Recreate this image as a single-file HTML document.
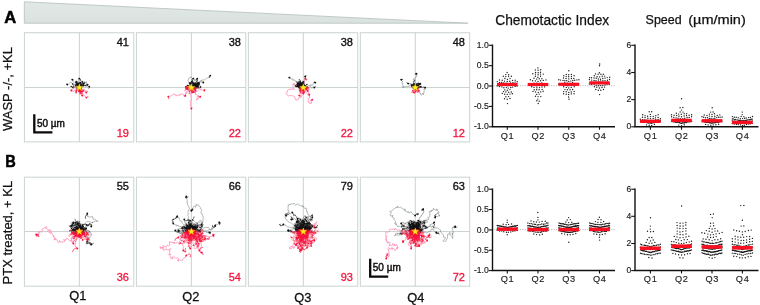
<!DOCTYPE html>
<html lang="en"><head><meta charset="utf-8"><title>Figure</title><style>html,body{margin:0;padding:0;background:#fff}svg{display:block}</style></head><body>
<svg width="760" height="305" viewBox="0 0 760 305" font-family="'Liberation Sans', Arial, sans-serif">
<rect width="760" height="305" fill="#fff"/>
<defs><linearGradient id="wg" x1="0" y1="0" x2="0" y2="1"><stop offset="0" stop-color="#e1e8e5"/><stop offset="1" stop-color="#dae2df"/></linearGradient></defs>
<polygon points="24.3,1.8 24.3,23.2 468,23.2" fill="url(#wg)" stroke="#b4bfbb" stroke-width="0.8" stroke-linejoin="round"/>
<text transform="translate(4.3,23.3) scale(1.0,1)" font-size="16.6" font-weight="bold" fill="#000" stroke="#000" stroke-width="0.55" stroke-linejoin="round">A</text>
<text transform="translate(5.2,167.4) scale(0.88,1)" font-size="16.6" font-weight="bold" fill="#000" stroke="#000" stroke-width="0.5" stroke-linejoin="round">B</text>
<text transform="translate(12.4,131) rotate(-90)" font-size="13" fill="#111" stroke="#111" stroke-width="0.25" textLength="84" lengthAdjust="spacingAndGlyphs">WASP -/-, +KL</text>
<text transform="translate(12.4,284.4) rotate(-90)" font-size="13" fill="#111" stroke="#111" stroke-width="0.25" textLength="103.5" lengthAdjust="spacingAndGlyphs">PTX treated, + KL</text>
<rect x="24.45" y="32.7" width="109.3" height="109.2" fill="#fff" stroke="#cfd8d5" stroke-width="1.1"/>
<path d="M79.35,32.7 V141.9 M24.45,87.55 H133.75" stroke="#c3cdc9" stroke-width="0.9" fill="none"/>
<g><path d="M79.2 87.8l-1-1-1.3-0.6 0-0.2-1-0.7-1.4-0.7-1.8 0 0.3-0.6-1.9-1.5-0.4 0.2-0.2-0.2-0.5 0.1-0.7 0.9-1.1 1.1 0 0.1-0.9-0.1M80.1 87.3l0.5-1.2 0.1-0.3-0.3-1.2 2-2.1-0.2 0 0.5 0.1 1.2-1.2 1.3 0.9 0.8 0.2 0.5-0.9-0.6 0.9 0.5 0-0.1 0.4 0.6 1.7 0.4 0M79.5 87.2l-0.9-0.4 0.9-1.6-0.6-1 0.4-1.1-0.7-1.3-0.8-0.2 1.4-1-1.2-1.2 1.6-1.2-0.3 0.4M79.6 87.6l1.3-0.8 0.2 0.5 1.3-1.4 1.4 0.8 0.3-1.8 1.2 0.8 0.9 1 0.6 0.1 0.9-0.8 1.6 0.6M79.3 87.7l-0.9-1.3-1.1-1-0.5-1.3-2.5-1.5-1-0.6-0.3-0.7 0.9-1.8-1.7 1 0.5-0.4-0.4-0.5" fill="none" stroke="#7d8683" stroke-width="0.55" stroke-linejoin="round" stroke-linecap="round"/><path d="M67.3 84.6l-0.3 0.1-0.2-0.3 0-0.7M87.3 84.6l1-0.1-0.5 0.8-1.2 0.2M79.3 78.6l1 0.5 0.4 1.2-0.1 0.5M89.3 86.6l0 0.8-0.2 0.5-0.3 0.3M72.3 79.6l-0.1 0.4 0-0.3 0.4 0" fill="none" stroke="#111" stroke-width="0.7" stroke-linejoin="round" stroke-linecap="round"/><path d="M67.3 84.6h0M87.3 84.6h0M79.3 78.6h0M89.3 86.6h0M72.3 79.6h0" fill="none" stroke="#111" stroke-width="1.8" stroke-linecap="round"/><path d="M79.2 87.4l0.5-0.4 0.2 2.7 0.1 0.2 1.4 1.3 0.7-0.5-0.5 1.3 0.9 1.3-1.3 0.6 1 0.4 0.4 0.3 1.9 0.5 0.1 1 0.6 0.2 1.3 1.2-0.2 0.1M79.5 87.9l-1.7-0.5 0.3 0.9-1.7 0.3 0.4 1.7-0.7-0.2-1.5-0.1-0.5 1.3-1.6 0 0.1-0.8-1.3 0.1M80.2 88.1l0.1 1.2-0.6-0.1 0.8 1.4-0.3 1.7 0-0.9 0.4 0.8 1 1.7-0.4 0.4 1.2 0.7-0.1 0.6M78.4 87l1 1.7 1.3 0 1.6 0.6 0.8 0.8 2.1 0.5-0.2 0.9 0.1-0.8 0.2 1.6-0.2-0.4 1.2 0.7" fill="none" stroke="#ff8fba" stroke-width="0.8" stroke-linejoin="round" stroke-linecap="round"/><path d="M86.3 97.6l0.9-1 0.4 0.3 0.5 0M71.3 90.6l0.1-0.5-0.3-0.3 1-0.4M82.3 95.6l-0.6-0.4 0.6-0.2-0.3 0.6M86.3 92.6l0.6-0.3 0.7-0.7-1-0.4" fill="none" stroke="#f5143c" stroke-width="0.7" stroke-linejoin="round" stroke-linecap="round"/><path d="M86.3 97.6h0M71.3 90.6h0M82.3 95.6h0M86.3 92.6h0" fill="none" stroke="#f5143c" stroke-width="1.8" stroke-linecap="round"/><path d="M79.3 87.6l-2.2-1.3-0.8 1.8-1.7-0.1-1-1.7M79.3 87.6l-1.6-0.8-1.3-0.3-2.9 0.1-2.3-0.2M79.3 87.6l-1.8-0.4 2.8-1.9-1.8 1.5-1.1-1.9-0.4-1.2M79.3 87.6l1-0.6 0.8-0.9 1.7-0.2-0.2 1.2 0.9-1.8M79.3 87.6l0.8-1.9 0.7 1.6-1.1 0.5 0.9-1.3M79.3 87.6l0.7 0.9 0-1.1 0.6 0 0.8-0.3M79.3 87.6l0.5-1.4-1 0.1 2.4-0.7 2.4-2.4-1-0.2M79.3 87.6l-0.8-0.1-0.6-1.1-1-2M79.3 87.6l-1-0.2-0.2-1.4 0.1-0.4 0.4-1.4-2.6 1.5-0.1-3.1M79.3 87.6l-0.2-0.2-2.2-2.2 0.3-0.6 0.7-1.5-1.1-1.2-0.7-0.4M79.3 87.6l0.4-0.9-0.3-0.7 0.7-0.5 0.1 0.6-1.5-2M79.3 87.6l1.5-0.7-1-0.1-0.1-3.1 1.3 0.2M79.3 87.6l1.6-0.2 0-2.1 0.3-0.3 2.6-1.7M79.3 87.6l-1.5-2.3-3.3-0.2 0.4-0.2-2.2-1M79.3 87.6l0.5-2.4 2 1.2 1.7-2.3M79.3 87.6l2.5-2.7 0.5 2 1.7-2.7 0.5-1.1M79.3 87.6l-0.6-1.7 0.1 0.5-0.5-1 0.7-1.1-1.2-0.6M79.3 87.6l-1.5 0.8-1 0-3.4-1.5 0.8 1-1.5-0.5M79.3 87.6l2.3-2.2 0 1.1 0.7 0.5 1.2-1.1 1.7-0.5M79.3 87.6l0.7-0.8 0.8-0.5 0.4 0.5-0.5 0.4 0.6-1.8M79.3 87.6l1.6-2.1 0.6-0.8 0.7-3.3M79.3 87.6l1.4 1-0.5-1.6 0.1 0.6 0.7-3.3 1.6 0.7" fill="none" stroke="#7d8683" stroke-width="0.4" stroke-linejoin="round" stroke-linecap="round"/><path d="M73.6 86.3h0M71.2 86.4h0M77 83.7h0M83.5 85.3h0M80.6 86.5h0M81.4 87.1h0M82.6 83h0M76.9 84.4h0M75.9 82.6h0M76.1 81.5h0M78.7 84.1h0M81 83.9h0M83.8 83.3h0M72.7 83.9h0M83.5 84.1h0M84.5 83.1h0M77.8 83.7h0M72.7 87.4h0M85.2 85.4h0M81.3 85.4h0M82.2 81.4h0M82.6 85h0" fill="none" stroke="#111" stroke-width="1.5" stroke-linecap="round"/><path d="M79.3 87.6l-0.9-0.6-0.6 0-0.4 0-0.8 0.2-0.1-0.7-0.1-0.9 0.3-0.3 0.5-0.6 0.4-0.9M79.3 87.6l-0.3-0.1 0.7-0.8 0.1-1.1-0.3 0-0.3 0.1-0.7 0.1M79.3 87.6l0.5-0.3 0.6-0.2 0.8-0.4 0.3-0.9-0.3-1.1-0.2-0.5 0-0.5-0.7-0.8-0.7-0.1 0.4-0.2 0.7-0.2M79.3 87.6l0.4-0.4 0.1-0.7 0.3-0.5 0.7-0.4 0.2-0.3M79.3 87.6l0.2-1.2-0.1-0.4-0.6-0.5-0.4 0-0.9 0.4-0.3-0.4-0.4 0.9M79.3 87.6l-0.6-0.3-0.6 0.1 0.2-0.4 0.6-0.3 0.1 0.9-0.2-0.4 0.6-0.7-0.5-0.8M79.3 87.6l-0.3-0.7-0.1-0.4 0.2-0.3 0.6-0.2 0.7-0.4 0.3-0.3 0.5-0.5-0.3-0.2-0.9 0.6-0.3 0.1 0.1-0.9-0.4 0.8-0.6 0 1-0.4M79.3 87.6l-0.7-0.3-0.6 0.7 0.1-1.2 0.9-0.1 0.2-0.5M79.3 87.6l0.5 0.9 0.1 0.1-0.9 0.4 0.2-0.6-0.3-0.3-0.7 0.3 0.1 0.9-0.8-0.1-0.8-0.7 0-0.5 0.8-0.8 0.3-0.3M79.3 87.6l0.2-0.7-0.3-0.2-0.2 0-0.1-0.4 0.5-1.1 0.2-0.4 0.1-0.8 0.1-0.3 0.7-0.9M79.3 87.6l-0.4-0.1-1-0.4-0.4 0-0.8-0.7-0.9-0.7M79.3 87.6l-0.1-0.5 0.5-0.9 0-0.9-0.6 0-0.4 0.8-0.3 0-0.5 0.1-0.4 0" fill="none" stroke="#111" stroke-width="0.4" stroke-linejoin="round" stroke-linecap="round"/><path d="M77.6 83.8l0.6-0.3-0.3 0.1-0.6 0-0.2-0.1-0.6-0.5 0.4-1 0.2-0.5-0.7-0.2M78.5 85.8l-0.4-0.2-0.1-0.8-0.1-0.3-0.6-0.3M80.7 82.4l-0.5 0.3-0.3-0.2 0 0.3-1 0.2-0.9-0.4-1.1 0.2-0.4-0.3 0.4-0.8M81 85.3l0 0.6 0 0.2 0.5 0.5 0.6-0.7 0.7-0.5 0.7 0.3M76.8 86.4l-0.4 0.9 0.3-0.4 0.8 0.1 0.8-0.2 0.6-0.7M78.9 85.7l0.5-0.6-0.3-0.4-0.4 0.4-0.8-0.2-0.1 0.3-0.5 0.6M79.8 84.8l-0.6-0.8-0.7 0.1-0.8 0.2-0.3-1-1.1-0.1M79.2 86.2l-0.5 0.9-0.4 0.1-0.3 0 0.2-0.2 0.2-0.5 0.4-0.3M77.8 86.9l0.6 0.2 0.6-0.8-0.4-1 0.3 0.6 0.5 0.5 0.2 0.2M80.5 82.8l-0.9 0-0.8 0.5-0.6 0.3 0.5 0.1 1 0.3 0.8 0.6M75.8 85.7l-0.4-0.9 0.8-0.7-0.4 0.6 0.7 0M77.5 86.2l0.3 0.3-0.6 0.1 0.8 0.4 0.8-0.1 0.2-0.4 1 0.2 0.1-0.3-0.6 0.2" fill="none" stroke="#111" stroke-width="0.65" stroke-linejoin="round" stroke-linecap="round"/><path d="M77.6 83.8h0M78.5 85.8h0M80.7 82.4h0M81 85.3h0M76.8 86.4h0M78.9 85.7h0M79.8 84.8h0M79.2 86.2h0M77.8 86.9h0M80.5 82.8h0M75.8 85.7h0M77.5 86.2h0" fill="none" stroke="#111" stroke-width="1.4" stroke-linecap="round"/><path d="M79.3 87.6l-1.1-0.1-0.7 3.1-0.2-1.4-1.4 1.8M79.3 87.6l0.3 2.8-1.5-1.6-0.2 1.2-2.7 2.4 1.1-0.7M79.3 87.6l0.1 1 0.8 0.3-0.3 1.7M79.3 87.6l0.1-1.6-0.8 2.3 1.1-1.1 0.2 2.3 0-1.1M79.3 87.6l-1.2 2.3 0.3 0.7-1.2-0.4-1.1 2.6M79.3 87.6l1.4-0.5-1.1 2.1 1.1-0.9-0.2 2.7-0.1 1.6-0.1-0.5M79.3 87.6l-0.7 0.8 2.1 0.2-1.7 2.9 2.3 1-0.9 0.7 1.5 0.1M79.3 87.6l1.8 1.1-2.3-1.4 0.6 1 0.2 1.2 0.4-0.5M79.3 87.6l-0.7-1.5-1.8 0.8-0.9 0.5 0.3 0.1-2.7-1 0 1.2M79.3 87.6l0.8 0.4 0.2 0.4 2.3 2.1-0.6 1.2M79.3 87.6l-0.8 0.2 0.1 0.5-1.2 1.5 0.5 0.3-1.4-0.1M79.3 87.6l0.5 1.6-1.5 0.4 0.7 2M79.3 87.6l1.1 2.9-1.7-0.8 0.4 1 1 3M79.3 87.6l2.2 0.4 0.5 2.4 1.4 0.5" fill="none" stroke="#ff8fba" stroke-width="0.4" stroke-linejoin="round" stroke-linecap="round"/><path d="M75.9 91h0M76.3 91.7h0M79.9 90.6h0M79.9 88.4h0M76.1 92.8h0M80.3 92.1h0M81.9 93.3h0M80 89h0M73.5 87.7h0M82 91.7h0M76.5 90h0M79 91.6h0M80.1 93.7h0M83.4 90.9h0" fill="none" stroke="#f5143c" stroke-width="1.5" stroke-linecap="round"/><path d="M79.3 87.6l0.2 0.7 0.3 0.6 0.3 0.9 0.1 0.7 0 0.7M79.3 87.6l-0.8-0.4-0.2 0-0.4-0.4-0.2 0.7 0.6 0.6 0 0.8 0.9 0 0.8-0.2 0.7-0.1 0.1 0.5 0.3 1 0.4 0.7 0.8 0.8M79.3 87.6l-0.3 0.8-0.7 0.2 0.1-0.2-0.3-0.4 0.3-0.7 0.6 0.2 0 0.9 0.4 0.5 1 0.1-0.2 0.8 0.3 0.6M79.3 87.6l-0.1 1.1 0.8 0.5 0.5 0.4 0.5 0.4 0.3-0.8-0.1-0.1 0.2-0.8-0.7 0.1M79.3 87.6l0.3 0.8 0.1 0.7-1 0.4 0.5 0.7-0.2 0.2 0 0.6M79.3 87.6l-0.1 0.8 0 0.8 0.3 0.1 0.5 0 0.9 0.1M79.3 87.6l-0.2 0.2 0 0.5 0.3 0.3 0.8-0.6-0.3-0.6-0.1-0.9 0.1-0.5 0.2 0 0.2 0.5-0.4 0.6 0.2 0.1 0.1 1.1 0.3 0.3 0 0.6M79.3 87.6l0.9 0.5 0.2-0.1-1 0.3-0.5 0.3 0.2 0.6-0.4 0.7-0.7 0.1-0.2 0 0.6-0.6 0.2 1.1 1 0.2 0.1-1 0.4 0.2 0.8 0.4" fill="none" stroke="#f5143c" stroke-width="0.4" stroke-linejoin="round" stroke-linecap="round"/><path d="M80.2 91.2l-0.8-0.1 0 0.8 0.8-0.2 0.6 0.2-0.8 0.5-0.2-0.1-0.6-0.8 0.6-0.1M82.3 91.6l0.4-1 0.5-0.9 0.4-0.5 0.4-0.1M80.5 90.4l-0.5 0.6 1-0.1 0.4-0.1 0.8-0.4M80.7 88.4l0.8 0.4 0.1-0.7-0.7 0.2-0.4 0.4-1.1 0.2 0.5 0.2M79 91l0.6 0 0.5-0.3-0.1 1.1 0.2-0.4 0.6 0M80.9 89.4l-0.4-0.3-0.5 0.1-0.1-0.4 0.3-0.3 0.2 0.2-0.8 0.4-1 0.3-0.4-0.1M80.5 89.2l0.5 0.6-0.3 1.1 0.8 0.6-0.2 0.5-0.9 0.4M80.9 90.3l-0.2-0.3-0.3-0.1 0-0.3 0.1-0.3-0.1-0.3 0.5-1" fill="none" stroke="#f5143c" stroke-width="0.65" stroke-linejoin="round" stroke-linecap="round"/><path d="M80.2 91.2h0M82.3 91.6h0M80.5 90.4h0M80.7 88.4h0M79 91h0M80.9 89.4h0M80.5 89.2h0M80.9 90.3h0" fill="none" stroke="#f5143c" stroke-width="1.4" stroke-linecap="round"/></g>
<polygon points="79.35,83.85 80.26,86.29 82.87,86.41 80.83,88.03 81.52,90.54 79.35,89.10 77.18,90.54 77.87,88.03 75.83,86.41 78.44,86.29" fill="#ffee10" stroke="#e8c800" stroke-width="0.3"/>
<text x="128.9" y="46.3" font-size="11" text-anchor="end" fill="#111" stroke="#111" stroke-width="0.35">41</text>
<text x="128.9" y="136.5" font-size="11" text-anchor="end" fill="#f5143c" stroke="#f5143c" stroke-width="0.3">19</text>
<rect x="136.45" y="32.7" width="109.3" height="109.2" fill="#fff" stroke="#cfd8d5" stroke-width="1.1"/>
<path d="M191.35,32.7 V141.9 M136.45,87.55 H245.75" stroke="#c3cdc9" stroke-width="0.9" fill="none"/>
<g><path d="M192.3 87l0.6 0.1 0.9-1.4-0.5-0.6 2.6-1.1 0.3 0.4 1.1-1.9 0.3 0.1 1.8-0.4 0.5-1.2 1.8-0.7-0.3 0 2.4-0.5 0.8 0.1 1.2-1 0.8-0.5 1-0.6 0.2-0.1 1.2-1.2 0.6-0.3 0.7-0.6M190.9 86.1l-0.3-0.3-1.5-1.3 0.8-0.3-0.7-1.8-1.1-0.7 0.3-0.3-0.5-1.1 1-1.6-0.3-0.5 0.3-0.2 1.6-0.5 0.4-0.8 1.8 2 0.6-0.5 0 0.4M190.7 87.4l1.8-0.5 1.2-2.1 0.9 1.2 0.7-1.1 1.6-0.2 1.2 0.2-0.2-0.4 1-2 0.2 0.8 2.2-2.5 0 1 0.6-0.1-0.2 0.4 0.7-0.1 0.9 0.6M190.9 87.9l1.2-2.2 0.8-1.6-0.7-0.6 1.8-2 0.6-0.8-0.7-1.2 1.2 0.2 0.8-0.7 1.2 0.3 0.2-0.7" fill="none" stroke="#7d8683" stroke-width="0.55" stroke-linejoin="round" stroke-linecap="round"/><path d="M210.3 75.6l-0.6 0.6 0 0.8-0.6 0.8M193.3 78.6l-1 0.4-0.4 0.4 0.2 0.6M203.3 82.6l0.2-0.8-0.3 0-0.2 0.1M197.3 78.6l-0.1 0.9 0.4 1.1-0.7 0.4" fill="none" stroke="#111" stroke-width="0.7" stroke-linejoin="round" stroke-linecap="round"/><path d="M210.3 75.6h0M193.3 78.6h0M203.3 82.6h0M197.3 78.6h0" fill="none" stroke="#111" stroke-width="1.8" stroke-linecap="round"/><path d="M192 87.4l-2.4 0.8 0.4 2-1.2-0.2-0.9 0.7-1.2 0.5-0.1 0.6-0.4 1.8-0.8 0.3 0 1.4-1 1.3-0.3-0.6-0.9-1.3 0.1-0.7-1.6 0.1-0.1 0.1-0.7 0.2-1.3-0.1 0.4 1-2.4-0.1-1.1 0.7-0.4-1.2-0.6 0.3-0.5 0.4-0.2-0.5-0.7-1.3-1.4 1.5-1.4 0.2-0.9 0.9-1-0.2-1.1 0.6M191.4 87l-0.1 1.7 0.7 1.4-1.3 0.7-0.8 1.1 0.2 1 0.9 2.8-0.1 0.5 0.2 0.9 0.1 1.6-0.2 0.6 0.5 1.6-0.9-0.1-0.9 0.8 1.4 1.5-0.9 1 0.4 0.9 0.3 2 0.2 0 0.3 1-0.1 0.6M191.5 88l0.4-0.1 1.3 1.8 1.4 1.2 0.2-1.2 2.2 1.8-1.3 0.2 1.8-1.1 1-0.3 1.1-1.1 1.6 0.9-0.1-1.2 1.6 1.2 0.1 0.1 0.6-0.6 0.9 1M190.9 87.8l2 1.3 0.3 1.1 0.1 0.4 2 1.1 0.2 1.2-0.3 1.7 1.2 0 1.4 1-1 1.9 1.7-2.1-0.2 1.9-0.5 1.8-1 0.2-0.2 0.8-0.5-0.1 0.6-1 1 0.4 1.3-1.9 0.1 0.5 1.2-1.4M191.6 87.5l-1.2 0.3-0.2 1.2-2.5 1.2 0.4 1.2-1.3 1.3-0.6 0 0.2 0.8-0.7-0.9-0.4 2.1 0 0.9" fill="none" stroke="#ff8fba" stroke-width="0.8" stroke-linejoin="round" stroke-linecap="round"/><path d="M168.3 96.6l0.4 0.1 0.1 0.9 0 1.1M191.3 108.6l0.8 0.3-0.3-0.4 0-0.7M204.3 90.6l0.4-1.2 0.3-0.1-0.4 1M200.3 96.6l0.6 0.5-0.8-0.5-0.8 0M185.3 95.6l0.3 0.6-0.3-0.5-0.3 1" fill="none" stroke="#f5143c" stroke-width="0.7" stroke-linejoin="round" stroke-linecap="round"/><path d="M168.3 96.6h0M191.3 108.6h0M204.3 90.6h0M200.3 96.6h0M185.3 95.6h0" fill="none" stroke="#f5143c" stroke-width="1.8" stroke-linecap="round"/><path d="M191.3 87.6l0-0.8-1.1-1.5-0.5-1.6-0.3-0.8M191.3 87.6l-0.8-0.7-0.7 0.6-1.1 0.5-0.9-1.2-2 0.2M191.3 87.6l-0.1-1.7-0.4-1 2.4-0.7-0.4-0.9-0.3-2.4M191.3 87.6l-0.5-0.9-1 0.4-1.1-0.8-1.3-0.9M191.3 87.6l1.5 0-0.2-0.8 0.1-1.7-0.1-0.9 1.3-0.7M191.3 87.6l0.2-2-0.9 0.5 0.4-2.3 1.1-1.1-0.5-1.3M191.3 87.6l1.3-1.1 0.7-1 0.2-0.1-0.3-0.3M191.3 87.6l-0.7-1.6-2.4-0.1 0.1-0.1M191.3 87.6l-0.6-0.2 1.1-0.2 0.4-3.1 0.4 1.8-1.2-1.1M191.3 87.6l1.2 1 1.1-1 0.3 1.7 1.2-1.5 1.9-0.8-0.2 0M191.3 87.6l-0.2-2.1-0.4 0.6 0.7-1.6-1.1-0.2 0-1.4M191.3 87.6l0-1.2 0.4-0.5-1-0.6 1-1.6-1.3-0.6M191.3 87.6l-0.6-0.8 0.4-0.7-1.2-0.6 0.3-2.3M191.3 87.6l0.9-1.8-1.3 0.4-1.5-1.8 1.1 0.2-0.7 0.7 1.2-1.2M191.3 87.6l-1.5-2.4-2.7 2.1-1.2-0.6M191.3 87.6l-0.4-1.9-0.9-1.3-0.3-1" fill="none" stroke="#7d8683" stroke-width="0.4" stroke-linejoin="round" stroke-linecap="round"/><path d="M189.4 82.9h0M185.8 87h0M192.5 80.9h0M187.4 85.4h0M193.9 83.5h0M191.6 81.4h0M193.2 85.1h0M188.3 85.8h0M191.4 84.8h0M196.8 87h0M190.3 82.9h0M190.4 83.1h0M190.2 83.2h0M191 84.1h0M185.9 86.7h0M189.7 83.4h0" fill="none" stroke="#111" stroke-width="1.5" stroke-linecap="round"/><path d="M194.3 87.6l0.7-0.7-0.2-1.1 0.7-0.2 0.4-0.3 0.4 0.3M194.3 87.6l-0.3-0.2-0.3-0.8-0.4-0.7 0.5-1 0.9 0.2 0.4 0.4 0.1 0.6-0.9 0.1-0.3-0.5M194.3 87.6l1-0.4 0.5 0 1 0.3 0.6-0.2 0.4-1 0.4 0 0.8-0.5 0.8-0.5 0.7 0.7 0.1 1M194.3 87.6l-0.6-0.3-0.2-0.3 0-0.4 0.3-1 0.3-0.7 0.2-0.5 0.2-0.8 0.3-0.1 0.5-0.2 0.6 0 0.8-0.2 1-0.1 0.7-0.6 0.7 0.5M194.3 87.6l1.1-0.1 0.7-0.5 0.5-0.9 0.2-0.9 0.3-0.9-0.7-0.3-0.6 0-0.2 0.3-0.3 0.6-1-0.5 0-0.5-0.8-0.9-1.1-0.1M194.3 87.6l0.3 0.2 0.5-0.3-0.6-0.2-0.4-0.2 0.7-0.5 0.2-0.5 0.2-0.2 0.3-0.1 0.3-0.7 0.3-0.5 0.7 0.4 0.5 0.4 0.7-1M194.3 87.6l-0.7-0.5 0.1-0.3 0.7-0.6-0.1-0.9 0.4-0.6 0-0.8-0.5-0.4-0.6 0M194.3 87.6l-0.7-0.2-0.8-0.5-0.5-0.3-0.5-0.4-0.3-0.9 0.2-0.5 1 0.3 0.3 0.9 0.5-0.1 0.1-0.7 0.6 0 0.6-0.1 0.4-0.8M194.3 87.6l-0.4-0.8 0.6-0.9-0.1-0.8 0.7-0.9 0.9 0.2M194.3 87.6l-0.1 0.1 0.1 0.9 0 0.1-0.3 0.6-0.9 0.1-0.6-0.2-0.2-0.6 0.7-0.3 0.2 0.2 0.2-0.5 0.2-0.7 0.4-0.5M194.3 87.6l-0.2 0.1-0.1 0.3 0.1 0.3 0.2 1.1 0.8 0 0.1-0.5 0.4-0.9 0.3-0.2 0.4 0.8-0.7 0.2-0.1-1-0.1-0.4 0.3-0.9M194.3 87.6l-0.1-1 0.1-0.4 0.3-0.5-0.1-0.8-0.3-0.4 0.6-1.1-0.2-0.4 1-0.3 0.2 0.1 0.4 0.3 0.7 0.1 0.4-0.2M194.3 87.6l-0.1 0.7 0.6-0.2 0.4-0.1 0.5-0.5 0.6-0.3 0.6-0.3 0.8-0.7M194.3 87.6l0.3-0.7-0.1-0.7-0.1-0.4-0.6-0.1-0.5 0.1-0.2 0.2-0.5 0.2-0.9-0.5M194.3 87.6l0.4 0 0.8-0.7 0-0.4-1-0.1 0.5-0.8-0.3-1 0.1-0.7-0.9-0.5-0.3-0.4-0.4 0.9 0.2-0.3M194.3 87.6l0.1 0.2 0.5 0.1 0.2-0.8 0.3-0.1-0.3-0.7 0.2-1 0.1-0.7-0.3-0.4-0.4-0.1-0.2 0.7-0.5-0.3M194.3 87.6l0.8-0.8 0.8-0.3 0.6 0.4 1.1-0.1-0.4 0-0.8 0.2-0.2-0.2 0-0.4 0.9-0.5 0.4-0.4M194.3 87.6l0.8-0.4 0.6-0.5 0.7-0.7 0.6-0.9 0.5-0.2 0.6 0.3 0 0.5-1 0.3-0.9 0.4-0.5 0.2-0.6-0.4M194.3 87.6l0.7-0.9-0.1-0.7 0.6-0.9 0.3-0.1 0.5-0.1 0.3-0.3 0.6-1 1.1-0.1 0.9 0.4 0.1 0.2M194.3 87.6l-0.7-0.3-0.8-0.4-0.9-0.4-0.1-0.7-0.3-0.4 0.8-0.6 0.2 0.7-0.1 0.5-0.4 0.2M194.3 87.6l0-0.8 0.6-0.1 0.4-0.5 0.4-0.2 0.4-1.1-0.7-0.6M194.3 87.6l0.6-1 0.9 0.4 0.7-0.6 0.9-0.2 0.7-0.6 0.1-0.3-0.2-0.8 0.1-0.4" fill="none" stroke="#111" stroke-width="0.4" stroke-linejoin="round" stroke-linecap="round"/><path d="M196.3 85.6l0.7 0.8 0.4 0.1 0.5 0.1-0.1-0.5 0-0.6 0.4 0.4 0.2 0.1-0.2 0.2M194 85.7l-0.9-0.2 0.6-0.3 0.2-0.7-0.4-0.3 0.2-0.5M200.6 87l-0.1 0.8-0.9 0-0.6 0.1-0.6-0.1-1 0.2-0.3 0.1-0.2-0.3-0.4-0.2M199.1 82.9l-0.9-0.5-0.4-0.4-0.7-0.4-0.8 0.2-0.2-1 0-0.4 0.2-0.7 0.5-0.3M192.4 82.9l-0.6 0.4-0.4 0 0-0.4-0.3-0.3-0.2-0.3 0.2 0.1 1 0.5 0.5-0.4M198 84.4l-0.1 0.5-0.3-0.5 0.6 0.1 0.9-0.7 0.2 0-0.4-0.1M193.6 83.5l0.1-0.4-0.6 0.1 0.4 0.7 0.7-0.3 0.6 0.6 0.7-0.2-0.1 0.4 0.7 0.8M195.2 84.3l-0.5 0.3-1.1 0.4-0.4 0.5 0.8 0.5 0.7 0.5 0.5-0.2 0.1-0.5 0-0.6M196 84.4l-0.2-0.4 0.1-0.7-0.2-0.5 0.4 0.7-1 0.1-0.1-1M194 86.8l-0.7 0.6-0.6 0.1-0.2 0.2 0.2 0.4M195.7 86.5l0.3-0.2 0.7 0-0.5-0.4-0.2-0.2 0-0.4M197.3 83l0 0.6-0.3 0.1 0.1 0.4-0.8-0.1-0.6 0.3-0.2 0.1-1.1-0.1M197.7 86.2l0.6 0.6 0.3 1-0.3 0.5-0.5-0.5M191.7 85.7l0.2-0.2 0.4-0.1-0.7-0.5 0-1M193.4 83.6l-0.7-0.7-0.4-0.6 1-0.1-1 0.3 0.1 0.3 0.7 0.3M194 84.5l0.2 0.6-0.2-0.7-0.3-0.8 0.4-0.4M197.5 85.5l0.7 0.5 0.8 0.2-0.2 0.4-0.4-0.5-0.4 0.2-0.4 0.3M195.1 86.2l-0.2-0.7 0.4 0.1 0.9 0.1-0.3 0.5-0.2 0.2-0.1-0.6-0.8-0.8M199.3 84.1l-0.4-0.3 0.2-0.5 0.3-0.2-0.7-0.7-0.5 0.2 0.1 0.4M192 86.2l0.1-0.3-0.8 0.4 0.6 0.7-0.1 0.4M195.4 84.3l0.5 0.3-0.3 0.6-0.9 0.5 0 0.6 0.7-0.2 0.8-0.6M198.1 84.1l0.4 0.4-0.2-0.3-0.3 0.2-0.2 1-0.1 0.4" fill="none" stroke="#111" stroke-width="0.65" stroke-linejoin="round" stroke-linecap="round"/><path d="M196.3 85.6h0M194 85.7h0M200.6 87h0M199.1 82.9h0M192.4 82.9h0M198 84.4h0M193.6 83.5h0M195.2 84.3h0M196 84.4h0M194 86.8h0M195.7 86.5h0M197.3 83h0M197.7 86.2h0M191.7 85.7h0M193.4 83.6h0M194 84.5h0M197.5 85.5h0M195.1 86.2h0M199.3 84.1h0M192 86.2h0M195.4 84.3h0M198.1 84.1h0" fill="none" stroke="#111" stroke-width="1.4" stroke-linecap="round"/><path d="M191.3 87.6l-0.8 1.2 1.2 0.3 0.2 0.7 0.1 2.3-0.5 0.4 0.5 0.2M191.3 87.6l-0.4-0.1-2.4 2.6 0.7-0.9M191.3 87.6l2.1 0.1-0.2 0.1 0.2 0.4-0.1 0.3-0.2 0.5 1.8-0.2M191.3 87.6l1.8 1.1 0-0.2-0.8-1.1 0 1.2 0.1-0.7 0.2 1.9M191.3 87.6l3.4 0.2-0.1-1.1 1.9 1.2M191.3 87.6l1.2 1.1 1.7-1.1-0.7 1.5 1.5 0.6 0.5 0.2M191.3 87.6l-0.8 0.3-2.3-0.7-0.1 1 0.4-0.3-2.9-0.2M191.3 87.6l-1 0.2 0.7 0.7-1.8-0.9 0.3-1.9-0.3 2.8-1.8-0.7M191.3 87.6l-2.2 0.4 0.3 0.7-0.6-0.7-0.9 1.4-1.9-0.4M191.3 87.6l-0.2-0.9 1 3.4 1.1-2.1-1.6 1.7 1.1 0.9-0.7 1.5M191.3 87.6l0.5 0.5 0.4 0.6 0.6 4.1 0.4-0.6M191.3 87.6l-0.8 0.5 0.9 1.5-0.6 1 0.9 0.7" fill="none" stroke="#ff8fba" stroke-width="0.4" stroke-linejoin="round" stroke-linecap="round"/><path d="M192 92.7h0M189.2 89.2h0M194.9 88.8h0M192.6 89.8h0M196.5 87.9h0M195.5 89.9h0M185.6 87.7h0M187.4 87.8h0M186 89h0M192 92.1h0M193.2 92.2h0M191.7 91.3h0" fill="none" stroke="#f5143c" stroke-width="1.5" stroke-linecap="round"/><path d="M191.3 87.6l-0.2 0.9 0.2 0.4 0.4 0.6 0.3 0.9 0.7 0.5 0.4-0.5-0.3 0.3 0.2 0.3 0.3 0.4M191.3 87.6l0 0.3-0.4 0.2 0-0.4-0.9 0.2-0.9-0.2 0.2 0.7-0.5 0.3-0.4-0.5-1.1 0.1-0.2-0.2M191.3 87.6l0.7 0.1 0.5 0.5 0.8 0.3-0.1 1.1-0.1-0.8-0.4-0.1-0.4-0.2-0.3-0.2-0.5 0M191.3 87.6l1.1 0.2 0.6 1 0.4 0.1 0.2 0.7 0.2 0.4 0.9 0.2-0.1 0.5 0.9 0.1M191.3 87.6l0.4 0.3 0.5 0.6 0.7-0.1 1-0.2 0.2 0.3 0.4 0.1 0.5 0.1 0.3 0.6M191.3 87.6l-0.8 0.7-0.3 0.4 0.6 0.9 0.2 0.7-0.4 0.2-0.9 0.5M191.3 87.6l-0.6 0.1-0.1 0.4-0.1 0.8 0.2 1.1-1 0.6-0.8-0.1-0.3-0.2-0.8-0.4-0.7-0.5M191.3 87.6l-0.9 0-0.8 0-0.6-0.4-0.4-0.6 0-0.3-0.2-0.3-0.6-0.2 0 0.3 0.1 0.9-0.1 0.9-0.7 0.5 0.4 0.3" fill="none" stroke="#f5143c" stroke-width="0.4" stroke-linejoin="round" stroke-linecap="round"/><path d="M193.3 91.4l0.4 0.2-0.1 0.7 0.4 0.1 0.3 0M187.1 88.1l1-0.3 0.3-1.1-0.5 0.7-0.3 0.7-0.8 0.7 0.3-0.8-0.4-1 0-0.8M191.5 88.3l-0.9 0.3-0.4 0.1-0.1 0.9 0.4-0.1 1 0.4 0.4 0.5M195.5 90.8l-0.1 0.5-0.5 0.2-0.2 1 0.3 0.1M195.3 89.3l0.4 0.6-0.9-0.3 0.3 0.1 1-0.5M189.7 91l-0.6 0.9 0.5 0.8-0.3 0.5-0.4 0.7 0.4-0.1M187.1 89.4l-0.8-0.8 0.2 0.5-0.3 0.1-0.6 0.8-0.3 0.4-0.4 0.2M187.5 88.7l-0.7-0.7-0.2-0.7 0-0.5-0.5-0.7-0.2 0.9 0.5 0.2" fill="none" stroke="#f5143c" stroke-width="0.65" stroke-linejoin="round" stroke-linecap="round"/><path d="M193.3 91.4h0M187.1 88.1h0M191.5 88.3h0M195.5 90.8h0M195.3 89.3h0M189.7 91h0M187.1 89.4h0M187.5 88.7h0" fill="none" stroke="#f5143c" stroke-width="1.4" stroke-linecap="round"/></g>
<polygon points="191.35,83.85 192.26,86.29 194.87,86.41 192.83,88.03 193.52,90.54 191.35,89.10 189.18,90.54 189.87,88.03 187.83,86.41 190.44,86.29" fill="#ffee10" stroke="#e8c800" stroke-width="0.3"/>
<text x="240.9" y="46.3" font-size="11" text-anchor="end" fill="#111" stroke="#111" stroke-width="0.35">38</text>
<text x="240.9" y="136.5" font-size="11" text-anchor="end" fill="#f5143c" stroke="#f5143c" stroke-width="0.3">22</text>
<rect x="248.4" y="32.7" width="109.3" height="109.2" fill="#fff" stroke="#cfd8d5" stroke-width="1.1"/>
<path d="M303.30,32.7 V141.9 M248.4,87.55 H357.7" stroke="#c3cdc9" stroke-width="0.9" fill="none"/>
<g><path d="M303.7 87.6l-1.8-1.2-0.2-0.8-1.1-1.3-1.6-0.3-0.6-1.3-1.9-0.2-0.8-1.6-0.3 0.5-0.8-1.6-1.7 0.6 0-1.8-1.2 0.9-1.7-1.8 0.5-0.6-1.2 0.5M304 88.3l0.1-2.2 0.3-0.7 0.2-1.3-0.1-1.9-0.5-0.1 1-0.9-0.5-2.4 1.5 0-1.2-1.8 0.5-0.4M303.8 87.4l0.2 0.2 1.4-1.1 1.4 1 0.9-1.6 1.1-0.3 1.6 0.1-0.3-0.8 1.8 0.2-0.2 0.2 1.3-0.3 0.3-0.8 0.7-1.4 0.4 0.1-0.8-0.3 1.7 0M303.4 88l1.4-1 1.4 0.2 1.7-0.3 0.6 0.8 2.2-1.3 0.9 1.7 1.8-0.9 0.1-0.7 0.8 1.1" fill="none" stroke="#7d8683" stroke-width="0.55" stroke-linejoin="round" stroke-linecap="round"/><path d="M289.3 77.6l-0.4-0.5 0.4 0.1 0.7 0.9M305.3 76.6l-0.9-0.2 0.6-0.3 1-0.4M315.3 82.6l-0.9-0.7-0.3 0.1 0.1 0.2M314.3 87.6l0.8-0.4 0-0.3 0.1-0.4" fill="none" stroke="#111" stroke-width="0.7" stroke-linejoin="round" stroke-linecap="round"/><path d="M289.3 77.6h0M305.3 76.6h0M315.3 82.6h0M314.3 87.6h0" fill="none" stroke="#111" stroke-width="1.8" stroke-linecap="round"/><path d="M303.1 87.3l-0.4-0.6-1.3-0.5-1.4-0.6-2.2 0.6-0.1-1.4-0.8-0.3-2.2 0.6-0.1-2.2-0.8 1.1-1.4 0.7 0.9-0.7 0.5 1.5-0.9 1 0.7 1.3 0.8 1.6-1.8-0.2-0.2-0.7-1.5 1.6-0.3-1-1.6 0-0.2 0.4-1.5 0.9 0 0.4 0.4 1.1-1.9 1.2 0.8 1.3 0.9 0.2 0.8 1.6 0.5-0.4 0.8-0.4 0.2 0.4 0.3 0 1.1-0.5 1.5 0.7 0.6-0.1 0.6 0.3 1.2 0.9-0.2 1 0.1 1.1 1.5 1.1 0.3-0.8 1.7-0.3 0.4-1.6 2-1-0.7 0.1 0.7 1.1 0.7-2.2 0.2 0.1 0-1.3 1.5-0.8M302.2 87.5l2.2 0.4 0 1.3 0.4 1.4 1 1.2 0.4 0.8 1.2 1.3-0.2 0 1 1.7 1.3 0.4 0.2-0.5-0.4 2.8-1.2 0.2 0.2 0.7-0.1 2.3-0.1-0.1 0.2 0.9-0.1-0.1 1.2 0.1-0.3 0.8 2.2 0.5 0.1-1.6-0.8-0.2 0.8-0.4 0.6-0.4 0.3-1.4M303.7 87.2l-0.6-0.2 1.1-1.2 0-2.1 0.4-0.1-1-1.4 1-1 0-0.8 0.3-0.2 0.7-1-0.3-0.6M302.4 87.8l0.2 0.7-0.4 0.5-1.5 1.5-0.3-0.1-0.3 2-0.5 0.1 1.1 1.3-1.5 0-0.1 1.4 0.2 0.4M303 88.7l0.3-1 1 1.1 1.5 1.1 0.7 0 0.5 1.1 1.8 1.4-0.4-0.1-0.3 1.1 0.7 0.6 0.5 0.6" fill="none" stroke="#ff8fba" stroke-width="0.8" stroke-linejoin="round" stroke-linecap="round"/><path d="M303.3 93.6l-0.4-1.1 0.3-0.2 0.2 0.3M312.3 99.6l0 0.4-1.2 0.2-0.2 0.5M305.3 78.6l0.5 0.8 1.1-0.2-0.2 0.9M299.3 95.6l-0.2-0.4 0.7 0.4 0.4-0.1M309.3 94.6l-0.1-0.9 0 0.5 0 0.8" fill="none" stroke="#f5143c" stroke-width="0.7" stroke-linejoin="round" stroke-linecap="round"/><path d="M303.3 93.6h0M312.3 99.6h0M305.3 78.6h0M299.3 95.6h0M309.3 94.6h0" fill="none" stroke="#f5143c" stroke-width="1.8" stroke-linecap="round"/><path d="M303.3 87.6l-1.3-0.7-1.5 0.5-1.4-0.4M303.3 87.6l0.5 0-3.1-1.7-0.6-2.7-1.1 0.7M303.3 87.6l-1-0.3-0.6-0.4-2.9-0.9-1.1-0.1M303.3 87.6l-1.2-0.7 0.2-0.7 2.1-2-3-0.5M303.3 87.6l-0.6 0.1 2.7-1.4-2.3 0.1 2.9 0.4-0.4-0.3M303.3 87.6l-1-1 0.1 0.1-0.9-1.6-0.6-0.7M303.3 87.6l-1.2-0.7-0.5 1.6 3.5-1.7-2.3 0 0.5 0.4M303.3 87.6l-2.5 0.7-1.6-0.5-1.8-1.6M303.3 87.6l0.9-0.7-0.1-0.7-0.7-1.3M303.3 87.6l1.2 0.9-2.5-0.6 1 0.7 0-1.3M303.3 87.6l0.1-1.6-1-0.6-0.4-1.3 1.4-0.8M303.3 87.6l0.3-0.6 1.1-1.1 0.7-0.4 1.8-0.5-0.3-0.5M303.3 87.6l-0.6-0.7 0.9 0-1.2-1.8-0.9-0.3M303.3 87.6l1-1.4 1.2 0.5 1.4 1.8 0.1-1.6" fill="none" stroke="#7d8683" stroke-width="0.4" stroke-linejoin="round" stroke-linecap="round"/><path d="M299.1 87h0M299 83.9h0M297.7 85.9h0M301.4 83.7h0M305.6 86.5h0M300.9 84.4h0M303.3 87.2h0M297.4 86.2h0M303.4 84.9h0M303 87.3h0M303.4 83.3h0M306.9 84.5h0M301.5 84.8h0M307 86.9h0" fill="none" stroke="#111" stroke-width="1.5" stroke-linecap="round"/><path d="M300.3 87.6l0.5-0.6 0.1-0.6-0.1-0.8 0.7-1 1-0.4 0.8 0.6 0.8-0.1 0.5 0.8M300.3 87.6l-0.9-0.8-1.1-0.3-0.6 0.5 0.7 0.2 0.5-0.2 0.6-1-0.1-0.5 0.1-0.3 0.2-0.8 0.1-0.3M300.3 87.6l-0.8-0.2 0.3-1.2 0.3-0.3 0.4-0.3 0.1-0.7-1-0.5 0.4 0.8 0.4-0.1 0.5-0.9-0.5-1.1-0.3-0.5M300.3 87.6l-0.6-0.7-0.6-0.7 0-0.3 0.4-0.7 0.3-0.8-0.3-0.5-0.8-0.7M300.3 87.6l-0.9-0.6-0.7 0.4-0.6-1-0.7-0.5-0.3-0.7 0.4-0.4-0.2-0.8 0.3-0.4 0.4-0.6 0.5 0.1 0.7-0.1 0.3-0.4 0.8-0.4-0.4-0.7M300.3 87.6l-0.9-0.1-0.9-0.3-0.4-0.7-0.8-0.4-0.2 0.4-0.2 0M300.3 87.6l0.8-0.4 0.2-0.2 0-0.9 0-0.5 0.1-0.4-0.3-1 0-0.7 0.5-0.6 1-0.4-0.5 0M300.3 87.6l0.1-0.8-0.3-0.8-0.1-0.8-0.2-0.7-0.1-0.7-0.2-0.5 0.6 0.8-0.1 0.1M300.3 87.6l0.3 0.1 0.3-0.1 0.2 0.1 1.1 0.2 0.4 0.3-0.2 0.3-0.3 0.1-0.4-1.1-0.1-0.7-0.5-0.9M300.3 87.6l-0.3-0.1 0.1 0.4 0.6 0.9-0.1 0.6 0.8 0.1 0.5-0.8 0.3-1 0.5-0.5 0.1-0.4 0-1.1 0.7-0.2 0.8 0.4 0.9-0.2M300.3 87.6l-0.2 0.2 0.2 0.1-0.5 0.5-0.6-0.6 0-0.6-0.1-0.4-0.6-0.9-0.1 0.6 0.3 0 0.4 0.3M300.3 87.6l-0.6-0.4 0.5-0.9 0.8-0.7 0.2-0.6 0.8-0.6 0.3-0.8-0.2-0.4 0.3-0.7 0-1.1 0.3-0.6 0.8 0.4 0.1 0.7M300.3 87.6l-0.9-0.6-0.2-0.4 0.3-0.6 0.3-0.2 0.6-0.1-0.1 0.3-0.4 0.1-0.4-0.5-0.6 0.2-0.8 0.4 0.1-0.4M300.3 87.6l-0.1 0.2 0.2 0.2 0.6-0.4 0.8-0.5 0.5-0.9 0.3-0.2M300.3 87.6l-0.1 0.3 0 0.9-0.4-0.1-0.1 0.2-0.9 0.4 0.6-1 0-0.9 0-1.2-0.1-0.5 0-0.7 0.3-1M300.3 87.6l0.5-0.4 0.1 0.2 0.1-0.6 0.6-0.4 0.7-0.8 0.2-0.3-0.1-0.3 0.6 0 0.1 0.1M300.3 87.6l-0.6-0.2-0.6 0.2-0.1-1.1-0.2-0.3-1-0.4-0.2-0.2-0.6-0.1 0.1-1 0.4-0.3M300.3 87.6l-0.3-1-0.4-0.7 0.3-1.1 1-0.2 0.3 0.2 0.3 0.1-0.4 0.1M300.3 87.6l-0.4-1.2-0.7 0.3-0.4-0.2-0.2-0.3-0.6-0.5 0.2-0.7 0.5-1.1-1-0.3M300.3 87.6l-0.3 0.6-0.4 0-0.8-0.1-0.2-0.6 0.1-0.7-0.2-1" fill="none" stroke="#111" stroke-width="0.4" stroke-linejoin="round" stroke-linecap="round"/><path d="M304.6 85.5l-0.5 0.9 0.9-0.7-0.3 0.3 0.2-0.6-0.7 0.2-0.4 0.1M299.8 84.1l0.8-0.2-0.4-0.7-0.3 0.8-0.5 0.3-0.9 0.7M300.1 82.6l0.1 1-0.2 0.3 0.1 0.3-0.7-0.1 0.7 0.5M298.7 83.2l0.4-0.1-0.1-0.4-0.6-0.8-0.3-0.1-0.7 0.6-0.4 0-0.7-0.7M299.9 81.5l0.6-0.3-0.1-0.5-0.1-0.4-0.3-0.5-1 0M296.9 86.5l-0.6-0.6 0.4 0.2 0.5-0.1-0.4 0.8-0.5-0.4-0.7 0.1-0.6-0.6 1 0.1M302.1 82.5l-0.2 0.2 0.6 0.1-0.5 0.7 0.1 0.3 0.6 0.5M300 84.2l-0.4 1-0.1 0.4 0.3 0.1 0.8-0.3 1 0.2M301.1 85.9l-0.7-0.2-0.1 0.4-0.8 0.2 0.1-0.4-0.3-0.7-0.3-0.2M305.2 85.7l0.5 0.9 0.7 0.7 0.5 0.4-0.2 0.7M299.1 86.8l-0.7-0.3 0-0.7-0.5-0.3-0.1-1-0.1 0.4 0.2 0.6 0.2-0.3 0.1-0.3M303.6 81.9l-0.6 0.4-0.9-0.1-0.5 0.9 0.1 0.3-0.5-0.4 0.6 0.5 0.3-0.2M298.2 85.8l0.8-0.2 0.5 0.8-0.6 1 0.9 0.6M302.6 86l0.4-0.3 0.8-0.6 0.4-0.2 0.5-0.3-0.9 0.3-0.8-0.2M299.6 84l-0.7-0.4-0.2-0.6-0.1-0.1-0.8-0.4 0.2-0.7 0.2-0.2M303.1 85.1l-0.2-0.7 0.4-0.7-0.3-0.1-0.5 0.5 0.8 0.1M297.5 84.2l0.3 0.9-0.4 0.6-0.3-0.6 0.3 0.6M301.1 85l-0.2-1-0.3-1-0.1-0.4-0.1-0.3 0.1-0.9-0.5 0-0.3 0.4M297.7 83.6l-0.3-0.4-0.2 0-0.3 1-0.6 0.7-0.5 0.4-0.2 0 0.1 1-0.7-0.2M298.5 85.8l-0.1-0.3 0 1.1 0.8-0.3-0.7 0.3-0.4-0.3 1 0.1 0.1-0.4-0.5-0.2" fill="none" stroke="#111" stroke-width="0.65" stroke-linejoin="round" stroke-linecap="round"/><path d="M304.6 85.5h0M299.8 84.1h0M300.1 82.6h0M298.7 83.2h0M299.9 81.5h0M296.9 86.5h0M302.1 82.5h0M300 84.2h0M301.1 85.9h0M305.2 85.7h0M299.1 86.8h0M303.6 81.9h0M298.2 85.8h0M302.6 86h0M299.6 84h0M303.1 85.1h0M297.5 84.2h0M301.1 85h0M297.7 83.6h0M298.5 85.8h0" fill="none" stroke="#111" stroke-width="1.4" stroke-linecap="round"/><path d="M303.3 87.6l-0.1 1-2 1.3-0.9-0.9-0.5 2 0.1-0.2M303.3 87.6l-2.6 1.5 1.2 0.3-0.8 0.6M303.3 87.6l-2.1 1.1-0.4 2.6 0.5-0.5-0.4 1.5M303.3 87.6l0.5-1.3 1.3 2.3-0.1-1.1 1.5 1-0.3 1.2 0.9-0.9M303.3 87.6l-0.2 1.3-0.4 0.1-2.1 2.2 1.5-0.6-1.6 1.3M303.3 87.6l0.9 1.7-0.2 0.8 2.8-0.2-1 1.7 2-0.4M303.3 87.6l-2-0.5 0.7 0.7 0.7 1.2-0.4-0.4-2.1-0.8-0.2 0.6M303.3 87.6l-2.6 0.1-0.3 0.5 0.4 1.6M303.3 87.6l1.4 1 0.4-0.9 0.5 1.3M303.3 87.6l0.4-0.5 2.1-0.4 1.3 1.3-0.3-0.1M303.3 87.6l2.2-0.4-1.7-0.5 2.6 2.4-1-2.1 0.3 1.7 1.3 0.3M303.3 87.6l-0.2 1.3-1.4-0.1 0.6-1.1-1 0.8 0.2 0 0 0.6" fill="none" stroke="#ff8fba" stroke-width="0.4" stroke-linejoin="round" stroke-linecap="round"/><path d="M299.9 90.8h0M301.1 90h0M300.9 92.3h0M307.1 88.8h0M300.5 91.9h0M307.8 91.2h0M300 88.4h0M300.8 89.8h0M305.6 89h0M306.8 87.9h0M307 89h0M301.5 89.1h0" fill="none" stroke="#f5143c" stroke-width="1.5" stroke-linecap="round"/><path d="M303.3 87.6l-0.8 0.2-0.5 0.6-0.5 0-1.1-0.1-0.6 0-0.7 0.3 0 0.4 0.5 0.2 0.4 0.7 0.2 0.7M303.3 87.6l-0.4 0.2-0.9-0.3-0.2 0.6-0.7 0.8 0.3 0.6 0.7 0.3 0.2 0.9-0.4-0.4-0.5-0.2-0.4 0.1M303.3 87.6l-0.5-0.2 0.1 1-0.5 0.1-0.5 0.2-0.4 0.1 0.1 0.6 0.1 0.6 0.6-0.1 0.6 0.2M303.3 87.6l-0.3 0.4-0.2 0.5 0.1 0.5-0.1 0.5-0.8 0.2 0.4 0.5 0.1 0.3M303.3 87.6l0.3-0.1 0.2 1 0.4 0.9 0.6 0.3 1 0.3 0.6 0.1 0.9 0.4 0.4-0.3M303.3 87.6l0.1 0.5 0.5 0.5 0.1 0.5-0.2 0-0.4 0.3M303.3 87.6l0.6 0 0.3 0.8 0.9 0.1 0.3-0.2 0.3 0.7 0.3-0.2M303.3 87.6l-0.7-0.1-0.3 0-0.1 0.6 0.5 0.6 0.1 0.6 0.6 0.2 0.4 1.1 0.2 0.9 0.1 0.6" fill="none" stroke="#f5143c" stroke-width="0.4" stroke-linejoin="round" stroke-linecap="round"/><path d="M300.2 90.6l0-0.4 0.5-0.1 0.5 0.4 0.5 0.8 0.4 0.2 0.3 0.6-0.1 0.5-0.5 0.9M301 90.2l-0.9-0.2-0.3-0.9-0.5-0.6 0.2-0.5 0.2-0.9-0.7-0.2M302.9 90.1l-0.3 0.7 0.3 1 0 0.7 0.9 0.2 0 0.3 0.4-0.1M302.5 90.5l-0.7-0.4-0.3-0.2-0.3-0.1-0.3-0.6 0.2-0.2M307.7 90.2l0.3-0.3 0.5 0.1 0.7-0.5 0.2-0.3-0.6-0.8-0.2 0.2-0.5-0.5 0.5-0.9M303.4 89.4l0.8 0.8-0.3 0.2-0.8 0.7 0.7-0.6-0.1 0.8-0.4-0.5 0.1-0.7M306 88.8l-0.2 0.4 0.9 0.2-0.6 0 0.2-0.5 0.5 0.4-0.3 0.2M304.1 92.1l0.1 0.7-0.1 0.4-0.5-0.9 0.1-0.8 0 0.5 0.8-0.3-1 0" fill="none" stroke="#f5143c" stroke-width="0.65" stroke-linejoin="round" stroke-linecap="round"/><path d="M300.2 90.6h0M301 90.2h0M302.9 90.1h0M302.5 90.5h0M307.7 90.2h0M303.4 89.4h0M306 88.8h0M304.1 92.1h0" fill="none" stroke="#f5143c" stroke-width="1.4" stroke-linecap="round"/></g>
<polygon points="303.30,83.85 304.21,86.29 306.82,86.41 304.78,88.03 305.47,90.54 303.30,89.10 301.13,90.54 301.82,88.03 299.78,86.41 302.39,86.29" fill="#ffee10" stroke="#e8c800" stroke-width="0.3"/>
<text x="352.9" y="46.3" font-size="11" text-anchor="end" fill="#111" stroke="#111" stroke-width="0.35">38</text>
<text x="352.9" y="136.5" font-size="11" text-anchor="end" fill="#f5143c" stroke="#f5143c" stroke-width="0.3">22</text>
<rect x="360.35" y="32.7" width="109.3" height="109.2" fill="#fff" stroke="#cfd8d5" stroke-width="1.1"/>
<path d="M415.25,32.7 V141.9 M360.35,87.55 H469.65000000000003" stroke="#c3cdc9" stroke-width="0.9" fill="none"/>
<g><path d="M415.5 88l-1.4-0.6-0.2-0.3-1.9-1.1 0.4 0.3-1.9-0.5-1.1 0.5 0.1-0.2 0.1-0.6-1.3 1.1-2.2 0 0.1 0.1-0.6-0.2-0.4 0.3-3.1 0.1 0.9 0.9 1.1-0.7-0.9-1.1-1.2-2.7 0.3 0.2-0.2-0.9-0.1-0.7 1-0.3-0.8-0.5-1.2-1.1 0.2-0.4M415 87.1l0.2-1-0.1-0.9-0.4-1.1-0.4-0.2 0.9-1.7-0.2-0.6 0.3-1.4-1 0.9 0.2-0.7-1.4-1.1 1.1-0.6 0.6 1 0.4-2.2 2-1.3-0.7-0.2-0.5-0.2-0.6-1.6 0.9 0.2-0.4-1 0.3 0.2M415.3 87.9l0 0.1 0.9 1.9 1.7-0.6 0.3 1.4 1-0.1 0 2.2 1.2 0.2-0.2-0.3 0.7 1.4-0.2 0.7 0.8 0.4 0.9-1.7 1.2 0.6-0.6-0.6 0.4 1 0.6-2.4-0.2-0.3 0.8-0.9-0.6-0.5 0-1.3 0.9-0.2-0.6-0.2 1.2 0.5-1.4-1.7 1.1 0.1M416.1 88.5l-2.2-1.2 0-0.5-0.4-0.7-1.4-1-0.6-0.4-1.2 0.5 0.6-2-1.7 0.7 0.2-0.6-1.2 0.3M415.6 87.4l0.8-1.1 1.1-0.6 0-0.7 1.2 0.8 1-1.9-0.5 0.9 0-0.9 0.5-0.4 1.2 0.5-0.7-0.4" fill="none" stroke="#7d8683" stroke-width="0.55" stroke-linejoin="round" stroke-linecap="round"/><path d="M401.2 79.6l0.8 0-0.4 0.3 1.1-0.4M416.2 73.6l0 0.3-0.1 0.6 1.2-0.5M425.2 87.6l-1-0.5-0.7 0-0.7 0.1M408.2 83.6l-0.7-0.1-0.4-0.5-0.1-0.4M420.2 83.6l0.5 1.1-0.2-0.5 0.3-0.1" fill="none" stroke="#111" stroke-width="0.7" stroke-linejoin="round" stroke-linecap="round"/><path d="M401.2 79.6h0M416.2 73.6h0M425.2 87.6h0M408.2 83.6h0M420.2 83.6h0" fill="none" stroke="#111" stroke-width="1.8" stroke-linecap="round"/><path d="M415.2 87.2l0.2 1.3-1.2-0.7-0.3 1.7 1 0.6-0.7 0.2 0 0.8-0.1-0.3 0 0.5-0.5 0.6 0.6 0.7" fill="none" stroke="#ff8fba" stroke-width="0.8" stroke-linejoin="round" stroke-linecap="round"/><path d="M414.2 92.6l-1.1-0.1-0.8-0.4-0.6 0.2" fill="none" stroke="#f5143c" stroke-width="0.7" stroke-linejoin="round" stroke-linecap="round"/><path d="M414.2 92.6h0" fill="none" stroke="#f5143c" stroke-width="1.8" stroke-linecap="round"/><path d="M415.2 87.6l0.9-1 2 2.2 1.6-1.3 0.4-1 0.9 0.4M415.2 87.6l-1.7 0.6 0.5-0.5-0.1-0.4M415.2 87.6l-0.6-0.2-1-1.1 0.9 0.3-3.2 0 1.4-0.4-0.8-1.3M415.2 87.6l-2.6-1.2 0.6-0.6 0.4-0.8M415.2 87.6l0.3-1 0.9-2.1 0.3-0.5M415.2 87.6l0.5-1.1 1.2 2-0.8-1.4 3.7-1.1 0.6 0.3 0.4 0.1M415.2 87.6l0.8-0.5 0.7-1 0.2-0.1 0.7 0.1M415.2 87.6l-0.6-0.9-0.8-1.8-0.8 1-1.1-1.4M415.2 87.6l-0.1-1.4-2.3-0.1 0.7 0.7-1.8-1.2M415.2 87.6l-1-0.2-0.4 0.7-1.8-3.4 1.2 1.8-1.2 0M415.2 87.6l0.5 1.5 1.1-2.4 1.3-1 0.3 2-0.2-2.2M415.2 87.6l0 0.1-0.2 0.7 0.3-1.9-0.7 0.2-0.3-0.1 0.3 0.6" fill="none" stroke="#7d8683" stroke-width="0.4" stroke-linejoin="round" stroke-linecap="round"/><path d="M421 86.9h0M413.9 87.3h0M411.9 84.9h0M413.6 85h0M416.7 84h0M420.8 86.4h0M417.6 86.1h0M411.9 84.5h0M411.7 85.6h0M412 86.5h0M418.2 85.5h0M414.6 87.2h0" fill="none" stroke="#111" stroke-width="1.5" stroke-linecap="round"/><path d="M415.2 87.6l-0.2 0.3-0.9 0.2 0.2 0.2-0.6 0.3-0.6 0.1-0.4-0.3-0.5-0.7-0.1-0.4-0.1-1 0.2-0.6 0.9-0.8 0.3-0.7 0.4-0.2M415.2 87.6l0.1-0.7 0.3-0.8 1.1-0.1 0.1 0.5 0.2 0.3 0.5 0 0.3-0.8M415.2 87.6l0.6-0.6 0.4-1-0.1-0.7 0.6-0.6 0.4-0.7 0.1-0.3 0.4 0.2 0.6-0.2M415.2 87.6l0.6-0.9 0.1-0.3 0-1.1-0.4-0.5-0.4 0.1M415.2 87.6l0.6-0.8 0.8-0.4 0.5-0.8-0.5-1-0.7-0.3-0.7-0.2-0.4-0.1-0.4-0.1 0.1-0.7-0.3 0.9 0.4 0.5-0.7 0.5-0.2 0M415.2 87.6l0.9-0.6 0.2-0.3 0.2-0.2 0.1-0.4 0.8-0.2 0.2-0.6M415.2 87.6l0.3-1.1 0.3-1.1 0.3-1 0.3-0.5 0.8-0.5 0.6-0.4 0.3-0.1 0.4-0.3 0.3 0.1 0.4 0.3 0 0.5 0.2 0.1 0 0.8 0 0.2M415.2 87.6l0.8-0.3 0.4-0.6 0.4-0.3 0.3 0.7 0.9-0.1" fill="none" stroke="#111" stroke-width="0.4" stroke-linejoin="round" stroke-linecap="round"/><path d="M413.8 84l-0.5-0.4 0.2-0.6 0.1-0.7-0.3-0.6 0.4-0.8 0.9-0.5 0 0.6M417.8 86l0.4 0.8 0.1 0.4 0 0.5 0-0.3 0.4-0.5 1-0.2 0.3 0.5M418.2 83.7l0.2 0.2 0.3 0-0.8 0.7 0.5-0.7M415.1 84.9l-0.2 0.2 0.7-0.7 0.7 0.6 0 0.7-0.6 0 0.5 0.8-0.4-0.3 0.5-0.4M413.7 85.1l-0.6-0.1-1-0.2 0.4 0.4-0.5 0.5 0.5 0.1M417.6 85.3l-0.7-0.4 1.1-0.1 0.6 0.3 0 0.3 0.4 0.6M419.4 84.6l0.1-0.7-0.6 0 0.3 0.2-0.9 0.8 0 0.2M418 87l1.1 0.1 0.7 0.3 0.5-0.4 0.4 0.4 0.2 0 0-0.5" fill="none" stroke="#111" stroke-width="0.65" stroke-linejoin="round" stroke-linecap="round"/><path d="M413.8 84h0M417.8 86h0M418.2 83.7h0M415.1 84.9h0M413.7 85.1h0M417.6 85.3h0M419.4 84.6h0M418 87h0" fill="none" stroke="#111" stroke-width="1.4" stroke-linecap="round"/><path d="M415.2 87.6l0.1 1.1 1.1-0.7 0.8 0.5M415.2 87.6l0.7-0.4 0.4-0.6-1.2 2-0.1 0-0.1 0M415.2 87.6l-1.4 0.4-0.5 1.7 0-1.9M415.2 87.6l1-0.6 0.7 1.1 0.8 0 0.5 0.6-0.4-0.4M415.2 87.6l0.1 0.6 0.3 0.6-0.6 0 0.5 2.7 0.7-1.9-0.7 1.7" fill="none" stroke="#ff8fba" stroke-width="0.4" stroke-linejoin="round" stroke-linecap="round"/><path d="M417.2 88.5h0M414.9 88.6h0M413.3 87.8h0M417.8 88.3h0M415.5 91.3h0" fill="none" stroke="#f5143c" stroke-width="1.5" stroke-linecap="round"/><path d="M415.2 87.6l1.1 0.2 0.4 0.1 0.8 0.4 1-0.1 0.2 0.2 0.5 0.1 0.1 0.4-0.7 0.8-0.3-0.1-0.3-0.3 0.8 0.6 0.2 0.5-0.2 0.6M415.2 87.6l0.8 0.8 0.7 0.2 0.9 0.3 0.2 0.6-0.4 0.8-0.5 0.5M415.2 87.6l0.4-0.2 0.1-0.7 0.1-0.1 0.9-0.1 0.4 1.2-0.2 0.8-0.2 0.5-0.5 0.4-0.2 0.5-0.1-0.3-0.2-0.2-0.3 0.2M415.2 87.6l0.5 0.7-0.8 0.1-0.5-0.1-0.1 0.4-0.4 0.4-0.7 0.3 0.1 0.4 0 0.3-0.5 0.7" fill="none" stroke="#f5143c" stroke-width="0.4" stroke-linejoin="round" stroke-linecap="round"/><path d="M418.8 91l0.2 0.1 0.1-0.8 0.5 0.4-0.7 0.8-0.5 0.2M416.9 90.8l0.4 0 0.2 0.8-0.2 1.1 0-0.4M415.4 89.6l-0.5 0.6-0.5 0-0.9-0.1-0.3 1M412.8 90.8l0.6 0.4 0.1 0.2 0.3 0.1 0.6 0.9 1.1-0.2 0.2 0.2-0.5 0.2-0.4 0.1" fill="none" stroke="#f5143c" stroke-width="0.65" stroke-linejoin="round" stroke-linecap="round"/><path d="M418.8 91h0M416.9 90.8h0M415.4 89.6h0M412.8 90.8h0" fill="none" stroke="#f5143c" stroke-width="1.4" stroke-linecap="round"/></g>
<polygon points="415.25,83.85 416.16,86.29 418.77,86.41 416.73,88.03 417.42,90.54 415.25,89.10 413.08,90.54 413.77,88.03 411.73,86.41 414.34,86.29" fill="#ffee10" stroke="#e8c800" stroke-width="0.3"/>
<text x="464.9" y="46.3" font-size="11" text-anchor="end" fill="#111" stroke="#111" stroke-width="0.35">48</text>
<text x="464.9" y="136.5" font-size="11" text-anchor="end" fill="#f5143c" stroke="#f5143c" stroke-width="0.3">12</text>
<rect x="24.45" y="177.2" width="109.3" height="109.0" fill="#fff" stroke="#cfd8d5" stroke-width="1.1"/>
<path d="M79.35,177.2 V286.2 M24.45,231.55 H133.75" stroke="#c3cdc9" stroke-width="0.9" fill="none"/>
<g><path d="M79.6 232l0.2-1.3 1.7-1.1 0.7-1.5 0.3-1.4 1.1-0.8 0.5-1.3 0.9-1 1.8-2.1 0.8 0.2 0.1-0.2 1.1 0.1 0.4 0.1 0.7 0.2 2.3 1.2 0.6-1.3-0.6 1 1.8-0.9 1.4-1.1 1.6 0.5 1.1-0.3-1.5 0-0.2-0.5-1.9-1.6-1.3 0.6-0.3-1-0.3-2.1-1.3 0.5-1.3 0-0.8 0.2-1.9-1 0.6 0.4 0.3-0.8-0.8-0.6 0.2-1.5-0.3-0.1M79.6 231.8l0.5 0 2.5-1.9-0.3-0.4 2.1-0.5 0.9-0.8 1.3-0.6 0.9-0.8 0.4-0.5 0.6-2 1.7-0.3-1.3 0.2 1.3 0.1 0.8 1.1-0.7 0.5 1 0.6M79.1 231.5l0.9 0.9 2.3 0.5 0.6 0.5 0.1 1.1 1 0.4 1.5 2.5 0.3-0.6 1.1-0.5 0.3 0.8 1.3-0.2 0 0.8-0.1 1.5 0.4 0.2 0.4 1.3-0.2 0.7 0.5 1.3 0.4 0 1 0.3 0.3 0.8 0.1 0.7M79.2 231.4l1.7 0.8 2.3-0.7 0.1 0.6 1.4 0.3-0.2 1.3 3.2-0.1 0.5-0.4 0.7 0 0.1-1.6 0-1 1.2 1.5 0.5 0.3 0.4 1.1 0.8 1.4-0.7-0.1-0.7 2.2-1.9 1.1 0.8 0.5-0.5 2.2-1.6 0.7M80 231l-1.4 0.3-0.6-3.1-1.8-0.1-0.1-2.2-0.6-0.3-1.6-0.6 0.7-1.3-0.5-0.9-1.5 0.5 0.7-0.8" fill="none" stroke="#7d8683" stroke-width="0.55" stroke-linejoin="round" stroke-linecap="round"/><path d="M87.3 213.5l-0.1 0.4 0.4 0.1-0.6-0.2 0.2 1.3-1.1 0.2-0.3 0.3-0.3 0.7-0.1 0.9 0.1 1.1M91.3 226.5l0.1-0.7 0.3-0.3 0.2-0.2-0.5-0.9-0.1 0.3-0.8-0.5-0.4-0.5-0.3 0-0.5 0.3M91.3 244.5l-1 0.4-0.4-1.2 0.2-1.1-0.3 0 0.4 0.3 0.4 0.5 0.7 0.3 1 0.3 1-0.6M87.3 241.5l-0.4 0.3-0.4 1-0.2 0.8 0.3 0.3 0.8 0 0.3-1.2 0.7 0.1 0.6-0.1 0.1 0.9M73.3 222.5l-0.1 0.3-1.1 0.5 0.7 1 0.2-0.2 0.9-0.6 0.3-0.4-0.6 0.4 0.3-0.4-0.4 0.3" fill="none" stroke="#111" stroke-width="0.7" stroke-linejoin="round" stroke-linecap="round"/><path d="M87.3 213.5h0M91.3 226.5h0M91.3 244.5h0M87.3 241.5h0M73.3 222.5h0" fill="none" stroke="#111" stroke-width="1.8" stroke-linecap="round"/><path d="M80.2 231l-1.3 1.6-0.7 2.2-0.8-0.2-3.1 2 0.8-0.2-1 1.8-3.2 0 0.8 2.2 0.3-0.3-0.2 0-2.2 0.8-1.9-2.3-1.1-0.3-0.3 1.1-0.7-0.1-0.1 1.3-1.9-1.2 0.3 0.4 0.8 1.9-3.6 0.4-1.9-1.3 1.2 0.8-2.3 0.8-1.4-3.2-1.8 0.7 0.5-1.6-1.7 1.4 1.7-0.8-2.3-3.2 0.5 1.3 0.7-0.7-2.3-2.7-1.2-2.1 0.1 2.2-3.6-2.6 3.8-0.7-2.7-0.7-2.1-1.2 0.7-1.3-0.4-0.1-1-0.3-0.3 1.3-1.3-0.2 0 0.2-2.3 1.5 1.2 1-1.6 0.9 0.2 1-1.4-1.5-1.7 2.3 0.2-1.7 0.7 2-1.6 2.1-0.1-0.9-1 1.9 1.1-0.9-0.2-1.2 1.7 2.3-1.8-1 1.1-1.4-1-0.5 0.4 1.2 0.7-0.5-2.9-0.5 0.6 0.3M79.3 231.6l-1.4 2-0.3 1 0.5 0.5-1.1 1.7-1.2 2.5 0.3 0.7 0 0.9-1.1 2.1 0.8 0.5-1 0.1 0.6 2.4 1.4 1.8-1.1-1.2 1.8 1.6-0.2 0.3M79.3 231.4l-1.2 1.3-1.5 1.5-0.5 0.7-1.1 0.7-1.7 0.8-1.1 0.4-0.5 0.9 0.1 2 0.1 0.8-0.7 1.2 0.9 0.1-0.3 0.3 1.3 1 0.2 0.7 0-0.3M78.5 232.7l2.9-0.7-1.1 0.9 2 2 1.4-0.2 1.2 2.6 0 0.1 1.3 0.4-0.9 0.2 1.7 0.9 0.3 0.6" fill="none" stroke="#ff8fba" stroke-width="0.8" stroke-linejoin="round" stroke-linecap="round"/><path d="M36.3 234.5l-0.5 0.4 0.4 0.9 1 0 0.3-0.7-0.2-0.4 0.2-0.4 0.9 0.3 0 0.7 0.3 1.1M77.3 248.5l-0.3-0.5-0.7 0.4-1-0.2-0.8 0.4-0.5 0.8-0.4 0.2-0.6 1.1-0.4 0.9 0.1-0.2M73.3 243.5l0.1-0.3-0.2-0.5-0.3-0.8 0.1-0.4 0.9-0.5 0.3-0.2 0.6-0.2 0.3 0.5 0.5 0.3M87.3 239.5l0.2-0.3-0.6-0.3-0.1 0.3 1.3 0 1.2-0.3-0.7 0.8-1.1-0.4 0 0.7 0 0.8" fill="none" stroke="#f5143c" stroke-width="0.7" stroke-linejoin="round" stroke-linecap="round"/><path d="M36.3 234.5h0M77.3 248.5h0M73.3 243.5h0M87.3 239.5h0" fill="none" stroke="#f5143c" stroke-width="1.8" stroke-linecap="round"/><path d="M79.3 231.5l-0.3-0.7-1.3-0.9 0 0.4-0.6 1.3 0.3 1.2 0.7-1.3 1.5-0.8 0.8 1 1.1 0.6 0.9-0.5 0.6 0.1 1.5 0.1-0.8 1-0.2 0.1-1.2-0.3-0.3-1.7-0.1-0.6-0.4-0.7-0.6-1.3 1.3-0.2 1.5 0.4 0.8 0.1-0.9 0.3M79.3 231.5l0.2-0.9 0-1.5-0.5-0.4 0.1-1.8-0.7-0.6 0.5-1.3 0.9 0.2 1.2-0.4-0.6 0.8-1.3 0.1-0.3-0.1M79.3 231.5l0.2-1.4-0.3-0.4 0.6 0.2 0.7 1.4 0.3 0.4 0.9 0.8-0.3 0.9 0.7-0.4 0.5-1.4 0.5-1.1 0-0.5-1.5-0.1-1-0.3-0.5 0.9-0.4 0.5 0.8 0.8 0.7 0.7 1 0.9 0.5-0.9-0.2-1.1-1-0.3-1.1 0.4-1.1-0.9M79.3 231.5l-0.9 0.1-0.8-0.1-0.9-0.2-0.5 0.7 0.4 0.2-0.3 0.1 0.2 1.1-0.9-0.6-0.7-0.2-0.1 0.6-1.2 0-0.6-0.5-1.5-0.4 0 0.5 0.1 0.1 0-0.5 0.2-1.6 0.7-1.2M79.3 231.5l1.6 0.6 0.7 0.5 0.6 0.6 1 0.3 0.1-1.3 0-0.5 0.3-1.4-0.6 0.1-0.7 0.1-1.2-0.4M79.3 231.5l0.7 0.7 0.7-1.2 0.3 1 0.2 0.9-0.6 0.3-0.5 0-1-1.4-1.3 0-1.2-1-1.1-0.8-0.5 0.2-0.5 0.2-0.4 0.3 0.1 0.2-1.3 0.6 0.3-1.8 1.2 0 0.1 0.8 1.1-1.1 0.5 1M79.3 231.5l0.6 0.9 0 0.9 0.6-0.9-1.2-0.8-1.2-1.1 0-0.4-1.3-1-0.4-0.9 1.6 0.1 0.6-0.1-0.4 1.4M79.3 231.5l-0.3-0.6 0.9-0.8 1.2-0.8 1.1 0.3 1.2 0.6 0.8 0 1-0.4 0.2-0.7 0.6-0.1 0.3-0.7-0.3-1.7 1.1-1.2M79.3 231.5l0.4-0.7-0.6-1.6-0.4-0.3-0.5-0.1-0.8 0.7-1.1 0.8-0.1 1.3 0.5 0.8 0.2 0.9-0.3 0.2-0.5 0-1.3-0.1 0.4 0.1 1.3 0 0.9-1.3 0.2-1.7M79.3 231.5l-0.4 1.4-0.3 0.6-0.3-0.7 0.8-1.2 0.8 0.5 0.2 0.5-0.4 0.3-1 0.3-0.3 0.1-0.4-0.4-0.7 0.3-1.2 0-0.7 0 0-0.4 0.1-0.6 0.7-0.6 0.7-0.3-0.2-0.7-0.4-1.1 0-0.6-0.3-1.4-1.5 0.2-1.2 1-0.8 0.7-0.5 0.8 0 0.3M79.3 231.5l0.1-1.5-0.2-0.8 1.7-0.3 0.7-1.3-0.7-1.3 0.2-0.5-1.2-0.8-0.7-0.2-0.4 0.7 0.9 0.8-0.1 1 0.5 0.8M79.3 231.5l1.2 0.2 0.2 0.4 1 0.2 1.1 0.3 0.2-1.3 0-0.6-1-1.1-1.6 0.2-0.1 0.5-1.2-0.4 0.6-0.9 0.6-0.8-0.2-0.8-0.3-1.3-0.4-0.8-1.2-1.3-1-0.7-0.1-1M79.3 231.5l-1.3 0.2-1.2 0.3-1.3 0.9-0.1 0.3-0.3 0.1 0.3-1.8-0.1-0.4 0.6-0.5-0.2-0.6-0.8-0.3 0.7 0 0.1 0.6-0.9 0.7-0.8 0.3-0.1-1.5 0.6-1.1 0.7 0.5 1 1.1 0.6 0.1M79.3 231.5l0.1 0.5-0.4-0.1-0.9 0.9-1.2 0.6-0.1-0.8-0.1-1.5 0.9-1 1.2 0.3M79.3 231.5l0.1 0.4-0.7 0.8-1.4 0.6-0.9-0.1-0.8-0.9-0.6 0-0.1-0.4-0.5 0.2-0.2 0.3-0.1 0.8-0.6-1.2 0-0.5 0.5-0.3-0.4-1.5M79.3 231.5l-0.5-1.1-0.1-0.8-0.6-0.4-1 0.6-1.1-0.1-0.8 1.2-0.9-1.5-0.6-0.4 0.6-1.3-0.4-1.3-0.8 0.5-1.3 0.5-0.7 0.7 0.4 0.4M79.3 231.5l0.6-0.1 0.6-1.5-1.2-1.2 0.2 1 0.6 0.4 1.2 0.8-0.2 0.4-0.2 0.2-1 0.1-1.5-0.4-1-0.9-0.2-0.7 1-1.1 0.8-0.2 1.6-0.2 0.8-0.8-0.3-0.8-1.1-0.6M79.3 231.5l0.6 1.1-0.7 0.6 0.1 0.3 1.1-0.8 1.6 0.1 0.5-0.6 1.4-0.6 1 1.2-0.2 0.5-1.1-0.7-0.5-0.7-0.6-1.4 0.4-0.4M79.3 231.5l-0.8-1-0.9-0.5-0.4-0.5-1.2-0.6-0.6-0.4-0.7-1.1-0.9-0.9-0.4-1.1 1.1-0.7 1.4 0 0.4 1 0.5 1.3-0.2 0.2 0.5 0.7 0.2 0.2-0.9 0.2-0.5-0.7-0.4-0.4-1.1-1-0.6-0.6-0.5-0.1-1.1 0.5-0.8-0.7 1-0.4M79.3 231.5l0.3 0.8 0.6 1 0.4-0.5-0.5 0-0.8-0.4 0.3 0.2 0.2-1.3-1.4-0.7M79.3 231.5l0.8-1 1.3-1 0.1-0.8 1.6-0.1 1.4-0.7 0.9-0.2 0.4-1.2 1-1.2-0.2-0.7M79.3 231.5l1.4 0.8-0.4-0.8 0.7-0.2 0.8-0.2-0.4-0.4-1.4-0.9-0.9 0.2-0.1 0.7 0.9 0.2 0.5 1.1 0 0.3 0.5 1.1 0.8-0.5 0.1 0.6-1-0.4-0.4-0.4-0.1-1.5 0.1-1.5-0.1-0.9 1.2-0.7 0.7-0.7 0.6 0.2 0.2-1.1M79.3 231.5l0.4 0.5 0.5 1.2 1.2 0.1 1.3-1.1 1.2-0.4 0.6-0.9 1.3-0.1 0.8 0 0.7 1 0.7 0.7 0.6-0.7 1-0.1-0.1-0.5-0.9-0.5-0.9-0.4-1 0.7-0.7 0.4-0.9-0.2 0-1 0.4 0-0.3-0.9-1.5 0.2 0.9 0.3 1-0.6 0.6-0.7M79.3 231.5l-1.3 0.6-0.9 0.2-0.4 0.2-0.3 0.1-0.8 0.1-0.9 0.3-0.5 0-0.9-0.9-0.2-0.7-0.2-0.5-0.2-0.4 0.3-1.5-0.2-1.5 1.4 0.1 0.1 1.4-0.3 1.1 1 1.1 1.1 0.1 0.8-0.7 0.5 0.2M79.3 231.5l1.3 0 0.4-0.4 0.8 1.2 0.5 0.4 1.1 0.5 1-0.7-0.9-0.3 0.2-1 0.1-1.6-0.5-0.7 0-0.5-0.6-1-0.3-0.6M79.3 231.5l-0.6 1.5 0.5 0.1 0.1-0.5 0.9-0.3 0.6-0.2 0.5-1 0.5 0 0.6-0.8 0.8-0.6 0.1 0.9-0.5 0.7 0.1 1.5 0.6 0.6 0.8 0.1 1.3-0.9 0.2-1.2 0-1.3-0.9-0.3-0.6-0.7 0-0.4 0.2-1.1-1.1-0.7-0.8-1.2-0.2-0.5M79.3 231.5l0.4 1.2-0.9 0.3-1.3 0.1-0.7 0-0.2-0.4 0.1-0.8-1-1.4-0.6 0-0.5-0.9 1-1-0.8-1.4-0.3-0.5-0.3-1.3-1.2-0.6-0.7-0.1-0.4 0.3-0.1 1.3M79.3 231.5l1.2-1 0.8-1.1-0.7 0-0.8-0.1-0.5-0.3-0.9 0.7 0.1 0.6 0.5 0.5 0.2 0.3 1.4-0.6-0.1-1.8 0.5-0.7 0.2-1.3-0.9-0.4-0.6-0.9-1.1 0.3-0.7 0.4-0.2 0.6-0.3-1.6-0.8-0.5-1.4 0.2-0.8-0.2-0.8-1.2 0.8-0.5 1.1-0.1M79.3 231.5l0.4 0.7 0.8 0.9-0.7 0-1.3-0.8-0.8-0.7-1.2-1.1-1.1-0.9-0.7 0.4M79.3 231.5l-1.1-0.2-0.2-0.4-0.5-0.8-0.2-1.2-0.7-1.1-0.1-1.3-1.2-1.1 0.4-0.8 0.3-1.3 0-1.4-0.9-0.1-0.7 0-0.2 0.4 0.2 0.5 0.3 0.6 1.5 0.3 0.4 0.9 1.1-0.1M79.3 231.5l-0.2-0.9-0.4-1.7 0.1-0.7 0-0.5 0.6 0.6 1.2-0.9 1.7 0.1 0.6-0.1 0.4 0 1.6 0.1 0 0.4 0.1 1M79.3 231.5l-0.6-0.9-1-0.7-1.3 0.1-0.6-1-0.5-0.3-0.2-0.9 0.4-0.6 0.3-0.5 1.1-0.1M79.3 231.5l0.5-0.7 0.4-1.2-0.2-0.6 0-1.6-0.4-1-1.4-0.5-0.2-0.8 1.3-1.1 0.9 0-0.7-0.8-1.5-0.6-0.5-1.7 0.9 0.4 1.2 0.4 0.3 1.4 1.1 0.8 1.2 0.5 0 0.5 0.1 0.4-0.9 1.1-0.4-1.1-0.6-1.3-0.8-0.7-0.4 0.1-0.7 0.2M79.3 231.5l-0.7-0.9-0.5 0-1.3 0.3-1.5 0-0.5 1.4 0.6 1.1-0.4-0.1-0.5-1.4-1-1 0.1-0.5 1.2-0.4 0.5-0.6 1.3 0 1.1-0.8 0.2-0.6 0.9-1-0.8-1 0.8-0.6 0.9-0.7 0-0.8-0.4-1.5 0.9-0.8-1.1 0.1-0.1 1.1-1.5 0.7M79.3 231.5l-0.5-0.7-0.6 0.4-0.1-0.9-0.6-1.5-0.7-1.1 0.8-1 0.3-1-0.3-1.3-0.2-0.4-1-0.8-1.4-0.3-0.8-0.5-0.6-0.6-0.2 0.4 0.4 0.3-1.2 1.1-0.6 0.7-0.3 1M79.3 231.5l-0.8 0.2-1.3-0.2 0.6-0.5 0.6 0.9 0.2 0.5 1 1 0.3-0.7 0.3-1.4-0.9-0.9" fill="none" stroke="#111" stroke-width="0.28" stroke-linejoin="round" stroke-linecap="round"/><path d="M83.6 229.1l-0.8 0.3-0.6 0.1 0.5-0.5 0.7 0.4 0.3 0.8 0.2-1 0.2 0.2 0.2-0.2M78.8 225.6l0.1 0.3 0.2 0.4 0.2 0.3 0.5 0.5 0.3 0.2 0.5-0.2 0.3 0.1 0.7 0.7M79.3 230.6l0.4-0.3 0.3-0.6 0.5 0.2-0.6 0.1-0.8 0.3-0.7-0.4-1.1-0.1M72.5 229.6l-0.3 0.4 1 0 0.2 0.4 0.2 0.2-0.3 0.3M81.1 230.1l-0.7-0.6 0 0.4 0.7 0.2 0.4 0.2 0.6 0.3M76.1 230.4l0 0.3 0.7-0.5 0.2-0.3 0 0.5 1-0.2-0.3 0.5M78.2 229.6l0.7-0.1 0.3-0.7 0.6-0.2-0.6 0.6-0.4-0.7-0.7-0.1-0.1-0.3 0.4-0.2M87.1 225.4l-0.6-0.1-1.1-0.3 0.1-0.7-0.1-0.3-0.2-0.3-0.7 0.7-0.6-0.1M77.6 230.5l0.2-0.5-0.3 0.1 0.6-0.2 0.1 0.6-0.9-0.3M72 230.5l-0.6-0.7-0.2 0.1-0.7 0.4-0.7 0.2-0.2 0 0.1-0.3-0.1 0.3 0.2 0.8M80.1 228.1l-0.7 0.1-0.2-0.5-0.1-0.4 0.5-1 0.1-0.9 0.3 0.4M77.1 222.3l0.3 0.2 0.1 0.7 0.5 0.8-0.3-0.1-0.3-0.4M76.8 230.4l1.1-0.1 0.2 0.9 0.9 0.5-0.8-0.7M78.8 230.4l-0.6 0-0.9-0.2-0.9 0-0.1 0.6 0.5 0.9M73.6 229.7l0.7 0 0.3-0.5-0.9-0.5-0.8-0.1 0-1.1-0.5-0.3 0.2-0.4M71.5 228.5l-0.4-1-0.3-0.5-1-0.5 1-0.2 1-0.1-1 0.1-0.7-0.3-1.1 0M80 225.9l-0.7 0 1.1-0.2-0.8 0.6 0.2 0.6 0.8 0.1M82.9 230.1l0.7 0.1 0.8 0.3-0.3-0.4-0.2-0.3-0.3 0.3-0.1-0.9-0.6-0.7-0.7-0.2M72.4 224.9l0.5-0.7-0.7-0.5-0.6-0.5-0.3-0.3M78.4 230.6l0.6-0.2-0.4-0.5 0.4-0.9 0.5-0.7M86.6 224.6l0.3 0 0.9 0.1 0.4 0.7 0.7-0.5-0.1-0.6 0 1.1-0.1 0.5 0.3-0.1M83 226.5l-0.6 0.8 0.3-0.6 0.3 0-0.1 0.4M86.2 228.5l0.4 0.2-0.3 0.5 0.3 0.3 0.3 0.7M77.4 230.8l0.3-0.5 0.2-0.9 0.8-0.1 0.2 0.7M82.4 226.8l-0.2 0.1-0.4 0.8 0 0.7-0.3-0.7M82.4 225.2l0.6 0 0.5-0.3-0.7 0-0.4-0.8 0.6 0.4 0.8 0.4 0-0.6M71.8 226.3l0.4-1 0.2 0.2 0.6-0.4 0-0.2 0 0.6M75.5 222.8l0.8-0.4-0.1-1-0.3-0.4-0.7-0.5 0.1-0.9-0.4-0.6M74.7 230l1 0.4 1-0.1-0.3 0.2 0.6 0.4-0.6 0.8M77.7 224.4l-0.7-0.3 0.3-0.2 0.2 0.2-0.3 0.1-1 0-0.5 0 0.1-0.3 0.7 0.1M85 228.9l0.4 0.2 0.7 0-0.9-0.3 0 0.5 0.2 0.1 0.7-0.7 0-0.6M76.9 226.6l0.1 0.5 0.3 0 0.6 0.9 0.2-0.1 0.7-0.4M78.5 223.6l-0.5 0.1 0.3-1.1-0.9 0.2-0.9-0.5 0.6-0.7 0.5-0.5M77.5 223.5l-0.7 0.6-0.5 0.2-0.5 0.5-1 0.4-0.6 0.7 0.2-0.8M71.7 225.3l-0.9 0.3-0.3 0 0.3 0.3 0.4-0.5-0.4-0.3 0 1 0.5 0.7-0.7-0.1M79.3 230.4l0.3 0-0.9-0.4-0.8-0.3-0.6 0-0.5 0.5 0.1-0.3 0.6-0.4" fill="none" stroke="#111" stroke-width="0.53" stroke-linejoin="round" stroke-linecap="round"/><path d="M83.6 229.1h0M78.8 225.6h0M79.3 230.6h0M72.5 229.6h0M81.1 230.1h0M76.1 230.4h0M78.2 229.6h0M87.1 225.4h0M77.6 230.5h0M72 230.5h0M80.1 228.1h0M77.1 222.3h0M76.8 230.4h0M78.8 230.4h0M73.6 229.7h0M71.5 228.5h0M80 225.9h0M82.9 230.1h0M72.4 224.9h0M78.4 230.6h0M86.6 224.6h0M83 226.5h0M86.2 228.5h0M77.4 230.8h0M82.4 226.8h0M82.4 225.2h0M71.8 226.3h0M75.5 222.8h0M74.7 230h0M77.7 224.4h0M85 228.9h0M76.9 226.6h0M78.5 223.6h0M77.5 223.5h0M71.7 225.3h0M79.3 230.4h0M79.9 231h0M79 229.9h0M78.8 229.2h0M79.6 227.2h0M82 227.9h0M77.3 230.8h0M77.9 229.6h0M78.5 230.3h0M76.8 227.2h0M77.1 229h0M79.9 227.5h0M77.6 229.2h0M76.2 228.3h0M81.9 228.4h0M76.8 230.7h0M81.8 228.3h0M76 230.1h0M80.1 227.9h0" fill="none" stroke="#111" stroke-width="1.4" stroke-linecap="round"/><path d="M79.3 231.5l0.7 0.4 0.2 0.4 0.5 0.5-0.2-0.4-0.6-0.7-0.1-0.5 0.2-0.8-0.1 0.6M79.3 231.5l0.9 0.7-0.3 0.6-1.1-0.3-1 0.3-0.4-0.4-0.6 0.6-0.6-0.6 0.5-0.6 0.5-0.4 0.7-1 0.9-0.7 0.2 0.2M79.3 231.5l-0.1 0.7-0.2 1.1 0.3-0.2-0.1-0.5 0.1-0.8 0.1-0.5 0.1-1.2 0.3-0.4-0.2-0.8-0.8 0.3M79.3 231.5l0.3-0.8-0.8-0.7 0 0.3 1.1-0.5 1-0.5-0.1-0.7-1.1-0.7-0.1-0.7M79.3 231.5l0.9-0.5 0.4-0.6 1-0.3-0.2 0.5-0.3-0.1-0.3-0.5 0.1-1 0.1-0.6 1-0.5M79.3 231.5l-0.2-0.7-0.7-0.2-0.3 0.6-0.8-0.1 0-0.3M79.3 231.5l-1.1 0.6-0.4 0.1 0.6-0.8 0.3-0.6 0.5-0.5-0.1-0.6-1.2-0.1M79.3 231.5l-0.5-0.3-0.6-1.2 0.1-0.4 0.7 0.1-0.4 0.9-0.1-0.3M79.3 231.5l0.2-0.8-0.1-0.3-0.7-0.9 0-0.7 0.2-0.9-0.6-1.1-0.3 0.4-0.3 0.5-0.4 0.2-0.5-0.7M79.3 231.5l-0.5 1-0.7-0.2 0.3-1.1-0.4-1.1 0.2-1-0.1-1-1.2-0.4-0.6-0.1 0.5 0.1-0.3 1 0.6 0.3M79.3 231.5l0.5-0.9-0.4-0.4 0.5-0.7 0.4-1.1-0.4-0.9M79.3 231.5l-0.3-0.2 0.4-1.1-1.2-0.5-0.3 0-0.3-0.5M79.3 231.5l-0.2-1.1-0.2-1.2 0.3-0.4-0.7-0.1-0.1 0.6-0.9-0.8-1-0.1-0.3-0.1M79.3 231.5l-0.6 0-0.2-0.9 0.3-0.7 0.1-0.5 1-0.2 0.1-0.9 0.4-0.2 0.9-0.7 0.6 1M79.3 231.5l-0.4 0.9-1.2-0.2-0.3-0.1-0.5 0.1-1.1-0.5-0.8-0.7 0.2-0.4 1 0.3 0.6-0.2M79.3 231.5l0.4-0.2 0.4 0.3 0.4-0.3 0.5-1.1 0.4-1 0.4-0.9M79.3 231.5l-0.2-0.3-0.4-0.5-0.5-0.4-1 0.3-0.4 0-1 0.2 0.2-0.7M79.3 231.5l0.8-0.5 1-0.5 0.3-0.9-0.5 0-0.6-0.6-0.7 1-0.2-0.7 0.3-0.8 0.4-0.6" fill="none" stroke="#111" stroke-width="0.5" stroke-linejoin="round" stroke-linecap="round"/><path d="M79.9 231l0.3-0.1 1 0.3-1-0.2-0.1 0.5M79 229.9l0.4 0.8-0.5-0.1-0.6 0-0.5 0.2 0.2 0.3 0.6-0.6 0.3-0.1M78.8 229.2l0.2-0.2 0.2 0.8-0.6 0.6 0 0.7 0.3-0.1-0.2-0.1M79.6 227.2l0.5-0.6-0.1-1.1 1 0.3 0.1-0.8-0.5-0.5-1.1-0.4-0.3-0.4M82 227.9l-0.6-0.6 1-0.4-0.2 0.7-0.3 0.4-1 0.4M77.3 230.8l-1 0 0.1 0.3 0.4-0.1 0.4 0 0.3-0.1 0.5-0.7 0.1-0.7 0.8-0.7M77.9 229.6l-0.3-0.4-0.6 0.8-0.5-0.1-0.3-0.5 0.2 0.7-0.5 0.6 0.3-0.5 0-0.4M78.5 230.3l0.4 0.3 0.2 0 0.3 0.7 0.3 0.4 0.9 0.6 0.4 0 0.9-0.1M76.8 227.2l-0.1 0.5-0.8 0.3 0.5 0.1 0.7-0.4M77.1 229l0.2-0.4-0.1-0.5-0.9 0.4-0.8-0.7-0.1-0.3-0.6 0-0.8 0.7M79.9 227.5l-0.3 0.2 0.8-0.6 0.2-0.5 0.9 0.2 0.6-0.3M77.6 229.2l0.3 0.6-0.9-0.3-0.4-0.4 0.6-0.7 0.3-0.3-0.9 0.6-0.3 1.1M76.2 228.3l-0.7-0.7 0.4-1.1 0-0.4 0.6-1 1 0.2 0.6-0.8 0.8 0.5-0.1 0.4M81.9 228.4l0-0.2 0.6-0.9 0.5 0.5 1.2 0-0.2 0.3M76.8 230.7l-0.5-0.7-0.2-1-0.9 0.1 1-0.3 0.4-0.2-0.2 0.3 0.5 0M81.8 228.3l-0.7 0.8-0.3-0.6-0.3 0.9 0.6 1 0.9 0.4M76 230.1l0.3 0.8-0.1-0.6-0.3-0.3-0.5-1-0.7 0.2-0.3 0.6 0 0.7M80.1 227.9l-0.3 0 0 0.8 0.8 0.6-0.4 0.2" fill="none" stroke="#111" stroke-width="0.75" stroke-linejoin="round" stroke-linecap="round"/><path d="M79.3 231.5l-0.8 0-0.6-0.8-1.2 0.4-0.7 0.8 0 0.5-1.1 0.5-1.2 0.7-1 0.5-0.9-0.5 0.5-0.8-0.6-0.5-0.5 1.1-0.9 1.4-1-0.1 1.1-0.1 1.3-0.1-0.6 0.5-1.1 1.1-0.7 0.6-0.8-1.1 0.5-0.4 0.8-0.6 0.7-0.5 0.4-0.5 1.2-0.4 0.4 0.2M79.3 231.5l-0.4 0-0.9 0.7-0.6 0.2 1.4-0.5 0.9-0.6 0.8 0 0.1 0.6 0.1 0.8-0.7 0.9-0.7 0-1.3 0.9 0.1 1.3 0 0.5-0.6-0.1 1.1-0.1M79.3 231.5l0.5-0.7 0.4-0.3 1.2-0.9 0.4 1.5 0.5 0.8-0.3 0.4 0.1 0.5 1.6 0.4 0.5 0.9 0.3 0.6 0.7 1.2-0.1 0.5M79.3 231.5l0.4 0.7-0.3 1.6 0.6 1.3-0.7 0.6-0.1 0.8-0.3 0.8-0.5 0.7-0.8 0.7-0.7 0.9-0.6 0 0-1.2 0.7-0.3 0.1 0.6-0.2 0.7-0.6 0.5-0.8-0.2-1.3-0.2-1.1-0.9-0.5-0.5-0.4-1.1 0.4-1.5-0.9-0.2 0-0.5-0.3-0.5 0.6-1.2M79.3 231.5l-0.5-0.3-0.5 0.8 0.4 0 0.4-0.1 0.3 1.5-0.1-0.5-0.2-1.3-0.3 0.3-1.2 0-0.5-0.4-0.3-1.5 0-0.3 0.6 0.5 1.2-0.5 0.7 0.9 0.8-0.3 1.3-0.7 1 0.9-0.3-0.8-0.1 0.7-0.2 1.3-0.5 1.1 0.3 0.9-0.6 0.7-0.2-0.4M79.3 231.5l0.1-0.4 0.3-0.6 0.6-0.9 0.6 0.5 0.2 0.7 0.4 0.9 0.7 1.3-1.3 0.4-0.4 0.7-1-0.3-1.4 0.4-1.3 0.6-0.6 0.2-0.9 1M79.3 231.5l0.5 1.3 1.1 0.6-0.1 0.8-0.3 0.7 0.3 0.7 1.4-0.1 1.5 0.4 1.6 0.6-1.1-0.6-0.9 0.7 0.6 1.6 1 1.5 1.1 0.4 0.8 0.6 0.1 1.2 0.4-0.2 0.2-1 0.1-1.3-0.2-0.4-1.6 0.2-0.2-0.3-1.2 0.3-0.4 0.8-0.6 0.3-0.8-0.5M79.3 231.5l-0.4 1.5-1.3 0-1.4-0.8-1.1-0.4-1.2 0.2-0.3 1.2 0.2 0.4 1.3 0.8 0.3 0.3 0.5 1.1M79.3 231.5l-0.7-0.9-1.4-0.6-0.7-0.4-1.2 0-0.4 0.5 0.5 1.2 0 0.4-0.4 1.1 0.7 0.9 0.5 0.1 0.7 0.6-0.5 0.9-1.3 0.1-0.4 0.3-0.3 0.6-0.4 0.6-0.1 1.6M79.3 231.5l0 1.3 0.6 1.2 0.9 0.1 0.9-0.2 1.4-0.6 0.2-1.1-0.4-1.5-1.4-0.1-1.4-0.6-0.6-0.3 0.6 0.2 0.6 1.6 0.9 0.3 0.8 0.6 0.4 0.2-0.1 1.1 1-0.1M79.3 231.5l0.8-0.5 0.5 0 1-1.2 0.7 0.3-0.1 0.6 0.9 0.4 0.5 0.4 0.5 0.4-0.1 0.7-0.1 1.5-0.4 0.3-1.5 0.3-0.6 1.5 0.6-1.3 0.9-1 1.2 0.3 0.7-0.1M79.3 231.5l-0.7-0.4 0.8-0.4 0.9-0.9-0.1-0.2-0.6 0-1.5 0.6-0.2-0.2-0.1 0.6 0.6 0.3 0.3-0.8-0.8-0.2 0 0.7-0.8 0.6-0.8 1.4 0 0.5-0.3 1.7M79.3 231.5l0.7-1 0.4-0.6 0 1.1-1 1.1-0.2 0.6-1.5-0.2-0.8 0.7-0.6 0.5-1.4-0.8-0.3 0.8M79.3 231.5l0.2-0.8 1.3-0.2-0.8 1.4 0.1 0.4-0.5 1.2 0.7 0.4 0.9-0.3 0.5 0 1.1 0.4-0.2-0.6 0-0.7 1.4 0.2M79.3 231.5l-0.5-0.6-0.5-0.4 0.4-0.8-0.1 1.1-1.6 0.5-0.1 0.5 0 0.9 0.3 1.1 0.1 0.6 0 1.5 1.3 0.5 0.5 0.3 1.2-0.4 0.5 0.1 0-1.2-1.4 0-0.1-1.1-0.2-0.5 1-0.4 0.8 1 1.4 0.5 0.4-0.9-1.3-0.2-1.6-0.3M79.3 231.5l-0.1-0.4-0.3-0.3 0-0.9-0.7-0.3-1.2 0 0 1 0.1 1-1.3 1.2-0.7 0.9-1.1 0.9-0.7 0.1-0.2-1.3 0.3-0.4-0.4-0.6M79.3 231.5l-0.1-1.2-0.8-0.2 0.6 1.7-0.8 1.5 0.1 0.8 1 0.8 0.9 1.4 1.2 0.8 0.7 0.3 1 0.6 0.7-0.3 0.5-1.4 0.3-0.4 0.3-0.8 0.1-0.8 0.7 0 0.4-0.1 0.8 0.1M79.3 231.5l0.1-1-0.6 0.2-0.2-0.3 0-0.7-0.1 1 0.5 1 0.1 1.2-0.3 0.6-1.3 0.9-1.6 0-0.4-0.7 0.2-0.4 0.2-0.2 1.4 0.8 1.5 0.4 0.2 0.6-0.4 0.7M79.3 231.5l-0.4 0.8 0.6 1.2 1 0.4 0.5 1.2 0.8-0.1 0.6-0.4 1-0.2 0.7-0.2 1.5 0.4 1.5-0.5 0.5-0.7 0.8-0.4 0.8-0.1 1 0.1 0.5 0.5-0.9 1.2-0.1 0.9-1.1-0.3-0.7-1.2-0.9-0.2-0.3 1.2M79.3 231.5l-1.6 0.2 0.2 1 0.7-0.1 0.1-0.3 1.2-0.7-0.8-1.1 0.2-0.7-1.5 0.2 0.4 0.3 0.6 0-0.1-0.7 0.2 0.5 0.1 1.6 0.3 0.7 0.5 0.5 0.6-0.4 0.7-0.3 0.7 0.8 1 0.9 0.3 0.7M79.3 231.5l0.1-0.3 0.6-0.4 0.8-0.1 1.3-0.3 0.3-0.4 0.2-0.3-0.2 1.8 0-0.8-0.8 0-0.4-1-0.9 1-0.4 1.1 0.5 0.9 0 0.6-0.5-0.1-0.6 0-0.6-0.3 0.1 1.7-0.1 1.6 0.7 0.1M79.3 231.5l-0.7 1.1 0.6 1.5-0.7 1.4-0.8 0.4-0.5-1.2 0.5-1.2 1.5-0.2 0.7 1.2 1.1 0.7 1.5 0.5 0.5-0.1 0.4-0.2 0.3-0.8 0.6 0.4 0.5-0.8 0.8-0.1 1 1.1 1.3-0.3 0.5 0.5 0.3-0.9-0.5-0.8-1-0.7-0.7-0.7M79.3 231.5l-0.1-0.6 0.6 0.5-0.9 0.2-1.2 0.5-0.4 0.1-0.5 0.9 0.4 0.9 0-0.9-0.4 0-0.2-1.5 0-0.3 0-0.7 1.4-0.4 0.4 1-0.2 0.7-0.1 0.9 0.9 1.4 0.5 1.3 0.3 0.7-0.2 0.9 1.3 1.1M79.3 231.5l0.5 0.4 0.4 0-0.1-0.7 0.8-0.3-0.2 0.4-0.9-0.2-1.5 0.4 0.2 1.3-0.3 1.6 0.3 1.5-0.7 1.2-0.8-1.4 0.7-0.5 1.3-0.5 1.1 0.7-0.1 1.6" fill="none" stroke="#f5143c" stroke-width="0.28" stroke-linejoin="round" stroke-linecap="round"/><path d="M72.5 233.4l-0.7-0.6-0.4-0.4 0.6-0.9-0.8-0.7 0.2-0.8-0.1 0-0.6-0.2-0.2-0.2M78.6 236.1l0.3 1-0.8-0.5-0.3-0.5 0.7 0-0.2-0.5 0.1-0.7 0.3-0.6 0.4-0.1M85.1 236.4l0.3 0.4 0.6 0.7 0.8-0.2 0.8-0.2-0.4-0.3 0.1 0.3 0.7 0.7 0 0.7M72 233.1l0.4 1-0.2 0.7-0.7-0.9-0.5 0M80.8 234l-0.1 0.4-0.4 0.2-0.1 0.6-0.4 0.7M75.3 236l0.5-0.3 0.3-0.1-0.4 0.1-0.4-0.1-0.5 0.9-0.5-0.1-0.6 0.4 0-0.4M82.6 239.8l-0.3 0.7 0.3 0.3-0.3-0.8 0.5-0.2 0.2-0.6-0.6 0.5 0.2-0.7M75.9 235.8l-0.4-0.2-0.4 0-0.9 0.6-0.5 0.6M73.9 238.5l-0.2-1.1 0.4 0.3 0.4 0 0.5-0.8 0.7-0.6 0.1 0.8M83.7 233.6l-0.5-0.6 0.3-0.5 0.1-0.2 0.6-0.8-0.1 0.2-0.6-0.2-0.8-0.2M84.8 234.1l-0.9 0.1-0.8-0.5-0.8 0-0.1-0.9M76 234.8l0.3-0.6-0.5 0.3 0.6 0.5-0.3 0.6 0.6 0.8-0.4-0.5M74.6 233.7l0.4-0.2-0.3 0.1-0.5 0.2-0.3 1-0.2-1.1 0.7 0.1M84 232.9l-0.5 0 0.1 0.7-0.2-0.2-0.7-0.2 0.7 0.9 0-0.3 0.3-0.5M79.8 233.3l0.5 0.8 0.4 0.8 0.6 0 0 0.3M73 232.4l-0.1-0.4-0.9 0-0.4-0.9-0.5-0.4-0.4-0.1-0.4-0.1M86.9 234.3l-0.2-0.3 0.2-0.2 0.8-0.5-0.2-0.6M78.6 235.6l-0.4 0.6 0.3-0.2-0.3 0.5 0 0.7 0.1 0.3-0.4 0.1M86.7 235.1l0.6-0.8 1.1 0 0.4 0.4-0.6 0.5M83.1 234.6l-0.8 0.7 0.1-0.5 0.1-1.2-0.5 0M79.4 236.3l0.4-0.1 0.2-0.3 0.6-0.5-0.1-0.4M86.5 232.3l0.4 0 0.4 1 0.3 0.2-0.2 0.2-0.3-0.8-0.1 0.4-0.2-0.7 0.2 1M80.9 238.2l1 0 0.3-0.5 0-0.9-0.1-0.2M80 237l0 0.4-0.5 0.2-0.5-0.1 0.4-0.8-0.5-0.5" fill="none" stroke="#f5143c" stroke-width="0.53" stroke-linejoin="round" stroke-linecap="round"/><path d="M72.5 233.4h0M78.6 236.1h0M85.1 236.4h0M72 233.1h0M80.8 234h0M75.3 236h0M82.6 239.8h0M75.9 235.8h0M73.9 238.5h0M83.7 233.6h0M84.8 234.1h0M76 234.8h0M74.6 233.7h0M84 232.9h0M79.8 233.3h0M73 232.4h0M86.9 234.3h0M78.6 235.6h0M86.7 235.1h0M83.1 234.6h0M79.4 236.3h0M86.5 232.3h0M80.9 238.2h0M80 237h0M73.9 233.8h0M80 233.2h0M84.5 234.1h0M78.2 236.1h0M78.3 232.1h0M76.6 232.5h0M76.5 235.7h0M80 232.8h0M79.2 234.8h0M81.9 233.3h0M81.2 232.9h0M80.8 236h0M83 232.6h0" fill="none" stroke="#f5143c" stroke-width="1.4" stroke-linecap="round"/><path d="M79.3 231.5l-0.6 0.4-0.4 0-0.6 1-0.3 0.4-0.8 0.8-0.6-0.2-0.3 0.1-0.6-0.2-0.3-0.1-0.5 0.5-0.4-0.4M79.3 231.5l-0.7 1-0.4 1 0.5 0.5 0.9 0.6 0.2-0.7-0.2-0.9-0.4 0.1 0.6-0.2 0.2 0.3M79.3 231.5l0.9 0.8 0.8-0.2 0.5 0 0.5 0 0.4 0.2 0.4 0.6-0.3 0.9 0.8 0.3 0.7-0.1 0.5 0.1M79.3 231.5l0 1 0 0.9-0.8 0.5 0.1 1.2-1 0-0.2 0-0.4 1-0.3 0.3 0.6 0.3 0.8 0 0.2-0.4-0.1-0.2M79.3 231.5l-0.9-0.3-1.1-0.4-0.2 1.3-0.3 1 1-0.4 0.2 0 0.3-0.6M79.3 231.5l-0.2-0.3-0.3-1.2-0.4 0.3 0.1 0.5-0.7 0.8-0.9 0.4-0.3 0.5M79.3 231.5l0.2 0.9 0.6 1.1-0.4 0.5-0.4 0-0.8 0.3-0.5 0.2-1 0.9-0.5 0.3M79.3 231.5l0.3-0.4 0.2-0.4 0.2 0 0.2 1.3-0.6 1-0.3-0.1 0.7-0.1M79.3 231.5l-0.1-0.1-0.5 0.4-0.1 0.7-0.7-0.2-0.9 0-0.5 0.3-0.4 0.6 0.1 0.4 0.5 0.2 1.1-0.2 1 0.9 0.4 0.3M79.3 231.5l-0.6 1.2 0.5 0.7 1.2 0.4 0.4 0.8 1.1 0.3 1 0 0.3-0.7-0.4-0.4-0.9-0.5M79.3 231.5l0.6-0.2 0-0.3 0.4 0.2 0.6 1.1 0.3 0.6M79.3 231.5l-0.1 1.3 1 0.5 0.5 0.4 0 0.3 0.1 0.6 0.3 0.1 0.2 1.2-0.3 1.2 0.3 0.1 0.4-0.4-0.6-0.1-0.3-0.7M79.3 231.5l0.9-0.4 1.2 0.1-0.3 0.6-0.6 0.7 0.6 1.1 1.2 0.3 0.3-0.5 0.4-0.8" fill="none" stroke="#f5143c" stroke-width="0.5" stroke-linejoin="round" stroke-linecap="round"/><path d="M73.9 233.8l0.4 0.4 0.4-0.4 0.3 0-1.1 0-0.9-0.5-0.1 0.4-0.3-0.2 0.2-0.9M80 233.2l0.5 0.3 0.3 0 0.8-0.6 0.1-0.2 1-0.4M84.5 234.1l0 0.7 0.5 0.2 0.4 0.9-0.8 0.3M78.2 236.1l-0.5-0.1-0.7-0.2 0.1-0.9-0.6 0.4-0.9-0.4-0.2 0 0.4 0.3M78.3 232.1l-0.7-0.5 0.1-1-0.5 0.3 0.1 0.7M76.6 232.5l-0.5-0.3-0.1-0.4-0.5 0.2-0.2 0.2 0 1-0.7 0.5M76.5 235.7l-0.4-0.3-0.8 0-0.9-0.2 0.2-0.2 0.1-0.5-1.1 0.3 0.2-1M80 232.8l-0.3 0-0.8 0.1 0.4-0.4 0.4 0.1 0.6 0.8M79.2 234.8l0.2-0.2 0.9 0.6 0.2 0.9-0.4-0.1-0.3-0.4M81.9 233.3l-0.2 0.3 0.6 0.2-0.1 1-0.2-0.2M81.2 232.9l0.2 0.4 0 0.4 0.6 0.6-0.6-0.4 0.6 0.3M80.8 236l-0.3-0.5 0.1-0.8-0.7 0.3-0.2 0.9 0.6 0.5 0.9 0.4M83 232.6l0-0.2-0.1-0.4-0.8 0.6-0.7 0.4-0.2 0.9-0.6 0.2-0.3 1.1" fill="none" stroke="#f5143c" stroke-width="0.75" stroke-linejoin="round" stroke-linecap="round"/></g>
<polygon points="79.35,227.85 80.26,230.29 82.87,230.41 80.83,232.03 81.52,234.54 79.35,233.10 77.18,234.54 77.87,232.03 75.83,230.41 78.44,230.29" fill="#ffee10" stroke="#e8c800" stroke-width="0.3"/>
<text x="128.9" y="190.2" font-size="11" text-anchor="end" fill="#111" stroke="#111" stroke-width="0.35">55</text>
<text x="128.9" y="280.8" font-size="11" text-anchor="end" fill="#f5143c" stroke="#f5143c" stroke-width="0.3">36</text>
<rect x="136.45" y="177.2" width="109.3" height="109.0" fill="#fff" stroke="#cfd8d5" stroke-width="1.1"/>
<path d="M191.35,177.2 V286.2 M136.45,231.55 H245.75" stroke="#c3cdc9" stroke-width="0.9" fill="none"/>
<g><path d="M190.7 232.2l-0.5-2.1 0-1.9 0.2-1.6 0.1-1.1-0.9-0.8 0.5-3.2-0.8-0.8-1.3-1.3 0.7-2.8-1-1 0.7-1.7-0.5-1.7 0.2-0.8 1.2-2.9-0.3-1.9-0.9-0.6-0.7-2.3 0.3-1.2-0.9-0.2 0.4-2.1-0.2-0.6-0.3-1.7-0.7 0.6 0.4-0.9-0.1-1.1M190.6 232.1l0.6-1.8 2 0 0.7-1.8-0.3 0 2.2-1.6 0.4 0.2 1.2-0.7 0.4-0.8 1.6 0.9 0.9-2.1 0.7-0.8 1.4 0.4-0.8 0.5 1.1-1.5 0.3-2.3 0.1-0.7 0.1-2.6-0.1-1.4-1-0.9 0.5-1-2-1.2 1-1.7-0.3-2-1.2-0.9 0.2-1-1.4-1.5-0.6-1-0.7 0.4-1.6-0.6 0.3 0.3-0.2-0.2-0.5 2.7-1.1-1.4-0.8 0.3-0.6 0.8-0.1 1-2.2 2.1 1.7-0.5-0.8 1.5-0.4-0.7M191.8 231.5l-1.3-0.5-1.2-1.5-1.5 0.8-0.9-1.3-2.1-1.5-0.6-0.9-0.7-1.4 0.1-0.6-1.3-1.5-0.7-2.1-1.4-0.1-0.5-0.6-0.5-2.7-1.1 0.4-0.8-1.5M191.4 231.4l-2.3-0.9-1-0.6-2.3 0.8-0.7-1.6-1.8-0.5-1-1.7-1.1-0.4-2.3 0.2-0.2-0.6-0.3-0.7-2 0.7 0.7-0.9-2.4-0.5-0.7-0.5-0.7-0.7M191.3 231.4l2.7 0.6 1.5-0.1 2.5-1.6 2.4-0.7 1.3-0.5 0.6 1 1.2 0.6 1.1 1.1 0.9-1.1 2.2 0.3 0.7-1.2 0.9-0.3 0.7 0.7 2-1.7 0.3 0.9 1.5-2.2 0.8 0.4 0.2-1.7 0.7-1.1 1.1-0.1 1.6-0.6 0.3-0.4-0.1 0-0.1-0.3 1-0.9M190.7 232.2l2.2-1.7 1.2-0.5 1.7-1.6 1.6-0.7 1.8-2 1.4 1.8 1.1-1.2 1.1 1.1 0.7 0.9 1.7-0.8 0.8-0.1 1 0.1 1.7-0.1 1.4 2.6 1.7-0.2-0.2-2 1.3 0.5 0.4-1.3 1.4-1.2 0.6-0.3M191.1 231.6l-0.8-0.7-1.2-2.3-0.3-1.7-1.5-0.4-0.1-1.1-1-1.5-0.9-1.7-0.7 0-0.2-2.1-0.1-0.6M190.8 231.8l2.4-0.1 2.5-0.7 2.3 0.4 2.9-0.6 2.8-0.7 0.9 1 0.8-0.4 1.6 2.3 1.2-1 1.1 0.5M191.5 231l-2.9-0.9-2.5 0.9-2-0.8-2.9 0.1-2.1-0.3-1.7 0.7-0.7-0.6-0.4 0.1-1 0.3" fill="none" stroke="#7d8683" stroke-width="0.55" stroke-linejoin="round" stroke-linecap="round"/><path d="M186.3 196.5l-0.5 1.2-0.4-0.1 0.2-0.3 0.4 0.4 0.3 0-0.1-0.2 0.7 0.3 0.7-0.6 0.4-0.1M191.3 210.5l0.4-0.6 0.3 0 1-0.6-0.3-0.6-0.5 0.5 0.6 1-0.8 0.3-0.4 0.4-0.2 0.5M177.3 216.5l0 0.3-0.8 0.2-0.3 0.2-0.8 0.9-0.1 0.5 1.1-0.5 0.2-0.7 0.1-0.7 0.3-0.8M173.3 223.5l-0.1-0.3-0.5-1 0.4-1-0.9-0.7 0.3-1 0.8-0.3 0.3-0.3 0 1.1 0.4-1M219.3 222.5l0.1-0.4-0.2-0.3 0.4 0.5-0.1 0.6-0.1 0.6-0.2 0.6 0.8 0.3 0.1-0.5 0.2-0.8M215.3 225.5l-0.5 0.2-0.1 0.5 1.1 0.1-0.4 0.1-0.7 0.5-0.7 0.3-0.9-0.3-0.6-0.1 0-1.2M184.3 219.5l0.5 0.5 0.7 0.7 1.2 0.1 0.6-0.8 0.9 0.1 0.7-0.1 1 0.3 0.2 0.3 0.8 0.3M209.3 232.5l0.3 0.3 0.5 0.1-0.2-0.9 0.4 0 0 0.5 0.1 0.4-0.5 0.5 0.5 0.2-0.2-0.5M175.3 230.5l-0.2 0.1 0.7 0.7 1.1 0.7 0.7 0.1 0.5 0 0.3-0.7-0.4-0.7 0.4-0.9-0.5 0" fill="none" stroke="#111" stroke-width="0.7" stroke-linejoin="round" stroke-linecap="round"/><path d="M186.3 196.5h0M191.3 210.5h0M177.3 216.5h0M173.3 223.5h0M219.3 222.5h0M215.3 225.5h0M184.3 219.5h0M209.3 232.5h0M175.3 230.5h0" fill="none" stroke="#111" stroke-width="1.8" stroke-linecap="round"/><path d="M192.5 233.4l-3 0.2-2.5-1.5-0.9-0.3-0.6 3.2-2.7 0.7-2.3 1.1 1.3 0.7-0.3-0.8-1.3 2.9-0.2-1.1 0.2 1.9-0.8 2.4-2 0.1-2.1 0-1.3-0.4 0.5 1.3-1-1.7 0.4 0.5-1.9-0.1-2.1-0.8 0 0.5-0.6-0.2 0.4 2.6 0 0.7-1.1 0.5-1.4-0.7-1.1 2.3-1.1-0.6-0.1 0.2-2-1.7 0.8 3.4-1.6-1.4 1 0.3-2.8 0.1 0.6 1-1-1.9 1.1 0.2 0.8 1.6 2.2 1.4-0.1 0.5 2.2-1.7-0.3 0.3 2.2 0.7 0.2-0.1 0.7-0.2 2-0.9-1.9 2.2 1.2 0.3-0.8 1.8 1.5 1.7-2.3-0.2 2.1 1.8 0 0.4-0.6 1 2.7 1.6 0.1-1.5-1.2-0.1 2.3-0.8 0.9 0.6 1 1.3 1.4-1.4 1.8 1.7-0.8 0.7 0.1 1.5-1.3-0.9 2.4-0.5 0.7 0.2 2.1 0.4 0.4-0.1-0.2-0.9 2.8-2.6-0.3-0.2 0.4 0.3-0.3 0.2 1.2-1.6M190.5 232l1.5 0.3 1.3 0.3 1.7 0.6 0.7 1.6 1.5 0 0.9 0.4 2.1 0.9 1.3 0.2 1.5-0.5 0.9-0.2 1.2-0.1 0.1 0.2 0.5 0.5 1.3 0.1 1.6 0.6 1.4-0.7 0.2 0 0.7 0.8 1.1-0.8 1.3-0.7M191.4 232.2l-0.7 1.3-2.1 0-0.5 2.7-1.4 0.4-1.4 2.3-0.1 1.3-1.3 0.5-0.8 1.7-0.8 1.2-0.3 0.2 0.6 1.4 0.9 1.2-0.3 2.4 0.1-0.1 0 1.8M190.5 232.2l0.8 1.3-1 1.8 0.3 1.1-0.2 0.7 0.1 2.5 0.4 1.1 0.4 0.4-0.3 2.5 0.4 1.8-0.4 0.8 0.5 0.2-0.7 0.1 0.5 0.9-0.5 0.3-0.5 0.8M191.4 231.8l1.5 1.2 0.6 2 0.7 2.4 0.7 1.9 1.1 0.5 1 2.3 0 1.7 0.2 2.8 0.8 0.5-0.3 1.5 1.6 0.3-0.2 1 1.2 1.1 0 1.1 1 0.4M192.4 231.2l1.4 1.2 0.9 2.5 1.2 0.2 1 3.2 2.7 1.2 0.8 0.7 1.1 2.2-0.3 0.3-0.1 1.5 0.6 1.9 0 0.3-1.2 1.2-0.5 1.4-1.2 0.6 0.5 0.9M191.8 231.9l-1.9 0.8-2.7 0.8-3 0.9-1 0.4-1.8 0.7-0.9 0.7 0.1 0.9-0.3-1.5-1.7 1.1-0.3 0.8M192.9 231.3l0.4 1.2 2.6 0.5 0.7 0.5 3.3 1.1 1.6 0.3 0.4 0.3 0 1.5 1.6-0.4 1.6 1.7 0.2 0.5" fill="none" stroke="#ff8fba" stroke-width="0.8" stroke-linejoin="round" stroke-linecap="round"/><path d="M186.3 255.5l0.7-0.1 0.7-0.8 0.9-0.6 0.4 0 0.9 0.2 0.5 0.5 0.1 0.8-0.5 1 0.6 0.3M213.3 235.5l0.9-0.3 0.4-0.5-0.9 0.3-0.1-0.8-0.8-0.2-0.2 0.2 0.4 1.2 0.8 0.7 0.1 0.7M183.3 250.5l0.8 1 0.6-0.3 0.1 0.8 1.1 0-0.3-0.8-0.2-0.3-0.3-1.2 0.3-0.9 0.2-0.4M190.3 248.5l-0.4-0.5-0.8-0.9-0.1-0.6-0.5-0.3-0.3-0.1 1.2 0.3 0.3-0.4-0.5-0.6-0.7-0.6M201.3 252.5l0.3 0.2 1-0.1 0-0.4-0.5 0.3 0.2 1 0.3 0.5 0.5 0.1 0 0.3 0.3 0.3M199.3 250.5l0.7 0.7-0.3-1.1 0.3-0.3 0.4-0.4 0-0.3 0.3-0.3 0.1-0.9 0.8-0.3 0.9-0.1M178.3 237.5l-0.7 0.2-0.3-0.1-0.3 0 0 0.7-0.7 0.3-0.8 0.1-0.3 0.4 0.1 0.4-0.3 0.9M205.3 238.5l1.1 0.5 1.2 0.4-0.1-0.9 0.6 0 0.4 1.1 0.8-0.7-0.5-0.4 0.1-0.9 0.8 0.4" fill="none" stroke="#f5143c" stroke-width="0.7" stroke-linejoin="round" stroke-linecap="round"/><path d="M186.3 255.5h0M213.3 235.5h0M183.3 250.5h0M190.3 248.5h0M201.3 252.5h0M199.3 250.5h0M178.3 237.5h0M205.3 238.5h0" fill="none" stroke="#f5143c" stroke-width="1.8" stroke-linecap="round"/><path d="M191.3 231.5l-0.4 0.4-0.2-0.6 0.8 0.2 0.3 0.6 0.1 1.4-1-1-0.1-0.4-0.3-1.6M191.3 231.5l-1.1 0.8-1.3-0.2 0.4 0.7 1.1 0.2 1 0.1 0.5-1.1 0.8-1.1 0.2-1.7-0.6-1.6 1.1-0.4 1.2 0.1 0.4-0.1 1-0.4 1.5-0.6-0.6-0.3-0.3-0.6 0.3-0.8 0.7-1.6 0.1 0.5-0.9-0.6-0.3 1 1 0.5 0.5 0.2 0.8 0.1 1.5 0 0.7 0.6 1.5 0.4 0.7-0.8-0.7 0.1-0.7-0.4M191.3 231.5l0.7 1.4-0.8 0.3-0.7-0.4-1-0.8-0.5-1.3 0.3 0 0.9-0.2 1.3 0.1 0.9-1.5 0.6-0.8 0.4-0.1 0.2-1.3 0.4-0.7 0.5-0.9 1-0.1 0.3-0.6 1.5 0.2 0.7-1.4-0.1-0.9-0.6 0.2-1.6-0.2-0.3-0.4-1.3-1-1.3-1M191.3 231.5l0.5 1.1-1.3-1.1-0.9-0.2 0.5 1.1-1.4 0.2-1.1-1.2-0.8 0.1-0.6-0.3-0.9 1-0.9 0.2 0.2 0.5-0.6 0.3-1.3 0.2 1-1.2 0.5-0.4 0.1 0.6-0.7 0.7-0.9 0.2-0.4 0.1-0.4-0.9-1.2 0.6-1.1-0.8 0.8-1.2 1.2-0.2 1.5 0.1M191.3 231.5l0.9 1-0.3 0.6 0-0.2 1.1-0.5 0.3-0.4 0.4-1.3 0.9-0.2 0.6-0.3-0.8-0.9 0-1.2 0.8-1.4 1.1-0.5 0 1.4-0.6 0-1.4-0.3-1.7 0.1-1 1.1-0.1 1.3-0.5 0.5-1.4 0.5M191.3 231.5l1.1 0.1-0.1-1.2-0.2-0.8 0.4-0.4 0.6-0.9 0.1-0.5 0-1.1-0.2-1.3-0.7-0.4-1-0.2 0.3 1.4 0.3 0.1 0.4 0.6M191.3 231.5l1.1 0.7 1.1 0.4 1.2-0.9-0.2-1 0-0.8 1.6-0.7 0.7-0.1 1.1-0.1-0.2 0-1.5 0.4-1.5-0.2-0.8-1.5 0.3-0.7M191.3 231.5l-0.1-0.9-0.1-0.5-0.7-1.4-0.6-1.5-0.1 0.3-0.1 0.6-0.5 0.3-1.3 0.7M191.3 231.5l-0.1 1.1-0.6-0.7-1 0.2-0.3 0.3-1-0.8-1.4-0.8-0.4-0.6-0.3-0.6-0.2-1.5 0.9-0.8 0.9-1.3M191.3 231.5l-0.6-0.2 0.5-0.5 1.6-0.3-0.5 0.3-1.2 0.3-0.9 0.3-0.6 0-0.4-1-0.5-1.6-1.5-0.1-0.4-0.3-0.4-0.8 0.2-0.6 0.7-0.8 0.8-1.3 0 0.8 0.3 0.3 0.8 1.1-0.2 0.5-0.5 0.3-1.4 0.7-0.6-0.2-1.5 0.3-1 1.1 1.2-0.6 1.3-0.9 0.3-0.5M191.3 231.5l0.3-1.6 1.5-0.6 0.7-1.1-0.1-1.8 0.6-1.6-0.8-0.3 0.9-1.1-0.5 1.2-0.2 0.2-0.9-0.5-0.7-0.8-0.5-1.5-1.3-0.5-0.5-0.6-0.4-1.2-0.7 1.1 0.1 1.3 0.4 0.5 0 0.5 0.4 1.4 0.2 1.6 0.3 1.5 0.7 0.5 0.4 0.6M191.3 231.5l-1.2-1.1-0.1-0.7-1.3 0.4-0.7-0.4-1.2-0.6-0.4-1.1-0.4-0.8-0.7-1.5-0.5-0.8 0.3-1.4 1.2 0.6 0.1 0.8M191.3 231.5l-0.2-1.1-0.5-0.1 0.3-1.6 0.7-1.1-0.8-0.9 0.7 1 0.1 1.5 0 1.1M191.3 231.5l-1 0.1-1.1-0.3-0.4-0.8-0.2-0.8-0.6-0.7-0.2-1.4 0-0.6 0.2 0.6 0.3 0.5 0.6-0.4 1-1.1-0.4-1.7 0.4-0.6 0.9 0.4-0.3 1.4 0.5 0.4M191.3 231.5l0.8 0.1 0.6-0.1 0.7 0.5-1 1.2-0.7 0.3 0.4-0.6 0.3-0.7-0.4-0.9-1.2-1.3-0.6-0.8-0.5-0.4-0.3-0.6 0.8-1 1.4-0.5M191.3 231.5l0.6 0.1-0.5 0.7-0.5 0.3 0-1.2 0.8-1.2 0.9-0.8 0.5-0.3-1 0.5 0.9 1 0.2 0.6-0.4-0.3-0.1-0.9 0.2-1.5M191.3 231.5l-1.2-0.9 0.2-0.4 0.4-1.3-0.2-0.7 0.8-0.4 0.8-1.1 0.7 0.3 1.1 0.1 0.9 0.4 0.7 0.4 1.5-0.5 0.5-1.1 0.5-0.4 0.7-0.6 0.7 0.1 0.3-0.6 1.1-0.1 0.6-0.9 0.5-1.2-0.9-0.9-1.1 1-1.1-0.6 0.6-1.3 0.3-0.2 1.1-0.1 1 0.7 0.6 1.1 0.4 0.7-1.3 0.5-0.3 0.6 1 0.1 0.3-0.3 0.8 0.7-1 1-0.4 0.5M191.3 231.5l0.9 1.3 1 0.6 0.4-0.4 0.5-0.5 0.7 0.7-0.2 0.2-1.3-0.3-0.9-0.4-1-0.4-0.8-0.8 0-0.4-0.1-1.2-0.3-0.7-0.5-0.3-0.2-0.8-0.8-0.1-1.5-0.1-1.3-0.4-1.5 0.1-0.5-0.6-0.8-0.1 0.9 1 0.6-0.3M191.3 231.5l0.5 0.6-0.1-1.5-1.3-1.1 1.2-0.4 0.3-0.6 1.2-0.9 0.8 1.2 0.7 0.2 0.3 1.5-0.5 1-0.9 0.2 0 0.9 0 0.3 1.4-0.7-0.2-0.9-1.2-0.4-1.4-1-0.5-0.3-0.8-0.6-1.1-0.9-1-1.1 0.5 0.1 1.1 0.5 0.4-0.2 1.2-0.1 0.2-0.4-0.3-0.6-0.4-0.9-0.4-1.7M191.3 231.5l0.9 1-1.4 0.6-0.8 0-1.3-0.9 0.2 0.8 0 0.4-1.5-0.2 0.4 0.3-0.4-0.7-1.2-0.3-0.6 0.2 0.3-1.1 0.5-0.7 0.6-0.6 0.4-1 0.9-0.4 0.1-1.3 0.6-0.4 0.6-0.9 1.2-0.6 1 0.1 1.6 0.3 1.5 0.3 0.8-0.6-0.2-1.7 0.8 0.9 0.9 0.8M191.3 231.5l-0.7-1-0.1 1.1-0.3 0.8-0.5-0.5-1.4 0.5-0.2 0.6 0.9 0.5 0.6-1.3 1.1-0.8 0.9-0.8 0.2-0.8 0.5 0.1M191.3 231.5l-0.8 0.8-0.4 0.7 0.7 0.2 0.9 0.1 0.8-0.4 0.6-1.2 0.5-0.6 1.5-0.7 1-0.4 1.1-0.1 0.9 0.2 0 1-0.4 1-0.6 0.9-0.2 0.3 0.8-0.7 0.5-1 1-1.1 0.7-0.2 0.3-0.7M191.3 231.5l0.5-0.9-0.7-1.6-1.2-0.8 0.3-0.6 0.1-0.9 0.2-1.6 0-1.4 0.2-1.1-1.3-0.1-0.1 1.1 0.2 1 0.4 0.5 0.3 0.2-0.4 0.7 1.1 0.9 0.6-0.4M191.3 231.5l1.2 0.9 0.6-1.1 0.7-0.1 0.6 0.3 0.7-0.6 0-0.5-0.2-0.5-1.5-0.3 0.3 0.8 0.1 1.3-0.2 0.8 0.8 0.7 1.5 0.1 0.4 0 1.1-0.3 0.3 0.5 1.4-0.7-0.3-1.5-0.4-1.3-0.3-0.5-0.2-1.1 0.4-0.6 1.1-0.1 0.6-0.1M191.3 231.5l-0.2 0.4-0.5 1.3-0.9 0.1-1.3-0.5 0.1 0 0.4-1.1 1.2-0.3 0.4-0.8M191.3 231.5l1-0.4 0.7-1.4 0.1-0.9-0.6-0.7-1.5-0.7-0.7 0.2-0.8-0.3-1.6 0.3 0.4-0.4 1.1-0.4-1.4-0.8-1.4-0.3 1.1-0.6-1.1-1.3-0.2-0.6 0.4-0.2 1.6-0.1-0.4 0.4 0.7-0.6M191.3 231.5l0 0.7-0.3 1-1-0.1-0.6-0.4 0-1.6 0.7-1.2 0.2-0.6-0.7-1.2 0.4-0.8 0.5-0.4 1 0.4 0.8 0.6M191.3 231.5l-1.4 0.7-0.3 0.3 1.2 0.7 0.6-0.1 0.5 0 0.1-0.7 0.3-0.9-0.7-0.4-0.1 0.7-0.4-1-0.7 0.1-0.5-0.5-0.6-1.3 1.6-0.7 0.3-0.4 0.1-0.4 0.7 0.7 0.5 0.4 0.5 0.3 0.7 0.3 0 0.5-0.1 0.3 0.2 1.4 1.1 1.1 0.3 0.7-0.1-0.8-0.1-0.5-1 0-0.6-0.2-0.9-1.2-1.3-0.5-0.5-0.7M191.3 231.5l-0.5-0.5-1 0-1.4-0.2-1.4 0.8-0.8 1.3 0.3 0.6-0.3-0.5-1-1 0.4-1.7-0.8-0.3 0.4-1.2 0.3-0.9-0.5-0.1 0.7 0.9 0.8 0.3 0.5-0.1 0.3-1-0.4-0.4-0.8 1.1 0.6-0.1 0.5-0.2-0.5 1.4-0.5 1-0.9 0.3M191.3 231.5l-0.4 0.5-0.4 0.1-1-0.2-0.2-1.3 1 0.1 1.2 0.4 1.1 0.3-0.2 1.2 0.7 0.7-1.3-0.2 0.6-1.5 0.4-1.3M191.3 231.5l-0.5 0-1.3 0.8-0.5 1-0.9-1.1 0-0.8-1.5-0.6-0.1-1 1.2-1.1-1.2-0.2-1.3-0.4-1.5 0.1-0.2 0.7-1.4-0.6M191.3 231.5l0.3-0.5 1-0.6-0.3-0.7-0.1-1.1-0.6-1.1-0.3-0.3 0.9-0.9 0.3-0.6 1.4 0.7-1.4 0-0.8 1 0.6 0.8 0.4 1.3-0.1 0.3 0.6 0 1.4-0.9 0.5-0.5 0.9-0.5 0-1.3-1.2 1.1-0.2 0.3-1.1 0.5 0-0.9 1.2-0.8 0.4-0.5 0.4-0.9 0.7-1.5-1.5 0.3-1-0.8-1.6-0.6 0-1.6-1.5 0-0.3-0.7M191.3 231.5l1.3 0.5 0.2 1.4 0.6 0.1 0.2-0.5-0.6-1.7-0.5-1.4 0.7-0.8-0.2 1.4-0.7-1-0.5-0.7-1-1.5-0.7-1.2-0.5-0.3 0.2 0.1 0.6 0.7 0.1 0.8 0.3 1.2-0.6 0.8 0.6 0.8 1-0.8-0.7-0.1M191.3 231.5l0.8-1.4 1.3 0.8 0.2 0.8-1.2 0.9 0.1 0.6 0.9-0.8 0.8 0.2-0.9 0.9 0-1.2-0.7-1.1-0.4-0.9-1-0.6 0.1 0.6 0.5-0.1M191.3 231.5l0.2 0.3 1.4-0.1 0.5 0 1.2-0.3 1 0.2-0.4 0.8 0.2 0.8-0.5-1.7-0.7 0-0.6-1.6M191.3 231.5l0.5 0.1 1-0.6-0.3-0.3 1.6-0.4 1.2-0.7 0.4 0.8 0.1 0.4 1.1-1 0.3 1.1 0.4 0.9-0.5 0.5-0.6-0.1-0.5-0.5-1.3-0.7 0.1 0.5 1 1.1 0.5-1.1 0.9-0.1 1-0.5 0.5 0 0.5 0.4 0.9 0.2-0.3-0.5M191.3 231.5l-0.1-0.6 0.8-1.2 0.7-1.5 0.6-1.1-0.1-1.1 1.6-0.3 0.1 0.2-1 0.7-1.6-0.2-1.3-0.6-0.9 0.6-0.4 0.4-0.5-0.4-0.9 0.1-0.4 0.2-0.1 0.3 0.7 1.1 0.8-0.1-0.4-1.7-0.4-0.2-0.5 0-1 0.3-0.1 1.2 0.3-0.2 1.5-0.3 1.2-0.8 1.2 0.9 0.8 0 0.3-1.5-0.2-0.7 0.9 0.9-0.5 0.2 0.7 1.2-0.5 0.7-0.5 0.6M191.3 231.5l1 1-1 0.1-0.3 0.8-0.8-0.2-1-1 0.7-1.1 0.3-1.5-1.4 0.5-0.9 1-0.1 0.8-0.1 0.9 0.1 0 0.2-1.6-0.2-1 0.5-0.3 0.3-0.4 0.1-0.5 1.6 0.6-0.9 0-0.6-0.7 1.4 0 0.1-0.9 0.6-0.7 1.3-0.8-0.2-1-1.3-0.3-0.2-0.4 0.7 0.5 0.5-0.9 0.6-0.3 0.8 0.4 0.7 0.4 1 1.2-0.3 0.6 0.2 0.3 0.7 0.3M191.3 231.5l-0.8-1.4-1.1 0.2-0.3 0.2-0.4 1-1.6 0.1-1.6 0.6-0.3 1.1-0.7 0.1-0.9-0.4-0.5 0-1.7 0.2-0.9 0.1-1.4-0.7-0.3 0.3-0.1-1.2 0.1-0.7M191.3 231.5l0.4-0.1 0.8 0.4 0.9-1 0.5-0.8-0.1-1 0.1-0.8-1-0.2-0.5-0.6-1-1.2-1.5-0.5-1-0.6-0.2-0.5-1.4 0.1-0.6 0.1-1.1 0.1-0.7 0.5 0 0.7-1.1 0.7-0.7 0.5-0.6 0.4 0.4 1.3 1.4-0.9 0.2 0.2 1.3 0M191.3 231.5l0.5-0.1-0.3-0.3-1.3-0.6-1.1 0-1.6-0.4-1 0.2-0.4-0.1 0.2-1 0-0.5 0-0.6 0-1-0.5-1.2 0.3-0.3 0.9 0.6M191.3 231.5l-0.3 1.5-1.5 0.2-1-0.4-0.4-0.6-0.9 1.2-0.2-0.4-0.2-0.5 0.5-1.2 0.4-0.8-0.7-0.1-0.2 0.3-0.2-1.7-1.4 0.5-1 1.1-0.9 1.3 0 0.4-0.5 0.6-0.6 0.5-1.3-0.4-1.1 0.3-0.9-0.1-0.3-0.8 0.1-0.7-0.6 0.7 1.4-0.9-0.8-0.7 0.1-0.8-1-1.1 1.5-0.5 0.4 0.1 1.3 0.1 0.5-0.5M191.3 231.5l-0.6 0.1 0-0.5 0-1 0-1 0.6-1.4 1-0.9 0.6 0 1.1 0.1-0.8 1.5-1.2 0.9M191.3 231.5l0.1-0.5-1.1-1.1-0.7 0.9-0.2 0.4 0.4 0.9 0.9-0.6 0.3-0.6 1.1-1 0.2-1.4 0.5-1 0.4-0.8-0.3-0.4-0.5-0.8 0.8-0.9 0.3-0.4 0.4 0.2 0.9 0.1 0.7 0.7 0.2 0.2-0.4 1.5-0.2 0.2-0.7 0.3 1.1 0.1 1.1 0.9-0.7 0.3-0.9 0.8 0.5-0.1 1.1-0.4 0.7-1.6M191.3 231.5l-0.4-0.3-0.8-0.1-1.6-0.3-0.3-1.5 0.3-1.4 0.7-0.8 1.3-0.1 0.2 0.4 0.3 0.2 0-0.8-1.1-0.8" fill="none" stroke="#111" stroke-width="0.28" stroke-linejoin="round" stroke-linecap="round"/><path d="M190.5 230.5l0.9-0.1 1-0.2 1-0.3 0.6 0.1-0.3 0.3 0.1 0.3M201.8 224.5l-0.4-0.1-0.3 0.5-0.4 0.3-0.3 0.3 0.7-0.2 0.7 0.1 0.8 0.4-0.4 0.4M192.8 220.1l-0.9-0.1 0.9-0.5 0.6-0.7 0.1-1.1 0.4 0.1 0.1-1M183.1 231l0.1-0.3-0.4-0.6-0.1-0.3 0.6 0.2-0.5-0.4-0.5 0.1 0 0.5M189.6 230.8l0.3 0.4 0 0.8 0.5 0.7 0.8-0.3 0.7 0.5 0.7 0.4M192.3 226.9l0.2 0.2 0.2 0.7-0.1 0.3 0.2 0.6 0.6 0 0.6-0.9M194.2 227l-0.8-0.7-0.5-0.3-0.5 0.8-0.5 0.2 0 0.4-0.5 0.7 0.7 0.4M187.8 229.1l0 1-0.6 0.9 0.3 0.7-0.7 0.4M187.8 226l0.4-0.3 0.9-0.7-0.1-0.3 0.3-0.3 1-0.1M186.8 227.8l0.6-0.2-0.4 0.3 0.9 0.1 0.4 0.2-0.1-0.3M191.2 228.7l0.3-0.2 0.6 0.5 0.3 0.5 0.8 0.3 0.4 0.1-0.8-0.5 0.4 0.2 0.1 1M186.4 224.9l-0.1 0.4 0.7 0.5 0.9-0.5 0.7-0.3 0.3-0.5M191.6 230.3l0.4-1 0.5 0.8-0.7-0.2-0.3-0.7-0.5-0.2-0.7 0.1-0.5-0.2M191 226.5l-0.2 0-0.3-0.6 0-0.7 0.1 0.3 0.5 0.2 0-0.3M191.6 226.7l0.3-0.2-0.4-1 1 0.1-1.1 0.1 0.2-0.3 0.4 0.7M192.9 228.5l-0.2 0.1 0.4-0.5 0.7-0.4-0.1 0.2M201.9 226.1l0.3 0.2-0.6 0.6 0 0.5 0 0.4 0.1 0.4 0 0.9-0.2-0.2-0.9-0.5M184.6 227.6l0.3-0.7 0.4 0.9 0.1 0.7-0.6 0-0.3 0.1M191 223.7l-0.4 0.9-0.1 0.7-0.1-0.7-0.5-0.2 0.2-0.6-0.6 0.1M197.2 225.8l0.4-0.3 0.6-0.4-0.5 0.3 0.4 0.5 0.2 0.1 0.2 0.2-0.9 0.2M192.3 229.9l0.3-1-0.2 0.7-0.6 0.3 0.4-0.7 0.3-0.2 0.5-1 0.3-0.9-0.1-0.4M200.2 229.6l0 0.3-0.1 0.6 0.1 0.9 0.7 0.8-0.3-0.7-0.4-0.4M191.5 226.5l0.7 0.6 0.8 0.5 0.5 0.7-0.4-0.5 0.6 0 0.7 0.7M200 227.6l0-0.3 1 0 0.2-0.5 0.4-0.5 0.3 0.4 0.2 0.2M190.5 230.6l0.9 0.4-0.4 1-0.3 0.1-0.1 0.3 0 0.8-1 0.3-0.2-0.3M188.7 222.7l0.2 0.4-0.5 0.9 0.4 0.3 0.4 0M192.3 227.9l0.6 0 0.1 0.4 0.3 0.4-0.5 0.2-1-0.1 0.5 0.4 0.5-0.9-0.4-0.4M190.7 229.4l0.2 0.2 0.5-0.3 0.4 0.6 0.3-0.6-0.4-0.4 0.1-0.7-0.2-0.3-0.7-0.3M185.3 231l0.9 0.3 0.3 0.7 1-0.6 0.3 0-0.7-0.3-0.3-0.2 0.5-0.8M192.8 230.3l0.9-0.4 0 0.3-0.9 0.5 0-1-0.6-0.4-0.2 0M182.1 228.3l0.8-0.6-0.3-0.7 0.5-0.5-0.6 0.6-0.5 0.1 0.8-0.5M190.3 220.5l-0.5 0.9-0.3 0.1-0.6 0.3-0.2-0.8-0.3-0.2-0.9-0.6 1-0.2M191.1 229.3l-0.1 0.3 0.9-0.7 0.7-0.3 0.4-0.1-0.2 0.5M191.8 230.2l0.3 0.1 0.6-0.5 0.7 0.8 0.9 0.5 0.6 0 0.3 0.9M193.6 229.9l0.4 0.5 0.1 0.7-0.5 0.8-0.1 0.5-0.2 0.7M199.8 231l0.7 0.9-0.8-0.1 0.2-0.8 0.4 0.5 0.6 0.1 0.1-0.5M192.1 228.6l-0.1 0.4-0.5-0.3 0.1-1.1-0.1-0.2M195.4 227.3l-0.3-0.2-0.1 0.5 0.8 0.5 0.4 0.6M178.8 231l-0.1 0.6 0.5-0.5 0.1-0.7-0.9 0.4 0.7 0.2 0.3-0.1-0.8-0.4-0.7 0.5M185.8 228.3l0.2-0.6 0.2-0.3 0.3-0.9 1.1-0.3 0.7 0.6 0.4-0.9-0.4-0.3M187 226.2l0.2 0.3 0.8-0.3 0.9 0 0.8-0.2M181.5 228.1l0.6 0.1 0.8-0.4 0.2 0.2 0.2-0.2-0.1 0.6 0.8-0.2 0.5-0.8-0.2-0.3M192 229.3l0.6 0.3-0.6-0.5-0.3-0.2 0 0.3-0.2 0.7M197.3 227.4l0.6 0.3-0.1 0.5-0.3-0.2-0.6-0.8-0.6 0.1 0.3 1-0.8-0.1 0.7 0.1M189.9 226l0.7-0.3 0.8-0.1-0.4-1-0.2-0.2" fill="none" stroke="#111" stroke-width="0.53" stroke-linejoin="round" stroke-linecap="round"/><path d="M190.5 230.5h0M201.8 224.5h0M192.8 220.1h0M183.1 231h0M189.6 230.8h0M192.3 226.9h0M194.2 227h0M187.8 229.1h0M187.8 226h0M186.8 227.8h0M191.2 228.7h0M186.4 224.9h0M191.6 230.3h0M191 226.5h0M191.6 226.7h0M192.9 228.5h0M201.9 226.1h0M184.6 227.6h0M191 223.7h0M197.2 225.8h0M192.3 229.9h0M200.2 229.6h0M191.5 226.5h0M200 227.6h0M190.5 230.6h0M188.7 222.7h0M192.3 227.9h0M190.7 229.4h0M185.3 231h0M192.8 230.3h0M182.1 228.3h0M190.3 220.5h0M191.1 229.3h0M191.8 230.2h0M193.6 229.9h0M199.8 231h0M192.1 228.6h0M195.4 227.3h0M178.8 231h0M185.8 228.3h0M187 226.2h0M181.5 228.1h0M192 229.3h0M197.3 227.4h0M189.9 226h0M194.4 231h0M185.5 227.6h0M194.2 226.8h0M188.4 230.8h0M191.7 228.1h0M191.3 230.5h0M190.4 228.3h0M192.4 228.2h0M198 230h0M189.2 231h0M191.2 228.1h0M195.3 229.2h0M192.1 226.8h0M192.6 227.4h0M194.5 227.4h0M190 224.9h0M186.3 228.5h0M190 228.2h0M192.5 228.9h0M190 228.8h0M190.6 230.5h0M195.6 227.3h0" fill="none" stroke="#111" stroke-width="1.4" stroke-linecap="round"/><path d="M191.3 231.5l0.6-0.2 0-1.4-0.1-0.6-0.1 0.6 1 0.6 0.4 0.4 0.9 0.7 0.9-0.6-0.2-1.2-0.4 0.9 0.1 0.3M191.3 231.5l-0.4 0.8-0.6 0.3-0.2 0.3-0.3 0.5-0.9-0.8 0-1 0.2-1.1-0.1-0.9-0.9-0.6-0.7-0.8-1-0.1-0.9-0.5M191.3 231.5l0.5-1.1-0.1-0.4 0.5-0.4 0.6-1 0.4-0.7 1-0.3 0.1-0.4-0.1-0.4M191.3 231.5l-0.3 0.8-0.8-0.3-0.4-0.5-1.2 0.2 0.1-0.3-0.3-0.6M191.3 231.5l0.3-0.4-0.2-0.8 1-0.5 0.3 0.1 0.7-0.1 0.3 0.8-0.9 0-0.4-0.2-0.2-0.4-0.3-0.8-0.2-0.7 0-0.4M191.3 231.5l0.4 0 0 0.3 0.1 0.4-0.8 0.4-0.4-1.2 0.7-0.9M191.3 231.5l-0.9-0.2-0.5 0-0.6-0.1-0.5-0.1 0.7-1.1 0.2-0.7-0.4-0.8 0.3-0.4 0.3 0.9 0.3-0.4 0.2-0.3M191.3 231.5l-0.2-0.3 0.8-0.9-0.3 0.8 0.5 0.4 0.9-0.7-0.3-0.8-0.4-0.5-0.2-1.1 0.3-0.2M191.3 231.5l-0.1-0.3 0.1-0.3 1.1-0.1 0.7 0.4 0.5-0.9 0.9-0.2 1.1-0.1 1.1 0.1 0.6-0.5 0.7 0.4M191.3 231.5l0.1 0.2 0.3 0.4-0.6-0.5-0.4-0.5-1.2-0.4-0.3 0.3M191.3 231.5l0.2-0.4 0 0.5-0.9-0.5 0-0.5-0.4-0.4 0.2-0.6 0-0.9 0.5-0.4 0.1-0.4 0.2 0.2M191.3 231.5l-0.2 0.2 0 0.9 0 0.3 0.9 0.5 0.5 0.1 0.6-0.5 0.7-0.4-0.2-0.8 0.5-0.7 0.6-0.6 0.7-0.8-0.1-0.5M191.3 231.5l0.4-0.8 0.1-1-0.2-1 0.7-0.3-0.1-1-0.1-0.6M191.3 231.5l-0.6-0.8 0.3-0.2 0.4-0.2-0.2-0.7 0.3-0.4 0.4-0.5-0.1-0.3-0.2-0.3 0.6-0.3 0.4-0.4M191.3 231.5l1.1-0.7 0-0.9 1-0.7 0.6 0 0-0.7 0.5-1.1M191.3 231.5l0.5-0.6 0.4-0.9 0.2-0.3-0.7-1-0.1-0.6 0.3-0.9-0.2-0.4-0.2-1-0.3-1.2-0.3 0.1-0.6-0.4-0.3 0.6M191.3 231.5l-0.3 0.4-0.4-0.1-0.7-0.5-1-0.7-0.7-0.8-1.1 0.1 0-0.9 0-0.6-0.8 0.1M191.3 231.5l0.2-0.4-0.2-0.7 0-1.2-0.6-0.9-0.1-0.6-0.5 0.1-0.1 0.4M191.3 231.5l0.7-0.3 0.4-0.3 0.1-1.4 1 0.1-1-0.7M191.3 231.5l1.1-0.5-0.5-0.3-0.2-1.2-0.1-0.8-0.4-0.1-1.2 0.2M191.3 231.5l-0.2-1 0-0.5-0.1-1.2 0.5 0.7-0.4 0.3-0.3 1.2-0.1 0.5-0.1 0.3-0.7-0.3-0.1-0.3 0.8-0.7M191.3 231.5l0.7-1.1 1-0.6 0.4-0.3 0.5-0.8 0.6 0.5 0.8 0.2 0-0.9 0.3-1.2" fill="none" stroke="#111" stroke-width="0.5" stroke-linejoin="round" stroke-linecap="round"/><path d="M194.4 231l-0.8 0.4 0 0.9-0.2-0.4-0.2-0.3M185.5 227.6l-0.3-0.4-0.7-0.2-0.1-0.4 0.1 0.5-0.4 0.1-0.3-0.4-0.1 0.4M194.2 226.8l0.3 0.5-0.1 0.6-0.9-0.3 0.2 0.6-0.2 1M188.4 230.8l-0.4-0.5 0.8-0.7 0-0.8 0.2-0.6-0.1-0.3 0-0.9M191.7 228.1l-0.2-0.2-0.3-0.5-0.3-0.4-0.7 0.6M191.3 230.5l-0.8-0.7-0.7 0.1-0.2 0.5-0.3 0.2-0.8 0.7M190.4 228.3l0.8 0.2-0.1-0.9 0 1 0.5-0.1-0.2-0.5-0.1-0.3-0.4-0.6 0.1-0.4M192.4 228.2l-0.2 0.2-0.6 0.2 0.1 0.3 0.3-0.5-0.1 0.6M198 230l0.4 0.6 0.8-0.1-0.1 1 0.6 0.8M189.2 231l0.5-0.5 0.1 0.4-0.1 0.4-0.4 0.4-0.6-0.1 0.8 0.6 0.8 0M191.2 228.1l-0.1-0.3 0.8-0.7 0.8-0.1-0.9-0.1-0.1 1.1M195.3 229.2l-0.6-0.7-0.2-0.7 0.3-0.6-0.9-0.4M192.1 226.8l-0.4 0.8 0.6 0.5 0.2 0.3 0-0.7 0.2-0.5-0.6-0.2-0.3-0.9 0.2-0.5M192.6 227.4l0.6 0.3 0.4 0.8 0.4 0.1-0.3-0.5 0.7 0.6 0-1.1 0.2 0.7M194.5 227.4l0.4 0.4 0.3-0.2 0.4-0.3 0-0.5 0.2-0.2-0.6 0.7 0.1 0.2 0.6 0.3M190 224.9l0.6-0.7 0.2-0.4-0.3 0.9-0.7 0.6 0.3 0.1 0.8 0 0.2-0.2M186.3 228.5l0.8 0.1 0.3-0.2-0.7-0.3-0.2-0.5 0.1 0.9M190 228.2l-0.5-0.7 0.5 0.7-0.1 0.2 0.8-0.2M192.5 228.9l1-0.3 0.3 0.3 0.5-0.5 0.8 0 0.5 0.1-0.4 0.7 0.5 0.9 0.7-0.4M190 228.8l1 0.4 0.8 0.2-0.1-0.6-0.9-0.2M190.6 230.5l0.1 0.3-0.3 0.4-0.5 0.2 0.3 0.5-0.7-0.4 0.2-0.1 0.4 0.5-0.1-0.4M195.6 227.3l0.3 0.1 0.1-0.3 0.6-0.8-1-0.2-0.2 0.9-0.8-0.4 0.9-0.5" fill="none" stroke="#111" stroke-width="0.75" stroke-linejoin="round" stroke-linecap="round"/><path d="M191.3 231.5l0.7 0.5-0.2 0.4-0.5 0.6-0.9-0.1-0.6 0.4-1 0.3-0.1 1.5-0.3 1.6-0.5 1.3-0.2 1.1 0.5-0.1 0.5 0.3-0.6 1 1.4 0.1 0.1 0.8-0.9 0.9-0.4-0.1-0.7 0.3-1.3 0.5-0.8-0.1-1 0.2 0.7-1.2-0.2-0.5-0.1-0.4-0.9 0.4-0.2 0.5M191.3 231.5l0 1.6-0.8 1-1.1 0.5-1.4-0.5-0.5 0.7 0.3 1.5 0.7 0.3 0.7-0.6 0.5-1.4 0.9-0.1 0.6 0.2 0.4 1.4-0.1 1.1-1 0 0.9 0.8 0.4-0.3 0.5-1 1.3-0.6 0.5 0.3 0.8 0.7 0.8 1.3 0.8 0.5 0.7-1.3 0.3-1.4 1.6 0.2 1.3-0.1 0-0.6-0.3-0.4-0.4 0.1-1.5-0.5-0.5-0.8 0.5 0.6 1 0.5 0.6 0.6 0.1 1.1 0.1 1.7-0.3 1-0.6-0.4-0.8 0.4-1-0.4-0.8-0.4M191.3 231.5l0.1 1.4 0.3 1.4-1 1.2-1.1 0.6-0.7 0.1-0.4 0.1-0.7 0.5 0.2 0.8 1.2 0.7 1.7 0.1 1.2 1.2-0.8 1.3 0.8 0.5-0.5 0.6-0.7 1.3-0.3 0.4-1.4 0.1-0.5-0.3-0.5-0.7-0.4 0.1-1.1-0.7-0.1-0.6-1.1-1-0.6 0.9-0.7 1.2-0.1 1.2-1 0.1-0.9-0.5-1.6-0.4M191.3 231.5l1 0.6 0.2 1-1.4 0.1-1.5 0.7-0.4-0.3-0.8-1 0.1-0.4-0.5-1-0.8-1.2-0.9 0 0 0.6 0.4 0.7-0.1 1.3-0.3 0.9 0 1-1.1 0.7 0.3-0.2-0.6-0.5-0.1 0.6 0.8 1.5 0.7 1.1 0.2 0.7 0.1 0.8 0-1.3-0.1-1.3-0.3-1 0.7-0.7 0.7-1 0.3 0.4 0.8 0.7 0.7 0.2 1.4-0.6 0.4-0.2-0.8-0.6-1.3-0.1M191.3 231.5l0.9 0.2 0.6-0.1-0.3-0.5-0.6 0.1 0 0.9-0.5 1.2 0.8 1 0.5 0.4 1.6 0.4 1.2-0.3 1-0.5 0.5-0.8 0.2-0.2-0.4-0.1-0.8 0.3-0.6-0.3 0.6-1 0.1-0.6-0.4-0.6-1.3 0-0.9 1.3 0.1 1-0.3 0.6-1.5 0.3 0 0.9-0.2 0.5-0.4 0.5M191.3 231.5l0 1.6 0.3 0.9-0.4 0.4 0.3 1.4 0.1 0.6 0.3 0.5 1.2 0 1.2 1 1-0.7 1.5-0.7 0.7 0.7 0.5 0 0.9 0.5 0.5 1.1-0.8 1.3-1.5 0.2-0.3-0.8-0.9 0.4 0.5-0.7 0.4 0.1 0.1 1.3 0.7 0.2 0 0.6-0.5 1-0.3 1.4 1 1.1 0.5 1M191.3 231.5l0.3-0.7-0.4-0.6-0.8 0.1-1.3 0.4-1.1 0.3-0.6 1.3-1-0.2-0.4 0.2-1.4 0.4M191.3 231.5l0.1-0.5 0.3-1.3 0.9 0.7 0.3 1 0.3 0.4 0.7 0.7 1.4-0.5 1.2-0.7 0.6-0.5-0.8-0.7-0.3-0.4-0.3 0.7-0.1 0.6 0.5 0 0.8-0.1 0.4 0.6 0.3 0.6 1 0.5-0.5 1.1-1.5-0.3-1 0.2-0.4-1.3M191.3 231.5l1.7 0 0.9-0.4 0.2-0.3-0.5-0.5-0.2-0.1-0.7 0.4-0.7 0-1.3 0.9 0.3 1.4 0 1.7 0.9-0.7 1-0.6 1.2 0.2 0.3 1.2 0.2-0.2 0.2-0.7 1.2 0.4-0.2-0.2-0.4 0.2-0.6 0.7-0.2-0.8 1.5 0-1.2-0.8-0.7 0.5-0.3 0.5-0.5 0.9-0.5 0.8M191.3 231.5l-0.4 1.6 1.6 0 0.5 0.1 1.1 1.1-0.2 0.4-0.6 0.2-1 1.1 0-0.4-0.1-0.7-0.6-0.4-1.2 0.7-0.1 1-0.8 0.5 0.6 0.7 0.6 0.5 0.8 0.1 0.6-0.1 1.4 0.3M191.3 231.5l0.6 0.1 0.9-0.4 1.5-0.4 0.4 0.6-0.9 0.8-0.4 0.5 1.2 0.3 0.3 1.7-0.2 0.8 0.6-0.4 1.2-0.3 0.8 0.2 0.6 0.4 0.2 0.9 0.2-1-1.2-1-0.7-0.8-0.5 0.3-0.1 0.5 0.1 0.9-0.9 0.5-0.6 0.1-0.4-0.7-1.1-0.4-0.2-1 0.2-0.4 1.2-0.8 1.2-0.1 0.7 0.9 0.9-0.2 0.4-0.3 1.5 0.5 1.3-0.6 1.5-0.4 1.2 1M191.3 231.5l-1.2 0.4-0.5 0.4-0.3 1.1 0.7 1.5 0.3 1.4 0.7 0 1 1.1-0.2 1.3-0.7 0.4 1.1-0.2 0.4-0.4 0.6-0.5 0.4 0.9 0.5 0.3 0.8 0.1 0.4-0.1 1.5 0.2 1.1 0.9 1.3 0.3 0.9 0.4 0-0.7 0.6-0.5-0.7-0.5-0.4 0M191.3 231.5l1.4 1 1.1 0.2-1.2 1-0.3 0.5 1.2 1.1 0.9 0.3 0.8-0.1 0.3 0.3 1.6 0.5 0.9 0.8 0.5 0.2 0.4 0.6 1.1-0.1 0.3 0.5 1-0.6-1-1.2 1.2-0.5-0.3-0.7-1.3 0.3-1.3-0.4-1.1-0.2 0.6-1 0.6-0.2 0.3 1.5 0.2 1.1-0.2 1.5-1.3 1-0.1 0.6-0.8-0.2-0.4-0.3-1 1.5 0.6 1.6 1.2-0.7 0.1-0.7-0.5-1.3 0.7 1.1 0.5 0.6 0.3-0.4 0.7-0.9 1 0.1 1.4 0.6 0.3 0.6 0.9 0 0.4 0-1 0.3-1.1 0.6-0.6-0.7M191.3 231.5l0.4-0.3 0.5 0.5 0.3 1.7 0.6 0.8 0.6 0.6 0.5 1 1 1.3 0.7 0.1 0.5 0.1 0.2-0.3 0.5 0 1 0 0.2 0.6-0.1 1.5 0.9 0.7 1.2-0.2 0.8-1.1 0.7-0.1 0.3 1.3 0.5-1 1.1-1 0.1-0.6 0.7 1.7-0.3 1.4-0.1 0.6-0.7 0.5-0.5 0.1-1.5 0.3-0.1-0.9M191.3 231.5l1.5 0.4 1-0.2 0.8 0.2 0.7 0-0.7 1.3-0.2 1.3-0.1-0.5 0.3-0.5-0.2-1.4 0.3-1.5 0.1-0.9-0.1 1.1 0 0.6-0.2 0.7 1.1 1.3-0.1 0.6 1.1 0.4 0.7 1.5-0.6 1-0.9 0.5-0.3 0.9 0.5 0.7 1-0.3 0.7-0.1 0.6-1.1 1.1-0.6 0.4-0.4 0.5-0.2 1.5-0.7 1 0.2 1.4 0.2 0.5 0.4 0-0.8-0.4-0.4-0.9 0.1 0 1.4-0.7-0.2-1 0.7-0.9 1.2-0.1 1.3-0.2 0.4-0.4 1-0.7 0.5-1.1 0.5-1-0.3M191.3 231.5l-0.5 0.2-0.5 1.7-0.1 1.4 0 0.5 0.8 1.4-0.6 1.1-1 1.3 0.2 0.9-0.2 0.9 0.3 0.6-0.2 1.3 0.8 0.4 0.1-1.1 0.2-0.2-0.6-1 1.7 0 1-0.3 1 0.1-1.1-0.6-0.8-0.1-0.4 0.7 0.5 1.1 0.3 0.9 0.8 0.6 0.4 0.1 0.4-0.5 0.8 0.4 0.6 0.2 1.1 0.5M191.3 231.5l1.3 0.5 0.3 1 0.2 1.5-0.7-1.2 1-0.9-0.8-0.9-0.9 0.5 0-0.2 0.9-0.4 1.1-0.1 0.3 1 0.7-0.8 0 0.9 1.5 0.5 0.3 0.8 1.1-0.1 1.2-0.6 0.1-0.3 0.9 0.1 0.7-0.2 0.6 0.8 0.7 1.1 0 0.5 1.4 0.1 0.9 0.8 0.3 1.5 0.1 0.5-0.2 1.2-0.2 0.5M191.3 231.5l1.3-0.8-0.1-0.5-0.8 0.9-1.1 0.4-0.9-1.1-0.4 0.7-0.7 0.6-0.6 1.1-0.7 1.4-0.3 1.1-0.7 0.2-0.9 0.2M191.3 231.5l0.5 0.1 0.8 0.5 0.4 0.3 0.5 1.3 0 1.6 1.3-0.1 0.7-0.8 0.8-0.4 0.5 0.5 0.6 1.5 0.5 0.5 0 0.8 0 0.8-0.6 0.2-0.4 0.3-1.3-0.7-0.7-0.6M191.3 231.5l-0.4 1.2-1.3 0.9-0.7-0.5-0.3-0.5 1.1 0.1 0.6-1.2 1.2-0.9-0.3-0.3 0.3-0.6-0.4 0.6-1.4 0.1-0.7 1.1 0.5 1.2-0.6 0.3-0.9 0.3-0.6-0.1-1.4 0.4-1.4 0.7-1.3 0.2-0.6 0.8-0.3 1.5-0.5 0.9M191.3 231.5l0.7-0.7 0-0.6-0.2-0.3-0.2 1.4-1.6-0.3-1.3 0-0.3 0.9-0.6 0.2-1.4 0.8-0.5 0.7-0.1 0.8-0.7 1.5-0.6 1.1-1.4 0.3-0.3-0.3-0.7-0.4 0.6-1.5-0.3-0.2M191.3 231.5l-0.4 0.8 0.2 0.5 0.9-0.2-0.1-1.2 0.2-0.7 0.7-0.9-0.7-0.2-0.2 0.9 0.6 0.4 0.9 0.8 0.6 0.5-1.2-0.1 0.2 0.9 0.2 0.3-0.5-0.1 1-0.6 0.1-1.4 1.2-0.7-0.4-0.5-0.8 0.1-0.9 0-0.9 0.4-0.4 0.2 0.4 0.2 0.1-0.5 0.5-0.7-1.2 0.1-0.1 1.1-1 1.3M191.3 231.5l-0.3-0.1 0.6-1.3-0.6 0-1.3-0.3-1.5 0.8-0.4-0.9 1.3-0.1-0.1 1.4 0.1 0.9 0.3 0.8 0.1 0.7-0.7 0-1.4-0.5-0.2-0.2 0.7-0.1 0.7 0.4 0.2 0.5-0.7 0.8-0.6 0.9-0.4 0.6-0.2-0.2-0.1-0.5 0.1-0.8 0.2-1.1M191.3 231.5l-0.7 0 0-0.4-0.3-0.3-0.1 1.2-0.1 0.8-0.6 0.9-1.4 0.6-0.7 0.2 1.3 1 0.6 0 0.6 1.1 0.3 0.7-0.4 0.4-1.1-0.4-0.4-0.1-0.5 0.9 0.7 0.4 1.4-0.3 1.4 0.3 1.1 0.3 0.4 0.2-0.8 0.2-0.5 0.3-1.4-0.3-0.4 0.1-1.3 0.6 0.2 0.9 0.4 1.2 1.5 0.3-0.6-0.3 0.7-1.4-0.6-0.5M191.3 231.5l-0.8 1.5 0 0.9 1.2 0.3 1.2 0 0.5 0.5-0.5 0.8-0.6 0.5 0.7 1.2 0.5-0.2 1.4-0.7-0.2-0.3-0.4-0.5-0.2-0.8-1.2-0.3-1.2-0.8-1.3 0.7-0.6 1.1 0.1 1.2 0.8 1.2-0.5 1.2M191.3 231.5l0.5 0.4 0.8-1.3 0.2-0.8 0.2 0.2 0.8 0.5 0.6 0 0.4-0.1 1.4 0.6-0.5 0.7 0.4 1.2 0 0.7-1.6 0.5-1.4-0.1-0.8 0.4-0.8 0.7-0.8-0.9-0.7-0.5-1.2-1-1.6 0-1.2 0.8 0 0.5-0.2 1.6-0.7 0-1.1 1 1.1 0.3 0.6 0.8 0.2-0.5M191.3 231.5l0.7 1 1.3 0.3 0.6-0.2 1.2 1.1 0.4 0 0.9 0.4 0.5 0.2 0.5-0.1 1.1-0.3 0.2 0.4 1 0.3 1 1.3 1.2 0.9 0.5 0.7 0.4-0.3 1.5-0.4 1.3 0-0.3-1 0.9-0.8-0.1 0.7-0.7 0.5-0.1 1.3-0.5 0.5 0.1 0.7 1 1-0.1 0.7-1.3 0.5-0.8 0.4-0.5-1-1.3 0.1-1.3 0.5-1.1 0M191.3 231.5l-0.8 1-0.8 0.9 0.5 0 1.2-0.1 0.8 0.5 0.9 0.1-0.1 0.6 0.3 0.4 0.4 0.5 0.9 1.3 0.3 0.7-0.1 0.7 0.2 1.3 1 0 1.2 0.9 1 0.9 0.3 0.8 0.2 1.5M191.3 231.5l0.4 0.1 1.2 0.6 1.1-0.1-0.2 0.9-0.7 1.2-1.1 1.2-0.9-0.1-0.1-0.3-0.3-0.4 0.6-0.5 0.7 0.2M191.3 231.5l0-0.8-0.3-0.9 0.6 0.7 0.2-0.3-0.5-0.4-0.2 0.8-0.6 0.9-0.9-0.3-0.8 0.9 0.2 0.6-0.2 0.5 0.2 0.5 0.7 0.6 0.7 0.5-1.3 0.7 0.1 1.1 0.1 1.7 1 0.3-0.9-0.2-1.4-0.6 0.5 1.3-0.7 0.2-0.3 0.8-0.8-0.8-0.7-0.4-0.5 1-0.8 0.2-1.1 0-1-0.9 1.2-0.9 0.5 0.3 0.5 0.1-0.3-0.6-0.6-1.2 0.4 0.5 0.6 0.7 0.3-1 0.5-0.7 1.2 0.3 0.4-0.1 0.3 1.1 0.2 0.8-0.8 0.8-0.7-1-1 0-0.6-0.2 0-0.7M191.3 231.5l0.5 0.3-0.3-1.2-0.2-0.4 0.8 0.4 1.3 0 1.6-0.1 0.6 0.3 0.4 0.7 0.9 0.9 1.1 0.9 0.7 0.3-0.3 1.4 0.1 0.6-0.3 0.8 0.2 0.5 0-1.3 1-0.3 0 0.8-0.7 0.7 0.6 0.7 1.5 0.9 1.3-0.7-0.3-0.3-0.9 0.4-0.3 0.8-1.2 0.8-0.4 0.2-1.2 0 1-0.6 0.7 0.1-0.2-0.4 1-0.4-0.3-1.3 0-0.6-0.6-0.6-0.4-0.2 0.3-1.2 1-0.4 0.6 1.4 0.3 1.6-0.3 0.1-1.2-0.5-0.8 0-0.6 0M191.3 231.5l0.4 0.4-0.5 0.3-0.1 0.9-0.5 0.3-0.2 1 0.1 0.6 0.4 0.5 1.4-0.1 0-0.4 0.4-0.5-1.1-0.9-0.8-0.1-0.1 0.5 0.4 0.7 1 1.2 0.9 0.7 1.4-0.1 0.6 0.5 0.6-0.4 0.9-0.1 0.4 1.6 1 0.2 1.3-0.7 0.4 0 1.2-0.4-0.1-0.2 0.5-0.5 0.7 0.2 0.4 0.5M191.3 231.5l-0.6 0.9 0 1.4-0.4 0.4-0.1-0.7-1-0.1-0.3-0.3-1.1 0.1-0.3-0.5 1-0.5 1-1.3 1.1 0.8 1.2-0.2 0.5 0.6 0.5-0.3 1.2-0.5 1.5 0.3 0 1.2-0.8 0.4-0.2 1-0.8 0.6 0.9 0.8 0.9 0.6 0.3 0.5 0.6 1 0.1 0.6 0 0.9-0.4 1.5 0.9 0.6 0.4 0.5-0.4 0.8 0.9 0.7 0 0.6 0.4 0.1 0.6 1.6 0.1 1.1-0.6 1-1.3-0.3-0.7-0.1 0 0.7-0.5 0.6-0.8 0.2-1.3-0.6 0.5-1-0.4-1.3 0-0.6M191.3 231.5l0.7-0.4-0.4 0 0.9-0.2 1.1-0.8 0.8 0-0.8-0.2 0.2 0.1-0.3 1.3-1.1-0.5-1.2-0.9-0.1 0.3-1.1 0.3-1.3-0.4-0.6-0.4 0.4 1.4 0.9-0.9 0.6 0.2-0.7 1.4-0.5 0.5-0.5 1.1-0.5 0.6 0.1 1 0.9 1 1.4 0.9 0.4 0.3 0.9-0.2 1.4-0.5 0.7 0.2 1.1-0.4-0.7-0.1-0.7 0.1-1.2 0.6-0.3 0 0.9 1 1-0.6 0.4 1.5 0.5 0.1-0.1-1.1-0.7-0.1-0.6-0.3-0.9 1.2-0.8 1.6M191.3 231.5l0.9-0.7 0.1-1.2 1.1 0.6 0.6-0.2 0.3 0.3 0.3 1-0.1 0.5-0.5 0.6-0.5 0 1 0.3M191.3 231.5l0.3 1.5 0.5-0.4 0.8-1.2-0.2-1.3 0.3-0.5 1.1 0.9 0.9 0.9 0.2 0.7-1.5 0 0.2-0.5-0.6-0.7-0.3-0.4-1-0.6-0.3 0.9-0.4 0.8 0 1.5 1.2 0.4 0.3 0.6-0.4 1.5 0.6 1.4-1.3 1.1-1.2 0.6 0.5 1.2 0.4-0.7 0.5-1 1.3-0.4 0.5-0.8-0.5-0.9-1.1-0.2-0.7-0.6M191.3 231.5l-0.4 0.2-1 0-0.7 1-0.7-0.3-0.3-0.1-1.5-0.3-1.1 1.1 0.2 0.6 0.5 1.2-0.7 0.7 0.8 1.2 0.7 0.1 0.1-0.4 0.1-0.5 0.1-0.6 1.6-0.4 0.3-0.6-1.3-0.6-1.1 0.9 1.5 0.4-0.5 1.5-0.8 0.5-0.2 0.5 0.2 0.8 0.3 0.7 0.8 0.4 0.3 0.7-0.4 0.8 0.1 1.4 0.1 0.6M191.3 231.5l-1.2-0.4-0.1-0.4 1.2-1.1 1.2 0.8-0.3-0.8 0.6 0.7 0.8 1.3 0.5 0.9-0.4 0.3-0.2 0.5-1.1 0.4-0.4 0.5 0.3 0.2 0.3-0.2 1-1 0.2-1.1-0.8-1.4-1.6 0.3 0.1-0.5-0.5-0.2-1.1 0-0.3 0.6 0.1-0.4 0.3-0.2 1.3-0.6 1.3 0.5 0.6-0.3-1.7-0.2-0.5 0.7-0.2 1.4-0.6 1 0 0.5M191.3 231.5l0.7 0.5 0 0.9-0.4 0.1-1.6 0.6-0.8-0.1-0.8 0.4-1.3-0.8 0.2-1.2-0.4-0.4 1.4 0.9 1.2 0.2 0.6 0.7-1.1-0.5-0.5 0 0.2-1.1-0.7 0-0.8 1.5M191.3 231.5l0-0.9 0.2-0.5 0.6 0.8 0.9-0.3 0.4-0.2 1.5 0.2 0.7 1.1 0.8-0.1 0.8 0 0.5 0.2 0.9 0.3 1.3-0.4 0.8 0.1 0.8-0.1-0.7 0.8-1-0.4-1.1-0.6-0.1-0.5 1.3-0.9 1.2 0.2 0.1-0.4 1-0.2-0.4 0.8-1.3 0.8 0 0.5 0 0.8-0.2 0.7-0.3 0.7 0.9 0.2 0.9 0.6 0.4 0.2-0.2-1.6-1-0.1-0.3 0.3-0.5 0.1 0.4 1.7-0.6-0.1-1.7 0.3-0.3 0.8-0.1 1.4-0.8-0.8 0.8-0.6 1.2-0.4 0.4-0.5 0.1-0.8 1.3-0.2 0.5-0.5M191.3 231.5l-0.9 0.7 1 1.3-0.3 0.3-0.5 0.3-1.6-0.2-1.4-0.7-0.6-0.6 0.5-1.3 0.4-0.1 1.5-0.5 0.4-0.2 0.4 0.5 0.7 0.5 0.7 0.3 0.9 0.9 0.3-0.3-0.1-1.4 0.6-0.8-0.2-0.4 0.7 1.3 0.3 0.5 0.2 0.7-0.6-0.2 0 0.6 0.7 0.6-0.3 1.7 0.9 1.1-0.6 0 0.8 0.9-1.4-0.3 0.5 1-0.7 1.1 1.1-0.4-0.1-0.6 0.6 0.9 0.3-0.1 0.7-0.8 1-0.1 1.5-0.5 0.2-1.5-0.2-1.3" fill="none" stroke="#f5143c" stroke-width="0.28" stroke-linejoin="round" stroke-linecap="round"/><path d="M183.8 241.7l-0.5-0.8-0.4-0.2-0.9 0.3-0.5 0-0.5 0 0.5-1 0.7 0.1M196.5 238.8l-0.2-0.8-0.5 0.2 0 0.5-0.3 0.9-0.2 0.5 0.4 0 0.7-0.2 0.6-0.3M180.6 243.1l0.5-0.3-0.1 1-0.4-0.3-0.6-0.7-0.8 0.7-0.3 0.6 0.4 0.3 0.3-0.7M189.1 233.7l-0.5-0.6 0.8-0.7 0.6 0.1-0.4 0 1.1 0.2M191.2 236.1l-1 0.1 0.2 0.8-0.5 0 0.4 1 0.5 0.5 0.6 0.8 0 1.1M198.3 245.9l-0.5 0.7-1.1-0.2 0.1-0.6 0.3 0.1M184.6 232.7l0.1-0.2-0.4-0.2 0.5 0.3-0.2 0.7-0.2 0.9 0.3 0.5M195.2 232.3l0.3 0.1 0.4-0.6-0.9 0.3-0.4-0.2-0.5-0.2-0.1 0.5-0.6 0.2M192.9 236l0.5 0.4 0.3 0 0.1-0.4-0.4 0M193.5 238.2l0.2 0.7 0.5-0.4 0.8 0.5 0.5 0-0.4 0.4-0.2 0.3-0.3 0.7 0.5 0.9M202.8 233.3l-0.5-0.8 0.9-0.7-0.6 0.2 0.4-0.3 0.2-0.3-0.1-0.7-0.6-0.3-0.3-0.8M199.6 239.3l0-0.8 0.3 0 0.1-0.8 0.3 0.3 0.5 0.7-0.7 0 0.4 0.6-0.6-0.6M200.3 241.3l-0.5 0.7 0.5 0.3 0.1-0.4 0.3-0.6M201.3 240.8l0-0.2 0.6-0.3 0-0.5 0.4-1-0.3 0.4-0.6-0.4M197.3 241.8l-0.4-0.7-0.3 0 0-1-0.6-0.5M196.3 244l-0.2 0.3-0.4 0.1 0.7-0.9-0.7-0.3-0.4 0.1 0.3-0.9 0.1-0.4M204.1 239.6l-0.2-0.6 0.8 0.4 0.3 0 0.2 0.3M185.4 235.7l0.2-0.9-0.8 0.2-0.1 1 0.3 0.4 0.2 0.3M194.9 237.3l-0.7 0.2 0.3-0.6 1.1 0 0.8-0.2 0.6-0.3-0.1-0.2M181.9 237.7l-0.3-0.7 0.6-0.7 0.8 0.4 0.7 0.6 0.1 0.4M182.4 234.9l-0.7-0.4-0.3 0.2-0.3 0.1-0.2 1.1 0.1 0.2M190.3 232.2l-0.2-0.6-0.6-0.6 0.1-0.7-0.2-0.7M187.1 233.2l-1.1 0-0.3 0.8-0.6 0 0.4-0.4-0.7-0.6-0.9-0.1-0.7-0.2-0.7-0.7M190 240.1l0.1-0.4-0.2 0.3-0.4-0.9-0.2-0.2 0.1-0.7 0.4 0.1 1.1 0M190.2 239l0 1-1.1-0.2-0.3 0.7-0.4-0.8-0.6 0.6-0.7 0.4-0.7-0.5 0.4 0.6M185.9 237.2l-0.4 0.5-0.7-0.3 0.1-0.2-0.5 1 0.3 0.2-0.7-0.1M199.5 240.9l0.1-0.9-0.6-0.4 0.2-0.3 0.3-0.6 0.1-0.6-0.2 0.8-0.3 0.7 0.7-0.3M198.7 243.5l0.9 0.3-0.3 0.9-0.4 0.2-0.5 0.3-1.1-0.1 0-0.2M192 234.3l0.3 0.3 0.2-0.2 0.4-0.2 0-0.7-1.1-0.1M184.7 237.4l0.1-0.4-0.6-0.1 0-0.2-0.6-0.1-0.2 0.7M198.3 236.6l0.8 0.1 0.6-0.8 0.6-0.6 0.3 0.1-0.5 0.7-0.9 0.3M202.3 237.2l0.4 0.9 0.6 0.8-0.7 0.4-0.4 0.2 0.9 0.3M193.9 245.3l-0.4-0.2-0.5 0.4-0.4 0.5 0.2-0.2 0.6-0.5M191.5 240.2l0.5-0.2 0.4-0.4 0.6 0 0.6 0.3-0.8 0.2 0.2 0.1 0.4-0.9 0.3-0.3M194.5 232.7l-0.6 0-0.2-0.2 0.3 0 0.4 0.2M191.4 235.3l-0.3 0.9-0.4 0.7-0.6 0-0.3 0-0.3 0.6M188.3 243l0.6 0 0.7-0.5 0.3 0.2 0.4 0.3-0.3 0.9-0.2 0.1-0.2-0.4 0.5-0.5M190.1 233.3l-0.3 0.3-0.3 0.4 0.4 0.2 0.3 0.1-0.3 0.9 1.1 0.1 0 0.2 1.1-0.1M187.2 233.2l-0.2 0.2 0.5 0.4 0.9-0.5-0.3-0.4 0.3-0.6-0.6 0.8-0.6 0.3-0.1 0.5M201.4 234l0 1.1 0.7 0.4-0.1 1-0.5-0.2 0.4-0.5M198.7 234.4l-0.3 0.6-0.5-0.1 0.2-0.9 0.3-0.4-0.1 1.1" fill="none" stroke="#f5143c" stroke-width="0.53" stroke-linejoin="round" stroke-linecap="round"/><path d="M183.8 241.7h0M196.5 238.8h0M180.6 243.1h0M189.1 233.7h0M191.2 236.1h0M198.3 245.9h0M184.6 232.7h0M195.2 232.3h0M192.9 236h0M193.5 238.2h0M202.8 233.3h0M199.6 239.3h0M200.3 241.3h0M201.3 240.8h0M197.3 241.8h0M196.3 244h0M204.1 239.6h0M185.4 235.7h0M194.9 237.3h0M181.9 237.7h0M182.4 234.9h0M190.3 232.2h0M187.1 233.2h0M190 240.1h0M190.2 239h0M185.9 237.2h0M199.5 240.9h0M198.7 243.5h0M192 234.3h0M184.7 237.4h0M198.3 236.6h0M202.3 237.2h0M193.9 245.3h0M191.5 240.2h0M194.5 232.7h0M191.4 235.3h0M188.3 243h0M190.1 233.3h0M187.2 233.2h0M201.4 234h0M198.7 234.4h0M188.3 233.2h0M189.4 232.2h0M188.6 237.4h0M189.3 232.2h0M191.1 235.8h0M187.4 234.6h0M194.2 236.9h0M191 232.2h0M191.2 234.2h0M194.2 233.4h0M190.4 234.6h0M193.1 234.2h0M191.4 233.1h0M186 232.1h0M189.8 234h0M190.4 232.2h0M190.2 236.2h0M189.8 235h0M191.3 233.4h0M190 238.5h0M189.2 233.4h0M195.1 236h0" fill="none" stroke="#f5143c" stroke-width="1.4" stroke-linecap="round"/><path d="M191.3 231.5l-0.8 0.6-0.6 0.5-0.8 0.2-0.3 0 0.3-0.3-1.1 0.2 0.3 0.5M191.3 231.5l-0.1 0.5-0.3-0.1-0.7 0.9-0.6-0.3-0.2-0.3M191.3 231.5l-0.5-0.2-0.6 0.9-0.6 0.7-0.5 0.3-1 0.3-0.6 0.9-0.4 0.7 0 1-0.4 0.7 0.4 0.7 1-0.1 0.5 0M191.3 231.5l0.7-0.8 1.1 0.1-0.8-0.5-0.1-0.3-0.4 0-0.6-0.3-0.5 0.8-0.2 1.1-1 0.1-0.2 0.5M191.3 231.5l0.2 0.4 0 1-0.1 0.5-0.4 1 0.5 0.5 0.2 0.4-0.6 0.5M191.3 231.5l-0.3 0.7-0.2 0.5-0.4 0.4-1-0.5-0.3-0.6-0.3-0.1-1.2 0.2-0.6 0.6 0.3 1 0.6 1.1-0.5-0.2M191.3 231.5l0.2 0.9 0.7 0.2 1.1 0.2 0.2 0.3-0.2 0.3 0 0.8 0.5 0.6 0.4 1 0.9 0.3-0.5 0.1-0.4 0.7M191.3 231.5l0.4-0.5 0.4-0.1 0.1 0.4-0.3 0.2-0.9 0.7M191.3 231.5l-0.4 0.7-0.4 0.3-1 0 0.5-0.9 0.3-0.1-0.1-0.2-1.1 0.1 0.4 0.5-0.2 1.1 1.1 0.5 0.8 0.7M191.3 231.5l1.1-0.6 0.5-0.9-0.5 0.8 0 1.2 0.6 0.2 0.5 0.5 0.2-0.2 0.5 0.9M191.3 231.5l0.3-0.1 0.4 0.3 0.6 0.3 0.8 1 0.1 0.5-0.5 0.2-0.3 1.3-1.3 0.3-0.6 0-0.4-0.7M191.3 231.5l-0.7 1 0.5 0.9-0.3 0.8-1.1 0.7 0.3-0.8-0.3-1 0.5 0.3-0.1 0.6 1.2 0.4 0.7 0.2 0.8-0.2 0.3-0.2M191.3 231.5l-0.3-0.3 0-0.5 1.1-0.3 0.4-0.4-0.8-0.3-0.3 0.8 0.3 0.7 0.2 1.1-0.5 0.8M191.3 231.5l0-0.2-0.8 0-0.3-0.1-0.4 0.2 0-0.4-0.4 0.1-0.6 0.1-0.5 1.2-1.2 0.3-0.1-0.1-0.7-0.5-0.3 0M191.3 231.5l-0.1 0.6-1.1 0.3-0.1 0.3-0.7 0.6 0.5 0.7M191.3 231.5l-1-0.4 0.7-0.2-0.5-0.4-0.2-0.7 1.1 0.5 0.4 1-0.8 0.1-0.6 0.8M191.3 231.5l0.2 0.6 0.2 0.7 0 0.5-0.1 0.4-0.5 0.3-1.1 0.4-0.2 1 0.4 0.8M191.3 231.5l-1 0.6-0.9 0.8 0.6 0.7 0.3 0 0.6 0.9-1.1 0.5M191.3 231.5l-0.6 0.5-0.7 0.6-0.4 0.2-0.4 0.2 0.7 0.7 0.5-0.1 0.1-0.4 0.4 0.2 0.4 0M191.3 231.5l0.4 0.4-0.4 1-0.6-0.3-0.8-0.3-0.4 0.9-0.4 1.3-0.3 1.1 0.6 0.9 0.6 0.7-0.3 0.4 0.3 0.9M191.3 231.5l0.4-0.7 0-0.4-0.9-0.1-0.5 0.2-0.8 0-0.4 0.6 0.1 0.8-0.4 1.1 0.4 0.4M191.3 231.5l1.1 0.3-0.4 0.4-0.9 0.7-0.1 0.8 0 0.5 0.3 0.6 0.8 0.1 0.9-0.1 0.4 0.9 1.3 0.1 0.4 0.2" fill="none" stroke="#f5143c" stroke-width="0.5" stroke-linejoin="round" stroke-linecap="round"/><path d="M188.3 233.2l-0.2-1 0.7 0.1 0.8-0.1 1 0.5M189.4 232.2l-0.4-0.7-0.1-0.6-0.5-0.5 0-0.7M188.6 237.4l-0.1 0.7 0.3 0.7 0.1 1.1-0.2 0.7-0.3-0.1 0.8 0.6 0.5-0.4 0.5 0.3M189.3 232.2l-0.5-0.1-0.2-0.3-1.1 0.2 0.1 0.4 0.6 0.9-0.2 0.6-0.3 1 0.1 0.9M191.1 235.8l-0.3-0.5-0.9-0.2-0.5 0-1.1 0.1-0.4 0.4 0.6 0.5 0.2 0.4 0.2-0.3M187.4 234.6l-0.4-0.5-0.2-0.5 1.1-0.3-0.3 0.2-0.4-0.1M194.2 236.9l-0.5-0.1-0.3-0.6-0.4-0.2-0.7-0.6 0.1-0.6-0.1-0.6-0.3 0M191 232.2l0-0.3-0.8-0.5-0.5-0.4-0.5-1-1 0.3 0.6-0.3M191.2 234.2l0.8-0.3-0.1 0.3 0.3-0.9-0.1-0.6 0.5 0.1 0 0.6-0.7 0.5 0.1 0.7M194.2 233.4l0.1 0.3-0.2-0.7-0.2 0.4-0.2 0.3 0.5 0.8 0.8-0.3-0.1 0.7-0.7 0.4M190.4 234.6l-0.4-0.1-0.8 0.2 0.2 1 0.1 0.3-0.3 0.3 0.3-0.3 0.2-0.3 0.6 0.7M193.1 234.2l0.6 0.4 0.1 0.9-0.5 0.7-0.2-0.1-0.4 0.9-0.9 0.7-0.8 0.6M191.4 233.1l-0.5 0.2 0.3 0.6 0.5 0.6-0.6 0.4-0.3 0.6-0.4-0.4 0.1-0.5 0.3 0M186 232.1l-0.3-0.5 0.3 0.4 0.2 0.3 0.4 0 0.4-0.3-0.2-0.2 0.4-0.1-0.4-0.3M189.8 234l-0.4-0.9-0.5-0.9 1-0.5 0.6-0.2 0 0.7M190.4 232.2l-0.2 0.1 0.4-0.3 0.1-0.2-0.4-0.9 0.1-0.5 0.6-0.3 0.3-0.2 0.1 0.2M190.2 236.2l0.3 0.3 0.9 0-0.1 0.3-0.2 0.5M189.8 235l0.6 0-0.2-0.2 0.1 0.4-0.4 0.7-0.3 0.1 0.1 0.4M191.3 233.4l0.1-0.9-0.4 0.1-0.4 0.6-0.5 0.9 0.7-0.1 0.4-0.1M190 238.5l-0.9-0.5 0.5-0.8-0.1 0.2 0.2-0.5 1 0.3-1.1 0.2M189.2 233.4l-0.1-0.7-0.4-0.2 0-0.3 0.3-0.4-0.4-0.7M195.1 236l-0.4-0.5-0.5-0.5 0.5 0.1 0.4-0.9 0.5-0.2" fill="none" stroke="#f5143c" stroke-width="0.75" stroke-linejoin="round" stroke-linecap="round"/></g>
<polygon points="191.35,227.85 192.26,230.29 194.87,230.41 192.83,232.03 193.52,234.54 191.35,233.10 189.18,234.54 189.87,232.03 187.83,230.41 190.44,230.29" fill="#ffee10" stroke="#e8c800" stroke-width="0.3"/>
<text x="240.9" y="190.2" font-size="11" text-anchor="end" fill="#111" stroke="#111" stroke-width="0.35">66</text>
<text x="240.9" y="280.8" font-size="11" text-anchor="end" fill="#f5143c" stroke="#f5143c" stroke-width="0.3">54</text>
<rect x="248.4" y="177.2" width="109.3" height="109.0" fill="#fff" stroke="#cfd8d5" stroke-width="1.1"/>
<path d="M303.30,177.2 V286.2 M248.4,231.55 H357.7" stroke="#c3cdc9" stroke-width="0.9" fill="none"/>
<g><path d="M302.7 231.4l2.6-0.8-0.9-3.1 0.7 0.6 0.8-2.8 2.3-1.5-0.8-2.1 1.6-0.1 0-1.6 1.4-1.1 0.6-0.8-1.1-0.9-1.1-1.9-0.9-1.2-1-2.9-0.1 0.5-0.1-0.8-0.6-2.8-1.2 0.3-1.1-0.5-0.1-1.4-1.7-0.9 0.8 1.1-2.5-1.1-0.9-0.5-1.2-0.6-1.1-0.6-1.5 1.4-0.2-0.5-0.8-1.2-2.4 0.3-0.6-0.2-1.5 1.3 0.1-1-1.6 1.2-0.6-0.6 0.4 1.4-0.4 1 0.2 2.2-0.4 0.5 0.1 0.8 1.3 0.3-1.7 2.4 2-0.7-0.8 1.9 0.2-0.7 1.6 0.1 0-0.3 0.9-0.5 0.3-0.2 0.6-0.3M303.3 231.2l-2.1-0.6-2-1.8-1.1-1.2-0.9-0.7-2-1-0.7-0.7-0.9-0.1-2.1-1.9-1.2-0.5-0.6-0.3-1.6-0.6-0.1-0.2-1-1.6-1.2-1.2-0.8-0.1 0.7-0.6-1.1-0.9 1.9-1-0.1-0.3-0.1-0.4M303.4 230.8l-1.9 0.1-1.3-1.7-3 0.1-1.7 0-2.7-1.1-0.8-1.2-0.8 0.3-1.5 0-2-0.5-0.8-0.3-0.3-0.4-0.7-0.8-1 0 0.4-0.1-2-0.7M303.3 230.9l0.9-1.2 1.4-1.8 0.8-2.4 1.3-2.8 1.7-1.2 0.6-1 1.2 0.9 0.6-2.9-0.2 0.6 0.7-1.6M303.7 230.9l-1.7-1.4-1.1-1.8-0.7-2.1-0.9-1.9-0.9-1.7-1.8-1.8-1.1-0.5 0-0.7-1.4-0.4-0.8-0.7-0.7-0.3-0.2 1.2-0.8-1.1 0.1 1.2-0.4 0.6M303.2 231.9l-2.8 0.4-1.2-0.4-2.6-1-3 0.6-1.9-0.6-0.9 1.1-1.1 0 0.1-1.3-1.3 0.8-0.2-1" fill="none" stroke="#7d8683" stroke-width="0.55" stroke-linejoin="round" stroke-linecap="round"/><path d="M292.3 212.5l0.5 0.6 0.7 1.1-0.1 0.3 0.3 0.3 0 0.8 0.8-0.5 0.8-0.1 0 0.6 0.6 0.5M286.3 215.5l-0.5 0.3-0.8-0.3 0.3-0.8-0.3-0.6 1.2 0 0.6-0.4 0.6 0.1 0.4 1.1 0.4-0.6M283.3 224.5l-0.9 0.7-0.5 0.4-0.7-0.1-1 0.3 0.2-0.2-0.8-0.7 0.7-0.7-0.4 0.1-0.2 0.2M312.3 217.5l0.1-0.6 0.2-0.5-0.6-1 1-0.5-1.2 0.4-0.4-0.2-0.1 1.1-0.8 0.7 0.2-0.3M291.3 219.5l1-0.1 0.8 0-0.7 0.8 0.2-0.5 0.3-0.7-0.3-0.7-0.9-0.5-0.4-0.5-0.2-0.6M288.3 230.5l-0.4 0.3-0.5-0.8 1.1-0.3-0.3 0.7-0.2 0.3 0.5-0.2-0.5 1.1 0.7-0.1 0.2-1.1" fill="none" stroke="#111" stroke-width="0.7" stroke-linejoin="round" stroke-linecap="round"/><path d="M292.3 212.5h0M286.3 215.5h0M283.3 224.5h0M312.3 217.5h0M291.3 219.5h0M288.3 230.5h0" fill="none" stroke="#111" stroke-width="1.8" stroke-linecap="round"/><path d="M303 231.7l-1.1 0.5-0.9 1.9-0.9 0.8-0.8 1.2-1 0.9-1.6 0.7-0.5 1.8-1.1-0.2 1.3 1.2-1.5 0.6-1.2 1.3-0.4 1.4-0.2 1.3-0.5 0.6-0.7 1.4-0.8-0.9-0.4 0.8-1-0.1-0.3 1.3 0.7 0-0.5 0.2 1.7 0.4 0.8-1.2 0.8-1 0.5 1.8 0.9-0.3 0-1.7 0.7-0.2 1.3-1.1 0-0.6M303.2 230.7l2 0 1.7-0.2 1.6-0.9 0.9-0.6 2.1-0.9 0.7-0.4 0.3-0.1 1.1-2.4-0.5 1.2 2-1.7-0.9-1 1.1 0.7-0.1-0.7 1-1.1 0.6-1-1 1.7 0.5 1-1.8 0.9-0.7 1.6 0.5 0.7M303.6 232.2l-0.9 2 1.8 1.6-0.5 0.3 0.7 2.5 0.7 1.3 0.7 2.2-1.4 1-1.6 1.4 0.3 0-0.6 1.9 0.8 1.5-1.6 0.3 0.1 0.5-0.4 0-0.4 0.8M302.8 231.6l0.8 1.7 2.1 1.2 1 2.2 0.6 1.3 1.9 1.7 0.9 1.6 0.3 0.3 0-0.4 0.9 0.5 1.3 1.7-0.4-0.4 1.6-1-0.3 0.4 1.2-0.8-0.4-1.1M303.9 230.3l-0.4 3.3-1.9 2.3 0.2 1.9-1.1 0.9 0.1 3-1.3 1.1 0.8 1.2-2.2 0.9 1.1 2-1.2 0.8 0.4 0.7 0.8 0.7 0.3 0.2 0.4 0.9 0.4 0.3M303.6 231.6l-0.4 1.6 1.9 2.7 1.1 1 1 3.5 1.1 1.3-0.2 1-0.6 1.2 0.2 0.8 0.3 1.7-0.7 1.1" fill="none" stroke="#ff8fba" stroke-width="0.8" stroke-linejoin="round" stroke-linecap="round"/><path d="M296.3 244.5l0.6 0.6-0.4 0-0.7 0.8-0.1-0.4 0.1-0.7-0.5-0.4-0.3-0.8-0.7-0.1 0.6 1M314.3 227.5l0-0.3 0.2-0.4 0.3-0.6-0.7-0.3-0.4-0.9-0.9 0.6-0.2-0.4-0.7-0.8-0.5 0.5M301.3 249.5l0 0.8 0.5 0-1.1 0 0.1 1.1-0.2 0.5-0.2 0.6-0.8-0.5-0.1-0.8 0.9-0.4M314.3 240.5l0.3-0.1-0.1-1-1 0.2 0.3 1.1 0.8-0.2 0.3-0.4-0.4-0.4 0.5 0.9-0.7 0.3M300.3 250.5l0.7 0 0.4-0.5 0.1-0.5 0.9-0.7 1 0.4-1.1-0.2-0.4 0.6 0 0.7-0.4-0.5M307.3 247.5l-0.5-0.3-0.2 1-0.2 0.2 0.3 0.3-0.5 0.5-0.5-0.6-0.9 0.5-0.5 0.8 0.3 0.1" fill="none" stroke="#f5143c" stroke-width="0.7" stroke-linejoin="round" stroke-linecap="round"/><path d="M296.3 244.5h0M314.3 227.5h0M301.3 249.5h0M314.3 240.5h0M300.3 250.5h0M307.3 247.5h0" fill="none" stroke="#f5143c" stroke-width="1.8" stroke-linecap="round"/><path d="M303.3 231.5l-0.5 0-0.2-1-0.3-0.5 0.1-0.5-0.5 0.5-0.7 0.9-0.4-0.6-0.6 0 0 0.7 1 0.4 0.8 1.3-0.7 0.3-0.1 0.5-1-0.2-0.6-0.5-0.9-0.2-0.4 0.7-0.5-0.2-0.2-0.7-0.9-1.1 0.3-1.2 0.2 0.6 0.7 0.2 0.9 0.5 0.7 0.4 1.4-0.5 0.7 0.4 0.4 0.2 0.7 0.3-0.1 0.8-0.6 0.3-0.5 0.2-0.4-0.7-1.4-0.5-0.7-0.1-0.5 0.2-1.1-0.9 0.1-0.9 0.2-1 0.2-1.2M303.3 231.5l-0.8-0.3-0.5-0.7-0.8 0.2-1 0.3-0.8-0.4-0.9 0.3-0.3-0.9-0.7-1.3-0.6-0.7-1.5-0.7 0.2-1.2-0.2-0.8-0.2-0.9 0-0.5-0.1-0.6 0.5-0.3 0.3-0.4 1.1-0.4 0.7 0.3 0.3 0.7-0.3-0.7-0.3-1.4 1-0.1 0.5 0.4-1 1.2-1.5 0.1-0.2 0.7-0.2 1.1 0.2 1.1 0.8 1.2-0.3 0.6M303.3 231.5l-0.2-0.3 0.1-0.6-0.2-0.4-0.1-0.8-1-0.8 0.4 1.4-0.5 0.4-0.9-0.1-0.6-0.4 0-0.6 0.6-1.1-0.4-0.5-0.8-0.3-0.4-1-0.4 0.6-0.1 0.4 0.7 0.4-0.2 0.9 1.1 1.1 0.6-0.5 0.6-0.8 0.3-0.6-0.3 1.1-0.7 1-0.3 0.7 0.7-0.4 1.6 0.5M303.3 231.5l-1.2 0-0.8 0.3-0.9-0.7-0.2-1-0.7 0-0.7 0.2-0.4 1 0.4 0.9 1.3 0.8 1.3-0.7-0.2-1.2-0.2-0.7-0.1-0.5 0.5-0.2-0.1-1.6-1.1-1.1 0.6-1.2 1.1-0.2 1-1.2 0.6-0.3 0 0.8-0.2 0.2-0.4 0.1 0.7 0.1 0.6-0.4-0.4-1.5-0.3-0.6-0.9-1.2-0.4 0.2M303.3 231.5l0.5 0.4-0.2 0.8-1 0-1.1 0.4-0.2 0.3 0.1-0.2-1.1 0.2-0.6-0.8 0.4-0.5-0.4-1.5 0.7-0.4 0.8-1-0.3-1.1 0-0.5 0.8-1.5 0.6-1.5 0.8 0.3 1.1 0.6 1.1-0.3-0.2-0.5-0.7-0.6-0.5-0.2-0.2 0.8M303.3 231.5l-1 0.6-0.7-0.5-1 0.3-1.2-0.5-0.8-0.1-0.2-0.5-0.1-0.5-1.5-0.6-1.1-0.5M303.3 231.5l-1.1 0.9-0.8 1.1-0.3-0.6-0.9-0.7-0.3-0.9-0.5-1.5 0.2 0.6 0.6 1-0.4 1.2 0.4 0.5-0.5-0.2 0.7-1.4 1.2 0.5 1.1-1.3-1.1-0.8-0.2-0.7-0.9-1.2-0.5-1.8 0.1-0.5 1-0.1 0.6-0.8 0.5 0.2 0.7-0.1-1 1-0.3 0.3 0-1 0.8-1.4 0-0.5-0.4-0.3-1.2 0.7M303.3 231.5l-0.4 0.6-0.4 0.2 0 0.3 0.2 0.2 0.4 0.2 0.1 0.5-1.2-0.5 0.3-1.8-0.5-1.1-0.2 1.2-0.8 0.3-1-0.1-0.6 0.9-0.8-1 0.2-1 0-1M303.3 231.5l-1 0.3-1.1 0.5-0.5 0-0.5 0.8-1 0.2-0.6-0.2-0.5-0.5 0.3 0.7 0.3-0.7-0.4-1.3 0.1-0.5 0.6-1.6 0-1 0.5-0.1 0.3-0.4-0.2-1-0.1-1.2-0.5-0.3-0.5-0.8-0.6 0.3-1.7 0.2-0.4 0.3-0.4 0.9-1.3-0.6 0-1.6 0.6-0.4 0.6-0.3 1.2 0.5 0-0.5 0.3-1.3 0.5-0.2 1.2 0.5-0.1 0.8 1.2 0 1.2-0.7 0.6 0.1 0.8 0.4 0.7-0.2 0.4 0-0.1 0.4M303.3 231.5l0.9-0.6 0.3 0.7-0.1-0.7-0.5-1-0.9 0.3-0.9 0.2-0.6-0.2-0.2 0.8-0.4 0.9-0.3 0.6-1.5-0.3-1.2-1-1.4 0.1-0.6-0.2-1.4 0.4-0.4 0.5 0.5 1.3-0.7 0.2 0.7-0.8 0.2-1.2 1.3-0.9 0-1 1.2-1.3 0.2-1.6-0.1-1.5 0.3-0.6 0-1.1-0.4-1.3M303.3 231.5l0-0.6-1-0.5 0-1.3 1-0.5 1.1-0.9 1.1 0.9-0.8 0.8 0 0.6 0.4 0.1 0 0.2-0.3 0.6 0.6 1.1 0.8 0.7 1.1-0.1-0.5-0.7 0.2-1.3 0.6-1 0.5-0.9-0.6 0.9-0.6-0.1M303.3 231.5l0.4-0.1 1-0.5 0.6-0.6 0.8-1.5-1.1 0.4-0.3 0.4 0.4 0.4-0.5 0.1-1.1 0.4-1.2-0.4-0.4-0.5 0.1-1.7 1-0.5 1.1-0.6 1.2-0.4 0.9 0.9 1.5-0.3 0.1-0.7 0.7-1.1 0.3-1.1-0.4-1.6-0.8-0.3-0.9-0.9M303.3 231.5l-0.8 1.3 0 0.4-0.5-0.7 0.4-0.7 0.9-1 0.4-0.2 0 1.1-0.8-0.5-0.4-0.1 0.9 1-1.1-0.1-1-1.4 0.2-0.6M303.3 231.5l-0.7-0.6-0.5-0.3 0.7-1.6-1.3-0.6-0.6-1.6-0.4-0.1-0.9-1.2-0.4-1 0.4-1.4 1.2 0.2 0.3-1 0.7-0.7 0.7-0.3 0.3-0.3-0.8-1.4 0.2-0.7-1.4 0.7-0.8 0-0.9-0.7-1.6 0.4M303.3 231.5l1.6-0.2 0.3-1.1-1.2-0.9 0.3 1.5 1.4 0.5 1-0.8 1.6-0.5 0.7 1.1-1.1 1-0.8-0.1-1.3 0.9-1.2 0.4-1.1 0-0.6-1-0.3-1.1 1.3-0.9-0.5-0.2-0.6-1.3-0.9 0.3-1.2-0.1-0.8-0.9 0.2-0.5-0.3-0.1-1.5-0.2-1.6-0.1-0.5 0.1-0.5-1.5 1-0.2 0.6-0.4 1.5 0.3 1.4-0.6 1.2 0.4 0.8-0.3 0-1.7 0.9-1.3 0.4-0.1 1.2-0.7-0.1-1.6 0.7-1.4 0.9-0.8M303.3 231.5l-0.4-0.9-0.2 1-0.6-0.2-0.1-0.9-0.7-1.1-0.5-0.7 0.4-0.4-0.3-0.3-0.7 1.2 0.6 0.5 1 0.9 0.5 0.2M303.3 231.5l0.5 0 0.6 1 0.7-0.7-0.5-0.6-0.8 0.6 0.6 0.3 0.4-0.9 0.9-1.3 0.1-1.4-0.9-1.3 0.6-1.3 1.3 0.1 1.4 0 0.8 0.7-0.2 0.5-0.1 1 0 1.6 0.7-0.4 0.4-0.2M303.3 231.5l0.6 0.2 0.7-0.3 1-0.1 1-1.5 1.1-1.2 0.4-0.4-0.7 0.9-0.3 0.1-0.4 0.9-1.4-0.6-1.4-0.3-0.5-0.2 0.4-0.1 0.7 0.1 1.4-0.2 0.4 0-0.7-0.3-0.2-0.7-1.5 0.5-0.9-1-0.9-1.2 0.3-0.9-1.4-0.2-0.9-0.4-1.1-1.3 0.2-0.4 0.3-0.9 0.2-0.9 1.1-1.2-0.8-1-1.4-0.1-1.3-0.3-0.5-0.8-0.6-1.2 0.6 0.3 0.4 0.3 1.2 0.5-0.6 1.2M303.3 231.5l0-0.4 0-1.1 0-0.5-0.1-0.9-1.1-0.5-1.4-0.8-0.9-0.4-0.6 0.1-0.9 0.5 0.4 1 0.1 0.6-0.9 0.8-0.4 1 0.1 0.7-1.3-0.9-0.5-1.6-0.6 0.1-0.6-0.4-1.4 0.1-0.6 0.1-1 0.3-0.8 0.1-1.2 0.7-0.1 0.3 0.7 0.5M303.3 231.5l0.6 1.2 0.9 0.6 0.4 0.2 1.1-0.3 0-0.9 1.4-0.3 1.2-0.1 1-0.6 1.3-1.1 0.4 0.7 0.8-0.2-0.1 0.3-1.1 0.8 0.2 0.4 1.5 0.1 0.6 1.2 0.7-0.8 0-1.3 0.4-0.8 0.4-0.3 0-0.6 0.4-1.2 0.5-0.2 1.5-0.5-0.3-0.9-0.7-0.2-0.1 0.7-0.8-0.3-0.9 0.1-0.7-0.4 0 1.2 1.6-0.1 0.4-0.5M303.3 231.5l0.5 0.8-0.2 0.2 0.6 0.4-0.9 0.6-1.1-0.5-0.5-0.5-0.5-1.6 0.7-1.6 0.3-1.4-0.8-1-1.1 0.1-0.5-0.5 0.2-1.8 0.2-0.5 0.9-1.5 0.1-1.3-0.8-1.4-0.5-0.5 0.3-0.4M303.3 231.5l0.7-1.3-0.8-0.5-0.2-0.7 0.7-0.9 0.7-1.1 0.5 0 1 0.7 0.8-0.7 0.4-1.4 0.5-0.7 0.5-0.4-0.9-1.2-0.4-1.6-1.2-1.1-0.6-0.2-0.9 0.1-1-0.3-1.1 0.7-0.8-0.2-0.4-0.5-1.6 0.3-0.4 1.6-0.2 1.1-0.4 0.7-0.8-0.5-0.7-1.3 0.2-0.4M303.3 231.5l-1.5-0.5-1.5-0.1-1 0.2-0.3 0.5 0.1 0.4-0.3 0.5 1.2 1 1-1.3-0.3-1.5-0.3-0.7 1-1.2 0.8-0.9 0.7 0-0.4 1.1-0.6 0.4-0.5-0.4 1.1-0.8 1.6-0.1 0.6-0.8 0.5-0.4 0.3 0.2 1.3-0.7 0.7-1.1 1.4-0.2 0.5 0.3 1.4-0.6 0.2-0.6-1.2-0.4-1.2-0.5M303.3 231.5l0.9-1.1 0.4-1.5-0.1-1.1-0.4-1.5-0.7 0.1-0.3 0.1-0.6-1.3-0.2-0.7 0.8-0.1 1.3-1 0.3-0.5-0.3-0.3-0.4-1.4-1-0.6 0-0.4M303.3 231.5l-0.4 0.1 1 0.4 0.4 0.4 0.5-1.2 0.6-1.5 0.5 0.6-1.6 0.2-0.5 1.5 0.3 1.1 1.2 0.2 1.2-0.2 1.3-0.7 0.7-0.9 0.8-0.7 0.3-1.2 0.4-1.6-0.4-0.7-0.3 0.1M303.3 231.5l-1.1 0.9-1.3-0.1-0.8 1.2 0.7-1.2-0.8-0.6-0.5-0.7-0.5-1.6-1.1-0.2 0.3-1.7 1.4-0.9 0.9 1 0.9 1.1-1 0.1-0.7-0.9 0.6-1.5-1.1-1.2-1.3 0-1.5 0.3-0.6 0-0.3-0.3M303.3 231.5l-1.3 0.7-0.7-0.5 0.1-1.6 0.4-0.6 0.5 0.2 0.9-0.3 0.4 0.1-0.1 1-0.4-1.5 0-1.3-0.1-1.2 0.4-0.7 0.9-0.4 0.6-0.7 0.3-0.4-0.7-1-1.5-0.6-0.7-0.7M303.3 231.5l1.3 0.7-0.1-1.3 0.9 0.4 0.8 0.8 0.8-1.5-0.7-0.8-1 0.1-0.2 0.3-0.6-1-0.4-1.7 0.4-0.8 0.9 0.7M303.3 231.5l0.4-0.6-0.1-0.8 1.4-0.4 0.8 0.5 0.8-0.3-1.1 0.5-0.7 1.2-0.1 1.1 0.6 0.8 1.1-0.4 0.4 0.1 0.7 0.2 0.6-1.2 0.1-0.9-0.1-0.5 0.6-0.2-0.7-0.8-0.4-0.7-1 0.6 0.3-0.5-0.4-0.4M303.3 231.5l0.3 0.6-0.5 1.2-1.5-0.1-0.1-1.6-0.4-0.7-0.5-1.5-0.3-0.4 1.5-0.5 1.6-0.6 0.4-1.1-1.3-0.3-1.5-0.3-1.3 0.4 0 0.5 0.8-0.1 0.8-0.1 0.5 0 0.7-0.1 1.2-0.6 1.2 0.5 0.6-0.1 0.7-0.9 1.3 1 0.4-0.7-0.2-1.4 0-0.8 0.9-0.4 0 0.3-1.2 0.2-0.8 0.4-0.7-0.2-1 0-0.6 0.7 1.1 0.7 0.9 0.2 1.7-0.3-0.4-0.6-0.7 0 0.7 0.8 0.2 1.5M303.3 231.5l-0.7 0-0.7 0-0.5 0.3-1 0.3-0.5 0.3-0.5 1.1-0.2-0.9-0.4-0.5 0-0.9 0.7 0.3 0.5 0.4 0.6-0.1 0.5 1 0.5-0.3-0.6-1.6-0.9-1.2-1-0.1 0.4 0.4 0.5 0.4 0.5 0.8 0.3-0.1 1.5-0.2-0.1-1.6-0.5-0.2-1.4-0.9-0.3 0.2-1.6-0.5-0.7 0.1-1.2 0.4 0 0.5-0.6 0.9M303.3 231.5l0.8-0.3 0.7-0.3 0.9-0.3 0.8 0.2-0.6 0.6-0.7 0.6 0.8 0.8 0.6 0.2-0.3-1.3 1-1.3 1.4 0.2 1 1.1 0.7 0.6 0.2 0.3 0.3 0.2 0.5-1 0.3-0.2 0.5-1.3-0.2-1-0.5-1.5-0.3-0.4-1.5 0.6M303.3 231.5l0.8 0.8 1.1 0.2 1.3-1.2-0.3-0.4-0.5-0.1-1.1-0.6-0.4-0.7-0.2-1.7 1.1 0.5-0.7-0.4-0.1-1.1-0.5-0.2 0.6-1.1 0.4-0.7 1.1-0.9 0.5-0.2M303.3 231.5l1-1.1 1.1-1.2 1 1-0.5 0.7-0.7 0.9-1.2 0.3-0.6 0.3-0.4 0.4-0.2 0 1.4-0.4 1 0.3 1 0.7 0.4-0.8 1.3-1 0.5-1 1.5-0.7 0.3-1.7 0.3-1 0-0.6-0.8-0.5-0.3-0.1-1.1 0.1-0.9-1.1-0.6 0-0.1-1.1 0.5-0.9M303.3 231.5l-0.8-0.5-0.2-0.4-0.6-1.6 0.6-0.7 0.5-1.2-0.7-1.6-0.2-0.7-0.6-1.4-0.5 0.1-1.2-0.5 1.1-1.2 0.5 0.3 0.3 1.3 1.4-0.4 0.1-0.7 1.2 0 0.5 0.3 1.1 1 1-0.1 0.4 0.4 0.4 0.8 0.6 0.8 0.3 0.9 0.2 0.3 0.5-0.4 1.6 0 0.5 0 1-0.2 0.4-0.8-1.3-0.9-1-0.9-0.9-0.2 0.2 0.2M303.3 231.5l-0.8 0.7-0.8-1.1 0.1-0.8 0.3-1.1-0.7-1.1-1.2 0.5-0.1 0.5 1.2-0.2 0.6-0.6 1.5 0.2 1.3-0.4 0-0.5 0.5-0.4 0.3 0.1 1.5 0 0.3-0.8-0.5-1.4 0.3-1-1.6-0.3-1 0.2-0.3 0.5-0.4 0.9-0.6 0.2-1.3 0.9-0.6 0.4-1.1 0.6 1.5 0.1 0.4 0.1 0.8-0.1 1.4 0.5 1.6-0.6 0.3-0.6 0.3-0.6 0.7 0.1 0.3-0.5 0.8-0.6 0.3 0.1 0.8 1.1 1.6 0.5 1.3-0.7M303.3 231.5l0.6 0.8 1.1 1 0.2 0.2 0.3-0.1 0.2-0.8 0.4 0.1-0.7 0.6-1.2-0.6-0.3 0.4-0.9 0.4-1.5-0.8-1.5 0.5-0.5-0.6-1.2-0.9-0.7-0.3-0.9 0.5-1.1-1.2 0.2-0.5-0.8-1.3 0.1-0.5 0.7-0.2 1.2-0.7M303.3 231.5l0.3-0.8-0.3-1-1.1-1.1 0.4-0.6 0.3-1.3 0.5 0.1-0.1 0.3-1.3-1-1.2-1.1M303.3 231.5l1.2 0.2-1.6-0.3-0.8 0.7-1.5 0.3-0.7 1 0.9-1.1 0.1-0.4 0-1.2-0.1-0.5 0.2-0.8-0.7-1.4-0.1-0.6-0.4-0.9-0.3 0.4-0.4-0.7 0.1-1.7 0-0.5 0.9-1.1 1.2 0.8 0.6 1 0.4 0.8M303.3 231.5l0.9-1.2 0.2-0.8 1.3-1-0.6-1.4 0.4-0.5-0.4-0.6 0.8-0.6 1.1-0.8 0.2-0.8-0.4-1.5 1-1.4 0.8-0.4 0.4-1.6-0.9-1.4 0.1-0.5-0.9 0.4-0.8 0.8-0.6 0.7 0.4 0 0.4-0.5 1.2 0.4-0.3 0.2 0.6 1.3 0.9-0.1 0.5-1 1.2-0.2 0.1 0.7M303.3 231.5l0.3 0.3-0.3 0.7 0.3 0.9-1.3-0.7 0-0.5-0.2-1.1 0.1-0.5 0.1-1 1 0 0.4-0.7 1-0.7 0.6 0.3-1.3 0.2-0.2 1.5-0.3 0.6M303.3 231.5l1 0 0.6-0.4 0-1.6 0-0.7-0.7-1.4-0.6-0.7-1.5-0.1-1-0.8 0.3-0.5-0.8-1.2-0.2-0.6 0.8-1 1.5-0.9 1 0.2-0.3-0.8-0.8-0.7 1-1.3-0.3-1.1 0.3-1 0.4-0.3 1.5 0 0.3 0.7 1.2-0.2 1-1.1 0.5 0.8-0.2 0.8-0.7 0.7 0.1 0.9-0.4 1-1.1-0.1-0.7-0.8M303.3 231.5l-1.4 0.3-0.9-1.3-0.7-0.1-0.3-1.6-0.3-0.9 0.4-1.4 0.4-1-0.8-0.5-0.6-1.3-0.7-0.8-1 0.4 0 0.3 0.2 1.1-0.9-0.5-0.7 0-0.5 0.4-0.5 1 0.4-0.4 1.2-0.4 0.9 0.3 0.6-0.8 1.5-0.4 0.2 0.4 0.9 0.5 0.3 0.1 1.2-0.5 1.3-0.7 0.7 0.1M303.3 231.5l0.7 0 0.9-0.1 0.7-0.2-0.4-0.6-0.6 0.4-0.7-1.1-0.2-0.9-0.1-0.7-0.3 0-1.1-0.3-1.4-0.9-0.9 0.5 0.3 0.6-1.5-0.4-0.3-1.4-0.9-1.3-0.5-0.7 1.2-0.4 0.6 0.6 0.3-1.2-0.4-0.6 0.4-0.4 0.4-0.7 0.4 0.2 0.3 0.4-0.7 0.3-1.2 0.9-0.8-0.6-1-0.6 0.8-1.3 1.4-0.1M303.3 231.5l0.9-0.9 0.9 0.2 0.5 0 0-1.1-0.2-0.4-1.2-0.9 1.5-0.6 1.3-0.7 1 0.9 0.5-0.1 1-0.5 1.3-1 0.3-0.5 1.1-1-0.4 0.6-0.8-0.4-0.9 0.4-0.8 0.6-0.9-1.1-0.5-0.6-0.9 0.4-1 0.4-1.1 0.7-1.4 0.7-1-1 0.5-0.2M303.3 231.5l0.3-0.5 0.1-0.9-0.3-1.4-0.7-1.6-1.1-0.6-0.7-0.2 0.2-1.5 0.5-0.7 0-0.4-0.2-0.9 0.6-1 0-0.7 0.3-0.2 0.6 1.1 0.3 0.5 0.7 0.8 0.3 1.5 0.9 1.3-0.3 1 1-0.5 0.1 0.6M303.3 231.5l-0.3 0.9-0.3-0.2-0.4 0.5-0.1 0.4 0-0.2-0.5-0.7-0.4-0.3-1.3-0.9 0-1.3-0.6-1-0.9-0.6-0.2-1.3-0.1-0.6-0.2-0.4-0.4-0.9M303.3 231.5l-0.9-1.2-1.2 0.7-0.6-0.5 0.5-1.5 0.2-0.9 0.7-0.5 1.6-0.1 0.1 1.5-0.8 1.1-0.9-0.8 0.9-1.1 1.1 0.1 0.6 0.1 0.8-0.6M303.3 231.5l-1-0.3 0.1 1.1 1.7 0.1 1-1.2 0.1-1.1-0.3-0.5-0.5-0.8-0.6-0.7-0.8-1.3-0.6-0.4 0.3 0.2 0.2 0.4-0.2 0.4 0 0.3-1.4 0.4-0.9 0.4-0.7 0-0.7 0-0.3-0.9-0.6 0.7 0-1.4-1.3-0.4-0.2 0.1M303.3 231.5l-0.9 0.8-0.1 1.2-0.1-0.6-0.9-0.7-1.3 0.4-1.2 0.3-0.6-1.3 0.6-1.4-1.3-0.8-0.7 0-0.5 0.3 1.5 0 1.1 1-1.1-0.9-0.4 0.3 0.3 1.3 0.4-0.6 0.8-0.1 1.5-0.8 1.3-1.1 1.3-0.2 1-1.5 0.9 0 0 0.4M303.3 231.5l-0.7-1-1.2-0.4-0.9-0.6 0.5 1.4 0.5-0.2 0.5 1 0.5 0.4-0.8 0.1-1-0.8 0.3-0.7 0.5-0.2 1.5 0.5-0.1-0.5-0.5-1.5-0.6-0.4-0.5-0.1-1.7 0.1 0.4 1.2-1.3 0.1-0.5-1.4M303.3 231.5l-1.4-0.2-1.1-0.2-0.4-0.7-0.5 0-1.4 0.5-0.5 1.1 0.9-1.3 0.3-1-0.2-1.2 0.5 0.2 1-0.1-0.6 0-0.3-0.3-1.5-0.7 1.1-0.8 1.2 0.3 0.4 1.2 0 0.4-0.7-0.2-0.9 0.4M303.3 231.5l0.2-1 0-0.6 0.9 0.4 0.9 0.2 1-0.7 1.1-0.3 0.7-0.2-0.6-1.1 0.8 0-0.1-0.9-1.4-0.7-0.8-0.3-0.9-0.3-1 1.2-1 0.3-0.4-0.2-0.4-0.3-0.8-0.8 0.1-0.5 0.1-0.5 0.4-1 1.1 0.4 0.6 0.1-0.1-0.7-0.4-0.4 0.4-0.8 1-1.2M303.3 231.5l-0.5 0-0.9 0.1 0.2 0.6 1.6-0.3 1.5-0.4 1.1-0.4 0.3-0.6 0.5-0.5 0.9-0.3 0.8 0.7 0-1.1-0.4-0.5-0.2-0.6 0.6-1.2 0.4-0.7-0.9-0.8 0.1-0.6 0.1-0.5 1.1-0.2 0 0.4-0.8 0-0.4 0.7-0.4-0.1-0.4-0.7-0.9 0.2-1.3 0.7-0.2 0.5-0.6 0.4 0-0.6 1.1-0.4-0.8-1.1 0-0.7M303.3 231.5l0.1-1.5-0.9-1.4 1.2-0.7 0.7-0.2 1.5 0.6 1.2-0.8 1 0.1 0.6 0.1 0.7 0.2 0.3-0.4 0.1-1 0-1.6 0.4-1M303.3 231.5l0.7 0.8 0.7 1.1 0.5-0.3 0.9-0.3 0.4-0.3 0.8-0.1 0.6 0.7 0.3-0.3 0.6-0.9-1-0.4-0.1-0.4 0.1-1.1 0.4-0.8 0.7-0.6 0.7 0.5-0.4 0.4-0.5-0.9-1.2-1.1-0.2-0.4 0.2-0.4-0.2-1.2 0.6-0.3 1.2 1.1 0.5 1.1 1.1 1M303.3 231.5l1.2 0.3 1 0.3 1.4-0.4 0.7-0.9 0.2-0.8 0.7-0.9 1.2 1-1.2 0.7" fill="none" stroke="#111" stroke-width="0.28" stroke-linejoin="round" stroke-linecap="round"/><path d="M297.9 228.4l-0.1-0.4-0.1-0.2-0.6 0.1-0.1-0.5-0.5-0.5M296.7 227.4l0.4-1 0.4-0.4 0.2-0.8 0.9 0.5 0.1 0.5-0.1 0.4M302.9 230.8l0.2-0.3 1-0.3 0.8-0.5 0.2-0.6 0.5 0.3M302.2 221.8l0.8-0.4 0.5 0.5-0.4 0.3 0.6 0.2 0.1-0.3-0.1-0.3 0-1-0.3 0.1M303.7 224.7l-0.5 0.2-0.8-0.1-0.2-0.2 0.4 0.2M295.7 229.2l-0.2-0.8 0.5-0.4 0.1-0.7 0.4 0.1 0.2 0.2-0.6 0.9 0.3 0.5M300.8 223.7l-0.5 0.4 0.2 0.2 0.5-0.5 0.2 0.1 0.9-0.7 0.5 0.7 0.4 1.1M298.6 229.4l-0.5-0.7 0.1-0.4-0.5-0.9 0.2-0.2M303.2 223l0.1 0.4-0.3-1 0.2 0 0-0.5M297.3 222.2l0.4-1 0-0.4-0.8-0.7 0.2 1.1M306.9 229.5l-0.2 0.6-0.2 0 0.9-0.3-0.2 0.7-0.6-0.4-0.4-0.6-0.3 0.6-0.3-0.8M306.7 221.3l0.1-0.9-0.2 0-0.7-0.3 0.1 1 0.4-0.5 0.3-0.1M301.5 230l-0.5 0-0.4 0 0.3 0.5 0.7 0 0.1 0.4M297.5 219.3l0.1 1.1 0.1 0.2 0.4 0.4 0.3 0.4M306.2 217.4l-0.5-0.5-0.6-0.5-0.2-0.2 0.1-0.5M302.3 230.8l-0.4-0.5-0.4 0.1-0.1-0.2 1-0.2 0.2 1-0.2 0.7M309.8 229.2l-0.4-0.1 0.2-0.2 0.5 0.5-0.2-0.8 0.4 0.7M297.8 218.8l0.2 0.3 0.2-0.1-0.1-0.7-0.4 0.3-0.7 0-0.1-0.7-0.5 0.1M290.2 230.9l0.8-0.2 0.6 0 0 0.3-0.2 1-0.5 0 0.8-0.3 0.3 0.6M315.9 227.4l0-0.3 0.8-0.7 0.8-0.5 0.5-0.2-0.4 0-0.3-0.3 0.2-0.3M300.2 219.1l0.4 0.6 0.5 0.8 0.4 0.6-0.5 0.8 0-1M296.9 221.7l-0.2-0.2-0.4 0 0.3 0.6 0.4-0.1-0.9 0.4 0.6 0.1 0.2-0.9-0.7-0.1M308.6 223.3l0.4 0.9 0.5 0.9 0.5 0.2 1.1 0.1 0.5-0.2 0.3 0.9-0.2 0.5 0.8 0.2M303 220.2l-1 0.2-0.3 0.5-0.3 0.8-0.4 0.3M309.3 227.4l-0.5-0.6 0.3 0.3 0.4 0.1 0.8 0.7 0 0.4 0.1 0.2 0.4 0.4 0.6-0.7M295.5 225.2l0.2 0.3-0.7 0.4-0.7-0.3 0.4 0.2M302.3 222l0.3 0.1 0.3 0 0.7-0.7 0-0.9-0.3-0.3-0.6 0.8M305.4 227.4l-0.2 0.4 0.5 0 0.3 0-0.6 0.4 0.5-0.9 0.5-0.9M306.5 228.8l-0.7 0.2-1-0.2-0.9-0.2-0.3 0-0.6 0 0-0.2M307.8 227.1l-0.9 0.4 0.1 0.7-0.1 0.5-0.8-0.6-0.1 0.5-0.3 0.1-0.7-0.3M295.9 229.8l-0.4-0.6 1-0.1-0.3 0.6-0.2 0.4 0.5 0-0.3-0.4-0.9-0.5-0.4-0.1M309.7 228l0.9 0.3 0.4 0 0.6-0.7-0.4-0.5 0.3 0.3 0.3-0.2 0.6-0.5M306.4 223.7l0.6 0 0.8-0.2 0.5 0.2 0.6-0.8-0.3-0.8-0.2-0.1 0.5 0.8 0.1 0.3M307.2 223l0.8 0.5 0 0.3-0.5-0.3-0.3 0.3 0.6 0.7 0.3-0.1 0.3-0.3M309.7 223.5l0.1-0.6-0.4-0.7 0.4 0.2 0.1-0.3-1.1 0.1 0.3 1.1M312.3 226.3l0.5 0.3 0.2 0-0.3-0.1 0 0.3M297 227.5l-0.3-0.6-0.6 0.2-0.9-0.8-0.5 0.4-0.8 0-0.2 0.8-0.4-0.4M300.8 225l-0.3 0.5 0.3 0.2-0.3 0.8-1-0.4-0.7-0.1M302.3 225.5l0.6 0.4 0.2 0.6-0.4 0.9 0.6 0.5 0.4 0.8M310.9 219.7l0.4-0.3 0.7-0.2 0.2 0.2 0.1 0.7M303.5 230.8l0.2-0.1 0.5-0.7 0.6-0.7-0.1 0.7-0.2 0.4-0.2 0.1-0.8-0.1-0.7 0M305.5 219.3l-0.5-0.9-0.4 0.2 0.2 0.6-0.4-0.1 0.5 0.6 0.5 0.5-0.5-0.1 0.4 0.1M304.2 223.8l0.4-0.3 0.4-0.8 0 0.8 0.6 0.4 0 0.3 0.5 0.4-0.5-0.3M298.7 220.9l0.2 0.6 0.2 0.5-0.7 0.3-0.8-0.5-0.5-0.4-0.2 0.2M303 225.4l0.3-0.5 0.4 0.2 0.6-0.1 0.6 0.6M305.9 227.2l0.3 0.3 0.5-0.8 0.5 0.5-1-0.2-0.5 0-0.5 0.1 0.4 0.4M297.6 224.9l-0.6-0.3-0.5 0.6-0.4 0.2-0.2 0.4-0.2 0.1 0.4-0.5M305.4 227.8l0.7-0.3 0.3 0.6-0.3-0.8-0.2-0.5M296.6 226.6l-0.6 0.2 0.2 0.6-0.1 0.5-0.7 0-0.9 0.1 0.6-0.6 0.9 0.6 0.3 0.9M304.9 227.5l0.2 0.1-0.2 0.8-0.1 0.8-0.4-0.3-0.1-0.4-0.4-0.8M298.2 228.5l0.9 0.7 0.4 0.5-0.1 0.7-1 0.1 0.9 0.6 0.3 0.2-0.9-0.4-0.8-0.6M299.2 228.9l-0.3-0.6 0.3 0.6 0.8 0-0.7 0.1 0 0.4M304.7 221.6l-0.1 1-0.9 0.4 0.3-0.3 0.2 0.3-0.9 0.2M304.9 223.5l-0.1-0.3-0.5-0.1-0.1-0.7 0-0.8 0.7-0.7M310.2 223.9l-1.1-0.1 0.1 0.4 0.7 0.8 0.1 0.2M310.7 228.4l-0.7-0.9-0.4-0.2-0.8-0.5 0.2 0.3 0.4 0.7-0.4 0.6-0.3-0.3M308.5 230.8l-0.9-0.6-0.3-0.2 0.2-0.4 0.1-0.9-0.2-0.5-0.7 0 0.3-0.9" fill="none" stroke="#111" stroke-width="0.53" stroke-linejoin="round" stroke-linecap="round"/><path d="M297.9 228.4h0M296.7 227.4h0M302.9 230.8h0M302.2 221.8h0M303.7 224.7h0M295.7 229.2h0M300.8 223.7h0M298.6 229.4h0M303.2 223h0M297.3 222.2h0M306.9 229.5h0M306.7 221.3h0M301.5 230h0M297.5 219.3h0M306.2 217.4h0M302.3 230.8h0M309.8 229.2h0M297.8 218.8h0M290.2 230.9h0M315.9 227.4h0M300.2 219.1h0M296.9 221.7h0M308.6 223.3h0M303 220.2h0M309.3 227.4h0M295.5 225.2h0M302.3 222h0M305.4 227.4h0M306.5 228.8h0M307.8 227.1h0M295.9 229.8h0M309.7 228h0M306.4 223.7h0M307.2 223h0M309.7 223.5h0M312.3 226.3h0M297 227.5h0M300.8 225h0M302.3 225.5h0M310.9 219.7h0M303.5 230.8h0M305.5 219.3h0M304.2 223.8h0M298.7 220.9h0M303 225.4h0M305.9 227.2h0M297.6 224.9h0M305.4 227.8h0M296.6 226.6h0M304.9 227.5h0M298.2 228.5h0M299.2 228.9h0M304.7 221.6h0M304.9 223.5h0M310.2 223.9h0M310.7 228.4h0M308.5 230.8h0M303.1 230.7h0M309.8 226.6h0M301.5 230.6h0M306.5 228.8h0M305.5 228.5h0M303.9 228.4h0M302.4 228.5h0M297.9 229.2h0M300.1 227.7h0M302.7 229.6h0M306.1 230.5h0M300.6 228.4h0M308.9 228.4h0M301.2 230.9h0M302.4 230h0M301.7 229.7h0M302.1 225h0M304.2 227.8h0M304.7 230.1h0M305.9 228.8h0M304.5 228.9h0M306.7 227.9h0M300.4 229.6h0M304.3 230.6h0M305.1 230.8h0M302.6 226.9h0M306.5 229.5h0M308.1 228.7h0" fill="none" stroke="#111" stroke-width="1.4" stroke-linecap="round"/><path d="M303.3 231.5l1.2 0.1 0.5 0.6-0.1-0.8-0.9-0.9-0.9 0.2M303.3 231.5l0.5-0.4 1.2-0.7 0.5-0.6 1.2-0.5 0.7-1 1-0.9 0.9-0.3 0.5-0.5M303.3 231.5l-0.7 0.1-0.4 0.4-0.3-0.1-0.6 0.3 0.6-0.2-0.3-0.5-0.1-0.9M303.3 231.5l0.6-0.3 0.9-0.5 0.5-0.4 0.6-0.7 0.6-0.8M303.3 231.5l-0.4-1 0.9 0 0.3-0.1 0.6-0.3 1-0.1 0.1-0.9-0.3-0.6M303.3 231.5l0 1.2 0.7 0.6 0.1-0.6 0.2-0.8 0.3-0.7-0.7-1-0.1-1.2 0.1-0.6M303.3 231.5l0.2-0.8 0.3-0.6 0.7-0.7-0.3-0.8-0.5-0.9-0.4 0.4-0.9 0.4M303.3 231.5l-0.4-0.5-0.6-0.3-0.8-0.1-0.7 0.3-0.4-0.3-0.5-0.3-0.2-0.7-1 0.5-0.8-0.9M303.3 231.5l-0.7 0-0.6-0.5-0.2-0.5-0.1-0.5 0.4-1.1 0.3-0.4-0.8-0.8-1.2 0.1-0.3-0.1M303.3 231.5l-0.3 0.3-0.4 0.6-1 0 0-0.4 0.5-1-0.2-0.6 0.8-0.8M303.3 231.5l0.7 0.6 0.5 0.3 0.7 0.7 0.8-0.7 0.4-0.6 0.9-0.8 0.5-0.8-0.7-0.2-1 0.5M303.3 231.5l-1.1 0.6 0-0.9 0.4-0.6 0-0.9 0.3 0-0.1 0.3-0.6 0-0.6 0.3-0.6-0.4-0.6-0.7 0.2-0.8M303.3 231.5l-0.9 0.6 0.6 0.7 0.9-0.6 0.9-0.7 0.8-0.5 0.7 0.1 0.6 0.5 0.5-0.2 0.2-1.2 0.2-0.9 0.6-0.8 0.5-0.1M303.3 231.5l-0.4 0 0.1-1.1 0.3-0.3-0.2-0.3 0-0.5-0.8 0-0.6 0.6-0.5 0.6 0 0.4M303.3 231.5l0.1 0.8-0.6-0.9 0.5-0.8 0.9-0.8 0.8 0.6 0.9 0.8-0.3-0.1-1-0.5-0.8-0.2-0.6-0.3-0.5-0.4-0.3 0.3M303.3 231.5l-0.4-1.2-0.6-1.2-0.3 0.6-0.3-0.7-0.3 0.1-0.9 0.2-0.3 0.2 1 0.2 0.5 0M303.3 231.5l-0.5 0.3-0.5-1.2-0.2-0.9 0.3-1.3-0.4-1.2-0.8 0.2 0-1.4 0.4-0.4 0.5-0.6M303.3 231.5l-0.4-0.7-0.5-1 0.3-1.1 0.9-0.4 0.6-0.5M303.3 231.5l-0.4 0-0.6 0.2-0.2 1.1 1 0.7 0.2-1.2-0.5-0.8 1.2 0.3 1 0.3 0.2-0.5 0.1-0.3-0.6-1.2M303.3 231.5l-0.1-1 0.5-1.1 0.6-0.7 0.2 0.1 0.1 0.7 0.4 0.2 0.4-0.4 0.5-0.5M303.3 231.5l-0.5 0.6-0.8 0.2 0.2-1.1 0.5-0.7 0.5-1 0.5-0.4 0.6-0.3 0.2 0.1M303.3 231.5l0-0.6 0.4-0.7 0.5-1 0.7-0.3 0.7-0.9 0.4-0.7 0.7 0.6M303.3 231.5l-0.7-0.1 0.3 0.8 0 0.6-1.2 0.2-0.4-0.4-0.8-0.9-1.1 0.1-1-0.3 0.6-0.4 1 0.5 0.2-0.7 0.2-1.3M303.3 231.5l-0.4-0.9-0.5-0.1-0.4 0-0.5 0.9 0.4 0.1 0.3-0.3 0.3-0.3 1.1-0.1 0.6 1 1-0.8-0.5-0.4-0.4 0M303.3 231.5l-0.6-0.9 0.7-0.4 0.9-0.3 0.5-0.2 0.3 0.4 0 0.2 0 0.5M303.3 231.5l-0.7 0.1 0.1-1.3 0-0.6 0.1-0.9-0.3-0.8 0.5-0.7 0.7-0.3 0.4 0.1-0.3 0.6-0.3 0.2-0.6-0.6-0.3-0.4M303.3 231.5l0.4-0.6 0.9-0.7 0.1-0.5 0.6-0.3 0.8-0.3 0.4 0.4M303.3 231.5l0.9-0.3 0.1-1-0.4-1.3 0.3-0.4 0.9-1.1 0.8 0.5 0.6 0.5 0.4-0.1 0.5 0.1 0.7 0.3" fill="none" stroke="#111" stroke-width="0.5" stroke-linejoin="round" stroke-linecap="round"/><path d="M303.1 230.7l-0.8-0.6 0.7 0.4 0.5-0.2 0.2 0.1 0.8-0.2 0.3-0.2 0.7-0.3 0.2-1M309.8 226.6l0.2 0.9-0.2 0.6-0.8-0.5-0.6-0.8M301.5 230.6l-0.3-0.4-0.1 1.1-0.8 0 0.5 0-0.2-0.4-0.6-0.9M306.5 228.8l-1.1 0.1 0.7 0.7 0.3-0.1-0.2-0.7-0.6 0.1 0.1-0.3 0.7-0.6M305.5 228.5l0.7-0.8 1 0 0.2-0.5-0.2-0.9M303.9 228.4l-0.4-0.5-0.5 0.7-0.6-0.1 0-0.4 0.1 0.2M302.4 228.5l0.4 1.1-0.8-0.2-0.6 0.4 0.8 0 0.2-0.3 0.7-0.5M297.9 229.2l-0.6 0.7-0.6 0.7 0.1 0.4 0.6 0.8 0.1-0.8-0.3-0.5-0.4 0.2M300.1 227.7l-0.1 0.9-0.5-0.9 0.1-0.8 0.2 0.5 0.3-0.5M302.7 229.6l-0.1 0.5-0.4 0.3 0.2-0.1 0.4 0.4-0.6 0.3 0.6 0.5M306.1 230.5l0.6 0.2 0.6-0.7 0-0.8 0.3-0.1 0.6-0.1M300.6 228.4l-0.5 0.3-0.2-0.4-0.7-0.6-0.6 0 0 0.4M308.9 228.4l0.3 0.3 0.2-0.4 0.9-0.3-0.1-0.4 0.4 0.3 0.9 0.3-0.5 0.3-0.4-0.3M301.2 230.9l-0.8-0.2-1.1-0.2-0.4 0.2-0.8-0.3-0.4-0.7 0.2-0.4-0.1-0.2M302.4 230l-0.8-0.5-0.9 0-0.9 0.6-0.5-0.3 0-0.3M301.7 229.7l0.1-0.5-0.4 0.5-0.6 0.2-0.5 0.9-0.1-1 0-0.6M302.1 225l-0.1 0.6 0.6 0.4 0.4-0.6-0.2 0.5-0.6 0.3M304.2 227.8l0.3 0.1 0.6-0.6 0.5-0.2 0.4-0.2 0.9-0.6M304.7 230.1l0.5 0.6 0.8-0.4-0.3-0.2 0.4 0.7 0.3-0.3M305.9 228.8l0.2 0.2-0.1 0.8 0.8-0.4 0.6 0.3 0.7 0.6 0 1M304.5 228.9l-0.4-0.2-0.4-0.1-0.9 0.4-0.1 0.3-0.1 0.2-0.3 0.3-1.1 0.2-0.2-0.5M306.7 227.9l-0.3-0.7-0.7 0.5 0.4 0.4 0.1 0.7-0.3 0.8M300.4 229.6l-0.2-0.2-0.2-0.2-0.1-0.5 0.6-0.4 0.1-0.3M304.3 230.6l0.3-0.3 1 0.1 0.3-0.2 0-0.8-0.5-0.4 0.2-0.2 0.4-0.5M305.1 230.8l0 0.6 0.9-0.1 0.5 0.8 0.8-0.1 0.7-0.2-0.1 1-0.2-0.6-0.9 0.4M302.6 226.9l-0.6 0.8 0.6 0.6 0.8 0.5-0.4 0.8M306.5 229.5l0.9-0.5 0.4-0.2 0.5 0.1 0.9-0.2 0.7-0.6 0.5 0.7-0.4 0.5M308.1 228.7l-0.1-0.4-0.4-0.6-0.3 0-0.9-0.3 0.2-0.8-0.5-0.8-0.2 0.9" fill="none" stroke="#111" stroke-width="0.75" stroke-linejoin="round" stroke-linecap="round"/><path d="M303.3 231.5l0.1 0.5-1.2 0.1-0.5 0.8-0.2 1.1-0.7 1.5 0.2 1.5 0.3 1 0.4-0.1 0.1-0.3-0.8-1.3-0.8 0.5-0.1 1.1 0.8 0.8-1.1 0.7-0.1 1.3 0.1 0.4-0.6 0.7-0.3-0.1-0.8-0.5 0.8 0.6 1.5-0.3 0.6-0.3-0.1-0.9 0.4-0.9 0.5-0.4 0.9 0.8 0.3 1.5-0.5 0.9 1.2 0.8 0.4 0.7-0.8 1-0.3 0.4-1.2 0.2-1.2 0.4-0.2 0.7 0.4 1.1 0.6 0.7 0.5-1.5 0.3-1 0.7-0.3-0.2-1.2 0.6-0.6-1-1 1.1-1 0.3-0.3-0.4-0.4-1.4 0.2-0.5-0.2-0.9-0.4M303.3 231.5l0.7 0.1-0.4 0.7-0.9 1.3-1.1 0.4-0.3 1 0.4 0.4 1.1 0.2 0.6-0.1 0.4-1.4 0.7 0.5 0.6 1.4-0.8 1.2-1-0.2-0.6-0.4-0.9-0.2-0.7 0.3-0.5-0.4-0.4 0-0.3-0.2-0.8-0.7-0.6 1.3 0.3 0.9-0.7-1-0.5 0.3-1.2 0.9M303.3 231.5l0.7 1.3-0.6 0.8-1.3-0.4-1 0.1-1.1-0.3-0.3 0.6 0.3 1.1 0.3 1 0.5 1-0.3 0-1.3 0.3 1.1 1.2 0.7 1.3 0.4 0.8-0.7 0.1-0.4 0.5-0.9 1.3-0.1 1.5 0.5 1.1 0.7 1.3 1.1 0.3 1.2-1.1 0.6 0.2 1.4 0 0.1-0.6 1.1-1.1 0.5-0.1-0.3-1.1-0.2-1.1 0.2-0.3-0.1-0.8 0.3 0.6 0.2 0.5 0.5 0.2 0.7 1.3-0.4 0.8-1 0.6-1.1-0.1-0.5-0.4-0.2 0.7-0.2 0.6-0.9 0-0.2 1.1-0.8 0.6-0.2 0.9-0.3 0.8-0.5 0.9 0 1.1-0.8-0.1-1-1.2M303.3 231.5l-0.6 0.7-1.4 0.8 0.4 1.5-0.1 0.7 1.1 0.3 0.5 1.2-0.1 1.1-0.4 0 0.1-0.7 0.3 1.3 0.2 1.6 0 1.5-0.1 1.4 1.4-0.1 0.8 0.3 1.2-0.7 0.4-0.7 0.7-0.4 1-0.4 0.7 0.1 0.2-0.7-0.2-0.6 0.2-0.3 0.7-0.9 1 0.2 1.4-0.8 1.3 0 0.5 0.6 1.1 0.4 1.3 0.5-0.3-0.7-0.5-0.9-0.7-0.5-0.6-0.3-1.1 0.3-0.2 0.6-0.7 1.5-0.7 1.3M303.3 231.5l-0.6 0-0.4-0.4-1.1-0.4-0.5-1-0.3 1.1-0.1 0.9-0.9 0.4 0.4 0.7 0.3 1.7 0.2 1.3 1 1.2 1.2 1.2-1 1.1-0.4-0.3 0.9-0.7 0.6 0.4 1.2 0.7 0.2-0.3-0.2-0.1-0.4-0.1-0.3 0.2-0.4 0-1.1 1-0.6 0.3-0.5 0.2-0.7 0.7-1.2 0.5-1.1-0.2-0.8 1.3 0.2 0.5 0.2 1.6-0.1 1.1 1.1 1.1-0.1 1.1M303.3 231.5l-1.2-0.9-0.4-0.8-0.9 0.2-0.7-0.1-0.6 1.1 0.5 0.8 1.4 0.1 0.1 0.8 0.4 0.4 1.3-0.3 0.5 0.2 1.1 1.1-0.1-0.9 0.3-0.9 0.4-0.5-0.5-0.3-0.5 0-0.6-0.5-0.1-1 0-0.4-1.3 0.7 0.6 1.2 0.9-0.1 0.7 1.6 0.6 1.3-0.4 1.6-1.1 0.3-0.5 0.7M303.3 231.5l0.3-1.1 1.3 1.1 0.4 0 0.7-0.4-0.1-0.3 0.7-1 1.1 0.2 1.4 0.4 0.2 0.9-1.4 0.3-1-0.5 0.2-0.3-1.2-1 1.2-0.2 0.7 0 0.9 0.3 0.2 0.7 0.3 1.1 0.1 0.9 0 1.2 1.3 1 1.1-1 0.3-0.1-0.3-0.7-0.2-0.4 0-0.6-1.1-0.8-0.9 0.5-0.5 1.4-0.7 0.6-1.3-0.3-1.3-0.1-1.1 0.8-0.6-0.4 0.2-1.6 0.2-0.4 0.6-0.5-0.1 0.6-0.9 1.3M303.3 231.5l0.4 1.1-0.6 0.2 0-0.4-1.3-0.6 0.3 1.1 1.5 0.7 1.3 0.2 1.1 1.3-0.4 0.6M303.3 231.5l-0.2 0.7-0.5 1.5-0.6 0.8-0.1 1 0.5 1.1 1.1 0.9-0.3 0.4-1.4 0.4-1.1 0.5-1.2-0.2 0.2 1.2 0.1 0.8 0.5-0.3-0.4-1 0.3-0.1 1.2-1 1.2-0.5 0.4-1.5-0.9-0.9-1.1-0.8 0.8 0.5 0.5 0.9 0.8 0.1 0.8-0.2M303.3 231.5l-0.4-0.2-1.1-0.4-0.8 0.2-1.2 0.1-0.9 0.3-0.3 0.4 0 1.7-0.6-0.5-1.2-0.5 0.3 0.8 0.2 1.6 0.8 0.6-0.1 0.4 0.2 0.6-1 1.4 0.2 0.5M303.3 231.5l-1-0.8-0.8-0.9-1.1 0.2-0.9 0-0.1-0.3-1 0.2-0.2 0.6-0.3 0.9 0.2 1.7 0.3 0.2 0.4-0.1-0.7-0.3-0.5-0.7-0.7-0.2 0.2 1.1-0.6 0.2-0.3 0.5 0.9 1 0.8 1.2 1 1.3M303.3 231.5l0.7 0.6 0.2 0.7 0.4 0.6 0.8 0.8 0.9-0.1 0.4-1.2 0.8 1 1-0.9 0.6-0.9 1.2 0.4 1 1.4 0.5 0.5 0.5 0.4 0.5 0.5M303.3 231.5l0.2 1.4-0.4 0.9-1.1-0.1-1.2 0.1-1.2-0.6-0.2-0.4 0.4-0.8 1.5-0.5 0.7-0.8 0.2-1.1 0.4 0.8 0.6-0.4-0.4 0.6 0.2 1-0.2 1.2-0.9 1.3 0.6 1.2 0.8-0.2 0.7-1.1 0.5-1.4-0.4-0.6-1-1.1-1.2-0.9-0.8-0.2-1.1 0.4 0 0.9 0.3 0.3 0.4 0.5 0.2 0.7-0.5 0.6-0.4 0.3-1.1 0.7-1.4 0.8-1.3 0.5-0.3 0.3-0.4 1.4-1.1-0.5 0.9-1.3-0.8-1.3-0.4-0.5 1-0.8-1.1-0.4-0.8-0.3M303.3 231.5l-0.8 0.5 0.4 0.7 0.5 1-0.7 0.5-0.7 1.2 1.5 0.2 1.6 0 1.4 0.1-0.1-0.8-0.7-1.2 0-1.2 0.5 0 0.6 0.7 0.2 0.9M303.3 231.5l0.1 1.5-0.2 0.4-0.6 0.5-0.5 0.7-1.6 0-1.2 1-0.8 0.7 0 1.4 0.3 1.3 1.1 0.6 0.2 0.5M303.3 231.5l-0.5-1.2 0.1-0.5-0.9 0.1-1.5 0.3-0.2-0.4-0.4 0.1 0 0.5-0.5 1 0.2 0.9 0.4 1.2-0.8 1.5M303.3 231.5l-1.4-0.1-1.3-0.6-0.4 1.1-0.7 0.2 0.2 0.9 1.2 0.2-0.2 1.4-0.5-0.2 0.4 0 0.2-0.5 0.6-0.1 1.4 1.1 0.2 1.7 0.7 0.5 1 0.4 0.3-0.3 1.1 0.3 0.2 0.7 1.1 0.7 1.1 1.3 0 0.8 0.9 0.3 0.6 0.4 1.4 0.7-1 1.2M303.3 231.5l-0.2-0.7-0.8-0.7-0.7-0.3-0.6 0.9-0.4 0.3 0.2 1.1-0.6-0.1-1.2 0.4-1.1-0.3 1.3 0.2 0.6 1.2 0.2 1-1.2 1-0.4-1.2-1-0.2-0.3 0.3-0.1 0.9 0.5 0.3 0.3 1.6 0.7 0.3M303.3 231.5l0.5 0.9 1 1.2 0.5 1.1 0.4 0.3 1.3-0.1 0.4 0.3 1.1-0.1 0.3-0.4-0.9 0.5-0.2 0.7 0.4 1.2 0 1-0.1 1.2-0.1 1-0.7 1.5-0.8 0.5-1.1 0.1-0.5 1.7-1 0-0.3-1.1 0.6 0 0.9 0.6M303.3 231.5l0.1-0.9 0.4-0.3 1.4-0.4 0.9 1.1-0.5 0.2-0.8 0.5-1.4 0.9-1.3-0.1 0.7-1.1 1.4 1 0-0.2-0.3-0.6 0.2-0.3-1.4 0.1-0.9-0.3 0.8 1.4 0.4 0.7 0.8-0.1-1.6-0.4-1.5-0.2-0.7 0.7-1.5-0.1 1.2 0.1-0.3-0.3M303.3 231.5l1.2 1 0.4 0.8-0.9 1.5-1.2 0.2-0.6-0.8-0.4-0.9 0.5 0.4-0.1 1.3-0.3 0.3 0.5 0.3M303.3 231.5l-0.3 0.5-1 0.3-0.1 1 0.7 0.4 0.4 0.5 0.8 1.2 0.5-0.6 1.4-0.4-0.4 0.8-0.4 0.4-0.1 0.8 0.2 1.4-1.1 0.5-1.4 0.5-0.4-0.1-0.4-0.2-1.3 0-0.2-0.3-0.4 1.5 0.7 1.6M303.3 231.5l-0.4-1-0.2-0.7 1.1-0.2-0.3 1.1 1.2 0.5 1.3-0.1-0.2-1.3-1.1 0.1 0 0.7 0.9 0.8-0.1 1.2-1.2 1 0.1 1.1 0.2 1.3-0.5 1M303.3 231.5l1-0.3 1.3-0.8 0.6-0.3 1.6 0.5 0.7 1.2 1.4 0.2 0.8-0.3 0.7-0.6 0.9 1.4M303.3 231.5l-1.4 0.9-1.6 0.3-0.6-0.5-0.3-0.6-0.1-1.1-0.6-0.9-0.6 1 0.6 1 1.5-0.4 1.1-0.6-0.5 0-1.1 0.5-0.6-0.3-0.5-0.2 0.9-0.9 0.4 0.1 0.5 0.8 0.6 1 0.2 1.2 0.1-0.4 0.3-0.2 1.1 0.2 1.3-0.9 1.1 0 0.5-0.3 1.1 0.9 1-0.8 0.5-0.3 0.3 0.5 1.2 0.8 0.3 0.9-0.4 1-0.5-0.3-1-0.3-0.7-0.3-0.2-0.8 0-0.7 0.7-0.5 0.9 0.6 0.5 1.4-1.7-0.1-1.3 0.9-1 0.8M303.3 231.5l0.5 0.8-1.2 1 0.6 1.2 0.5 1 1.4 1 0.1 1.1 1.2 1 0.1-0.9M303.3 231.5l-0.5 0-1.4 0-1.1 0.2-1.2-0.9 0.6-0.2 0.3-0.9-0.4 0.8-0.3 1.6-0.4 1.4-0.6 1.6-0.3 0.1-0.5-0.3 0.5-0.9-0.2-0.4 1-0.5 1-0.7 0.7-1.1-1-0.9 0.1-0.6 0 1.1 0.1 1.7 1.1 0.6 0.3 0.4 0.9 0.5 1.1 1-0.7 0.1-0.9 0.6-0.3-0.6-0.4 0.4-0.7 0.3-1.2-0.2 0-0.3-0.1-1-0.7-0.8M303.3 231.5l0.1 1.5-0.5 0.5-0.2 0.8-1.2 1.1-0.2 1.7 0.1 1.5 0.5 0.9 1.4 0.7 0.4 0.8-0.7 0.3-0.1 0.6-0.8 0.4-0.4 1.6 0.4 0.5 1-0.9-0.3-1.1 1.3-0.5M303.3 231.5l0.1 0.7 0.4 1.5 0.2 1.7 1.1 0.6 1.5-0.4 0.9 1.5 0.7 1.4-0.5 0.2-0.1 1.6-0.5 0.4-1.4 0.6 0-1 0.1-1.4-1.3-0.3 0.9-0.9 0-0.9-0.2 1.3 1 1.4-0.5 1.6-0.4 0.6-0.6 1.1-1.4 1-0.7 0.7-1.2-0.4-0.5 0.2-0.3-1.1-0.1-0.9-0.3-0.3 1 0.1 1 0 1.2-0.3 0.9-1.1 1.4-0.6 0.3-1.3-0.2-0.1-0.5-0.1-0.3 0.5 0.7 1.3-0.6 0.7-0.1 0.6M303.3 231.5l-1.1 0.4 0 1.2 0.1 0.7-0.4 1.6-1 1.3-0.1 0.4-0.3 0.3 0.1 1-0.1 1.6-1.3 0.6-1-0.3-0.9 0.1 0.4-1.4-0.7-0.6-0.5-0.7M303.3 231.5l-0.3 1.5 0.6 1.5-0.5 0.5-0.6 0.9-0.3 1-0.6 0.6-1.3 0.9-1.1 0.4 0.4-0.8 0.5 0 1.3-1 0.3-0.8-0.6-1.1-0.6-0.4-1.1-0.4-0.5-0.1-0.5-0.6 0.4-0.1 0.6-0.4 1.2-0.3M303.3 231.5l0.2-0.6-0.6-1.1 0.6 0.8 0.8 0.5 0.7 0.2 0.7 0.1 1.1-0.9 0.3 1.2 0 1.4M303.3 231.5l-1 0.4-0.5 0.9 0.7 1.6 0.5-0.1 1.3-0.3 1.3 0.2 0.9-1.2 0.7 1.2-0.9 0.7-0.4 0.6M303.3 231.5l-1.4-0.7-1.4 0.9-0.5-0.4-1.1-1.3 1 0 0.8 0.2 0.8-0.3-0.6 1.3-0.4 0.7-1.1 0.7M303.3 231.5l0.5 1.5-0.1 1.2 0.7 1.1 0.6 0.6 1.4 1 0.4 0.4-1.2 1.2-1.2-0.4 0.2-0.4-1.4-0.8-0.3 0.4-0.7-0.1-0.6 0.4M303.3 231.5l-0.4-1.2-1.5 0.3-0.7-1-1 0.5-0.7-0.5-0.4 0.5-1 0.3-0.9 0.8-0.2-0.6-0.4 0.8-0.3 0.6-0.2 0.8 0.3 0.5 1 0.2 0.4-0.5 0.2-0.3 0.6-0.7 1.1-0.1 1.2 0.1 1.3 0.5 0.3 1.2M303.3 231.5l0.1 1.4-0.5 1.3 0 1.2-1 1-0.3 1.3 0.9 1.2 0.5 0-0.2-0.5 0.6-0.1 0.1-1.4-0.3-1.5 0-0.8 0.2-1.4-1.1 0.4-0.4 0.8-0.6-0.1 0 0.8 1.2 0.5-0.8 0.3-0.9 0-0.5 1 0.5 1.4-0.4 1.2M303.3 231.5l0.4-0.8-0.9-0.4-0.5-0.6-1.2-0.1-0.7 0.2-0.2 0.5 0.5 1.2-0.4 1.4-0.5 1.1-1.2 0.9-0.5 0.4-0.3 0.1-0.4-0.1 0-0.6 1.5 0.1 0.5 0.8 0.6 0.3 0.1 0.6-0.2 1.4 0 0.6 0.1 1.6 0 1.2-1.2 1.1 0.7 1.3M303.3 231.5l0-0.4-0.9-0.2 0.4-0.9-1.2 0.1-0.4 0.2-0.8 0.5-1.4 0.5-1 0.5-0.7 0.3-0.3 0.3-0.8-0.2-1.3-0.2-0.4-0.3 0.1-0.6-0.3 0.8-1 1.2 1.1 0.4-0.6 1.3-0.2 1.7 0.2 1.1-0.1 1.1 0.1 1.2 0.8 1.2 0.2 0.8-0.4 1.5 0.9 1.2 0.3 0.3 0.3 0.6 1.3-0.7-1-0.7 0-0.5 0.2-0.5 0.2-1 0.1-1.1-1.1-0.6-1.2 0.1-1.3-0.1-1.3-0.2-0.2-0.5 0.4-0.4 0.5-0.5 0.4-0.7-1.1-0.5M303.3 231.5l0.8 0-0.4 0.6-0.4 0.5-1.4 0.3-0.7 0.2-0.4 0.9 1.4 0.7 1.5 0 0.6 0.4 0.3 0.9 0.3 0.4 0.5 0.6 0.9-0.6 0.3-0.5-0.5-1.2-0.3-0.2-0.1 0.7 0 0.6-0.2 1.3 1 0.9 0.8 0.7 0.2 1.6 1 1 0.6 0.2-0.1 0.6 1.2 0.3-0.8 1.5-1 1.2-0.8 0.7-0.7-0.1-0.6-0.1-0.5-0.4M303.3 231.5l0.9 0 0.9 0.8 0.6 1.6-0.7 0.5-1.4 0.1-0.6 1.4 0.9 0.7 0.3 1.7 0.1 0.6-0.5-0.2-1-0.2-0.1 0.6-0.9 1.5-1 0.1 1.5 0.4 0.4-0.2-0.2-0.2-1.5 0.4 0.2 1.4-0.5 0.5-0.8 0.5-1.5 0.1-1.1-0.3M303.3 231.5l-0.1 1.6 0.5 0.3-0.9 0.8-1.4 0.1-1.1 0.4-0.6 0.8-0.3 0.4-0.2 0.8-1-0.1 0.2 1.5 0.3 0.7 0.9-0.1 0.1-1.3 1.6 0.1 0.5 0.3 1.5-0.1 0.4 0.9 0.9 1.1 1.3 1 0.4 1.5 1 0.5 0.3 0.4 1 0.3M303.3 231.5l0.5-0.7 0.6-0.9 0.8 0.2-0.4 0.4-1.4 0.8-0.3 0.8-0.4 0.4-1.5-0.1 0.8 1 0.7 1.6 0.9 1.4-0.1 1.2 0 0.7-0.2 0.7-1.1-0.3-0.8 0.9-0.6 1.3-1.5-0.3-1.1-0.3-1-0.1-0.6 1.1 1.6-0.1 1 1.3 0.8-0.1 0.6-0.4 0-0.2 1.3 0.6 0 0.7-0.1 0.5-0.6 1.5-1.3 0.2-0.9 1.1 0.5 0.9 0.7 1.2 0.9 0.4 0.4 0.2 0.5 0 0.3-1.3M303.3 231.5l-0.4-1.2 0-0.5-0.7 1.3 0.7 0.6 0 0.5-0.8 1-0.6 0.6-0.5 0.3 0.1 0.5-0.1 1.5-0.4 1.1-0.9 0.3-1 0.8-0.8 1.5-1.1 0.3-0.3-1.4-0.1-0.6-1.3-0.3-0.4-0.3-0.8-0.1-0.2 1.2-0.3 0.8-0.2 0.8 0.8 0.4 0.4 1.3 0.3 0.4 0.2 1.7 0.3 1 1.4 0.9 1-0.4 1 0.3 1 0.5 0.3 1.1 0.2-1.2 0.1-1.1-0.1-0.6-1-0.8 0.2 0.4 1.6 0.1 0.5-0.4 0.3 0.6 0.5 1.4-0.7 1.4-0.5-0.5M303.3 231.5l-0.7-0.5 0.2-0.4 1.2 0.9 0.1 0.6-0.6 0.2-0.9 0-0.3-0.4 0.8-0.5 0.2-1.4 0.4-0.1 1.3 0.3 0.6 1.1-0.3 0.4 0 1.5-0.1 0.9-0.8 0.8-0.2 0.4 0.6 1.3 0.3 0.4 0.3-0.1 0.1-1.5 0.3-1.2-1.3-0.7-0.4 0.3-0.5 1.3M303.3 231.5l0.3 0.5 0.8-0.4 0.4-0.2 1.2-0.8 0.4 0.4 0.2 0.5-0.4-0.1 0.1-0.6 0.6-0.1 1.2 0.8-0.5 0.5-1.2 0 0 0.6-0.8 1.6 0.1 0.7 0.7-0.4 1.1 1 0.2-0.5 1.2-0.1 0.6 0.1 0.9 0.6 0.2 1.3-0.3 0.5-0.6 1-0.1 0.8-0.8 0.5-0.3 1-0.3 1.1-0.2 0.4-1 1.3 0.8 0.1 0.5-0.4 0.5-0.4 1.3 0.2 1.3 1M303.3 231.5l-0.5 0.5-0.4 1.5-0.9 1.2-0.5 0.2 0.1 1.2 0 0.6-0.1 0.9 0.6 1.3 0.4 0.3M303.3 231.5l-0.6-0.5 0-0.6-1.2 0.1-1.5 0 0.7 0.8-0.1 0.7-0.1 0.5-1.2-0.1-0.3-0.9-0.9-0.5-1.4 0-0.2 0.9-0.6 1.2 0.1 1-0.3 1.3 0.1 0.7 0.5 0.6-0.6 1.1 0.9 0.8-0.1-0.2 0.1-1.3 0.3-1.4 0.6-0.5 1.5 0.6-0.1 0.8-0.2 1-0.7 0.2M303.3 231.5l-0.8 0-0.7 0.4 0.9-0.4 0.6 0.3 1.3 0.3 0.3-0.2 1-0.2 0.6-0.3 1.5 0.6 1-0.4 0.9-0.9 0.7-0.3 0.5-0.3-0.7-0.1-0.7 0.3 0 1.4 0.1-1 0.7 0.2 0.2-0.9 0-0.4 0 0.2 0.7 0.7 0.2 0.4-0.1 1.8 0.6 1.1 1-1 1.2 0.2 0.6 0.1 1.4-0.8 0.5 1.3-1.4 0.4-0.8-1.1-1.1-0.8 0.3-1.2 0.6-0.4 0.7-0.3 1.1 0 0.6-0.1 0.7 0.5 0.5-0.3 0.5-0.3-1 0.5 0.1 1.1 1.2-0.3-0.4 1-0.5-0.1-1.2-1-0.8 0.4-0.5 0.8M303.3 231.5l0-0.4-0.5-0.4-1.3 0.2 0.1-1.1-0.5-0.2-1.4 0 0.5 1-0.1 0.8 0.5 0.7-0.8 1.3 0.4 0 0.6-1.1 0.4-0.4 0.2-0.9 1-0.4 0.9-0.7 0.8 0.6 0.7 0.2 0 1 1 0.1 1.4 0.2 0.6-0.2 0.6 0.1 0.6-0.2 1-0.9 0.7-1 1.1 0.8 0.2 0.9 0 0.4-0.1 1-0.7-0.4-0.5-0.4M303.3 231.5l0.5-0.8 0.2-0.5 1.1 0.5 0.7 1 0.3 0.4 0.5-0.4 1.2 0 1.3 0.7-0.5-0.1-0.3-1.4-0.9 0-1.2-0.2 1 1.2-0.2 1.1-1.1 0.4 0 1.3-0.7 0.1-0.2-0.6 0.5-0.7 1 0.9-0.8 1.1-0.2 1 1.3 1 0.2 0.4-0.4 0.5 0.3 0.7-1.5 0.9-0.5 0.1-1.2-0.4 0.2-1.2 1.2-0.2 0.4 0 1.3-0.6 0.7-0.5M303.3 231.5l0.1 0.5 0.5 0.8 0.4 0.5 0.8 1.3 1 0.7 0.5 0.6 1.1 0.4 1.4 0.6-0.5 0.9-0.5 0.3-1 0.9 0 1.3 0.4 0.4-0.4 1.4 0 0.8-0.2 1.3 1.2 1.1 1 1.3 0.5-0.2 0.4-0.8 0.5-0.8-1.3-0.2-0.6 0.3-1.3 0.3-0.3 1.4 0.5-1.2 1.3 0.9 0.8 0.1 1.5-0.7M303.3 231.5l-1-0.1-0.4 0-0.2-1.5-1.4-0.1-1.6-0.2-0.1 0.6 1.3 0.5 1-0.6-0.1 1.5 0.7 0.4 0.7 0.3 1 0.5 1 1.5 1.3 0.4 0.6-0.7 1.2 0.7-1.6 0.5-0.8 1.3 1.1 0.6 0.1 0.9-0.2 0.6 0.5 0.9 1.1 0.9 1.1 0.7 0.9 0.1 0.4 1.3 1.3-0.2 0.9-0.5 1.2-0.9-0.2-0.5-0.7-0.1-0.9 0.9-0.8-0.2 0.1-0.7-0.1-1.4 0.2-0.5-0.4-0.5-0.7-0.9-1 0.4-1.6 0.5-0.6-0.8-1.2-1.1 0-0.7-0.4-0.3M303.3 231.5l-0.9-1-1 0.1 0.2-0.7 0.5 0 1 0.1 0.3-0.2 0.2 1.5 1.2 1.1 0.3 0.6 0.4-0.3 0.2-0.2 0.3-0.7 0.5-1.2-0.3-0.6-0.5 0.4 0 1 1.4 1 0.2-0.6-0.1-0.2-0.6-0.7-0.3 1.6-0.5 0.5-0.5 0.6-0.6 0.6 0.7 0.1-0.9-0.7M303.3 231.5l0-1.3-0.8-0.6-0.4 0.3 0.9 0.9 0.1 0.7 0.2 1.1 0.5 0.7 1.2-0.6 0.2-0.7-0.1-0.5-0.5-0.1 0-0.6 0.6-0.4 0.9-0.7 1 0.3 1 0.6 1.7 0.5 0.5 0.9 0.2 0.5-0.1 1.6 0.3 1 0.3-1.4-0.1-1.3-0.3-0.4-0.8-0.5-0.3 0.4 0 0.6-0.5 1.6-1 1.3 0.7 1.6 0.9 0 1.5-0.1 1 0M303.3 231.5l-1.2 1-0.5 1.2 0.2 0.5-0.4 0.6-1.3 0.5-0.1-1.3-0.2-0.4-1.5 0.3-0.7 1.4-1 0.9 0.4 1.1-0.4 0.1-1.1 1.2 0.5 1.2 1.1 1.3 0.6 1.1 0.7 0.6 1 0.4 1.2-0.1 1.2 0 0.2-1.1 0.3-1 0.6-1.5 1.2-0.3 1.2-0.9 0.3-0.3-0.2-0.4 0.6-0.8 0.2-1.1 0.3-0.3 0.3-0.3M303.3 231.5l-1.3-0.8-0.1-0.3 0-0.4 1-0.2 0.8 0.5 0.8 1.3 0.1 1 0.3 0.5 0.5 0.9-0.6-1-1-0.7-0.7-0.8-0.7-0.4-1.4-0.2-1-1.1 0.7 0.9 0.5 0.6 1-0.2 1 1.1-0.9 1-0.8 0.1-0.7 0.4-0.3 0.2-0.6 1.2-0.8 0.3" fill="none" stroke="#f5143c" stroke-width="0.28" stroke-linejoin="round" stroke-linecap="round"/><path d="M300.5 240.5l0.4 0.2 0.5 0.7 0.5 1 0.7-0.5-0.7 0M296.4 237.8l0 0.9 0.1 0.4 0.3 0.9-0.4 0.3-0.4 0.8M299.7 249.3l0.3 0.3 0.6 0.7 0.2-0.2-0.5-0.7 0.8-0.4 0-0.5M312.1 240.7l-0.6 0.2-0.3 0.1-0.2-0.2-0.5 0-0.3 1M298 248.3l-0.2-0.2 0.7-0.6-0.5 0 0-0.5 0.4 0-0.9 0.4 0.4-0.8M303.2 236.9l-0.6-0.1-0.1 0.8 0 0.3 0.5 0.7 0 1.1-0.8 0-0.6 0.1-0.2-0.5M304 233.1l-0.2 0.3-0.8 0.1-0.2-0.8 0.4-1 0.3-0.1 0-0.3-0.8 0.1M305.6 235.7l0.7-0.8-0.7 0.4-0.8 0.7-0.7-0.2-0.6 0.2 0.4 0.8-0.8-0.1M303.9 235.8l0.2-0.9-1-0.5 0.6 0.7 0.6-0.3 0.4-0.4M297.4 238.5l-0.2-0.9-0.3 0.3-0.5 1 0.7 0.3 0.8-0.4 0.6-0.6 0.6 0.1M298.9 237.3l-0.4 0.9-0.4-0.2-0.7-0.2 0.3 0.2M312.8 235.3l0.4 0.2-0.3-0.9-0.7-0.1-0.8-0.1M293.2 232.1l-0.1-0.3-0.6-0.5-0.1 0.6 0.6 0.6 0 0.4-0.7-0.1 1 0M307 234.1l-0.4 0.5 0.1-0.7-0.7-0.1-0.7 0.2-0.1-0.4 0.5 0.1M300.1 240.1l0.5-0.3 0.4-0.7 0-0.7 0.7-0.5 0.6 0.4 0.4 0.9M299.2 235l0.3-0.1-0.4-0.4-0.7 0.5-0.8 0.5-0.4 0.5-0.3-0.4M310.4 243.6l0.5-0.7 0.5 0.5 0.4-0.7 0.4-0.5-0.5-0.5-0.6-0.3-0.8 0.4M298.5 237.5l1 0.1 1 0.1 0.6-1 0.5-0.5 0.6-0.7 0.6-0.1M305 243.6l0-0.8 0.3 0.1 0.3 0-0.8 0.1-0.2-0.7-0.1 0.8 0.9 0 0.2-0.1M299.4 232.9l-0.8 0.4 0.4 0.1 1-0.3-0.6-0.4-1.1-0.3M302.4 235.6l0.4 0.2-0.2-0.7 1 0.4-0.1 0.3 1-0.3 1-0.4 0.8 0.2 0.3 0.4M300.5 241.3l0.4-0.3 0.1-1.1 0.3 0 0.5 0.1 0.5 0.5M304.1 237l-0.8 0.4-0.2 1-0.3 0.2 0.3 0.8-0.6 0.7M312.3 232.5l0.3 0.3 0.6 0.9 0.5 0.3 0.4-0.2 0.9-0.1-0.5 0.5 0.8-0.5M305.3 234.9l-0.7 0.5-0.3 0.1-0.2 0.3 0.4 0.9-0.2 0.2-0.2-0.4 0.4 0.9M306.5 237.7l-0.4 0.1-0.4-0.6 0.4-0.7 0.3 0M298.1 233.6l-0.4 0-0.4 0-0.3-0.4-0.7 0.3 0.4-0.5-1-0.2M304.1 241.9l-0.8 0-0.6 0.1 0.1 0.3 0.3-0.3 0.4-0.7 0.8 0M305 241.7l-0.2 0.2-0.5-0.9-0.6-0.4 0.6 0.9-0.8 0 0.1 0.3 0 0.5M296.5 237.7l0.2 1-0.3 0.7-0.1-0.7 0.1-0.6-0.2 0.4 0.2 0.2 0.4-0.8 0.1 0.4M300.6 232.8l0.4 0.3-0.2 1 0.6 0.4-0.6-0.4 0.5 0.1M307.1 233.1l0.1 1-0.6 0-0.3 0.3-0.8 0.2-0.4 0.3-0.7 0.2M305.9 235.5l-0.1 0.8 0.6 0.2 0.8 0.5 0.5-0.5-0.5-0.1-0.6 0-0.5 0.7 0.7 0.1M299.4 232.6l0.1 0.9 0.5 0.2 0.1 0.5-0.2 0.3 0.5 0.6 0.2 1.1M301.6 237.6l-0.4-0.5-0.2 0.3-0.5-0.5-0.6-0.2-0.1 0.3-0.6 0.5M302 233.7l0.5 0.1 0.6 0.5 0.2-0.2 1 0.5 0.6 0.2 0.7 0.5 0.5 0.5-0.8-0.8M300.4 239.5l-0.6 0.1-0.8 0.2 0.2 0.3-0.3 0.2-0.2 0.2-0.6-0.3-0.9-0.6-0.4-0.7M299.5 243.7l0.5 0.9 0.6 0.2 0.9 0.3-0.3 0.4-0.4-0.5-0.9 0.1 0.3 0.2M291.8 237.6l-1.1 0.4 0.4-0.8-0.3-0.9-0.2-0.2M305.8 245.2l0.5 0.4-0.6 0.4-0.7 0.5-0.6-0.4 0.5 0.3M297.3 243.3l0.5-0.6 0.5-0.3 0.7 0-0.4 1M308.6 243.4l-0.2 0.6 0.2-0.4-0.3 0 0-0.3 0.3 0.6-0.4-0.3M302.3 247.8l0.4 0.3 0.2 1 0.7-0.2 0.1 0.3M301 246.7l-0.3-0.1 0-0.9-0.1-0.3 0-0.4 0.8 0.5 0.2 0.2 1.1-0.2M303.6 235.1l0.3 0.8-0.6 0.9-0.2 0.5-0.1 0.4-1 0.3-0.5-0.2M311.4 244l0.3-0.5 0.1-1.1-0.7-0.4 0-0.6-0.6 0-0.3 0.3 0.1-0.5-1-0.5M302 239.2l0.9 0.6 0.3 0.3-0.4 0.9 0.3 0.3 0.3 0.6 0.8-0.7M298 237.8l0.4-0.3 0.2-1.1-0.1-0.4 0.1-0.3M315.4 232.4l-0.7 0.8-0.8 0.3-0.6 0.2 0.2-0.9 0.1-0.7 0.3-0.6 0.5 0 0.3 1.1M310.7 232.1l0.8 0 0.5-0.5 0.8 0.5 0.1 0.4M307.5 237.2l-0.3-0.7 1-0.1 0.2-0.2 0.4-0.2-0.3-0.5-0.8 0.1 0.2-1-0.2-0.2M311.1 245.7l-0.1 0.8 0.3-0.7 0.3 0.1 0.1 0.7M305 235l-0.2 0.4 0-0.3 0.7 0.2-0.2 0.4-0.9 0-0.1-0.5 0 0.9M304.5 233.6l0-0.9 0.4-0.5-0.3 0-0.5 0-0.3-0.4M312.1 236.9l-0.1-0.8-0.2-0.8 0 1.1 0.2 1.1 0.7 0.5-0.5-0.1-0.4-0.2M306.8 235.1l-0.3 0.2-0.9-0.7 0 0.4 0 0.3M299.1 235.4l0.6-0.4 0.4 0.1 0.7-0.5 0.7-0.3 0.6-0.9 0.9-0.7" fill="none" stroke="#f5143c" stroke-width="0.53" stroke-linejoin="round" stroke-linecap="round"/><path d="M300.5 240.5h0M296.4 237.8h0M299.7 249.3h0M312.1 240.7h0M298 248.3h0M303.2 236.9h0M304 233.1h0M305.6 235.7h0M303.9 235.8h0M297.4 238.5h0M298.9 237.3h0M312.8 235.3h0M293.2 232.1h0M307 234.1h0M300.1 240.1h0M299.2 235h0M310.4 243.6h0M298.5 237.5h0M305 243.6h0M299.4 232.9h0M302.4 235.6h0M300.5 241.3h0M304.1 237h0M312.3 232.5h0M305.3 234.9h0M306.5 237.7h0M298.1 233.6h0M304.1 241.9h0M305 241.7h0M296.5 237.7h0M300.6 232.8h0M307.1 233.1h0M305.9 235.5h0M299.4 232.6h0M301.6 237.6h0M302 233.7h0M300.4 239.5h0M299.5 243.7h0M291.8 237.6h0M305.8 245.2h0M297.3 243.3h0M308.6 243.4h0M302.3 247.8h0M301 246.7h0M303.6 235.1h0M311.4 244h0M302 239.2h0M298 237.8h0M315.4 232.4h0M310.7 232.1h0M307.5 237.2h0M311.1 245.7h0M305 235h0M304.5 233.6h0M312.1 236.9h0M306.8 235.1h0M299.1 235.4h0M306.7 236.4h0M303.9 233.3h0M305.4 237.7h0M301.8 234.7h0M300.9 232.8h0M304.9 232.9h0M303.9 235.4h0M306.7 234h0M304.2 235.6h0M306.1 233.7h0M304.3 234.1h0M302.9 235.4h0M303.2 232.2h0M301.3 235h0M305.6 234.4h0M302.9 232.8h0M307.2 234.2h0M298.3 233.1h0M301.4 235.5h0M305.9 235.2h0M300.1 235.6h0M302.8 233.9h0M302.3 240h0M302.8 233h0M300.1 233.1h0M303.6 235.6h0M301.4 235.9h0M306.1 232.9h0M305.9 232.9h0M306.3 233.1h0M300.1 234.5h0" fill="none" stroke="#f5143c" stroke-width="1.4" stroke-linecap="round"/><path d="M303.3 231.5l0.3 0.1 0.4 0.7 0.5 0.3-0.4 0.6-0.2 0.6-1.2 0.6 0.8 1 1.1 0.6 0.4 0.1 0.7-0.2 1 0.5M303.3 231.5l0.9-0.4 0.9-0.2 0.2 0.7 0.1 0.7-0.6 0-0.9 1M303.3 231.5l-0.2 1.1-0.3 0.3-0.5 0.9 0.3 0.2 0.5 0.4 0.1 1.2-0.3 0.4 0 1.4 0.7-0.6 1.1-0.3 0.7 0.5 0 0.7M303.3 231.5l0.6 0.2 0.3 0.7-0.9 0-0.4-0.1-0.7 0.5 0.3 1-0.7 0.9M303.3 231.5l0.8 0.8 0.3 0.8-0.5 0.6-0.8 0.1-0.9 0.4-0.4 1.2-0.5-0.2-0.8-0.3-0.2-0.9-0.1-0.4 0.7-0.8M303.3 231.5l-0.2 0.5 0.1 0.6 0.7 0.5 0.6 0.4 0.3-0.3 0.1-0.3M303.3 231.5l-0.5-0.3-0.2 0.8 0.5 0.4-0.6 0.6-0.7 1 0.1 1 0.5 0.5 0.7-0.5-0.2-0.8 0.6 0.7 0.4 0.5M303.3 231.5l1-0.5 0.2-0.3 0.8 0.8 0.7 0.3-0.4 1.2 0.9 0.6 0.2 0.4M303.3 231.5l0-0.5 0.5 0.9-0.9 0.2 0.7 0.9 0.4 0.7 0.6 1 0.4 0 0.3 0.3-1 0-0.1 0.6M303.3 231.5l-0.4 0.2 0.2 1.1-0.1 1 0.5 1.1-0.1-0.7 0.7-0.9 1.2-0.2 0.8 0.6M303.3 231.5l0.4-0.8 0.3-0.6-0.5-0.4-0.1 0.3 0.2 1.3 0.5 1.2-0.2 0.4 0.4 1.2M303.3 231.5l-1 0.6-0.8 0.8 0 0.5 0.2 0.5-0.1 1.3 1.3 0.2M303.3 231.5l-0.4-1-0.7 0.9-0.9 0.8 0.1-0.8 0.7-0.1 0.4 0 0.6 0.1 0.1 0.8M303.3 231.5l-0.4 0.3-0.4 0.8-0.7 1.1-0.6 0.3 0.1 1M303.3 231.5l0.3 0.1 0.5 0.4 1 0.6 0.2 0.9 0.3 0.9M303.3 231.5l-0.2 1.2-1-0.6-1 0.1-0.2 0.3 0.6 0 1.1 0.2 0.3 0.1M303.3 231.5l0.4 0.3 0.8 0.4 0.6 0.5 0.3 0.7 0.5 0 0.9 0.9 0.4-0.1M303.3 231.5l0.5-0.9-0.5-0.1-1 0.8-0.6-0.6-0.6-0.2-0.5 0.1-0.9-0.2-0.9-0.1 0.1 0.8-0.8 0.5 0.2 0.4 0 1.1M303.3 231.5l0-0.1 0.1-1-1 0-0.5 0.2-0.2 1.1-0.8 0.7 0.1 1.1 0.3 0.3 0.4-0.2 0-0.5-0.4 1.1 0.1 1.3M303.3 231.5l0.3 1 0.3 0.1 0.7 0.3 0.1 0.6 0.3 0.1 0.6-0.2 0.8 0.1 0.2 0.6-0.8 0.3 0.1 0.8M303.3 231.5l0.2 0.2 0-0.7-0.6-0.1-1.2 0.5-0.5 0.8-0.2 1.3-0.3 1.2-0.4 0.3-0.2 0.6M303.3 231.5l0.1 0.8 1 0.8-0.3 1.2-0.8-0.6 0.1 0.7-0.7 0.8-0.2-0.4-0.2-0.2-0.1-0.5-0.5-0.2 0.8-0.2 0.3 0.2M303.3 231.5l0.5-0.1-0.1 1.1 0.8 0.7 0.2 0.5-0.4 0.4-0.7 0.7-0.3 1.2-0.9 0.8 0 0.8-0.1 1.3 0 1.1M303.3 231.5l1 0.6 0 0.7-0.1 0.5 0.1 1.3-0.3 0.2-0.2-0.8 0.4-0.8-0.6-0.1-0.8-0.1M303.3 231.5l-0.5 0.5-1.1 0.2-0.3 1.1-1.2 0.5-0.7-0.2 0.6-0.5M303.3 231.5l-0.4 0.1-0.7 0.5 0.1 0.4 0.1 1.4 0.9 0.6 0.3 1.1M303.3 231.5l-0.3 1-0.5 0.5 0.2 0.5-0.4 0.8 0 1-0.9 0.6M303.3 231.5l0.7 0.9-0.3 0.7-0.8-0.1-0.4-0.3-0.7 0-0.2-0.3 0.6 0 1.3 0.1 0.5 0 0.9 0.3 1.2 0.1M303.3 231.5l0.5-0.3 0.5 0.7 0 0.9-0.5 0.2 0.1 0.4 0.8 0 0.3-0.1 0.5-0.8 0.6-0.4 0.1 0.6-0.3 0.2M303.3 231.5l0.2-0.4 1.1-0.2 0.8 0 0.4 1.1-0.9 0.8 1.1 0.4 0.3-0.1M303.3 231.5l-0.6-0.1-0.3-0.3 0.4 0.6 0.5 0.7-1 0.8-1.1-0.4-1 0.3 0.1 1-0.2 0.4" fill="none" stroke="#f5143c" stroke-width="0.5" stroke-linejoin="round" stroke-linecap="round"/><path d="M306.7 236.4l0.5-0.4-0.6 0.5 0.3 0 0.1 0.6-0.2 0.2 0.4 0.9 0.2-0.3-0.7-0.7M303.9 233.3l-0.2 0.5 0.1 0.6-0.4 0.1 0.2-0.4 1.1 0.1 0.2-0.7-0.1-0.3 0 0.7M305.4 237.7l0.4 0 0-0.4 0-1-0.6-0.3-0.3-0.2 0.5 0.7M301.8 234.7l-0.7-0.9-0.4 0.6-0.2-0.9 0.2 0.4 0.2 0.7M300.9 232.8l-0.1 0.2-0.4-0.7 1.1-0.1 0.2-0.6 0.9-0.6-0.4-0.4-0.6-0.1M304.9 232.9l-0.5 0.1-0.1 0.7 0.1-0.2 0.4-0.1 0.4-0.1 0.5-0.7 0.9-0.3M303.9 235.4l0.3 0 0.1 0.3-0.5-0.6-0.1-1-0.8-0.4-0.1 0.7-0.6 0.5-0.5-0.2M306.7 234l0 0.7-0.4-0.6-1-0.2 0-0.2 0.1-0.3-0.3-0.2 0.4 0.5M304.2 235.6l-0.7-0.7 0.5-1-0.7-0.1 0.5 0.5 0.3 1-0.2 1 0.3-0.6 0.3 0M306.1 233.7l0.3-0.7-0.2 1-1-0.2 0 0.3-0.2 0.9-0.6-0.1-0.2 0.4 0.3 0.4M304.3 234.1l-0.4-0.3-0.9-0.5 0-1 0-0.3M302.9 235.4l-1 0.5 0.8-0.3 0.2-0.9 0-0.8 0.3-0.4 1-0.1-0.1-0.2 0.1 0.4M303.2 232.2l0.2 1 1-0.3 0.8-0.3 0 0.6 1-0.3-0.2-0.9 0.2 0.4M301.3 235l-0.8 0.2-0.3 0.1-0.3 0.9 0.1 0.5-1-0.2-0.5-0.5M305.6 234.4l0.1 0.4 0.5 0.5-0.1 0.4 0.4-0.8-0.2 0.4 0.4 0.2 0.5 0.1 0.6-0.2M302.9 232.8l-0.8 0.4-0.3 0.6 0.2 0.3 0.6 0.7-0.1-1.1M307.2 234.2l0.3-0.7 0.6 0.7 0.2-0.8 0.2-0.5 0.2 1M298.3 233.1l-0.5-0.4 0.4-0.3 0.2 1 0.3-0.5M301.4 235.5l-0.2-0.5 0.5 0.7 0.2-0.4 0.9 0.7M305.9 235.2l0.3-0.1-0.4 0 0.2 1 0.1 0.9-0.1 0.4M300.1 235.6l0.7-0.5-0.5-0.6-0.6-0.3-0.9-0.3-1-0.6M302.8 233.9l0.2-1 0.9 0.5 0.3 0.1 0.1 0.8 0.8 0.7 0.3-0.3-0.9-0.3 0.1-0.8M302.3 240l-0.9 0-0.8 0.6 0 1-0.7 0.6-0.1 0.3-0.2-0.2M302.8 233l-0.4 0.2-0.2 0.2-0.4 0.3 0.9 0.7-0.1 0.4M300.1 233.1l0.7-0.6 0.4-0.2 0.4 0.1-0.1 0.2-0.5 0.3-0.6 0.9M303.6 235.6l-1-0.2 0 0.5 0.3-0.2-0.6-0.1 0.4-0.8 0.7-0.1M301.4 235.9l0.1 0.4 0.9 0 0-0.3 0.4-1 0.5 0.5-0.2 0.5-0.2-0.8M306.1 232.9l0.1 0.3 1-0.6 0.2 0.1 0.3 0 0.4-0.8-0.3 0-0.3-0.3M305.9 232.9l0.2-0.2 0.3-0.2-0.5-0.8 1-0.4-0.2 0.5 0-0.3-0.9-0.5M306.3 233.1l0.4 0.5-1.1 0.3-1-0.1-0.4 0.5-0.5-0.2M300.1 234.5l0.5 0.7 0.2 0.9 0.6 0.1 0.4-0.4-0.3-0.5 0.3 0.1" fill="none" stroke="#f5143c" stroke-width="0.75" stroke-linejoin="round" stroke-linecap="round"/></g>
<polygon points="303.30,227.85 304.21,230.29 306.82,230.41 304.78,232.03 305.47,234.54 303.30,233.10 301.13,234.54 301.82,232.03 299.78,230.41 302.39,230.29" fill="#ffee10" stroke="#e8c800" stroke-width="0.3"/>
<text x="352.9" y="190.2" font-size="11" text-anchor="end" fill="#111" stroke="#111" stroke-width="0.35">79</text>
<text x="352.9" y="280.8" font-size="11" text-anchor="end" fill="#f5143c" stroke="#f5143c" stroke-width="0.3">93</text>
<rect x="360.35" y="177.2" width="109.3" height="109.0" fill="#fff" stroke="#cfd8d5" stroke-width="1.1"/>
<path d="M415.25,177.2 V286.2 M360.35,231.55 H469.65000000000003" stroke="#c3cdc9" stroke-width="0.9" fill="none"/>
<g><path d="M416.1 232.2l-2.1-1-0.7-1.5-1.6-1-1.1 0-1.5-1.7-1.3-0.4-1.2-0.1-1.3 0.1-2.4 0.4-0.2-1.5-0.8 0 0 1.2-2.6-0.5-1 0-0.6 0.6-0.1-1-2.3-1.6 1.5 0-2.3-1 1.3-0.5-0.5-1.9-1.6-1.4 0.8-1.1-2.4-1.2 0.3-1.1-0.2 0.3 1-0.8-2.7 0.3-0.3-1.3 0.3-0.8 1-0.5-1.8-1.8 2.4-0.4 0-0.5 2-1.8 0 0.2 0.9-0.8 0.7-0.5 1.1 0.3 0.8-1.8-0.8 1.2 2.3-0.2 0.5 0.6 1.1-0.8 1.6 2.1 1 0 1.7 1.6-0.2-1.8 0.6 2.3 1.8 1 1-0.9-0.1 1.5 2.1 0.1 0.8-1.1 1.1 1.9 1.2 0.8-0.2-0.4 1.8 1.9-0.6-0.4 0.9 0M415.1 231.8l0.5-2.4 2.4-0.4 0.1-1-0.2-1.6 0.7-2 2.1-0.1 1.3-0.6 0.9-0.1 1.1-1 0.2-0.6 1.5-2 2 0.1 1.4-1.2-0.3 0.5-1.4-1.6 2.2-1 0-2 0.7-0.1-0.4-1.5-0.8-1.4 3.2-1.5-1.8 1.4 2.6-1.6 0.6-1.9-0.3 0.4 1.7 1.5 1.5 0.3 1.1-0.5-1.5-0.9 2.6 2.7 0.3 0.7-1.9 0.6 1.4 0.5 0-0.1 1 2.8-0.3-0.9 0.3 0.3-2.2 0.8-0.4-0.4-1.8 1.5M415.7 232.1l1.7-1.7 2.2 0 0.5-0.8 1.4 0.8 2.1-0.7 0.8-1.6 1.6-0.1 0.5 0.4 1.9-2-0.1-0.1 2.2 0 1.3 1 0.3-1.4 2.6 2.1 0-1.4 1.1 2 1.4-0.9 1.5 1 1.1 0.8 0.7 0.4 0 1.6 0.7 1.1 0.5 0.4 0.7 1.2 1.3 0.8-0.4 2.1 2.5 0.9-2.9 2.8 2.6 0.7 0.7-1.2-0.2-0.5 1.2-0.9 0.1-1.1 0.3-0.7-0.1-2.8 0.7 0 1.1 0.2-0.1-1.6 0.6-0.7 0 1.3 1.4 1.2-0.7 0.6 1.6 1.6 0.5 1.6 0.3-3.3-0.7-2.5 0.2 2.1 0.6-1.9 0.6-0.4-0.7-1.6-0.1-1.2-0.4-0.2-0.5-1.2 0.1-0.6 1.5 0.1 0.3-0.9-0.4-0.7 2.5 0.6-0.7-0.3M415 232.2l-1.9 0.5-1.4 0.2-1.6-0.5-0.2 0.3-3.4 2.1 0.6-1.9-2.2 1.2-0.9-0.5-1.6 0.3-0.2 1-2.5-0.2-1.2 0.7-0.7-0.4-2.1 0.1-1.1 1.1 0.2-1.1 1.3-1-0.7-0.1 1.1-0.7 1.2 0.4-0.8-0.3 2.6 0.1 0.2 1.3-0.4-1.9 1.9 0.6M416 232.2l0.3-1.6-0.4-2.8 0.3-1.4 1.1-1-0.3-2.1 1.7-1.4 0.9-1.4-0.3-0.8 0.2-1.7 0.4-0.9 1.1-0.3 0.9-1.9-0.2 0.4 1-2.1 1.2-0.3-0.9-0.5 1.3-1.1-1.1-0.6-0.4-0.1 0.4-1.1M415.1 231.8l-1.9-1.9-1.2-0.6-1.9-0.7-0.4-2-0.8-1.1-1-0.5-1.3-0.7-0.6-1-1.6 0.3-1.7-1.2 0.9 0.5-1.2-0.3-1.5 0.4 1.5 1.1-1.2-0.6M414.7 231.8l1.9-0.7 2.4-0.6 1.3-1 3.6-0.9 1.3 0.2-0.8-0.7 2.5 0 0.5-0.9 1.6-0.3 1.6-1.3-0.9-0.8 2.7-1 0.6-0.3-0.1-0.5 1.3-0.5M415.5 231.6l2 0.6 2-0.3 4 0.6 1.7-0.2 2.1 0.9 1.1-1.4 1.2-0.2 1.2 0 0.2-2.5 2 0.2 0.5-0.6 0 1.8 1.5 1 0.1 0.3 1.1 0.7" fill="none" stroke="#7d8683" stroke-width="0.55" stroke-linejoin="round" stroke-linecap="round"/><path d="M415.2 215.5l0.5-0.1 0.6-0.6 0.2-1.1 0.7 0 0.9-0.1 0 1.1-0.8 0.1 0.4-0.6 0.7-0.4M435.2 217.5l0.8-0.4-1.1 0 0.4-0.7 0-0.4 0.3 0.5-0.8-0.2 0.1-1.2 0.9-0.3 0.7-0.8M455.2 226.5l-0.9 0.5-0.1 0.5 0.3 0.4 0.6 0.1 0.7-1.1-0.3 0 0.3 0.6 0.3 0.1 0.6-0.7M401.2 233.5l-0.5-0.3-0.3 0.1 0.3 0 0.6 0.6 0.5-0.7 0.4-0.4 0.3-0.2 0.7 0-0.4-0.6M423.2 209.5l-0.5 0.2 0.4 0.3 0.1-0.5 0-1.2-0.1 0.9-0.1 0.3-0.9 0.5 0 0.3-0.8-0.5M401.2 223.5l0.6 1 0.8 0.4-0.2 0.4-0.4 0.8 0 0.3 0.2 0.7-0.5 0.2-0.5-0.2 0.2-0.3M434.2 222.5l-1 0.7 0.8 1 0.4 0.3 0.3 0.4-0.7 0.6-0.8 0.8 0.6 0.9-0.3 0.4-0.3 0.3M436.2 232.5l0.4 0.5-0.3 0 0.3 0.8 1.1-0.5 0.4-1-0.1 1.1 0.4-0.4-0.1 0.7 0.8 0.2" fill="none" stroke="#111" stroke-width="0.7" stroke-linejoin="round" stroke-linecap="round"/><path d="M415.2 215.5h0M435.2 217.5h0M455.2 226.5h0M401.2 233.5h0M423.2 209.5h0M401.2 223.5h0M434.2 222.5h0M436.2 232.5h0" fill="none" stroke="#111" stroke-width="1.8" stroke-linecap="round"/><path d="M416.8 230.6l-3.7-0.9 0.5 0.2-3.9 1.6-1.1 0.6-1.6-2.6-0.8 1.6-1.6 1-1.7 0.3-0.3 1.3-2.7-2.5 0.1-0.1-0.3-1.3-1.9 0.6-2.4-1.6 0.4 0-1.4 1.1 0.8-1-3.3 0.5-0.3 0.1-1.4-0.7-0.9 1.8 0.7 0.6-1.3 0.6-2.9 0.4 0.1 1.3-0.2 2.8 1.5 0.5-1.2 0.3-0.1-0.2 0.8 3.8-1-1.8 0.5 2.4 0.4-0.5 1 2.3 0.4-1.5-0.6 1.4 2.6-0.6 0.1 0.9-1.1 2.4 1-0.7-0.5 0.6 1.7-0.1 1.5-0.5-0.3-1.2 2.2 0.2-1 2.1 0.6-0.7 2.1-0.1 0.1-1 1.7 3.7-0.8-0.9 0.2 1.8 0.1-2.1-1.8 2.8-0.6 0.9-0.7-1.6-2-1-0.3 1.7-0.5-2-1 1.4-1 0.2 0.2 0-1.4-1.6-0.6 0.6 1.2 4.6 0.1-0.1-0.8 1.2 1 0.4-0.2 1.5-1.4 1.5 0.8-0.6-0.5 0.6-0.1-2.2 0.3-1.3-2.5 0.3 1.3 0.5-1.4 2.2 0.8 0.6 0 1.3-0.3-0.2M414.9 231.7l-0.5 1.9-1 1.1-1.2 2.3-1.2 1.5-1.4 1.6 0.3 0.1-0.2 2-0.6 0.2-1.1 1.4 0.7-0.1 0.2 2 0.3 0 1.4 0.4 0.1 2.1 0.5 0.3M414.5 231.8l2.4 2.7 0.7 0.2 1.1 0.8 1.4 2.4 1.1 0.5 0.6 0.9 0.5 0.1 2 1.4-0.3 1.5-0.3 1.5 1.1-2 0.3 0.8 1.3-1.6 1 0.1-0.2-0.6M415.3 231.2l-0.8 1.5-2.6 1.2-2 0.7-2.1 1.9-2.6 1.4 1.2 0.1-0.9 1.9-0.3 0.4-1.7 0.2-0.3 1M415.1 231.9l1 0.6 2.3 1 2 1.4 3.1 1.2 1.4 0.4 0.8-0.2 1 0.3 0.7-0.6 1.2 0.4 0.6-0.9M415.7 231l0.4 1.9 0.5 2.9-0.6 2.3 0.6 1.9 0.7 1.3-0.1 1.1 0-0.9-0.6 3.2-0.5 0.1-0.9 0.7" fill="none" stroke="#ff8fba" stroke-width="0.8" stroke-linejoin="round" stroke-linecap="round"/><path d="M386.2 258.5l0.5-1-0.8-0.7 0.5-1.1 0.5-0.2 0.6-0.5-0.2 0.7 0.2-0.5 0.1-0.9-0.2-0.7M411.2 248.5l0.2 0.4-0.3-0.5 0.4-0.1 0.3-0.4-0.2-0.4-0.5-0.4 0.2-1-0.3-0.2 0.4-0.1M427.2 240.5l0-0.3-0.8-0.3-1-0.4 0-0.8 1-0.8 0.4-0.1 0.2-0.4 0.8-0.2-0.3 0.3M403.2 241.5l0 0.4-0.8 0.4 0.3 0.4 0.7 0 0.2-0.9-0.9-0.6 0.2-0.8-0.1 0.8-0.1 0.5M429.2 235.5l-0.7 0 0.5-0.3 0-0.3-0.1 0.5-0.5-0.1-0.1 1.1-0.3 0.2 0.9 0.4 1.1 0.5M415.2 245.5l0.4 0.4 0.6 0.3 0 0.5 0.4-0.1 0.7-0.2 0.8-0.4 0.6-0.2 0.3-0.1 0.7 1" fill="none" stroke="#f5143c" stroke-width="0.7" stroke-linejoin="round" stroke-linecap="round"/><path d="M386.2 258.5h0M411.2 248.5h0M427.2 240.5h0M403.2 241.5h0M429.2 235.5h0M415.2 245.5h0" fill="none" stroke="#f5143c" stroke-width="1.8" stroke-linecap="round"/><path d="M415.2 231.5l-1 0.3-1.2-1 1.3-0.8 0.8 0.8 1-1-0.3-0.4-0.1-0.5 0.3-1.2-0.2-1.7M415.2 231.5l0-1 0.4-0.6-0.4-1.2 0.5-1.1 0.9-1.4 0.8-1.1-0.2-1-0.9 0.2-0.7 0.9-0.5 0.3 0.1 0.3-0.2 0.2 0 0.5 0.6-0.1 1.1-1.3 0.4-1.3 0.6 1.2-0.1 1.3 0.4 0 0.5-0.4 0.4-0.2 0.6-1 0.5-0.6 1.6-0.7 0.4-1.2 0.6-0.3 0.9 1.1 0.9 0.4 0.5-1.1-0.1 1-1.2-0.5-1.1 0.8 0.1 1.2 0.1 1.4-0.2-0.9 1 0.6M415.2 231.5l0.9 0.5-0.6 0.7 0 0.3-0.5 0.4-0.4-0.2-0.4-0.3-1.4-0.9 0.2 0.3 0.3 0.7-0.1 0 0.6-1.1 0.1-0.7-0.2-1 0.7-0.9-0.6-1.4-0.1-0.8 1-0.9 1.6-0.3 1.4-0.3 1.4 0.1 0.6 0.9 0.7 1.2 0.8 1.1 0.3 1M415.2 231.5l0.1 1-0.1 1 0.1-0.6-0.1-0.9 0.1-1.3-0.4-1.4 0.2-0.4-0.3-0.5 1.2 0.2-1.5-0.4-1.1-0.8-1-0.1-1-1-1.2-0.4-0.5 0.5-0.5 1-0.5 0.7-0.6 0.4-0.7 1.2-1.1-1.1 0.9-0.9M415.2 231.5l0.1-0.6 1-0.8 0.9-1.6-0.8-1.1-0.9-1.2 0.5-1.2 0.3-0.4-0.2-0.9-0.9 1.3-0.8 0.3-0.2-0.5-0.5-0.6-1.6-0.4-1.3 0.2-0.4 0.5-1 0.3-0.6-1 0.2-0.6 0.1-0.9 0.1-0.5 0.6-1.1 0.7 0.5 0.8 0.8 0 0.4 1.2 0.4 0.5 1.4-0.2 0.1-0.3 1.4 0.3 0.6 0.9 0.2 0.6 1.1 0.5 0.4-0.4 0-0.6-0.1M415.2 231.5l0.4 1.5 1.3-0.9 0.5-0.4 1-0.2-0.9-1.1-0.9-0.2-0.8-0.2 0.9-0.4-0.6-0.4 0.1-0.8-0.9-1.5-0.6 0.1-0.5 0.2 0.2 0.5 1.3 0.2 1.6 0 0.8-0.6-1.1-0.8-0.4-0.6-0.8-0.6 0.5-1.6 0.8-1.3 1.2 0.9 0.1 0.6 0.3 0.8 1.5-0.7 0.7-1.2 0.3-0.9 1.1-0.5 1 1 1 0.7M415.2 231.5l-1-0.1 0.4-0.8 0.5-1.3 0.6-1.3 1.2-1.1 1.5-0.6 0.7-0.4-0.1-1.1-0.3-1M415.2 231.5l-0.3-0.3 0-0.7 1.7-0.2 1 0.2 0.5 0 0.8-0.3 1.5-0.4 0.6 0.7 0.1 0.5 0.8-0.5 1-0.6 0.5-0.4-0.8-0.9-0.5 0.8-0.7-0.2 0.1-0.6 0.6-0.7 0.4-0.5 0.7-1-1.4-0.3-1.1-0.8-0.4 0.2 0-0.9-0.3-0.3 0.4-1.5-0.2-1.2-0.3-0.5-0.9-0.3-0.4-0.3M415.2 231.5l0 0.7 0.2 0.3 0 0.7 0.4-0.4-0.5-0.7-0.7-0.7-0.3-0.7 0.3-1.1-0.3-0.4-0.6-1.2-1 1.1-0.5 1-0.7 1.2 0.5 1.4-1.1 0.7-0.2-0.6 0.2-0.7 0.9-0.1 1.1 0.6 0.3-1.7-0.4-1.7 0.4-1.2 0.5-1.3 0.3-1.3 0-1.8 0.6-1.7M415.2 231.5l1.3 0.1 0.1-1.6-0.4 0.3-0.4 0.5-0.5-1.6 0.7-0.6 0.5-0.9 0.3 0.9-0.2 0.6 0.5 1.2 1.2-0.1-0.6-1.6 1.3-0.4 0.5 0 0.7-1.3M415.2 231.5l-0.5 0.3-0.1-0.8-0.3-1.4 1-1 1-0.8 0-1.4 0 0.5 0.6 0 1 0 0.7 1.4 0.2 0.7 0.6 0.3 1.1-0.5 1.4-0.3 0.3 0.6 0.2-0.8-0.1-1.1 0.8-0.5 0.2-1.3 1.4-0.5 0-0.8 0.3-0.6 0.9-1.1-0.8 0.5-1.3-0.2-0.9-1.1-0.8-0.5-0.3-0.2-0.8 0.3-0.4 0.1 0.2 1.5-0.3 0.6-1.4-0.3-0.4-0.3-0.1-0.5M415.2 231.5l-0.2-0.9 0.2-1.5-1.3-1-0.1 0.4-0.7 1.2 1.2 0.2 0.4-1.1 0.4-0.6 0.7 0-0.1 0.5-1 1.1-0.2 0.6-1.3 0-1-1M415.2 231.5l0.3 0.8 0.6-0.8-0.3-0.6-1.2-0.6-0.8-0.7-0.4-1.2-0.4-0.4 1.1-1 0.1-0.5-0.6-0.4-0.8-1 0.6-1.1 0.7 0.5 0.6 0.5 0.2 0.7-0.9 0.6-0.1 0.6 0.1 0.2-0.2 0.3 0.7 0.9-1.5-0.3-0.6 0.1 0.4-0.4-0.8-0.8 1.5-0.3 0.5-1.2 1.1-0.7 0.9-1.2 0.7-0.2 0.6 0.4 0.7 1.4 0.5-0.4 0.3-1.1M415.2 231.5l-0.2-0.2 0-0.5-0.1 0.8 0.3 1.1 0.5 0.6 0.3-0.3 0.5-0.9 0.4 0.8 0.5-0.2 1.2-0.5 0.1-0.7-0.2-1.4 0.5-0.3 0.6 0.1 1-0.6-0.7-0.4-1.2-0.1-0.6-0.5-0.7-0.4-0.4-0.4-0.9 0.3-0.9-0.5 0.6-0.9 1.2-0.7-0.3-0.3 0.2 0.3 0.7 0.2 0.9-0.3M415.2 231.5l0.8-0.8 0.1-0.5-1.1-0.5-1.5 0.2-1.2-1-0.1-1.4-0.9-0.5-0.3-0.6-1.3-0.2 0.3-0.8M415.2 231.5l0.3 0.9 0.4 0.4 1.4 0.4-0.7-0.1-1.3-0.3-0.3-1-0.7-0.5-1.4-1-1.2-0.9-1.3-0.2-0.1-0.6 0.1-1.1 0-1.5 0.8-0.6 1.6 0.2 1.6-0.3-0.7-1.4 0.2-1.3-0.8-1.2-1.5 0.3M415.2 231.5l-0.2-0.8 0.8-1.2 0.4-1.5 0-0.8-0.4-0.7-0.7 0.3-0.2 0.4-0.5 0.5-1.5 0.3-0.6 0.7-0.5-0.2-0.6-0.9 0.2-0.5 1.1-0.5-0.1-1.3-1.4-0.4-0.9 0-1-1.2M415.2 231.5l-0.6-1.3 0.3-1.8 0.3-1 1.2-0.4 1.6-0.2 0.5-0.2 0.1 0.3-0.8-0.3-0.6-0.3-0.5-0.1 0.7 1 0.5 0 0.6 0.4 0 0.5 0.6 0.5 1 0.4 1.2 0.8 0 0.8M415.2 231.5l-0.4-0.9-1-0.7-0.9-0.5-0.1-1.2-0.2-0.3-0.5-1.5 0.1-1.5 0.3-0.2 0.4-0.8 1.5-0.3 1.3-0.2-1.1 1.2 0.1 1.5M415.2 231.5l0.5 0.6 0.2-1.5 0.7-1.5-0.9-1.3-0.4-1.3 0.6-0.6 0.2-1.6 1.5 0.3 1.4 0.9 0.8 0.4 0.2-0.4 0.4-1.4 1.7-0.3 1.5-0.7 0.7-0.9-0.7-1 1.3 0.5 1.4 0.3 0.8 0.7 0.7-0.8-0.8-1.1-1.2-0.4-1.4 0.7 0 0.4-1.5 0.5-0.7 0.9-1.1-0.4-1.3 0.4-1.2 0.5-0.6-0.7-1.2-1-0.5 0.2-0.4 1 0.7 0.6M415.2 231.5l1.6 0.4 0.4 0.1 0.5 0.3 0.1 0.3-0.9 0.8-0.6-0.7-0.8-1.4-0.5-0.3-1.1-0.7-1.6-0.5-1.6-0.3-0.1-0.6-0.5 0.2M415.2 231.5l-1.1 0.1-0.1 1.2-0.1 0.2-0.9-0.2-0.1 0.4 0.7 0.3 0.9-0.2 0.1-0.5 0.8-0.1 0.4 0.3 0.3 0.4 1.6 0.1-1.1-1.2-0.7-0.7 0.4-1.1-0.9-1.1 0.3-0.7 1.4-0.8-0.1-0.7 0.4-0.5 0.3 0.2 0.9-0.3 0.5-0.3 1.1-0.7 1.1-1.1 1.1-1.1 0.8 0.6 0.4 0.2 0.6 1.3M415.2 231.5l0.1 0.8-0.1 1-1.2 0.1-0.3-0.2 0.2-0.4-0.3-0.3-1.6-0.2-1.3 1 1-0.6 1.4 0.1 0.6 0 1 0.7 0.4-0.1 0.2-0.4-0.4-0.4 0.7-0.7-0.2-0.5 0.2-0.4 1.5 0.1 0.5-0.2-0.8-1.4M415.2 231.5l-0.4-0.1-1.1-0.2-0.6 1.2-0.7 0.9 0.2-0.3 1.2 0.3-0.2 0.1-1.3-0.3-1 0.1-0.4-0.6-0.9-1.4 0-1.1 0.9-0.4 1 0 0.9-0.8 1.2-0.7 0.9-0.7-0.9-1.5-0.8-0.1 0 0.5-0.6 0.3-0.1 0.5-0.5 0.5 0.5 0.3 1 0.6 0.8-1.3 0.6-0.5 0.6 0.4 1.1 0.9 0.6-0.1 1.6-0.1 0.1-0.9-0.5-0.6M415.2 231.5l1.3 0 0.6 0.2 0.6 0.3 0 0.4-1.4 0.7 0.4-1 1.2 0.4 1.1-0.7 0.3-0.6-0.4-0.4-0.6-0.1-0.2-0.5-1.4 0.1M415.2 231.5l0.2-1.4 0.3-0.7 0.2-1.2-0.5-0.6-1.1-0.4-0.6 0.3 0 0.5-0.5 0-0.5-0.8-0.8 0.6-0.8-0.1-0.3-0.7-0.1-1.2 0-0.9M415.2 231.5l0.8 1.4 1.4 0.4 0.7 0.2-0.7-1-1.5-0.7-1.4 0-1.6-0.6-0.1-0.8-0.4-0.6-0.9-1.1 0.3-1.2 1.1-1.2M415.2 231.5l-0.2-0.5-0.2-1.6-1.1-0.8 0-1.5-0.7-1.2-0.4-0.6-0.7-1-0.5-0.5-1 0.9-1.2-0.1-0.1-0.8-0.7-0.1-0.1 1.6 0 1.6-0.2 0.3-1.2-1.1-1 0.3-0.6 1.5-1.5 0.4-0.9 0.7M415.2 231.5l1.1-1.1 0.2-1.3-1.1-1.3-1.4-0.9-1.2 0.5-0.6 0.7-1.3-1 0-0.9 0.2-1.8 0.4-1 0.9-0.4 0.6 1.2-0.2 0.2-0.2 0.4 0.9 0.4 1.3 0.7-0.8 0.9-0.4 0.8-0.5 1.3 1.1 0 0.8 0.9 0.3 0.2 0.2 1.4-1.2-0.8 0.1-0.8M415.2 231.5l-0.7-0.6-0.3-0.6 0.2-1-0.7-1 0-1.4 0.1-0.7-0.1-0.4-0.8-0.8 1.1-1.2 1.1-1.1 0.6-0.2 0 0.8-1 0.4-1.1-1.3M415.2 231.5l0.3 0.9-1.1 1-1.3-1-0.8 0.4-0.4 0.3-0.5 0-0.3-0.7 0.5-1.1 0.2-0.5 1.4 0.3 0.4 0.3 0.4-0.7-1-0.9-1.3 0.8-0.5 1.2-0.5-0.1 1.1-0.2 1.6-0.5 0.7-1.3 0.1 0.6-0.7 1.4-0.2-1.2-0.4-1.4 0.1-1.2 0.5-0.6 0.6-1.4M415.2 231.5l0.1 1.2 0.5 0.2 0.3 0.2 0.1-0.7-0.6-1.3-1-1.4-0.5 0 0.1 1 0.2 0.5-1 1 0.5 1-0.1 0.3-0.2-0.4-0.9 0.2-1.4-0.1-0.1-0.1-0.5-1.3 0.3-0.5 0.8-0.3 0.6-0.3 0.9-0.6 0.4-1.3-1.1 0.1-0.4-0.3 0.5-1.1 0.6-0.9 0.9 0.6 1.3 0.6 1.1-1.2 0.4 0.2 1.1-1 0.7-1-0.2-1.1-0.6-0.5-0.1-0.8M415.2 231.5l-0.1 0.9-0.2 0.3 0.6-0.7 1 0.6-0.4 0.4-0.6 0.4-0.5-1-1.2 0.4-0.3-0.8-1 0.2 0.1 0.6 0.5-0.2-0.1-1.4 0.2-1.5 0.3-0.9 0.3-1.6 1.2-0.5 0.4-1 0.4-0.3 1-0.4 0.4-1 1 0.2 0.2 0.2M415.2 231.5l-1.2-0.9-0.1-0.6 1.1 1.2 0 0.6 0.3 1.2-0.4 0.2 0.5-0.1 0.8-0.3-0.4-1.6-0.7-0.1-1.6-0.1-0.1-0.6 0.3-1.3 0.5-1.2M415.2 231.5l-1.2 0.2-0.9 0.2-0.7 1.2-1.1 0.2 0.2-0.7 0.5-0.3-0.4-1.5-0.2-0.8-1.1-1.3-0.9-1.4-0.2 1.5 0.5 0.7 0.9 0.3 0.3 0.8 1.4-0.6 0.1-0.5-0.3-0.6 0.4-0.4 0.8-1 0.1-0.7-0.2-1.7 0.7-0.9-0.9-0.8M415.2 231.5l1 0 1.4 0.6 0.7 0.9 0.4 0.1 0.9 0 0.2-1.4 0-0.6-1.4-0.9-0.1-0.7-0.5-0.7 0.6-0.6M415.2 231.5l-0.7-0.7-0.1-0.6 0.5-1.6-0.4-0.1-0.3-1.1-0.5-0.6-0.6-0.6-0.8-0.3 0.6-0.2 0.5 0.1 0.1 1 0.9 0 0.8 0.7 0.4 0.1 0.6-0.2-0.5-0.8-0.8-1.5-0.6-0.6-1.3-0.6-1.5 0.3-0.3-0.8-0.5-0.9-0.8-0.3-1.5-0.2-1.5 0.4-1 0.2-0.5 0.6-0.3 0.5-0.6 1.5-0.1 0.4-0.5 0.6M415.2 231.5l0.7 1.2 0.5 0.6 0.2-0.8-1.3-0.6 0.2-0.5-0.6-0.4-0.2 0.3-0.5-1.4-0.2-0.5-0.4-0.5-0.4-0.2-0.6 0.2-0.9-0.3 0.5-1.2 0.8-0.2 0.5 0.9 0.3 1.1M415.2 231.5l-1-0.1 0.8 1 0.4 1-0.4-0.1-1.1-0.2 0.9-0.1 0.4 0.1 1.2-0.4 0.3-0.5 0.2-1-1.1-0.2-1.2 0.8-0.2 0.2-0.9 0.2-0.1-0.9-1.1-0.5-1.1 1-0.4-0.7-1.6-0.2-0.4-1.6-0.3-1-0.1-0.6 0.4-0.5 0.5-1.5 0.6-1.4M415.2 231.5l0.8 0.9-0.3 1 0.2-0.6 0.1-0.4 1.1-0.7 0.3-0.5 1-1 0.9-0.1 0.5-0.3-0.4-1.4 0.1-0.5 0.5-1 0.2-1.2 0.7 0.5 0.3 0.5 0.1 0.5 0.5 0.1 1 0.1 0.5 0.1 0.9 0.2 0.6-0.5 1.2-0.3 0.5 0.6 1.1 0.3-0.6 1-0.6-1.1 0.4-0.4M415.2 231.5l-0.5-0.5-0.3-0.6 0.8 0 0.2-0.8 0-0.6-0.9-1.5-0.5-0.7-0.3-0.4-1.3 0.1-0.4 0-0.8 0.8-1.2-1.2 0.2 0.6 0.6-0.6 1 1 0.1 0.7 0.3 1.3 1.3-0.9-0.2-1.3 0-0.8 0.2-1.8-0.9-0.4-1.3-0.1 0.5 1.1 0.5 1.3 0.3-0.7 1.2-0.5 0.9 0.2 0.2 1.1-1.5-0.5-0.6 0-1.1 0.6-0.7 0.4-0.7 0.3-0.5 0.3M415.2 231.5l1.1-0.1 0.5-0.5 0.8-1.4 0.1-1.1-0.2-0.9-1.6 0 0.5-0.2 0.7 0.7 0.5 0.2 0.4-0.1 1.3-1.2 0.6-0.6 0.3-1-0.5-1.2 0.5-0.9-0.5-1.3 0.9 0.2M415.2 231.5l-0.1 0.8 0.9 0.8 0.2 0.4 0.2-1.3-0.5-1.1 1.2-1.2 1.3 0.4-0.5 1 0 1.1 0.7-0.4 0.3-0.7 0.4-0.4 0.5 0-0.1 0.3 0.2 0.5 0.6 0.7 0.5-1.5 0.4-0.6 0.5-0.7-0.3-0.7-0.7-0.1-0.7 0.2-0.7-0.2-0.3-1.5-1.4-0.9-0.8-0.9-1.3 0.4-0.1 0.4 0.3 1 0.2 0.4 0.9-0.3-0.2-1 0-0.7 1 0.3M415.2 231.5l0.6-0.1 0.4 0.1 1.3 0.5 0.3-0.2 0.2-0.9 0.1-1.6 0.8-0.2 0.8-0.1 0.9-1.2-0.6-1.5 0-1.3-0.8-0.4-0.1 0.6-0.3-0.3-0.1 0.5 0.2 0.3-1.6 0.3 1.3 0 1.4-0.1-0.9-0.7-0.7-1.4 0.1-0.9M415.2 231.5l-1.3 0.5-0.3-1 0.1-1.1 0-0.5-0.4-0.8-0.5-0.9 0.2 0.3 1.1 0.3 0.8 0.1-1-0.2 0-0.7-0.3-1.2-1.3-0.8-0.6-0.1-0.2-0.5-1.5-0.7-0.6-0.3-0.4-0.3-0.4-0.3-1-1.3 0.3 0.1 0.5 0.2 1.2-0.3-0.2-0.7 0.1-0.7 0.4-0.1 0.4-0.4 0.7 1 1.7 0.1-0.3 1.1-0.2 0.4-0.4 0.6 0.7 0.3M415.2 231.5l-1.2 0.9-0.7 0.7-0.7-0.4 0.5-0.6 0.1 0.8-0.3-0.3-0.5-1.1-0.6-1.2-0.7-0.4 0-1.6 0.3-1.6 0.5 0.4 0.8 0.7 0.9-0.1M415.2 231.5l-1.2 0.1-0.8 1-0.8 0.7-1-0.8-0.9 0.7 0 0.3 0.4-0.5-0.2 0.1-1 0-0.4-1.4-1.1-0.9-1.2-0.8-1.3 0.5 0.2 1.3 0.5 0 1 0.8-0.5-0.1-1-0.8-1-0.8-0.6-0.8 0.1-1.2-1.5-0.2 0.1 0.2M415.2 231.5l0.6-0.3-0.4-1.3 0.5-0.5 0.1-0.8 0.1-1.2-0.4-0.4-0.8 0.2 1.2 1.1-0.7 1.1-0.4 0.4-0.4 0-0.5-0.8 0.6-1.6-0.3-0.2-0.5-1.5 1.3-1 1.3-0.8" fill="none" stroke="#111" stroke-width="0.28" stroke-linejoin="round" stroke-linecap="round"/><path d="M415.8 226l-0.3 0.2 0.7 0 0-0.7 1 0.2-0.9 0.3-0.9-0.6M423.5 225.9l0.5 0.2 0.5 0.7 0.3-0.6 0.2-0.2 0.7 0.6M421.5 229.9l0.2-0.3-0.1 0.4 0.6-0.3-0.7 0.5M407.2 227.7l-0.2 1-1-0.1-0.7 0-0.4 0.2-0.3-0.4-0.4-0.3M413.8 227.9l0-0.3-0.1-0.4 0.3 0.2-0.5 0.1-0.8-0.7 0.4 0.2 0.5 0.6-0.6 0.9M424.3 223.1l0.1-1.1-0.3-0.2-0.8-0.6 0.1-0.3 0.7-0.2 0.1-0.3 0.6 0M418.7 223.8l0.1 1.1 0 0.9 0.1-1 0.7-0.7-0.1-0.7M418.6 220.5l-0.9 0.1-0.3-0.3-0.3 0.6 0.5-0.1 0 0.4 0.4-0.2M414.6 221.9l-0.4 0.6-1.2 0-0.4 1-0.1 0.7 0.2 1-0.8 0.3-0.1-0.8M420.2 227l0.7 0-0.9 0.4 0-0.8-0.7-0.7M418.6 222.3l-0.6 0.5-0.2-0.4 0.2 0.2 0.9-0.3 0.4-0.8 0.7-0.1M412.2 229.4l0.1-0.4 0.1-0.6 0.5 0.3 0.8-0.7 0.1-0.2 0.1 0.5 0.4-0.9 0.1-0.2M418.8 223.6l0.1 0.5-0.2 0.6-0.9 0.7 0.3-0.3 0.3 0.4-0.4-0.5M418.5 225.6l-0.3-0.7-0.8 0 0 1.1-0.4 0.8-0.3 0.6M410 225.4l0.8-0.5-0.3 0.9-1-0.3-0.4 0-0.3-1 0.3-0.2M411.6 221.7l-0.3-0.2-0.1-1.1-0.5 0-0.3 0.6 0.3-0.1 0.6 0.7M409.1 223.7l0.2 0.1 0.8-0.3-0.2-0.4-0.2-0.1 0.4-0.4-0.7 0.1 0-0.3M421.3 230.6l0.1 0.5 1 0.2 0.5-0.9 0.1-0.7-0.4-0.1M414.7 226.1l-0.3-0.8-0.5 0.3-0.6-0.3 0.4-0.7M416.6 223.5l-0.1-0.6-0.3-0.8-0.2 0.7 0.2 0.5-0.7-0.5-0.2 0.6 0.4 0.7M410.1 229.1l-0.8-0.2 0.1 0.4-0.3-0.8-0.7-0.5M424.2 225.5l0.9 0.6 0.7 0.5 0.2-0.4 0.1-0.4-0.4-0.1M416.8 229.5l0.2-0.5 0.4-0.1 0.3 1 0.5 0.8 0.3-0.6M418.4 226.4l-0.6 0-0.1 0.6 0.4 0.7-0.2 0.2 0.1-0.5-0.1-0.3-0.9-0.3 0.4 0.3M416.7 230.3l-0.3 0.1-0.6 0.6-0.1 0.4 0.2 0.5 0.5 0.7 0.6 0.7M410.7 224.9l0.6-0.4-0.2-0.8 0.4 0.2 0.6-0.1-0.3-0.6M412.9 226.3l0.5-0.2-0.5-0.8 0.4-0.7 0.6-0.5-0.3-0.6M402.9 229l-0.7 0.3 0.6 0.7-0.4 0.3-0.7 0.6-0.6 0.5-0.3-0.3 0.3-0.6M414.4 229.8l-0.3-0.6-0.1-0.4-0.3 0-0.8-0.8-1-0.3-0.3 0.2-1 0.2-0.1 0.4M413.6 222.4l-0.1-0.2-0.4-0.9 0.4-0.5-0.4-0.4M414.1 225.9l-0.1 0.6 0-0.7 0.1-0.5 0.9 0 0.9-0.4 0.1 0.5 0.4-0.2-0.4 0.6M417.9 222.4l-1-0.2-0.2 0.8-0.1 0.3 0.4 0.4 0.4-0.7 0-0.9 0.3 0.4M418.4 224.4l-0.5-0.5 0.6 0.4 0.3 0-0.3-0.2-0.8 0.5 0.8-0.5 0.3 0.7M414.2 227.9l0-0.4-0.5 0.4-0.2-0.6-0.5 0.4-0.2 0.5 0.2 0.3-0.9-0.6M413 223.4l-0.2-0.5-1.1 0.3 0.2 0.3 0.7 0.2 0.4 0.1 0.4 0.3-0.1 0.5 0.3 0.5M418.4 228.2l-0.3-0.3 0-0.3-1.1-0.1-0.9 0 0.1-0.7-0.6-0.9 0.5-0.7M403.9 226.2l-0.4-0.4 0-0.9 0.3 0.7-0.5-0.1M413.8 229.2l0.5 0.6-0.9 0.4-0.4 0.4 0.9-0.6M409.9 224.3l-0.7-0.1 0.1-0.4-0.1 0.2 0.3 0.5-0.4-0.7-0.2-0.9-0.8 0.3M426.8 227.3l-0.4 0-0.9 0.7-0.2 0.3 0 0.7 0.2-0.3 0.3-0.6-0.2-1-0.1-0.8M409.8 227.4l-0.4 0-0.2 0.2 0.5 0.6 0.8 0.1 0.2-0.3 0.5 0 0.8-0.7 0.4-0.5M420.6 222.1l-0.1 0.6-0.3-0.8 0.9 0.3-0.9 0.3-0.5-0.4 0.4-1M417.8 226l0.5 0 0.3-0.7 0.7 0 0.2 0.9 0.5-0.2-1-0.2 0.2-0.6 0.3-0.8M418.5 222.9l-0.9 0.3-0.2 0.8 0.4-0.1 0.4-0.4 0.3-0.7 0.1-0.7 0.8 0M412.5 223.6l-0.5-0.5-0.3-0.3-0.4 0.2 0.8 0.3-0.3 0.9 0.6 0 0.4 0.3M413.6 227.7l0.4-0.7-0.1-0.5-0.5-0.7-0.9 0.4-0.8-0.2-0.4 0.7 0.6 0.4 0 0.6M403 228.9l0.8 0.4 0.9-0.2 0.5 0.3 0.3 0.5M416.5 223.9l0.2 0.6 0.7 0.2 0.2 0.3 0.1 0.1" fill="none" stroke="#111" stroke-width="0.53" stroke-linejoin="round" stroke-linecap="round"/><path d="M415.8 226h0M423.5 225.9h0M421.5 229.9h0M407.2 227.7h0M413.8 227.9h0M424.3 223.1h0M418.7 223.8h0M418.6 220.5h0M414.6 221.9h0M420.2 227h0M418.6 222.3h0M412.2 229.4h0M418.8 223.6h0M418.5 225.6h0M410 225.4h0M411.6 221.7h0M409.1 223.7h0M421.3 230.6h0M414.7 226.1h0M416.6 223.5h0M410.1 229.1h0M424.2 225.5h0M416.8 229.5h0M418.4 226.4h0M416.7 230.3h0M410.7 224.9h0M412.9 226.3h0M402.9 229h0M414.4 229.8h0M413.6 222.4h0M414.1 225.9h0M417.9 222.4h0M418.4 224.4h0M414.2 227.9h0M413 223.4h0M418.4 228.2h0M403.9 226.2h0M413.8 229.2h0M409.9 224.3h0M426.8 227.3h0M409.8 227.4h0M420.6 222.1h0M417.8 226h0M418.5 222.9h0M412.5 223.6h0M413.6 227.7h0M403 228.9h0M416.5 223.9h0M418.9 231h0M412.1 228h0M414.2 225.3h0M414.3 226.1h0M418.6 230.2h0M419.4 231h0M418.6 229.3h0M413.4 230.6h0M417.5 231h0M415.9 228.8h0M417.8 227.7h0M418.9 229.4h0M417.8 228.6h0M416.4 229.7h0M416.9 227.9h0M416.1 230h0M415.1 229.3h0M419.4 229.6h0M420.2 230.3h0M415.6 230.5h0M410.6 230.7h0M412.6 229.2h0M410 226.2h0M415 226.7h0" fill="none" stroke="#111" stroke-width="1.4" stroke-linecap="round"/><path d="M415.2 231.5l0.9 0.9 0.9 0.9 0-0.2-0.4-0.4 0.1-0.5 0.2-1 1.3 0 0.7-0.2M415.2 231.5l0.4-0.2-0.7-1.1-0.5-0.5-0.3-0.9-0.5-0.6-0.9-0.2-0.6 0M415.2 231.5l-0.7-0.2-0.2-0.8-0.1-0.6 0.6-0.5 0.4-0.2 0.8-0.5 0.1 0.9 0.1-1.3-0.7-1.1-0.5-1.2-0.8-0.7M415.2 231.5l0.4-0.7-0.2-1-0.3-1.3-0.5-0.6-1.1-0.1-0.1-0.5-1.1-0.8 0.2-1 0.1 0.2 0.2 0.5 0.3 0 1.2-0.1M415.2 231.5l0.8-0.9 0.2 0.4 0.5 0.1 1.2-0.1 0.6-0.1 0.7-0.3-0.6-0.4M415.2 231.5l0.5-0.6 0.1-0.4 0.5-0.6 1.1 0.1 0.7 0.6 0.3 0.3 0.6-0.1 0.4 0.2M415.2 231.5l0.4 0.3 0.6-0.4 0.8-0.2 0.3 0.1 0.8 0.4 0.3-0.6-0.6-1 0.8-0.8M415.2 231.5l0.1 0.3-0.4 0.9-0.7-0.3-0.8-0.3 0.4-0.8-0.4-0.7M415.2 231.5l-0.2 0.9 0.7 0.1 0.9 0.2-0.2 0.2-0.4 0.5 0.9 0.1 0.3-0.7 0.7-0.2 0-0.7-0.4-0.9M415.2 231.5l1.1 0.2 0.2-1.2 0-0.4 1 0.1-1.1-0.1-0.3-0.5 0.1-0.3-0.3-0.5M415.2 231.5l0.4 0.1 0.6-1.1 0.1-0.7 1.2-0.5-0.1-0.4 0.7-0.8 1 0-0.3-0.3-1 0.6-0.2-0.4 0.2-0.3M415.2 231.5l0.4-0.8 0.3-0.3 1-0.5 0.9-0.7 1.1 0.2M415.2 231.5l-0.2-0.5 0.2-0.7 0.2-0.7 0.6-1 1.1-0.6 0.7 0.6M415.2 231.5l-0.4-0.9 0.2-0.5-0.3-0.6 0.8-0.2 0.2-0.2 0.7 0.6M415.2 231.5l0.5-0.6 0.7-0.8 0.9-0.6 0.5-0.3 0.1 0.9 0.2-0.5-0.2-0.7-0.3-0.6-0.7-0.4M415.2 231.5l0.2-0.4 0.6-0.2 0.5-0.1 0.3 0.4 0-1.2-0.7 0M415.2 231.5l-0.5-0.1-1-0.8-0.1-0.7 0.5-0.7 1 0.1M415.2 231.5l0.1-0.4 0.9-0.7 0.1-0.7 1-0.1-0.4 0.8 0.1 0.3 1.1-0.5 0.8-0.3 0.5-0.3M415.2 231.5l0.2-0.7 0.4-0.6 1-0.8 0.1-0.5 0.6-0.5 0.4 0-0.1 0.3-0.1 0.8 0 0.6 1.1 0 0.7 0.5 0.7-0.3M415.2 231.5l0.6 0.4 0.9 0.2 0.6-0.7 0.3-0.6 0.1 0.5-1.2-0.3-0.9-0.5M415.2 231.5l0.4 0.2-0.2 0.5-0.7-0.1-0.5 0-0.6-0.5-0.7-0.2-0.1-0.8-0.9-0.3-0.9 0.8-0.4-0.4M415.2 231.5l-0.8 0.6 0.1 0.8-0.5 0.6-0.1-0.4-0.1-1 0.1-0.5 0-1.3-0.3-0.7-0.6-0.1-0.4-0.3M415.2 231.5l-0.5-1.2-0.1-0.9-0.6-1.2-0.9-0.2-1.1-0.1-0.8-0.5-0.4-1.2-0.7-1.1 0.3 0.3-0.4 0.8M415.2 231.5l-0.8 0-0.6 0.2-0.1-0.6 0.1-1 0.2-0.5 0.7-0.7 1 0.2 0.6-0.5-0.9-0.7 0.1-1.1-0.5-0.1" fill="none" stroke="#111" stroke-width="0.5" stroke-linejoin="round" stroke-linecap="round"/><path d="M418.9 231l0 0.3 0.2 0.4 0.5 0.4 0.9 0.4M412.1 228l0.8-0.7 0.8-0.1 0.9 0.6 0.3 0.3 0 0.5-0.2-0.2-0.7 0.1 0.4 0.5M414.2 225.3l0.2 1 1 0.2 0 0.7-0.8-0.3-0.1 0.3M414.3 226.1l-0.4-0.3-0.3-0.4 1.1-0.1 0.7 0.7M418.6 230.2l-0.4 0.5-0.7-0.9-0.6 0.1-0.8 0.5 0.3 0.1 1-0.2M419.4 231l0.4 0.5 0 0.3 0.9 0.4-0.6 0M418.6 229.3l-0.3-0.6-0.3-0.8 0.3 0.7-0.2-0.2-0.6-0.8 0.3-0.1 0-0.7M413.4 230.6l-0.5 0.5-0.2 0.3-0.8-0.3-0.5-0.4-0.9-0.4-0.7-0.3-0.8 0.3-0.2 0.1M417.5 231l-0.2 0.3-0.4 0.8 0.1 0.4 0.6-0.9M415.9 228.8l0.2-0.3 0.7 0.1 0.4-0.6 0.6-0.8M417.8 227.7l0.3-0.2-1.1-0.4-0.2 0.6 0.6 0.4M418.9 229.4l0.4 0.1 0.5 0.5 0.5-0.1-0.2 0.6-0.5-0.8-0.1-0.5M417.8 228.6l-0.4-0.4 0.3 0 0.6 0.8 0.7 0.4-0.9-0.1M416.4 229.7l0.5-0.6-0.9 0.3 0.3 0.1 0.5 0.7 0.6 0.4 0.9-0.5-0.2-0.8-0.6-0.1M416.9 227.9l-0.4-0.3 0.1-0.3 0.3-0.3 0.2 0.3 0.5 0.8 0.3-0.1 0.4 0.4M416.1 230l-0.2-0.2-0.6-0.5-0.4 0.2-0.4 0.2 0.6-0.1 0.7 0.1-0.8 0.1M415.1 229.3l0.7 0.5 0.3 0.8 1.1 0-0.3 0.3-0.2-0.2-0.1-0.7M419.4 229.6l-0.1-0.7 0.1 0.8 0.8 0.1-0.2 1.1-0.1 0.6 0.4 0.8-0.4-0.4 0.3-0.7M420.2 230.3l-0.1-0.7 0-1.1-0.4 0.2-0.3-0.1-0.6 0.3M415.6 230.5l0.3-0.3 0.8-0.7 0.1 0.9-0.4 0.8 0.4 0.9 0.2-0.4-0.7 0.6M410.6 230.7l-0.4-0.1 0.2-0.9-0.4-0.6-0.2 1 0.1 0.7-0.3 0.2-0.6 0.1-0.3-0.7M412.6 229.2l0.2 0.3 0.2 0.2-0.1-0.8 0.3 0.2 0.9 0.6M410 226.2l0.6 0.2-0.1 0.9-0.5 0.6 0.7 0.2 0.2-0.1M415 226.7l0.2-0.2 0.7 0.9 0.8 0.1-0.9-0.5-0.2-0.1 0.8 0.6-0.6 0.8" fill="none" stroke="#111" stroke-width="0.75" stroke-linejoin="round" stroke-linecap="round"/><path d="M415.2 231.5l-0.1-0.7 0.4-0.6 0.6 0.3 0.5 0 0 1.2-0.1 0.6-0.7 0.2 0.6 1.6 1 1.1 0.8-0.6 1.3-0.5 0.5-0.1 0.2-0.2-0.7-1.1-0.7 0.2-0.7 1 0.5 1.4 0.9-0.6 1.5 0.8 0.6-0.1 0.5-0.9 0.5-0.2 0.2 1.6 0.2 0.7 0.4 1.7-0.5 0.6 1.4-0.4 0-1.2 0.2-0.4-0.7-1M415.2 231.5l0.6 0.2 0.4-1.2-0.5-0.1-1.5-0.7-0.2 0.9-1 0.7-0.1 0.5-0.6 1.5 0.9 0.6 0.7 0.9 1.7 0 0.2 0.4 1-0.3M415.2 231.5l-1.6-0.1-1 0.8 0.3 1.2-0.1 0.6-0.4 0.4-0.1-0.4 0.7-0.5 0.4 0.6M415.2 231.5l-0.7 0.2-0.6-0.4-1.5 0.4-1.4 0.9-1.3 0.3-1-0.3-0.4 0.1-1.2-0.3-0.8 0.7-0.6 0.2-1.4-0.8 0-0.6-0.2-0.8 0.3-0.7-0.1-0.7 0.4 0.7 0.8 0.1 0.4 1.1 0.5-0.2 0.3 0.2-0.9 1-0.9-0.7-0.7-0.2-0.7-0.8-0.4-0.8-1 0.2 0.5 0.5-0.7 0.2-0.3-1 0.5 0 0.4 0.9 0.4 1.3 1 0.9-0.3 0.7-1 0.1-0.5-0.4M415.2 231.5l-0.1 1.6-0.6 0.5-1.2 0.3-0.8 0.8-0.9 0.7-0.8 0.3-1 0.3-1.5 0.2 0.7 1.1 0.5 0.1M415.2 231.5l-1-1.1-0.9-0.6-0.4 1.6 0.5 1.2 0.6 0-0.2-0.3-1.1 0.7-1.1 1.3-0.5 0-0.5-0.1-0.2 0.5-0.5 0.1-1.3 0.3-1 0 0.3 1.2-1.2 0.1-0.7-1.2 1.1-0.6 0-0.3M415.2 231.5l-0.1-0.5 0.2-0.6-1.3-0.6-0.6 0-0.8 0.3-0.2 0.2-1.1-0.5-0.6 1.1-0.8 0.6 0.1-0.8-0.6 0.6-0.8-0.8-0.1-0.6-0.8 0.9-0.1 0.7-0.7 0.8 0.5 0.8 1.1 1.1-0.2 1 0.8 0.6 0.2-0.9-0.1-0.6 1.5-0.1 0.9 0.9 0.9 0.1 0.3-0.9 0.1-0.7 0.7-0.2 1.2 0.6 0.4 1.5 0.1 1.7 1.2 0.3 0.3 0.3M415.2 231.5l-0.8-1.1 0.5-0.3 0.4 0.5 0.5 0.1 1 0.6 0.1-1 0.6-0.3-1.3-0.2-0.7 0.3 1.3 0.9 1-0.2-1-0.2-0.2-0.8 0.4-0.2-0.7 0.5-1.5-0.5-0.6 0.5-0.6 0.1-0.6-0.1-0.2 0.7-1 0.3-1.4-0.3-1.3-0.5-0.7 1.1-0.8-0.5 0-0.4 0.5 0.1 0.7-0.6 0 1.3-1 1.3-0.4-0.2-0.4 0.6-1.2 0.3M415.2 231.5l0.6-0.5 1.2-0.8 1.1 1 0.5 0 0.9 0.5 0.6 0.9 1.4 0.9 0.8-0.8-0.2-1.1-0.7 0-1.6-0.2-0.4 0.4-1.6 0.5-0.6 1-0.9 0.1M415.2 231.5l-0.3 0.3-0.5 0.8-0.9 1.3-0.3 0-0.1 1 0.5 0.2 0.6 0.4 0.3 0.4 0.9-0.5-0.5-0.3-0.7-0.1-0.3 0.3-0.6 0.5-0.6 0.6-0.1 1.1-0.2 1.4 0.3 0.8 1.3 0.6 0 0.5 0.8 1.2 1 1.1 0.7 0.2 0.3 0.8-1.3 0.8 0.2-1.1M415.2 231.5l0 1.6-0.3 0.5 0.5-0.3 1.2 0 0.6 1-0.7 1-0.8 1.4-0.4 0-0.8 0.3 0.5 0.8 1 0.6 0.4 1.5-1.6-0.1-0.5-1-0.6 0.3-0.4-0.5-0.3-0.5-1.2-1-0.8 0.1M415.2 231.5l0.3-1 0.6-0.1 0.4 0.5 0.2 0.8-0.7 0.5-0.6 0.8 0.1 0.7 0.4 0.7 1.3 0.8 0 0.7 1.1 0.1 0.1-1.4 0-1.3-0.9-0.1-0.8-0.6-1.5 0-0.2 1.2-1 1.1 0.4 0.7-0.1 1.1 0 1.3 0.4 0.5 0 1.8M415.2 231.5l-0.9 0.5-0.7 0.8-1.3 0.2-1.1 0.4-0.8-0.6-0.6 0.1-0.5 1 0 0.8-0.1 0.6 0.7 1.4 0.4 0.7-0.8 1.1-0.5 0.2 1.4-0.4 1.2 0.4 0.9 0.1 1 1.2-1 0.7M415.2 231.5l-0.6 0.4 0.6 1.7 0.9 0.7 1.6 0.2 0.8 1.3-0.7 0.4-0.6 1.2-0.9-0.5-0.5-1-1.7 0 0.5 1.6 1.3 0 0.4 0.7 0.1 0.6 0.7 0 0.9 0.3 1.2 1.2 1.3-0.1 1.3-0.4-0.8 0.9 0 1.3 0.8 0 1 0.2-0.3 1.5-0.4-0.1-0.4-0.5-1.5 0.8-1 1.2-1 1M415.2 231.5l-0.6 0.5-0.1 0.9-1.5 0.3-0.6 0.3 1.1 1.3 0.8-0.7 1.2-0.9 0.3 0.3 0.5 1.5 0.4 0.9 1.3 0.6 0.4 0.6 0.8-0.1-0.3-1.3-1.1-1.1-0.8-0.5 0.1-0.6 0.7-1.1-0.3-1.1-1.1-0.1-0.1-1.2-1-0.4-0.3 0-1.3 0.7 1.3 0.9 0.8 0.1 0.8-0.7 0.7 0 0-0.4 0.8-0.2 0.6 0.3-0.5 1.3-0.5 0.8M415.2 231.5l0.7 0.6-0.3-1.4 0.5-0.8 0.6 0.2 0.3 0.4 0.3 1.1 0.9 0.3 0.5 0.7 0.6 0.4 0.4-0.4 0.2-0.3-0.9-0.3 1.4 1 0.2 0.5 1.4 0.8 1 1.1-0.9 1-0.9-0.9M415.2 231.5l0 1.2 0.5 1.7-0.8 1.4-1.3 0.3-0.3 1.7 0.9 0.5-0.8 1.2-0.5 0.9-1.2 0.6-0.5-0.3M415.2 231.5l1.1-0.2 0.5 0.3 1.4-0.2 0.3-1.4 0.4 0.9 0.8 0.9 0.6-0.1 0.5 0.7-0.8 0.9-0.4 0.5-0.8 1-0.7 0.1-1 1.2-0.4-0.3-1.4-0.2 0.8 0.2 0.4-0.2 0.5 1 0.3 0.7 0.7 0.8 1.3 0.7 0.6 0.5 1.2 0-0.3-0.4 0.1-0.8-1.3-0.3-1.1 0-0.3-0.2 0.4-0.3 1.4 0.9 1.2 1.3 1.1-0.2 0.4-0.2M415.2 231.5l1.1 1.2 0.9-0.1 0.5-1.5 0-0.4 1-0.1 0.7 0.6-0.9 0.8-0.7 1.1-0.1 0.7 0.6-0.3M415.2 231.5l0.8-0.3 0.3 0 1.1-0.2 0.5 0.7 0.5 0.6 1.5 0.5 1 0.7 0.1 0.6 0.1 0.9 0.4 1 0.1 1M415.2 231.5l-0.8-1-1-0.1 0-0.8-0.1 1-0.4 0.9-0.2-0.4 0.5-1.4 1 0.9 1.5 0.4 0.5-0.6 0.4 0.1 0.9-0.3 1.1 0.6-0.2 0.3-1 0.5 0.6 1.3-0.4 0.5-0.9-0.3 1.2 0.1 0.9 1.2 0.2 1.3-0.9 1.1-0.6 0.8-0.4 0.8 1.5-0.3-0.8-1-1.3-0.1-1.4-0.4 0.4 1.5-0.1 0.4M415.2 231.5l1.3 0.1 0 0.5-1.6 0.3-1.6 0-0.4 0.7-0.8 0.1-0.4-0.1-0.3 1 0 1.3 0.9 1.3 1.4-0.4 0.7 1.2 1.3-0.1 0.4 0.9 0.4 0.3 1.2 1.2-0.8 1.4 0.2 0.5 0.8-0.4-0.2-0.5-0.2-0.4 0 0.7 0.3 1 0.1 0.6 1 1.4 0.9 0.4-0.2 1.5M415.2 231.5l-0.3 0.4 0.9 0.4 0.2 1.5 0.1 1.2 0.2 1.3-0.4 0.6-1.3 0.7 0.6 1.4 0 0.6-1.2 0.9-0.9 1-1.1 1.2-1.1 1.2M415.2 231.5l0.3-1.2 0-0.1 0.8 0.5-0.3 0.7 0.6-1.1 1-0.1 0.4 0.4-0.7 1.5-0.1 1.4M415.2 231.5l-0.9 0-1 0.6-0.4-0.3-0.3 1-0.2 0.7-0.6 0.8 1.4 0.9 0.3-0.1 1.4-0.4 1.6 0.6M415.2 231.5l-1.5 0.8-1.2-0.5-0.2-0.6 0.3-1.2 0.5 0.2 0.5 0.5 0.2 0.5 0 0.7 0 0.7-0.5 1.3-0.2 1.4-0.6 1-1.3 0.3-0.8-0.3-0.3-0.2-0.1-0.5 0.5-0.4 0.8-0.9 0.7 0 0.9 0.3 0.5-1.1-1-1.1 0.1-1.3 0.7-0.6 0.3-0.4 1.1 1.2 0 0.7 0 1.4 0.4 0.3 0.3-0.1M415.2 231.5l-0.5 1.6-0.7 1.2 0 0.6 0.1 0.5 0.5-0.3 1.1 0.3 0.1 0.6-0.5 0 0-0.6 0.4-0.4-0.4 0.4 0.6 0.3-0.2 1-1 0.2-0.4-0.2-0.2-1 0.9 0.5-0.2 1.3 1.1 0.3 0.2 1.4 0.6 0.3 0.2-0.6 0.1-0.5-0.8-0.8-0.4-1-0.4 0.1-0.5-0.1-0.8-0.3-0.6 0.5-1.2-0.8-0.9-0.5-1.6 0.1-0.6 0.2-1.6 0.6-0.2 0.5M415.2 231.5l0-0.2 0.3-0.3 1.4 0.1 0.7-0.1-0.2-0.3 0.2-0.4-1.1-0.5-0.6-0.2-0.5 0.4-0.4 0.3 0 0.5-1.4-0.6-1.3-0.5-0.4 0.7-0.9 0.7-0.5 1.2-0.4 0.4-0.9-0.3 0.3-0.8 1.2-0.9 1.4 0 1.5-0.6 0.5-0.2 1.5 0.1 0.4 0.8 0 0.5 0.5 1.7-1.1 0.9-1.5 0.7 0 1-0.1 0.5-0.8 1.3 0.2 0.8-0.6 0.4 0.4 0.7-0.3 0.5M415.2 231.5l0.7 0 0.7-0.1 0.6-0.1 0.9 1.4-0.6 1.6-0.2 0.8-0.5-0.3-0.9 0.5-0.5-0.8-1.3 0.2-1.4 0.2 0.6 0 0.1-0.7 0.7-0.7 1.4 0.3 0.7 0.1 1.1-0.3 0.3-0.7 0.1-0.4-0.7-1.4 0.4-0.2 1-0.8 1.5 0.3 0.9 0.4 1 1.4 0.5 0.9 1.3 0.2 0.3 1.3-0.6 0.7-0.6 0.9M415.2 231.5l-1.5 0.4-0.6-0.2-1 0 0.1-1.2 0-0.8-0.4 0.6-1 1.4-0.7 1 0.5 1 1.3-0.4M415.2 231.5l0.8-0.6 0.6-0.4 1.1-0.4-0.8-0.4-0.4 0.6-1.2 0.6-0.3-0.2-0.3 0.6-0.3 0.6-0.4 1.3-1.3 0.9 0 1.5 1 1.2 0.4 1 0.5 0.7 0.1 0.4 0.4 0.6 1.1 0.2 0.6 0.6 0.5 0.1 0.5 0.4 0.4-1 1.4 0.3 0.7 1 0.6 0.6 1 1.1-0.3 0.4 0.4 1.5-0.4 0-1.2-0.9-0.4-0.3 0-1.4-0.2-0.8-0.3-0.5 0.4-1.4 0.6 0.5 1.2 0.1 0.8 0.4 0.4 0.3M415.2 231.5l0.9-0.5-0.4 0-0.7 0.9 0 1.1 1.2 0.7 0.9 0.7 0.3 1.7 0.5 1.4 0.3 0.7 0.8 1.4-1.1 1.2 1 1.2-1.2 1.2-0.6 0.3-1 0.4-1-0.6-0.3-0.2-0.6-1.3-0.2-0.9 0.4-0.8-0.9 1.1-0.5 0.7 0.5 1.3 0.5-0.9 1.2 0.1 0.2 0.8-0.8-0.3-1.1 0.1M415.2 231.5l0.2 0.9-1.1 0.6-1.2 0.7 0.7 0.5 1.6 0.6 0.2 0.7-0.1 0.6 0.2 0.7 0.4 0.9 0.5 1.3-0.2 0.4-1.5 0.7-0.1 0.5 0.6 1.1 1 1.3-0.7 1.1-0.3 0.3-0.1-0.6-0.8-0.2-0.6-1.2-1.3 0.5-0.3-0.1 0.5-0.5 0.8-0.1 0-1 0.5-0.5 0.6-0.2 1.2 0.5 0.3-0.4 0.6-0.6M415.2 231.5l1-0.3 0.9-0.9 0.2 0.8-0.8 1.3 0.9 0.9-0.3 1.2-0.6 1.1 0.6 1.7 0.2 1.4-0.6 1-0.6 1.1-0.8 0.3-1.2-0.8-0.3-0.6 0.5 0.6 0.1 1.6 0.4 0.5 1.5-0.4 1.1 0.4 0.3-0.3 0.9-0.8 0.3-1.3M415.2 231.5l1.2 0.3 0.7-0.6 0.4-0.4 1.3-0.5-0.3 0.6 0.6 0.4 0.2 0.6 0.7 0.1 0.3 0.6 1.5-0.6 0.8 0 1.5-0.5-0.3 1.1-0.5 0.1-0.5 0.6-0.3 0.7 0.6 0.7 0.6 0.8 0.5 0.5 1.2 0.1 1 1.4 1.2 0.5 1.2-0.8 1.3 0.2 0.4 0.1 1-0.4-0.7-0.6 0.5-1-1.1-0.7-1.2-0.3 0.7-0.4M415.2 231.5l-1 1.2 1 1.3-1.5 0.5-0.5 0.3-0.3 1.5 0.4 0.6 0.2-0.5-0.5-1.5-0.7 0.2-0.4 0.3-0.3 1.1 0.6 1-0.5 0.5-0.7 0.4-0.8 0.1-0.9-0.7M415.2 231.5l-0.3 0.9-0.5 0.2-0.1-0.3 0.6 0.4-0.8-0.8-0.4-0.4-1.2 0.3-0.9-0.4-1.2 0.8-0.7 0.9 0.2 1.4 0.2 0.8 1.2 0.2 0.5 0 1.1 0.1 1.2 0.1 0-0.2 1.3 0.1 1.4 0.1 1.2-0.8-0.8 1.2 1 0.6M415.2 231.5l-1.1 0.5-1.1-1.2-0.8-0.2-1.1 1.1-1.1 0.3 0.2 0.8 0 1.5-0.7 1.3-1.3-0.8-0.5 0.2-0.9-0.5-0.6-0.3 0-1 0.2-1.2 0.1-1.4-0.7-0.4-0.7 0.9-0.2 0.6-0.9 0.6-0.4 1.3 1.2 0.7 0.6 0.8 0.7 0.9 0.7-0.8 0.6-0.5 1-1.3 1.3 0.2M415.2 231.5l1.2-0.3 1.2-0.3 0.1-0.3 0-1-0.4 0.1-1.2 0.1-0.7 1.4 0.5 1.4M415.2 231.5l-0.7-0.3-0.3-0.4-0.4-0.1-0.4 1.3-1.1 0.9-0.1 1-0.3 1-1.6-0.1-0.6-1.1-0.3-0.6-1.1 0.9-0.6 1.1-0.1 1M415.2 231.5l-0.9 0.2 0.1 0.5-0.3 0.4 0.6-0.8-0.1-1.4-0.8 0.7-1.3 0.9-0.4 1.4 0.6 0.2 0.8 0-0.1-0.7-0.9 0.4-0.7 0-0.9 0.2-1.2-0.8 0.8-1 1-1.1 0.8-0.8-0.9 0.6-0.5 0.8 0.2 0.6-0.9 1.5-0.3 1.6 1 0.6-0.6 0.8-0.3 1.1 1.2 1 0.4 0.3 1.5 0 0.4-0.9 0.3-0.6M415.2 231.5l0.9 0.7 0.4 1.3 1.3 0.6 0.1 1.4 1.2-0.4 0.2 0.9-0.7 1.4 0.5 1.7 0.5 1.1 0.4 1.6 0.4 0.5 0.8-1.3 0.5 0.8 0.2 0.7-0.1-1.1 0.6-1 0.2-1-0.9 1.2-1.3 0.3-0.3-0.1-0.5 0-1.7 0.1-1.1-0.1-0.6 0.2-1 0.3-0.6-0.8-1.4-0.4-1.2-0.9-1 0.3-0.3-0.2-0.7-0.4-1.1-0.3-0.7-0.5M415.2 231.5l-0.5-1.4-0.7-0.4 0.4 0.1 0.9 0.7-0.6 1.2 0.4 0.1 0.4 0.1 0.4 0.7 0.7 1.1 1.1 1.1 0.4 0M415.2 231.5l1.1 0.2-0.6 0.5-1.3 0.7-0.4 1.4-0.2 1.3-0.1 1-0.8 1.3 0.5 0.7 0.6 0 0.8 0.4M415.2 231.5l1 1.5 0 1.7 0.7 1.1 0 1.6-0.2 1.8-0.7 0.3-0.6 0.1-0.6-0.2-0.4-1.2-0.2-1.1-1.2-0.9-0.3-0.8 0.1-0.6M415.2 231.5l-0.5 0.3-0.8 0.8-0.1 1.4-0.8 0.6 0.1 0.6 1.4 0.9 1.2 0.3 0.4-0.1 0.5-0.4-0.1-0.7 0.9-1.1 0.6-1.2 1.5-0.5 1.5 0.2 0.5 0.4 1.3-0.6 0.9 1.4-0.9-0.7-1.4 0.2-1-0.2-0.3 0.3-0.9 1.1-0.3 0.3-0.2 0.5-0.2 0.4 1.2 1-1.4 0.6 0.2-0.4-0.7-1-0.4 0.1 0.3 1.1 0.3 0.5-0.6 1.4-0.6 0.2-0.6-0.3 1.4-0.5 1.1-0.4-0.7-1 1.5 0.1" fill="none" stroke="#f5143c" stroke-width="0.28" stroke-linejoin="round" stroke-linecap="round"/><path d="M423.8 235.9l-0.9 0.5-0.8 0.2-0.8-0.4-0.2-0.3 0.1 0.2M416.8 234.9l0.8 0.4-0.1 0.2-0.8-0.1-0.3 0.1 0.6-0.4 0.9-0.3 0.6 0.3-0.5-0.3M413.4 234.1l-0.1-0.6-0.3-0.4-0.9 0-0.4 0M402.1 233.5l1 0.4 0.4-0.2 0.3-0.3 0.1-0.4 0.1 0.3M409.5 237.4l-0.7-0.3 0.2 0.6 0.5 0.6-0.9 0.6-0.9 0.7 0-0.3 0.2 0.6 0.4-0.2M407.1 234.3l-0.6 0.5-0.4-0.2-0.8-0.8-0.2-0.5M416.8 237.8l0.9 0.1 0.6-0.8 0.3 0.2 0.7 0.4-0.5 0.3-0.3 0.3M405.8 233.3l-0.3-0.2-0.3 0.8-0.4 0.6 0.5-0.2 1 0 0.6 0.2M416.3 233.4l-0.2-0.8-0.5-0.4 0.6 0.4-0.4 0.7M415.7 243.8l0.3 0.8-0.5-0.6 0.1 0.4 0.7-0.3 0.7 0.7-0.4 0.9 0.1 0.4 1 0.2M411 237.2l0.5 0.4 0.1 1.1 0.8 0.6-0.4-0.8-0.3-0.8 0.9 0.1-0.6-0.3M414.7 240.3l0.2 0.2 0.2 0.5-1 0.2 0.2 0.4 0.4 0.4-0.6-0.2 0.8 0.6M412.5 240.7l0.1 0.2 0.4 0.4 1 0.2 0.5-0.6M418.2 246.1l0.5 0.1 0.2-1 0.9 0.4-1-0.1-0.7-0.5 0-0.8 0.6 0.6 0.4 0M417.7 232.4l-0.4-0.8 0.5-0.3 0.6-0.5 0.3-0.9 0.4-0.2 0.5 0.4 0.2-0.3-0.1 0.4M421.2 235.5l-0.8 0-0.4-0.1-0.1-1-0.7-0.7-0.5-0.1-0.3 0.5 0.5 0.3 0.3 0.7M411.2 240.7l0.6-0.2-0.8 0.1-0.1 0.6 0.1 0.8M422.7 239.1l-0.8-0.2-0.8-0.4 0.5 0.6 0.2 0 0.2 0.3 0.2 0.5M418.3 233.5l-0.3 0.8 0.5 0.4-0.2-0.8 0.4-0.1M421.6 237l0.4 0.3 0.2-0.7-0.5 0.1 0-0.3 0.5-0.4-0.6 0.3M415.4 238.5l-0.4 0.6-0.5 0-0.4 0.4-0.9-0.1M419.6 246l-0.7 0.2-0.7-0.4-0.2 0.2 0-0.6 0.4-0.5 0.6-0.9M410.9 243.9l-0.4 0.1 0.3-0.1 0-0.9-1-0.2-0.7-0.2 1-0.1-0.1-0.9-0.1-0.3M417.2 233.5l0.8-0.4 0.4-0.6 0.4-1 0.2 0.2-0.2 0.6 0.4-0.1 1 0.4M416.5 235.3l0.7 0.1-0.1-0.4-0.2-0.1 0.4-0.7 0.9-0.7 0.6-0.6 0.6 0M415.3 233.6l0.1 0.3 0.4-0.8 0.9-0.2-0.3-0.4-0.2 0.2-0.4 0.4-0.1-0.6 0.2 1M407.4 236.9l-0.7-0.1-0.2-0.7 0.5-0.8 0-0.6 0.2 0M412.7 239.8l-0.8-0.6 0-0.6-0.6-0.7 0.9-0.7 0 0.5 0.7 0.2M422.7 236.2l-0.8 0.4-0.4 0.4 0.8-0.3 0.9 0.4 0.6 0.1 1-0.2-0.6-0.2-0.6 0.1M411.9 233.3l-0.3 0.7-0.1 1.1 0.5 0 0.5 0-0.5 0.4M422.9 240.7l-0.1 1.2-0.3-0.6-0.5 0.3-0.2 0.1M413.5 243l-0.9 0.4-0.4-0.4-0.3-0.4-0.7 0.1M416.8 240l0.5 0.6 0.8-0.7 0-0.4-0.1-0.4-0.7 0 0.4 0.2 0.8-0.1 0.1 0.3M418.9 240l-0.3-0.3 0.4-0.5 0.7-0.5-0.6 0.4M429.7 234.1l-0.6 0.5-0.2 0.8-0.5 0.7 0.7 0.1-0.7-0.3-0.6 0.2 0-0.6M409.3 237.8l0.7-0.2 0.5 0.3-0.5-1 0.6-0.6 0.5-0.2 0.4 0.1M418.2 236.7l-0.3-1 0.6-0.1 0 0.6 1-0.1 0.4-0.3-0.3 0.1M409.7 233.6l0.2 0.9 0.6 0.6-1.1 0.1 0 0.2M415.9 232.6l0.7 0.5 0.4-0.2-0.6 0.3-0.2 0.8 0.9 0.4M407.6 236.1l0.7-0.8-0.5-0.2 0-1-0.3 0.1-0.2-0.1 0.6-0.1M413.8 237.2l-1 0.2 0-0.8 0.9-0.4 0.9 0 0.3-0.2-0.7-0.2-0.1-0.3M408.2 238.1l-0.3 0.4-0.5 0.6-0.3 0 1.1 0.3M418.1 234.8l-0.3 0.1-0.7-0.3 1 0.1 0.8-0.7 0.4-0.1 0.2-0.2 0.3 0M414.8 239l-0.5 0.3-0.6-0.4-0.1 1.1 0.7 0.6 0.4 0.3 0.5 0.1 0.4 0.5M412.8 234.8l0.1 0.5 0.6-0.1 0.4 0.7 0 0.9 0.4 0.4M419.5 237.1l-0.2 0.4-0.2 1 0.2-0.7 0 1.1 0.6 0.6-1 0.3-1.1 0.2-1-0.2" fill="none" stroke="#f5143c" stroke-width="0.53" stroke-linejoin="round" stroke-linecap="round"/><path d="M423.8 235.9h0M416.8 234.9h0M413.4 234.1h0M402.1 233.5h0M409.5 237.4h0M407.1 234.3h0M416.8 237.8h0M405.8 233.3h0M416.3 233.4h0M415.7 243.8h0M411 237.2h0M414.7 240.3h0M412.5 240.7h0M418.2 246.1h0M417.7 232.4h0M421.2 235.5h0M411.2 240.7h0M422.7 239.1h0M418.3 233.5h0M421.6 237h0M415.4 238.5h0M419.6 246h0M410.9 243.9h0M417.2 233.5h0M416.5 235.3h0M415.3 233.6h0M407.4 236.9h0M412.7 239.8h0M422.7 236.2h0M411.9 233.3h0M422.9 240.7h0M413.5 243h0M416.8 240h0M418.9 240h0M429.7 234.1h0M409.3 237.8h0M418.2 236.7h0M409.7 233.6h0M415.9 232.6h0M407.6 236.1h0M413.8 237.2h0M408.2 238.1h0M418.1 234.8h0M414.8 239h0M412.8 234.8h0M419.5 237.1h0M415.5 233.2h0M415.2 233.4h0M418.5 233h0M412.4 232.4h0M415.8 236.5h0M412.6 232.3h0M414.8 233.6h0M416.1 234.6h0M412 232.2h0M413.7 233.8h0M418.2 233.5h0M411.4 232.3h0M411.8 232.8h0M411.2 234.1h0M415.6 236.7h0M417.1 235.7h0M417.6 233.2h0M413.6 234.8h0M415.9 234.4h0M411.3 232.3h0M412.3 233.3h0M414.1 235.7h0M414.4 234.7h0M412.3 233.7h0M411.7 234h0" fill="none" stroke="#f5143c" stroke-width="1.4" stroke-linecap="round"/><path d="M415.2 231.5l-0.4-0.3 0-0.2-1-0.1-0.3 0.1 0 1.1 0.9 0.2 0.6 0.3 0.5 0.6M415.2 231.5l-0.2-0.2 0.3 0 0.9 0.1-0.5 0.6 0 1.2-0.5 0.2M415.2 231.5l-0.2-0.4 0.3-0.6 0.4-0.9 0.2 0.4 0.7 0.6 0.5 1.2 0.4 0.3 0.1 0.8 0.9 0.1M415.2 231.5l-0.8 0.6 0.1 1 0.1-0.2-0.6-0.3 0.5-0.6-1 0 0.3-0.5-0.2-0.3-0.6 0.4-0.6 0.8M415.2 231.5l0.4 1.1 0.9 0.3 0.4 0.2 0.6 0.3 0.3 0.3-0.1 0.5-0.3 0.4-0.3 0.8-0.7 0.6-0.6 0.5M415.2 231.5l-0.3 0.1-0.2 0.6-1.2 0.2-0.3-0.2-0.6 0.1M415.2 231.5l-1 0.4-0.7 0.4-0.6-0.7-0.2-0.4 0-0.5 0.2-0.3 0.7 0.7 0 0.7 0.1 0.7 0.3 0.2 0.2 0.5 0.6 0.4M415.2 231.5l-0.5-0.9-0.1 0.4 0.2 0.6-0.4 1 0 0.6 0.4 0.6 1 0.9 0.3-0.1M415.2 231.5l-0.3-0.2-0.4-0.2-0.9-0.7 0.1 0.5-0.6 0.6-0.1 0.7-0.1 0.4-0.5 0.4-0.4-0.8M415.2 231.5l-0.7 0.1-1.1 0-0.3 1.1-0.4 0.5 0.2 0.2 0.7 0.7 0.1-0.3M415.2 231.5l0.8 0.1 0.1-0.3-0.4-0.7 0.6 0.1 0.9 0 0.4-1 0.2 0.7 0.3 0.9 0.1 1.1-0.1 0.4 0.1 0.7M415.2 231.5l-0.7 0.1-0.3 0-0.3-0.7-1.1-0.6-1 0.8-0.4 1.2M415.2 231.5l-0.5 0.8-0.7 0 0.5-0.6 0.6-0.9-0.5 0.1-0.5 0.4-0.8 0.2-0.1 0.6-0.7 0.8-0.7-0.1M415.2 231.5l-0.4-0.3 0.2-0.1-0.5-0.2-0.1 0.4-0.6 0.2-0.8 1-0.6 1 0.4 0.9-0.6-0.3-0.7-0.5-0.3 0.5M415.2 231.5l-0.2 1.1 0.4 0.7 0.5 0.5 0.4 0.2 0.2 0.6 0.5 0.5 0 0.4-0.2 0.3-1.1 0.3-0.1 0.6M415.2 231.5l-0.1 0.8-0.5 0.3-0.2 1 0.1 0.9-0.1 0.5 0.5 0.2 0.7-0.3 0.6 0 0.9 0.8M415.2 231.5l0 1.3-0.1 0.5 0.5 1.1-0.4-0.5 0.8-0.9 0.5-0.5 0.5 0.1 0.3 0.4 0.3 0.2M415.2 231.5l-0.5 0.8-0.2 0.5-0.6 0.2-0.2 1-0.1 0.8M415.2 231.5l-0.7 1 0.2 1.2 0.8 1 0.8-0.2 1.2-0.3 0.2 0.9 1 0.8-0.3 0.1-0.4-0.5-0.9 0.1-0.7-0.7-0.5-0.5M415.2 231.5l-0.6-0.5-0.8 0-0.9-0.5-1.1 0.1 0.1 1.4-0.7 0.3-0.4 0.3-1 0.6 0.3-1 0.8-0.3 0.4 0.4M415.2 231.5l-0.3 0.4-0.8 1.1-0.9 0.6-1.2 0.1 0.3-0.4M415.2 231.5l-0.2 0.7-0.4 1.1-0.5 0.9-0.2 0.3 0.1 0.5 0.1 0.7M415.2 231.5l-0.1 0.7-0.5 1.1-1 0.2-0.3 0.3 0.2 1 0.9-0.1M415.2 231.5l-0.9-0.4-0.9 0.4-0.5 0.7-0.5 0.9-0.1 0.6M415.2 231.5l-1.1-0.2-0.1 0.3-0.6 0.3-0.3 1.1-0.3 0.8-0.9 0.7-0.2-0.5" fill="none" stroke="#f5143c" stroke-width="0.5" stroke-linejoin="round" stroke-linecap="round"/><path d="M415.5 233.2l-0.4-0.9 0.6-0.6-0.1-0.4 0.6-0.7-0.5-1M415.2 233.4l-0.6-0.3 0.9 0.3 0.2-0.3-0.3 0.5-0.4 0.1M418.5 233l0.3-0.2 0.3 0-0.7-0.8-0.5 0.5-0.2-0.1-0.5-0.5M412.4 232.4l-0.4-0.8-0.1-0.3-0.3 0.1-0.2-0.4 0.1-0.8 0.5-0.5M415.8 236.5l-0.7-0.7 0.5 0.9 0.4 0 0.2 0.4-0.2 0.6 0.5 0.8 0.6 0.5M412.6 232.3l-0.8-0.4 0.2-0.2 0.2-0.9-0.5-0.4 0.8-0.3M414.8 233.6l0.1 0.4-0.3 0.4 0.1 1 0.6 0.4 0.1 0.7 0.9 0.4-0.5 0.6-0.4 0.2M416.1 234.6l-0.3-0.1-0.1 0.2 0.4 0.1-0.6 0.4-0.9 0.2-0.6 0.4M412 232.2l-0.2 0.3 0.8-0.3 0.5 0.4 0.2-0.1M413.7 233.8l0.8 0-0.9-0.4-0.6 0.2-0.7 0.5 0.6-0.1 0.2-0.9-0.8-0.4M418.2 233.5l0.8 0.8 0.5 0.3 0.2 1-0.8-0.7-0.4-0.5M411.4 232.3l0.6-1 0-0.7 0.5-0.3 0.9 0.6-0.1 0.5-0.2 1M411.8 232.8l-0.2-0.7-0.5-0.7 0.2-0.3-0.2-0.3-0.4-0.1 0-0.3M411.2 234.1l0.2-0.1-0.4 0.4-0.8-0.4 0.9-0.4-0.2-0.2-0.3-1-0.3-0.5M415.6 236.7l0.5 0 0.2 0.1-0.5 1 0.4-0.1 0.5 0 0.6 0.5M417.1 235.7l0.2 0.4-0.1 0.3-0.5 0.4-0.4 0.3-0.2-0.3M417.6 233.2l-0.1-0.2 0.6-0.3-0.6-0.8 0.9-0.2M413.6 234.8l0-0.4-0.8-0.2 0.6-0.9 0.3 0.2 0 1-0.3 0.1 0.6-0.3-0.2-0.7M415.9 234.4l-0.2 0.1-0.5-0.5-0.4 0.7 0.5-0.7 0-1M411.3 232.3l0.3 0 0.1 0.8-0.8 0.2-0.3-0.8M412.3 233.3l0.3-0.7 0.6 0 0.9-0.4 0.5 0.2M414.1 235.7l-0.4 0.9 0 0.5-0.1 0.7 0.1 0.4 0.7 0.5 0.5 0.1M414.4 234.7l-0.2 0.5-0.1-1.1-0.1-0.7 0.5-0.4 0.6-0.5 1-0.3M412.3 233.7l0.1 0.8-0.9 0.2-0.3 0.3-0.5 0.6-1.1 0.2 0.5 0.7-0.3-0.3-0.3 0.3M411.7 234l-1 0.4 0.8-0.1-0.2-0.5 0.3-0.7 0.4 0 0.7 0.5 0.8-0.1" fill="none" stroke="#f5143c" stroke-width="0.75" stroke-linejoin="round" stroke-linecap="round"/></g>
<polygon points="415.25,227.85 416.16,230.29 418.77,230.41 416.73,232.03 417.42,234.54 415.25,233.10 413.08,234.54 413.77,232.03 411.73,230.41 414.34,230.29" fill="#ffee10" stroke="#e8c800" stroke-width="0.3"/>
<text x="464.9" y="190.2" font-size="11" text-anchor="end" fill="#111" stroke="#111" stroke-width="0.35">63</text>
<text x="464.9" y="280.8" font-size="11" text-anchor="end" fill="#f5143c" stroke="#f5143c" stroke-width="0.3">72</text>
<text x="77.9" y="300.2" font-size="12.8" text-anchor="middle" fill="#111" stroke="#111" stroke-width="0.3">Q1</text>
<text x="190.9" y="300.7" font-size="12.8" text-anchor="middle" fill="#111" stroke="#111" stroke-width="0.3">Q2</text>
<text x="302.9" y="301.5" font-size="12.8" text-anchor="middle" fill="#111" stroke="#111" stroke-width="0.3">Q3</text>
<text x="415.9" y="302.1" font-size="12.8" text-anchor="middle" fill="#111" stroke="#111" stroke-width="0.3">Q4</text>
<path d="M34.3,114.3 V132.45 H52.4" stroke="#0a0a0a" stroke-width="2.3" fill="none" stroke-linecap="butt"/>
<text x="36.9" y="127.0" font-size="10" fill="#111" stroke="#111" stroke-width="0.45" textLength="28" lengthAdjust="spacingAndGlyphs">50 µm</text>
<text x="495.2" y="24.5" font-size="14" fill="#111" stroke="#111" stroke-width="0.25" textLength="114" lengthAdjust="spacingAndGlyphs">Chemotactic Index</text>
<text y="24.3" font-size="12.8" fill="#111" stroke="#111" stroke-width="0.25"><tspan x="645.6" textLength="36" lengthAdjust="spacingAndGlyphs">Speed</tspan> <tspan x="688.2" textLength="57.6" lengthAdjust="spacingAndGlyphs">(µm/min)</tspan></text>
<path d="M492.5,44.6 V126.7 H615" stroke="#111" stroke-width="1.4" fill="none" stroke-linejoin="miter"/>
<path d="M488.7,45.3 H492.5" stroke="#111" stroke-width="1.1"/>
<text x="488.7" y="47.9" font-size="8.6" text-anchor="end" fill="#222" stroke="#222" stroke-width="0.15">1.0</text>
<path d="M488.7,65.7 H492.5" stroke="#111" stroke-width="1.1"/>
<text x="488.7" y="68.30000000000001" font-size="8.6" text-anchor="end" fill="#222" stroke="#222" stroke-width="0.15">0.5</text>
<path d="M488.7,86.0 H492.5" stroke="#111" stroke-width="1.1"/>
<text x="488.7" y="88.60000000000001" font-size="8.6" text-anchor="end" fill="#222" stroke="#222" stroke-width="0.15">0.0</text>
<path d="M488.7,106.39999999999999 H492.5" stroke="#111" stroke-width="1.1"/>
<text x="488.7" y="109.0" font-size="8.6" text-anchor="end" fill="#222" stroke="#222" stroke-width="0.15">-0.5</text>
<path d="M488.7,126.8 H492.5" stroke="#111" stroke-width="1.1"/>
<text x="488.7" y="129.4" font-size="8.6" text-anchor="end" fill="#222" stroke="#222" stroke-width="0.15">-1.0</text>
<path d="M507.3,126.5 v3.2" stroke="#111" stroke-width="1.1"/>
<text x="507.6" y="138.5" font-size="9.2" text-anchor="middle" fill="#222" stroke="#222" stroke-width="0.15" letter-spacing="0.7">Q1</text>
<path d="M538,126.5 v3.2" stroke="#111" stroke-width="1.1"/>
<text x="538.3" y="138.5" font-size="9.2" text-anchor="middle" fill="#222" stroke="#222" stroke-width="0.15" letter-spacing="0.7">Q2</text>
<path d="M568.8,126.5 v3.2" stroke="#111" stroke-width="1.1"/>
<text x="569.0999999999999" y="138.5" font-size="9.2" text-anchor="middle" fill="#222" stroke="#222" stroke-width="0.15" letter-spacing="0.7">Q3</text>
<path d="M599.5,126.5 v3.2" stroke="#111" stroke-width="1.1"/>
<text x="599.8" y="138.5" font-size="9.2" text-anchor="middle" fill="#222" stroke="#222" stroke-width="0.15" letter-spacing="0.7">Q4</text>
<path d="M493.5,85.7 H615" stroke="#b5b5b5" stroke-width="0.9" stroke-dasharray="1.2,1.2"/>
<path d="M507.1 72.5h0M505.8 74.6h0M508.7 74.8h0M503.3 76.3h0M505.8 76.6h0M508.6 76.6h0M511.3 76.2h0M504.9 78.5h0M507.4 79.4h0M510 78.6h0M499.5 80h0M502.2 80.3h0M504.5 81.1h0M507.2 81.5h0M509.8 81.2h0M512.5 80.4h0M515.2 80.3h0M497.3 81.6h0M499.6 82.4h0M501.7 82.5h0M503.8 82.9h0M506.2 83.2h0M508.3 83.6h0M510.5 82.9h0M512.9 82.8h0M515.1 82.1h0M517.2 81.8h0M502.3 85.1h0M504.6 85.3h0M507.2 85.7h0M510 85.5h0M512.6 85.1h0M497.2 85.9h0M499.5 86.5h0M501.9 86.9h0M503.9 87.7h0M506.4 87.6h0M508.3 88.1h0M510.8 87.5h0M512.7 87.1h0M515.2 86.4h0M517.1 86.1h0M504.8 89.9h0M507.3 90.3h0M510 89.6h0M503.5 91.6h0M505.9 92h0M508.7 92.2h0M511.3 92h0M502.3 93.4h0M504.7 94.2h0M507.3 94.4h0M510 94.1h0M512.3 93.7h0M505.9 96.7h0M508.6 96.6h0M504.5 98.7h0M507.2 99.2h0M510 98.5h0M507.5 103.6h0" fill="none" stroke="#1c1c1c" stroke-width="1.4" stroke-linecap="round"/>
<rect x="497.0" y="82.9" width="20.6" height="3.2" fill="#f91020"/>
<path d="M537.9 67.9h0M535.3 69.9h0M538.1 70.2h0M540.7 69.8h0M535.6 72.4h0M538.2 72.7h0M540.5 72.2h0M532.8 73.8h0M535.4 74.1h0M538.1 74.8h0M540.5 74.1h0M543.3 74.1h0M535.4 76.3h0M537.9 77.2h0M540.6 76.3h0M534 78.2h0M536.7 79.1h0M539.2 78.7h0M541.9 78.7h0M530.4 79.8h0M532.6 80.7h0M535.4 80.9h0M538 81.5h0M540.6 80.8h0M543.3 80.4h0M546 79.9h0M534 83.2h0M536.7 83.2h0M539.3 83.5h0M541.8 82.9h0M531.5 84.8h0M534.1 84.9h0M536.8 85.7h0M539.5 85.6h0M541.8 85.4h0M544.5 84.7h0M531.7 86.8h0M534 87.4h0M536.9 87.7h0M539.5 87.6h0M542 87h0M544.6 86.9h0M534.2 89.7h0M536.7 89.7h0M539.1 89.7h0M542.1 89.4h0M533 91.4h0M535.5 91.9h0M538.2 92.4h0M540.7 91.9h0M543.1 91.3h0M536.7 94.4h0M539.2 94.1h0M535.5 96.3h0M538.1 96.6h0M540.8 96.6h0M537.8 99.1h0M536.8 100.8h0M539.2 101.2h0M538.2 103.5h0" fill="none" stroke="#1c1c1c" stroke-width="1.4" stroke-linecap="round"/>
<rect x="527.7" y="82.9" width="20.6" height="3.2" fill="#f91020"/>
<path d="M568.8 70.7h0M566.3 74.5h0M568.7 74.8h0M571.4 74.5h0M563.8 75.8h0M566.2 76.6h0M568.7 76.7h0M571.4 76.6h0M574.1 75.8h0M563.5 78h0M566 78.5h0M568.8 78.9h0M571.4 78.5h0M573.8 78.4h0M558.8 79.7h0M560.6 80.1h0M563 80.4h0M564.9 80.8h0M566.8 80.8h0M568.7 81.4h0M570.8 81.1h0M572.8 80.5h0M574.7 80.2h0M576.9 79.9h0M578.9 79.8h0M564.8 82.8h0M567.5 83.1h0M570.2 83.6h0M572.6 82.6h0M558.7 84h0M560.4 84.3h0M562.4 84.8h0M564.3 84.7h0M566.1 85.4h0M567.8 85.8h0M569.7 85.6h0M571.6 85.5h0M573.5 84.8h0M575.3 84.7h0M577.1 84.1h0M578.7 83.9h0M563.7 86.8h0M566.3 87.4h0M568.7 87.9h0M571.2 87.4h0M574.2 86.8h0M565 89.6h0M567.4 89.8h0M570.1 89.7h0M572.6 89.5h0M563.7 91.6h0M566.2 91.8h0M568.8 92.4h0M571.3 92h0M574.2 91.4h0M563.6 93.8h0M566.2 94.3h0M568.7 94.5h0M571.3 93.9h0M574 93.7h0M568.6 97h0M569 99.2h0" fill="none" stroke="#1c1c1c" stroke-width="1.4" stroke-linecap="round"/>
<rect x="558.5" y="82.7" width="20.6" height="3.2" fill="#f91020"/>
<path d="M599.7 64h0M599.5 65.8h0M599.4 72.8h0M595.5 73.9h0M598.1 74.3h0M600.9 74.3h0M603.3 74.2h0M594.3 75.8h0M597.1 76.8h0M599.6 76.9h0M602.2 76.3h0M604.7 76.1h0M589.6 77.6h0M591.5 77.8h0M594 78h0M596.2 78.3h0M598.3 79h0M600.5 79.3h0M602.8 78.5h0M605 78.1h0M607.2 77.6h0M609.7 77.2h0M589.4 79.5h0M591.7 80.1h0M594.1 80.5h0M596 80.8h0M598.4 81h0M600.7 80.9h0M602.9 80.7h0M605 80.6h0M607.4 80.3h0M609.5 79.5h0M591.6 82.2h0M594.3 82.8h0M597.1 82.9h0M599.3 83.8h0M602.1 83.4h0M604.7 82.4h0M607.4 82.3h0M589.4 83.9h0M591.5 84.5h0M594.1 84.6h0M596.2 85.4h0M598.5 85.7h0M600.7 85.6h0M602.8 85.5h0M605.1 85h0M607.2 84.3h0M609.4 84.3h0M594.4 86.8h0M596.8 87.3h0M599.5 88h0M602 87.5h0M604.6 87.1h0M595.8 89.5h0M598.3 90.2h0M600.8 90.2h0M603.5 89.5h0M599.6 94.6h0" fill="none" stroke="#1c1c1c" stroke-width="1.4" stroke-linecap="round"/>
<rect x="589.2" y="81.3" width="20.6" height="3.2" fill="#f91020"/>
<path d="M635,44.6 V126.7 H758.5" stroke="#111" stroke-width="1.4" fill="none" stroke-linejoin="miter"/>
<path d="M631.2,45.3 H635" stroke="#111" stroke-width="1.1"/>
<text x="631.2" y="47.9" font-size="8.6" text-anchor="end" fill="#222" stroke="#222" stroke-width="0.15">6</text>
<path d="M631.2,72.5 H635" stroke="#111" stroke-width="1.1"/>
<text x="631.2" y="75.10000000000001" font-size="8.6" text-anchor="end" fill="#222" stroke="#222" stroke-width="0.15">4</text>
<path d="M631.2,99.6 H635" stroke="#111" stroke-width="1.1"/>
<text x="631.2" y="102.2" font-size="8.6" text-anchor="end" fill="#222" stroke="#222" stroke-width="0.15">2</text>
<path d="M631.2,126.8 H635" stroke="#111" stroke-width="1.1"/>
<text x="631.2" y="129.4" font-size="8.6" text-anchor="end" fill="#222" stroke="#222" stroke-width="0.15">0</text>
<path d="M650.4,126.5 v3.2" stroke="#111" stroke-width="1.1"/>
<text x="650.6999999999999" y="138.5" font-size="9.2" text-anchor="middle" fill="#222" stroke="#222" stroke-width="0.15" letter-spacing="0.7">Q1</text>
<path d="M681.5,126.5 v3.2" stroke="#111" stroke-width="1.1"/>
<text x="681.8" y="138.5" font-size="9.2" text-anchor="middle" fill="#222" stroke="#222" stroke-width="0.15" letter-spacing="0.7">Q2</text>
<path d="M712,126.5 v3.2" stroke="#111" stroke-width="1.1"/>
<text x="712.3" y="138.5" font-size="9.2" text-anchor="middle" fill="#222" stroke="#222" stroke-width="0.15" letter-spacing="0.7">Q3</text>
<path d="M742.4,126.5 v3.2" stroke="#111" stroke-width="1.1"/>
<text x="742.6999999999999" y="138.5" font-size="9.2" text-anchor="middle" fill="#222" stroke="#222" stroke-width="0.15" letter-spacing="0.7">Q4</text>
<path d="M649.2 111.7h0M651.7 111.7h0M650.3 114.4h0M642.7 114.8h0M645 115.6h0M647.6 116.2h0M650.5 116.6h0M653.2 116.4h0M655.8 115.7h0M658.1 114.8h0M642.5 117.3h0M645.1 117.5h0M647.9 118.3h0M650.4 118.6h0M653.2 118.4h0M655.4 117.9h0M658.1 117.4h0M640.3 119.3h0M642.7 119.6h0M644.8 119.8h0M647 120.2h0M649.2 120.6h0M651.6 120.5h0M653.7 120.6h0M655.8 119.8h0M658.1 119.5h0M660.4 118.8h0M640.5 121.2h0M641.1 121.2h0M641.9 121.7h0M642.3 121.4h0M643.2 121.8h0M643.5 121.7h0M644.5 122h0M645.3 122h0M645.6 122.3h0M646.3 122.5h0M647.1 122.4h0M647.8 122.9h0M648.5 123h0M649 122.8h0M649.8 122.9h0M650.4 123.1h0M651.2 122.9h0M651.6 123.2h0M652.3 122.7h0M653.1 122.7h0M653.9 122.6h0M654.2 122.5h0M655.2 122.1h0M655.8 122.1h0M656.2 122.1h0M657 121.6h0M657.6 121.8h0M658.3 121.8h0M659.1 121.5h0M659.9 121.6h0M660.4 121h0M646.5 124.9h0M649.2 125.3h0M651.7 125.4h0M654.5 124.5h0" fill="none" stroke="#1c1c1c" stroke-width="1.4" stroke-linecap="round"/>
<rect x="640.1" y="119.6" width="20.6" height="3.4" fill="#f91020"/>
<path d="M681.6 98.8h0M680.1 107.8h0M682.9 107.5h0M681.6 110.1h0M680.2 111.9h0M683 112.1h0M676.3 113.2h0M678.7 114.1h0M681.3 114.3h0M684.2 113.7h0M686.7 113.6h0M671.5 114.8h0M674.1 115.3h0M676.7 115.5h0M679 116.3h0M681.5 116.8h0M684.1 116h0M686.5 115.5h0M689.1 115.3h0M691.6 114.7h0M671.6 116.7h0M673.8 117.4h0M676.1 117.9h0M678.1 118.3h0M680.3 118.7h0M682.8 118.6h0M684.8 118.2h0M687.1 117.5h0M689.2 117.4h0M691.6 116.7h0M678.7 120.4h0M681.5 121.1h0M684 120.3h0M671.6 121.2h0M672.2 121.5h0M673.4 121.8h0M674 121.5h0M674.7 121.9h0M675.7 122.3h0M676.5 122.3h0M677.2 122.1h0M678.1 122.4h0M679.1 122.6h0M679.7 122.7h0M680.8 123.2h0M681.4 123.4h0M682.3 123h0M683 122.7h0M684 122.9h0M684.7 122.8h0M685.8 122.2h0M686.4 122.5h0M687.3 121.9h0M688.1 121.9h0M688.9 121.5h0M689.9 121.8h0M690.7 121.5h0M691.7 121.3h0M678.8 125.1h0M681.6 125.7h0M684.2 124.8h0" fill="none" stroke="#1c1c1c" stroke-width="1.4" stroke-linecap="round"/>
<rect x="671.2" y="118.7" width="20.6" height="3.4" fill="#f91020"/>
<path d="M712.2 107.8h0M710.7 112.1h0M713.1 112h0M709.4 114.1h0M712 114.4h0M714.5 113.8h0M704.2 115h0M707 115.4h0M709.4 116.1h0M712 116.5h0M714.8 116.3h0M717.2 115.5h0M719.8 114.9h0M702 116.7h0M703.7 117.3h0M705.6 117.7h0M707.6 117.8h0M709.4 118.4h0M711.1 118.5h0M713.1 118.7h0M714.8 118.3h0M716.6 117.6h0M718.4 117.3h0M720.1 117.2h0M722.1 117h0M708 119.9h0M710.7 120.9h0M713.4 120.5h0M715.9 120h0M701.9 121.1h0M702.7 121.2h0M703.4 121.4h0M704.4 121.9h0M705 122h0M705.9 122h0M706.5 122.2h0M707.4 122.2h0M708.3 122.3h0M708.7 122.3h0M709.5 122.8h0M710.3 122.9h0M711 122.8h0M711.9 123.3h0M712.7 122.8h0M713.5 122.9h0M714.2 122.8h0M715.1 122.5h0M715.7 122.6h0M716.5 122.3h0M717.3 122.4h0M718.1 122.2h0M718.8 121.8h0M719.6 121.7h0M720.5 121.3h0M721.4 121.5h0M722.1 121.1h0M705.6 124.4h0M708.1 124.9h0M710.8 125.2h0M713.2 124.9h0M715.9 124.7h0M718.6 124.3h0" fill="none" stroke="#1c1c1c" stroke-width="1.4" stroke-linecap="round"/>
<rect x="701.7" y="119.1" width="20.6" height="3.4" fill="#f91020"/>
<path d="M742.2 112.1h0M742.2 114.6h0M741.1 116.5h0M743.8 116.6h0M732.5 116.6h0M734.3 117.3h0M736.2 117.3h0M738.2 117.8h0M740.3 118.7h0M742.6 118.6h0M744.6 118.2h0M746.2 118h0M748.5 117.6h0M750.4 117.5h0M752.5 116.5h0M732.4 119h0M733.4 118.9h0M734.7 119.7h0M735.7 119.5h0M737.3 119.9h0M738.3 120.2h0M739.6 120.5h0M740.6 120.4h0M742 120.8h0M743 120.8h0M744 120.4h0M745.4 120.5h0M746.4 120.3h0M747.6 120h0M749 119.7h0M750 119.7h0M751.2 119.2h0M752.3 119.1h0M732.3 121h0M733.8 121.2h0M735.2 121.6h0M736.5 122.2h0M738.1 122.5h0M739.5 122.7h0M741.1 123h0M742.3 123h0M744 123h0M745.4 122.6h0M746.5 122.3h0M748.1 121.8h0M749.4 121.7h0M751 121.5h0M752.2 121h0M732.3 123.5h0M734.3 124.1h0M736.5 124.4h0M738.3 124.6h0M740.5 124.9h0M742.5 125.5h0M744.3 125.2h0M746.5 124.5h0M748.6 124.1h0M750.2 123.8h0M752.2 123.4h0" fill="none" stroke="#1c1c1c" stroke-width="1.4" stroke-linecap="round"/>
<rect x="732.1" y="120.7" width="20.6" height="3.4" fill="#f91020"/>
<path d="M492.5,188.5 V270.5 H615" stroke="#111" stroke-width="1.4" fill="none" stroke-linejoin="miter"/>
<path d="M488.7,189.20000000000002 H492.5" stroke="#111" stroke-width="1.1"/>
<text x="488.7" y="191.8" font-size="8.6" text-anchor="end" fill="#222" stroke="#222" stroke-width="0.15">1.0</text>
<path d="M488.7,209.55 H492.5" stroke="#111" stroke-width="1.1"/>
<text x="488.7" y="212.15" font-size="8.6" text-anchor="end" fill="#222" stroke="#222" stroke-width="0.15">0.5</text>
<path d="M488.7,229.9 H492.5" stroke="#111" stroke-width="1.1"/>
<text x="488.7" y="232.5" font-size="8.6" text-anchor="end" fill="#222" stroke="#222" stroke-width="0.15">0.0</text>
<path d="M488.7,250.25 H492.5" stroke="#111" stroke-width="1.1"/>
<text x="488.7" y="252.85" font-size="8.6" text-anchor="end" fill="#222" stroke="#222" stroke-width="0.15">-0.5</text>
<path d="M488.7,270.6 H492.5" stroke="#111" stroke-width="1.1"/>
<text x="488.7" y="273.2" font-size="8.6" text-anchor="end" fill="#222" stroke="#222" stroke-width="0.15">-1.0</text>
<path d="M507.3,270.3 v3.2" stroke="#111" stroke-width="1.1"/>
<text x="507.6" y="282.3" font-size="9.2" text-anchor="middle" fill="#222" stroke="#222" stroke-width="0.15" letter-spacing="0.7">Q1</text>
<path d="M538,270.3 v3.2" stroke="#111" stroke-width="1.1"/>
<text x="538.3" y="282.3" font-size="9.2" text-anchor="middle" fill="#222" stroke="#222" stroke-width="0.15" letter-spacing="0.7">Q2</text>
<path d="M568.8,270.3 v3.2" stroke="#111" stroke-width="1.1"/>
<text x="569.0999999999999" y="282.3" font-size="9.2" text-anchor="middle" fill="#222" stroke="#222" stroke-width="0.15" letter-spacing="0.7">Q3</text>
<path d="M599.5,270.3 v3.2" stroke="#111" stroke-width="1.1"/>
<text x="599.8" y="282.3" font-size="9.2" text-anchor="middle" fill="#222" stroke="#222" stroke-width="0.15" letter-spacing="0.7">Q4</text>
<path d="M493.5,229.6 H615" stroke="#b5b5b5" stroke-width="0.9" stroke-dasharray="1.2,1.2"/>
<path d="M507.2 220.1h0M507.2 222.4h0M503.2 224.2h0M506.1 224.8h0M508.6 224.4h0M511.6 224h0M497.2 225.5h0M497.9 225.8h0M498.6 225.6h0M499.3 226h0M499.9 226h0M500.5 226.1h0M501 226.3h0M502 226.3h0M502.3 226.4h0M503.2 226.8h0M503.7 226.8h0M504.5 226.9h0M504.9 227.3h0M505.5 227h0M506.4 227.2h0M507 227.5h0M507.7 227.7h0M508.2 227.2h0M508.9 227.3h0M509.7 226.9h0M510.3 226.9h0M511 226.6h0M511.3 226.7h0M512 226.7h0M512.8 226.1h0M513.3 226.4h0M514 226.3h0M514.8 225.8h0M515.4 226.2h0M516 225.9h0M516.5 225.8h0M517.4 225.4h0M497.4 228.2h0M497.7 228.1h0M498.3 228.4h0M499 228.2h0M499.4 228.5h0M500.1 228.4h0M500.7 228.7h0M501.4 228.9h0M501.9 228.6h0M502.3 228.9h0M502.8 229.1h0M503.4 229.4h0M504.1 229.4h0M504.6 229.2h0M505.3 229.7h0M505.6 229.5h0M506.2 229.5h0M506.8 229.7h0M507.3 229.8h0M507.9 229.7h0M508.3 230h0M509.1 229.5h0M509.7 229.3h0M510.1 229.2h0M510.7 229.4h0M511 229.2h0M511.6 229.3h0M512.4 228.9h0M512.9 228.9h0M513.6 228.7h0M514.1 228.9h0M514.7 228.4h0M514.9 228.1h0M515.7 228.3h0M516.3 228.1h0M516.6 228.4h0M517.4 227.9h0M497.2 230.3h0M499.6 231.1h0M501.8 231.1h0M503.8 231.7h0M506.4 232.2h0M508.3 232.2h0M510.8 231.9h0M512.9 231.2h0M514.9 230.9h0M517.2 230.5h0M507.2 234.7h0" fill="none" stroke="#1c1c1c" stroke-width="1.4" stroke-linecap="round"/>
<rect x="497.0" y="227.5" width="20.6" height="3.4" fill="#f91020"/>
<path d="M537.8 212.5h0M537.9 217.4h0M537.9 219.9h0M531 221h0M533.8 221.7h0M536.4 222h0M539.3 222.1h0M542.1 221.4h0M545.2 221.2h0M527.9 223h0M529.7 223.6h0M531.3 223.6h0M532.7 224.1h0M534.3 224.2h0M535.6 224.4h0M537.3 225h0M538.7 224.7h0M540.2 224.6h0M541.8 224h0M543.5 224.2h0M545 223.9h0M546.6 223h0M547.9 223h0M527.8 225.7h0M528.9 225.8h0M529.4 225.8h0M530.2 225.7h0M531 226.4h0M531.9 226.2h0M532.7 226.3h0M533.4 226.8h0M534.2 226.8h0M534.7 227h0M535.6 227h0M536.6 227.1h0M537.2 227.6h0M538 227.3h0M538.7 227.5h0M539.7 227.1h0M540.4 227.3h0M541.3 226.8h0M541.8 226.6h0M542.5 226.6h0M543.4 226.2h0M544.1 226.5h0M544.9 225.9h0M545.8 226.3h0M546.3 225.8h0M547.4 225.6h0M548 225.3h0M528 228h0M528.5 228.2h0M529 228.4h0M529.3 228.3h0M529.8 228.6h0M530.2 228.2h0M530.7 228.6h0M531 228.6h0M531.3 228.9h0M531.7 228.5h0M532.2 229.1h0M532.5 229.2h0M533.1 229h0M533.5 229.2h0M533.7 229h0M534.2 229.4h0M534.7 229.6h0M535.3 229.3h0M535.7 229.3h0M536.1 229.6h0M536.2 229.5h0M536.8 229.5h0M537 230.1h0M537.6 230.1h0M537.8 229.9h0M538.4 230h0M538.7 229.6h0M539.1 229.6h0M539.6 229.5h0M540.3 229.5h0M540.6 229.3h0M540.8 229.2h0M541.4 229.3h0M541.7 229.5h0M542.3 229.2h0M542.7 228.9h0M542.9 229.2h0M543.6 229.1h0M543.6 228.8h0M544.1 228.6h0M544.5 229h0M545.2 228.9h0M545.5 228.4h0M545.8 228.3h0M546.3 228.2h0M546.6 228.1h0M547.3 228.4h0M547.4 228.4h0M548.2 228h0M528.1 230.8h0M529.6 230.9h0M530.9 231.1h0M532.6 231.2h0M534 231.7h0M535.7 232.1h0M537.2 232.2h0M538.8 232.2h0M540.5 232.3h0M541.7 231.8h0M543.3 231.2h0M545.1 231.3h0M546.6 231h0M548.1 230.3h0M533.8 234h0M536.6 234.6h0M539.6 234.9h0M542.3 234.2h0" fill="none" stroke="#1c1c1c" stroke-width="1.4" stroke-linecap="round"/>
<rect x="527.7" y="227.9" width="20.6" height="3.4" fill="#f91020"/>
<path d="M568.6 217.6h0M567.2 220h0M570.3 219.6h0M566 222h0M568.7 222.6h0M571.8 222.2h0M559 222.9h0M560.1 223.4h0M561 223.7h0M562.1 223.7h0M563.2 223.7h0M564.3 224.3h0M565.3 224.2h0M566.7 224.8h0M567.8 224.9h0M568.6 225.1h0M570 224.8h0M571 224.4h0M572.2 224.2h0M573.3 223.9h0M574.2 223.8h0M575.4 223.7h0M576.6 223.6h0M577.9 223.2h0M578.6 223.2h0M558.7 225.5h0M559.3 225.7h0M559.9 225.9h0M560.4 225.7h0M560.8 225.9h0M561.4 226.1h0M561.7 226.3h0M562.2 226.3h0M562.8 226.1h0M563.6 226.5h0M563.9 226.7h0M564.6 226.9h0M564.9 226.6h0M565.3 227h0M566.1 227.1h0M566.5 227.2h0M566.9 227h0M567.6 227.3h0M568.2 227.5h0M568.7 227.7h0M569 227.2h0M569.4 227.5h0M570.2 227.2h0M570.6 227.3h0M571.3 227.2h0M571.4 226.9h0M572.1 226.7h0M572.6 226.9h0M573.2 226.4h0M573.8 226.3h0M574.3 226.5h0M574.5 226.3h0M575.1 226.4h0M575.5 225.8h0M576.2 226.3h0M576.9 225.7h0M577.1 225.7h0M578 225.8h0M578.1 225.6h0M578.7 225.8h0M558.7 227.9h0M558.9 228.1h0M559.4 228.2h0M559.8 228.3h0M560 228.2h0M560.2 228.4h0M560.4 228.4h0M560.8 228.5h0M561.1 228.6h0M561.6 228.4h0M562 228.4h0M562.1 228.7h0M562.6 228.8h0M562.8 228.8h0M563.1 229.1h0M563.5 229h0M563.8 229.2h0M564.2 229.2h0M564.1 229.2h0M564.6 229.2h0M564.9 229h0M565.4 229.2h0M565.6 229.5h0M565.8 229.2h0M566.4 229.6h0M566.5 229.6h0M566.8 229.7h0M567 229.9h0M567.2 229.6h0M567.7 229.7h0M568.2 229.6h0M568.2 229.7h0M568.6 230h0M568.9 230h0M569.2 230h0M569.5 230.1h0M569.8 229.8h0M570.2 229.7h0M570.5 229.6h0M570.7 229.4h0M571.1 229.3h0M571.6 229.7h0M571.7 229.3h0M571.9 229.5h0M572.3 229.3h0M572.6 229.1h0M573 229.3h0M573.3 228.9h0M573.7 228.8h0M573.8 229.3h0M574.1 228.9h0M574.4 229h0M574.7 228.5h0M575.3 228.4h0M575.5 228.6h0M575.6 228.9h0M576 228.5h0M576.5 228.2h0M576.6 228.7h0M577.1 228.2h0M577.3 228.2h0M577.6 228.3h0M578 228h0M578.3 227.8h0M578.4 228.2h0M578.6 227.9h0M559 230.6h0M559.6 230.4h0M560.3 231h0M560.8 230.6h0M561.7 231.3h0M562.2 231h0M563.1 231.6h0M563.7 231.3h0M564.4 231.7h0M565.1 231.7h0M565.5 232.1h0M566.5 232h0M567.1 232h0M567.8 232.6h0M568.3 232.2h0M569 232.3h0M570 232.4h0M570.3 232.4h0M571.2 232h0M572.1 232.2h0M572.8 231.9h0M573.2 231.6h0M574.1 231.6h0M574.7 231.4h0M575.5 231.3h0M576 231.1h0M576.8 230.7h0M577.4 231h0M578.2 230.5h0M578.9 230.4h0M561.8 233.5h0M564.6 234.1h0M567.5 234.7h0M570.2 234.8h0M573 234.4h0M575.8 233.5h0M568.8 242.2h0" fill="none" stroke="#1c1c1c" stroke-width="1.4" stroke-linecap="round"/>
<rect x="558.5" y="227.9" width="20.6" height="3.4" fill="#f91020"/>
<path d="M599.4 217.3h0M598.1 219.5h0M601 219.7h0M595.5 221.6h0M597.9 222.5h0M600.9 222.4h0M603.6 221.5h0M589.6 222.9h0M590.8 223.5h0M592.1 223.4h0M593.4 223.9h0M594.9 224.2h0M596 224.5h0M597.5 224.6h0M598.9 224.6h0M600.1 224.7h0M601.4 224.7h0M602.7 224.3h0M604.2 224.2h0M605.5 223.8h0M606.9 223.4h0M608.2 223.5h0M609.6 223.2h0M589.6 225.6h0M590.1 225.8h0M590.4 225.9h0M590.8 225.9h0M591.3 225.6h0M591.7 226.1h0M592.2 226.1h0M592.6 226.3h0M593.1 226.4h0M593.5 226.5h0M594.2 226.2h0M594.6 226.5h0M595 226.7h0M595.6 226.8h0M595.8 226.8h0M596.3 226.9h0M596.8 226.7h0M597.2 226.8h0M597.6 227h0M598.2 227h0M598.6 227.2h0M598.9 227.2h0M599.4 227.7h0M599.8 227.2h0M600.4 227.4h0M600.9 227.2h0M601.4 227.2h0M601.8 227h0M602.1 226.9h0M602.8 226.7h0M603.1 226.7h0M603.4 226.7h0M604 226.5h0M604.6 226.5h0M604.8 226.5h0M605.4 226.4h0M605.9 226.1h0M606.5 225.9h0M606.9 226.2h0M607 226.1h0M607.5 226.1h0M608.2 225.7h0M608.6 225.7h0M609 225.3h0M609.3 225.7h0M589.5 228.2h0M590.2 227.9h0M590.4 228.3h0M590.9 228.4h0M591.5 228.2h0M591.9 228.4h0M592.6 228.7h0M593 228.7h0M593.4 228.8h0M594.1 228.8h0M594.3 228.7h0M595 229.4h0M595.7 229.4h0M596.2 229.2h0M596.5 229.5h0M596.8 229.4h0M597.7 229.4h0M598 229.9h0M598.7 229.7h0M599.1 230.1h0M599.4 229.9h0M600.2 229.8h0M600.4 229.9h0M601.2 229.9h0M601.7 229.8h0M602.2 229.8h0M602.4 229.3h0M603 229.5h0M603.7 229.4h0M603.8 228.9h0M604.5 229h0M604.8 228.7h0M605.7 228.7h0M605.9 228.5h0M606.4 228.4h0M607.2 228.8h0M607.4 228.6h0M607.9 228.1h0M608.3 228.3h0M609 227.8h0M609.6 228h0M589.6 230.5h0M591 230.6h0M592.3 230.8h0M593.6 231.4h0M594.9 231.8h0M596.2 231.9h0M597.6 232h0M598.8 232.3h0M600.1 232.3h0M601.4 231.8h0M602.8 231.6h0M604.3 231.4h0M605.6 231.2h0M606.6 231.3h0M608.3 230.6h0M609.5 230.6h0M593.9 233.9h0M596.7 234.2h0M599.7 234.8h0M602.3 234.4h0M605.1 233.7h0M599.4 237.2h0M599.6 240.1h0" fill="none" stroke="#1c1c1c" stroke-width="1.4" stroke-linecap="round"/>
<rect x="589.2" y="227.7" width="20.6" height="3.4" fill="#f91020"/>
<path d="M635,188.5 V270.5 H758.5" stroke="#111" stroke-width="1.4" fill="none" stroke-linejoin="miter"/>
<path d="M631.2,189.20000000000002 H635" stroke="#111" stroke-width="1.1"/>
<text x="631.2" y="191.8" font-size="8.6" text-anchor="end" fill="#222" stroke="#222" stroke-width="0.15">6</text>
<path d="M631.2,216.3 H635" stroke="#111" stroke-width="1.1"/>
<text x="631.2" y="218.9" font-size="8.6" text-anchor="end" fill="#222" stroke="#222" stroke-width="0.15">4</text>
<path d="M631.2,243.5 H635" stroke="#111" stroke-width="1.1"/>
<text x="631.2" y="246.1" font-size="8.6" text-anchor="end" fill="#222" stroke="#222" stroke-width="0.15">2</text>
<path d="M631.2,270.6 H635" stroke="#111" stroke-width="1.1"/>
<text x="631.2" y="273.2" font-size="8.6" text-anchor="end" fill="#222" stroke="#222" stroke-width="0.15">0</text>
<path d="M650.4,270.3 v3.2" stroke="#111" stroke-width="1.1"/>
<text x="650.6999999999999" y="282.3" font-size="9.2" text-anchor="middle" fill="#222" stroke="#222" stroke-width="0.15" letter-spacing="0.7">Q1</text>
<path d="M681.5,270.3 v3.2" stroke="#111" stroke-width="1.1"/>
<text x="681.8" y="282.3" font-size="9.2" text-anchor="middle" fill="#222" stroke="#222" stroke-width="0.15" letter-spacing="0.7">Q2</text>
<path d="M712,270.3 v3.2" stroke="#111" stroke-width="1.1"/>
<text x="712.3" y="282.3" font-size="9.2" text-anchor="middle" fill="#222" stroke="#222" stroke-width="0.15" letter-spacing="0.7">Q3</text>
<path d="M742.4,270.3 v3.2" stroke="#111" stroke-width="1.1"/>
<text x="742.6999999999999" y="282.3" font-size="9.2" text-anchor="middle" fill="#222" stroke="#222" stroke-width="0.15" letter-spacing="0.7">Q4</text>
<path d="M650.5 217.8h0M650.4 226.1h0M650.2 229.1h0M647.5 231.3h0M650.6 231.7h0M653.4 231.5h0M649.1 237.5h0M651.8 237.5h0M647.4 239.8h0M650.5 240.9h0M653.2 240h0M646.2 242.4h0M649.1 243.2h0M651.9 243.3h0M654.9 242.4h0M640.6 244.1h0M641.6 244.7h0M643.1 245.1h0M644.6 245.3h0M645.6 245.4h0M647.1 245.8h0M648.2 245.9h0M649.6 246.5h0M651 246.4h0M652.2 246.1h0M653.6 245.5h0M654.9 245.7h0M656.4 245.3h0M657.9 244.9h0M658.9 244.9h0M660.3 244.2h0M640.3 247.3h0M641.9 247.4h0M643.1 248h0M644.6 248.1h0M646.3 248.3h0M647.7 248.9h0M648.8 249.4h0M650.5 249.6h0M651.9 248.8h0M653.3 248.8h0M654.8 248.5h0M656 248.2h0M657.4 247.9h0M658.8 247.7h0M660.5 247h0M640.5 249.8h0M641.1 250h0M642.1 250.5h0M643 250.7h0M643.6 250.7h0M644.2 250.8h0M645.1 251.2h0M646.1 251.4h0M646.6 251.4h0M647.8 251.9h0M648.3 252h0M649.3 252.3h0M650.2 252.2h0M650.7 252.5h0M651.7 252.2h0M652.5 251.7h0M653.3 251.8h0M654.2 251.6h0M654.8 251.5h0M655.6 250.9h0M656.4 251h0M657.3 250.9h0M658 250.5h0M658.8 250.4h0M659.5 250.4h0M660.3 250.1h0M640.5 253.3h0M641.7 253.6h0M643.1 253.9h0M644.5 254.2h0M646.1 254.5h0M647.6 254.6h0M649 254.8h0M650.5 255.1h0M651.8 255.1h0M653.3 254.6h0M654.9 254.6h0M656 253.8h0M657.6 253.7h0M658.9 253.1h0M660.2 253.2h0M648.8 257.5h0M652 258h0" fill="none" stroke="#1c1c1c" stroke-width="1.4" stroke-linecap="round"/>
<rect x="640.1" y="246.5" width="20.6" height="3.6" fill="#f91020"/>
<path d="M681.6 206h0M677 222.6h0M680.1 223.2h0M683 223.1h0M685.9 222.5h0M677.1 225.5h0M680.1 226h0M683.1 226h0M685.8 225h0M677.2 228.1h0M679.9 228.5h0M683.1 228.6h0M685.9 228.4h0M677.2 231.1h0M680 232h0M682.8 231.6h0M685.9 230.9h0M677.2 233.9h0M680.1 234.5h0M683 234.7h0M686 234h0M674.3 236.4h0M677 236.9h0M680 237.8h0M683.1 237.6h0M686 237h0M688.9 236.3h0M675.8 239.5h0M678.4 239.9h0M681.3 240.6h0M684.2 239.8h0M687.4 239.6h0M671.6 241.6h0M673.9 241.8h0M676.3 242.6h0M678.9 243.2h0M681.4 243.6h0M683.9 243.2h0M686.4 242.4h0M689.2 241.9h0M691.5 241.3h0M671.4 244.4h0M673 244.7h0M674.3 245h0M675.4 245h0M676.9 245.6h0M678.3 246h0M679.5 245.8h0M681 246.2h0M682.3 246.4h0M683.3 246.2h0M685 245.8h0M686.3 245.7h0M687.5 245.1h0M688.9 244.9h0M690.3 244.7h0M691.5 244h0M671.6 247.4h0M672.4 247.5h0M673.4 247.3h0M673.9 247.9h0M674.9 247.9h0M675.5 248.4h0M676.6 248.5h0M677.4 248.4h0M678.2 248.4h0M678.9 248.7h0M679.9 249.1h0M680.5 249.4h0M681.3 249.7h0M682.2 249.4h0M683.2 249.3h0M684 248.6h0M684.9 248.6h0M685.5 248.3h0M686.4 248.1h0M687.2 248h0M688.3 247.7h0M688.9 248h0M689.8 247.7h0M690.5 247.3h0M691.3 247h0M671.3 249.9h0M672.3 250.1h0M673.3 250.5h0M673.9 250.4h0M675 250.7h0M675.5 250.9h0M676.6 251.2h0M677.4 251.4h0M678.3 251.3h0M679.1 252h0M680 251.7h0M680.5 252h0M681.5 252.3h0M682.5 252h0M683 252.1h0M684.2 251.8h0M684.6 251.3h0M685.7 251.2h0M686.6 251.3h0M687.3 250.7h0M688.2 251.1h0M688.9 250.8h0M689.8 250.5h0M690.5 250.4h0M691.4 249.9h0M672.9 253.4h0M675.6 254h0M678.6 254.7h0M681.6 255h0M684.6 254.8h0M687.5 253.7h0M690.1 253.5h0M679.9 257.7h0M683 258h0" fill="none" stroke="#1c1c1c" stroke-width="1.4" stroke-linecap="round"/>
<rect x="671.2" y="244.4" width="20.6" height="3.6" fill="#f91020"/>
<path d="M710.5 214.4h0M713.4 214h0M712.2 217.6h0M710.6 223.2h0M713.3 223.1h0M710.5 226.1h0M713.6 225.8h0M709.3 228.4h0M712.1 229h0M715 228.6h0M706.4 230.6h0M709.2 231.3h0M712.1 232.3h0M715 231.1h0M717.7 231h0M701.9 232.8h0M704.7 233.2h0M707.9 234.1h0M710.5 234.9h0M713.3 234.6h0M716.1 233.9h0M719.3 233.4h0M722.1 232.4h0M707.7 237h0M710.6 237.5h0M713.4 237.2h0M716.2 236.6h0M703.2 238.9h0M706 239.2h0M709.2 239.8h0M712.1 240.6h0M714.9 239.8h0M717.9 239.7h0M720.7 238.7h0M702.1 241.3h0M703.4 241.9h0M704.8 241.9h0M706.2 242.4h0M707.3 242.5h0M708.7 242.8h0M710 243.2h0M711.1 243.4h0M712.5 243.3h0M713.8 243.4h0M715.4 242.9h0M716.6 242.8h0M718 242.6h0M719.3 241.9h0M720.5 241.5h0M722 241.2h0M702 244.3h0M703.2 244.4h0M704 245h0M705.1 245.2h0M706.5 245.5h0M707.4 245.3h0M708.8 246h0M709.7 245.8h0M711 246h0M711.9 246.3h0M713.2 246.5h0M714.1 246h0M715.1 245.6h0M716.5 245.6h0M717.6 245.5h0M718.6 244.9h0M719.7 244.5h0M721 244.3h0M722 244.2h0M702.2 247h0M702.4 247.2h0M703.1 247.7h0M703.7 247.4h0M704.2 247.4h0M704.7 248h0M705.3 248.1h0M705.7 248.3h0M706.5 248.4h0M707.1 248.6h0M707.4 248.3h0M708.3 248.6h0M708.7 248.9h0M709.4 248.9h0M709.7 248.7h0M710.4 248.9h0M710.8 249.1h0M711.5 249h0M712.2 249.3h0M712.7 249.1h0M712.9 249.1h0M713.5 248.9h0M714.1 248.7h0M714.9 248.8h0M715.5 248.7h0M715.8 248.3h0M716.5 248.2h0M717.2 248.2h0M717.7 248.3h0M718.1 248h0M718.5 248.2h0M719.2 247.6h0M719.9 247.5h0M720.5 247.6h0M720.8 247.4h0M721.3 247.1h0M722.2 247h0M701.9 250.4h0M702.4 250.1h0M703.2 250h0M703.5 250.6h0M704.2 250.8h0M704.5 250.7h0M705 250.8h0M705.8 250.7h0M706.1 250.8h0M706.7 251.4h0M707.3 251h0M707.6 251.6h0M708.5 251.8h0M708.7 251.4h0M709.3 251.5h0M710 251.7h0M710.3 252h0M710.9 252.3h0M711.5 252.2h0M711.9 252h0M712.7 252h0M713.1 252.3h0M713.6 252h0M714.3 251.7h0M714.5 251.9h0M715 251.5h0M715.6 251.7h0M716.3 251.5h0M716.7 251.3h0M717.1 251.4h0M717.9 251.3h0M718.2 250.8h0M718.9 250.8h0M719.2 250.6h0M719.8 250.4h0M720.5 250.6h0M721.1 250.3h0M721.6 250.1h0M721.8 249.9h0M702.1 252.8h0M703.3 253.4h0M704.3 253.5h0M705.3 253.9h0M706.4 254.2h0M707.6 254.2h0M708.6 254.3h0M709.9 254.9h0M710.8 255.2h0M712 255.1h0M712.9 254.7h0M714.3 254.9h0M715.2 254.3h0M716.4 254.2h0M717.7 254.2h0M718.6 253.6h0M719.8 253.3h0M720.9 253.5h0M721.9 253h0M709.2 257.6h0M712.2 258.3h0M714.9 257.6h0" fill="none" stroke="#1c1c1c" stroke-width="1.4" stroke-linecap="round"/>
<rect x="701.7" y="245.2" width="20.6" height="3.6" fill="#f91020"/>
<path d="M740.8 205.6h0M743.9 205.5h0M742.4 220.3h0M741.1 226.1h0M743.8 225.9h0M733.8 229.9h0M736.6 230.7h0M739.4 231.3h0M742.4 231.9h0M745.2 231.5h0M748.4 230.5h0M751.2 230.1h0M742.5 234.8h0M735.1 236.3h0M737.9 237h0M740.8 237.2h0M743.7 237.3h0M746.7 236.6h0M749.7 236.5h0M732.3 238.8h0M735.3 238.9h0M738 239.9h0M741.1 240.5h0M743.7 240.4h0M746.6 239.9h0M749.6 239.3h0M752.4 238.4h0M732.4 241.5h0M735.1 242.1h0M738.3 242.9h0M740.8 243.3h0M743.7 243.1h0M746.6 242.4h0M749.7 241.8h0M752.3 241.4h0M732.4 244.2h0M733.9 244.9h0M735.1 244.7h0M736.8 245.2h0M738.1 245.3h0M739.6 245.9h0M741 246.1h0M742.5 246.6h0M743.8 246.2h0M745.4 246h0M746.6 245.7h0M748.3 245h0M749.3 244.9h0M751 244.6h0M752.6 244.1h0M732.6 246.9h0M733.1 247.4h0M734.2 247.5h0M735.3 248h0M736.2 247.8h0M737.1 248.4h0M738.1 248.5h0M738.9 248.9h0M739.9 248.6h0M740.5 248.7h0M741.5 249.2h0M742.3 249.6h0M743.2 249.3h0M744.1 248.8h0M745.1 248.7h0M746.2 248.5h0M747 248.6h0M748 248.2h0M748.9 248h0M749.8 247.9h0M750.4 247.7h0M751.5 247.6h0M752.5 247.1h0M732.3 250.3h0M732.9 250.3h0M733.3 250.4h0M733.9 250.4h0M734.4 250.8h0M735.1 250.9h0M735.5 250.6h0M736 250.8h0M736.4 251.2h0M737 251.1h0M737.7 251.1h0M738.1 251.4h0M738.7 251.4h0M739.1 251.4h0M739.6 251.6h0M740.1 251.9h0M740.6 252h0M741.3 251.8h0M741.6 252.2h0M742.2 252.4h0M742.7 252h0M743.1 252.3h0M743.8 252.3h0M744.1 251.7h0M744.6 251.8h0M745.4 251.6h0M745.7 251.6h0M746.1 251.3h0M746.6 251.4h0M747.2 251.3h0M747.8 251h0M748.2 250.8h0M748.7 250.9h0M749.3 250.7h0M750 250.7h0M750.2 250.8h0M750.9 250.7h0M751.2 250.1h0M751.7 250.3h0M752.3 250.3h0M732.3 253.1h0M734.1 253.5h0M735.8 253.5h0M737.7 254.2h0M739.8 254.3h0M741.5 254.9h0M743.2 255.2h0M745.1 254.4h0M747 254h0M748.9 253.5h0M750.7 253.5h0M752.4 253h0M733.8 256.2h0M736.7 256.6h0M739.7 257.7h0M742.4 257.9h0M745.3 257.7h0M748.2 256.8h0M751 256.4h0" fill="none" stroke="#1c1c1c" stroke-width="1.4" stroke-linecap="round"/>
<rect x="732.1" y="246.0" width="20.6" height="3.6" fill="#f91020"/>
<path d="M370.2,258.7 V276.6 H388.2" stroke="#0a0a0a" stroke-width="2.3" fill="none" stroke-linecap="butt"/>
<text x="372.8" y="271.2" font-size="10" fill="#111" stroke="#111" stroke-width="0.45" textLength="28" lengthAdjust="spacingAndGlyphs">50 µm</text>
</svg>
</body></html>
